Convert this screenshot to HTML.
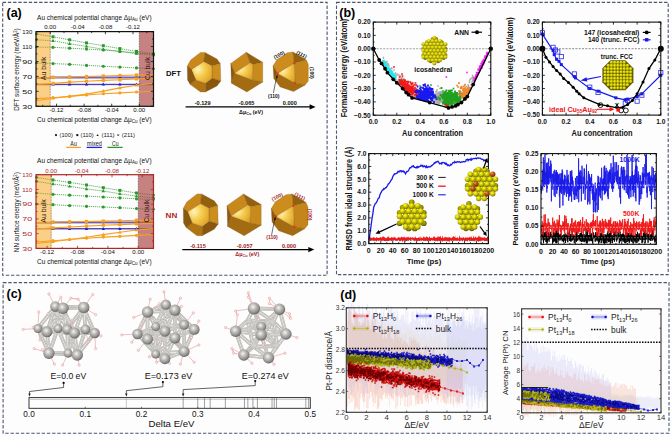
<!DOCTYPE html>
<html><head><meta charset="utf-8"><style>
html,body{margin:0;padding:0;background:#fff;width:672px;height:437px;overflow:hidden}
svg{display:block}
text{font-family:"Liberation Sans",sans-serif}
</style></head><body>
<svg width="672" height="437" viewBox="0 0 672 437">
<defs>
<radialGradient id="gy" cx="0.4" cy="0.35" r="0.72"><stop offset="0" stop-color="#fafa48"/><stop offset="0.35" stop-color="#dcd800"/><stop offset="0.75" stop-color="#a09800"/><stop offset="1" stop-color="#565000"/></radialGradient><radialGradient id="gyd" cx="0.4" cy="0.35" r="0.7"><stop offset="0" stop-color="#c8c000"/><stop offset="0.6" stop-color="#8a8400"/><stop offset="1" stop-color="#4e4800"/></radialGradient>
<radialGradient id="go" cx="0.35" cy="0.3" r="0.75"><stop offset="0" stop-color="#f0a060"/><stop offset="0.4" stop-color="#c85010"/><stop offset="1" stop-color="#602800"/></radialGradient>
<radialGradient id="gg" cx="0.42" cy="0.38" r="0.68"><stop offset="0" stop-color="#f6f6f6"/><stop offset="0.3" stop-color="#c8c6c3"/><stop offset="0.75" stop-color="#8c8a87"/><stop offset="1" stop-color="#4e4c4a"/></radialGradient>
<linearGradient id="gc" x1="0.2" y1="0.1" x2="0.8" y2="0.9"><stop offset="0" stop-color="#fff3b8"/><stop offset="0.5" stop-color="#f6cf60"/><stop offset="1" stop-color="#d9a025"/></linearGradient>
<radialGradient id="gcr" cx="0.3" cy="0.35" r="0.9"><stop offset="0" stop-color="#fff4b8"/><stop offset="0.4" stop-color="#f6cc50"/><stop offset="1" stop-color="#d8981c"/></radialGradient>
<radialGradient id="gys" cx="0.4" cy="0.35" r="0.75"><stop offset="0" stop-color="#f4f030"/><stop offset="0.45" stop-color="#cfc800"/><stop offset="0.85" stop-color="#8a8200"/><stop offset="1" stop-color="#4e4800"/></radialGradient>
</defs>
<rect width="672" height="437" fill="#fdfdfd"/>
<rect x="2.7" y="2.4" width="324.40000000000003" height="272.90000000000003" fill="none" stroke="#4a5672" stroke-width="1.1" stroke-dasharray="3.4 1.8"/><rect x="336.5" y="2.4" width="331.70000000000005" height="272.20000000000005" fill="none" stroke="#4a5672" stroke-width="1.1" stroke-dasharray="3.4 1.8"/><rect x="3.1" y="282.6" width="665.9" height="150.59999999999997" fill="none" stroke="#4a5672" stroke-width="1.1" stroke-dasharray="3.4 1.8"/><text x="6.5" y="17" font-size="12.5" text-anchor="start" fill="#000" font-weight="bold" >(a)</text><text x="339.3" y="16.8" font-size="12.5" text-anchor="start" fill="#000" font-weight="bold" >(b)</text><text x="6.5" y="297.5" font-size="12.5" text-anchor="start" fill="#000" font-weight="bold" >(c)</text><text x="340.3" y="298.6" font-size="12.5" text-anchor="start" fill="#000" font-weight="bold" >(d)</text><rect x="36.00" y="31.60" width="14.20" height="74.70" fill="#fccf86" stroke="none" stroke-width="1" /><rect x="139.30" y="31.60" width="14.20" height="74.70" fill="#c68181" stroke="none" stroke-width="1" /><line x1="50.20" y1="31.60" x2="50.20" y2="106.30" stroke="#6a5020" stroke-width="0.7" stroke-dasharray="0.8 0.8"/><line x1="139.30" y1="31.60" x2="139.30" y2="106.30" stroke="#5a3030" stroke-width="0.7" stroke-dasharray="0.8 0.8"/><polyline points="36.00,33.90 53.00,36.80" stroke="#6a8a20" stroke-width="0.7" fill="none" stroke-dasharray="1 0.8"/><polyline points="53.00,36.80 69.60,39.80 86.50,42.90 103.30,45.70 119.90,48.60 136.50,51.40" stroke="#2f9a2f" stroke-width="0.75" fill="none" stroke-dasharray="1.2 0.8"/><polyline points="136.50,51.40 153.50,53.50" stroke="#705a30" stroke-width="0.7" fill="none" stroke-dasharray="1 0.8"/><rect x="51.50" y="35.30" width="3.00" height="3.00" fill="#2a9a2a" stroke="none" stroke-width="1" /><rect x="68.10" y="38.30" width="3.00" height="3.00" fill="#2a9a2a" stroke="none" stroke-width="1" /><rect x="85.00" y="41.40" width="3.00" height="3.00" fill="#2a9a2a" stroke="none" stroke-width="1" /><rect x="101.80" y="44.20" width="3.00" height="3.00" fill="#2a9a2a" stroke="none" stroke-width="1" /><rect x="118.40" y="47.10" width="3.00" height="3.00" fill="#2a9a2a" stroke="none" stroke-width="1" /><rect x="135.00" y="49.90" width="3.00" height="3.00" fill="#2a9a2a" stroke="none" stroke-width="1" /><circle cx="36.50" cy="33.90" r="1.30" fill="#2a8a2a" /><circle cx="153.50" cy="53.50" r="1.30" fill="#2a8a2a" /><polyline points="36.00,39.80 53.00,40.70" stroke="#6a8a20" stroke-width="0.7" fill="none" stroke-dasharray="1 0.8"/><polyline points="53.00,40.70 69.60,43.75 86.50,46.40 103.30,49.30 119.90,51.40 136.50,53.60" stroke="#2f9a2f" stroke-width="0.75" fill="none" stroke-dasharray="1.2 0.8"/><polyline points="136.50,53.60 153.50,55.20" stroke="#705a30" stroke-width="0.7" fill="none" stroke-dasharray="1 0.8"/><polygon points="53.00,38.80 51.20,41.90 54.80,41.90" fill="#2a9a2a" /><polygon points="69.60,41.85 67.80,44.95 71.40,44.95" fill="#2a9a2a" /><polygon points="86.50,44.50 84.70,47.60 88.30,47.60" fill="#2a9a2a" /><polygon points="103.30,47.40 101.50,50.50 105.10,50.50" fill="#2a9a2a" /><polygon points="119.90,49.50 118.10,52.60 121.70,52.60" fill="#2a9a2a" /><polygon points="136.50,51.70 134.70,54.80 138.30,54.80" fill="#2a9a2a" /><circle cx="36.50" cy="39.80" r="1.30" fill="#2a8a2a" /><circle cx="153.50" cy="55.20" r="1.30" fill="#2a8a2a" /><polyline points="36.00,47.00 53.00,47.30" stroke="#6a8a20" stroke-width="0.7" fill="none" stroke-dasharray="1 0.8"/><polyline points="53.00,47.30 69.60,48.20 86.50,49.10 103.30,50.00 119.90,51.40 136.50,52.90" stroke="#2f9a2f" stroke-width="0.75" fill="none" stroke-dasharray="1.2 0.8"/><polyline points="136.50,52.90 153.50,54.20" stroke="#705a30" stroke-width="0.7" fill="none" stroke-dasharray="1 0.8"/><circle cx="53.00" cy="47.30" r="1.60" fill="#2a9a2a" /><circle cx="69.60" cy="48.20" r="1.60" fill="#2a9a2a" /><circle cx="86.50" cy="49.10" r="1.60" fill="#2a9a2a" /><circle cx="103.30" cy="50.00" r="1.60" fill="#2a9a2a" /><circle cx="119.90" cy="51.40" r="1.60" fill="#2a9a2a" /><circle cx="136.50" cy="52.90" r="1.60" fill="#2a9a2a" /><circle cx="36.50" cy="47.00" r="1.30" fill="#2a8a2a" /><circle cx="153.50" cy="54.20" r="1.30" fill="#2a8a2a" /><polyline points="36.00,63.00 53.00,63.60" stroke="#6a8a20" stroke-width="0.7" fill="none" stroke-dasharray="1 0.8"/><polyline points="53.00,63.60 69.60,64.30 86.50,65.40 103.30,66.25 119.90,67.10 136.50,67.90" stroke="#2f9a2f" stroke-width="0.75" fill="none" stroke-dasharray="1.2 0.8"/><polyline points="136.50,67.90 153.50,68.70" stroke="#705a30" stroke-width="0.7" fill="none" stroke-dasharray="1 0.8"/><circle cx="53.00" cy="63.60" r="1.60" fill="#2a9a2a" /><circle cx="69.60" cy="64.30" r="1.60" fill="#2a9a2a" /><circle cx="86.50" cy="65.40" r="1.60" fill="#2a9a2a" /><circle cx="103.30" cy="66.25" r="1.60" fill="#2a9a2a" /><circle cx="119.90" cy="67.10" r="1.60" fill="#2a9a2a" /><circle cx="136.50" cy="67.90" r="1.60" fill="#2a9a2a" /><circle cx="36.50" cy="63.00" r="1.30" fill="#2a8a2a" /><circle cx="153.50" cy="68.70" r="1.30" fill="#2a8a2a" /><line x1="36.00" y1="78.00" x2="153.50" y2="78.00" stroke="#7a3a5a" stroke-width="0.8" /><line x1="36.00" y1="84.70" x2="153.50" y2="84.70" stroke="#8a4a30" stroke-width="0.8" /><line x1="50.20" y1="77.10" x2="140.30" y2="77.10" stroke="#2020e0" stroke-width="0.9" /><circle cx="53.00" cy="77.10" r="1.40" fill="#1a1ae8" /><circle cx="69.60" cy="77.10" r="1.40" fill="#1a1ae8" /><circle cx="86.50" cy="77.10" r="1.40" fill="#1a1ae8" /><circle cx="103.30" cy="77.10" r="1.40" fill="#1a1ae8" /><circle cx="119.90" cy="77.10" r="1.40" fill="#1a1ae8" /><circle cx="136.50" cy="77.10" r="1.40" fill="#1a1ae8" /><line x1="50.20" y1="84.30" x2="140.30" y2="84.30" stroke="#2020e0" stroke-width="0.9" /><polygon points="53.00,82.50 51.30,85.50 54.70,85.50" fill="#1a1ae8" /><polygon points="69.60,82.50 67.90,85.50 71.30,85.50" fill="#1a1ae8" /><polygon points="86.50,82.50 84.80,85.50 88.20,85.50" fill="#1a1ae8" /><polygon points="103.30,82.50 101.60,85.50 105.00,85.50" fill="#1a1ae8" /><polygon points="119.90,82.50 118.20,85.50 121.60,85.50" fill="#1a1ae8" /><polygon points="136.50,82.50 134.80,85.50 138.20,85.50" fill="#1a1ae8" /><polyline points="36.00,77.90 53.00,77.50 69.60,77.00 86.50,76.50 103.30,76.00 119.90,75.50 136.50,75.00 153.50,74.60" stroke="#f6a020" stroke-width="1.1" fill="none" /><rect x="51.40" y="75.90" width="3.20" height="3.20" fill="#f7a21c" stroke="none" stroke-width="1" /><rect x="68.00" y="75.40" width="3.20" height="3.20" fill="#f7a21c" stroke="none" stroke-width="1" /><rect x="84.90" y="74.90" width="3.20" height="3.20" fill="#f7a21c" stroke="none" stroke-width="1" /><rect x="101.70" y="74.40" width="3.20" height="3.20" fill="#f7a21c" stroke="none" stroke-width="1" /><rect x="118.30" y="73.90" width="3.20" height="3.20" fill="#f7a21c" stroke="none" stroke-width="1" /><rect x="134.90" y="73.40" width="3.20" height="3.20" fill="#f7a21c" stroke="none" stroke-width="1" /><polyline points="36.00,84.30 53.00,83.40 69.60,82.10 86.50,81.25 103.30,80.40 119.90,79.80 136.50,78.90 153.50,78.30" stroke="#f6a020" stroke-width="1.1" fill="none" /><rect x="51.40" y="81.80" width="3.20" height="3.20" fill="#f7a21c" stroke="none" stroke-width="1" /><rect x="68.00" y="80.50" width="3.20" height="3.20" fill="#f7a21c" stroke="none" stroke-width="1" /><rect x="84.90" y="79.65" width="3.20" height="3.20" fill="#f7a21c" stroke="none" stroke-width="1" /><rect x="101.70" y="78.80" width="3.20" height="3.20" fill="#f7a21c" stroke="none" stroke-width="1" /><rect x="118.30" y="78.20" width="3.20" height="3.20" fill="#f7a21c" stroke="none" stroke-width="1" /><rect x="134.90" y="77.30" width="3.20" height="3.20" fill="#f7a21c" stroke="none" stroke-width="1" /><polyline points="36.00,100.70 53.00,98.20 69.60,96.40 86.50,94.10 103.30,91.10 119.90,87.90 136.50,85.20 153.50,83.30" stroke="#f6a020" stroke-width="1.1" fill="none" /><polygon points="53.00,96.20 51.10,99.50 54.90,99.50" fill="#f7a21c" /><polygon points="69.60,94.40 67.70,97.70 71.50,97.70" fill="#f7a21c" /><polygon points="86.50,92.10 84.60,95.40 88.40,95.40" fill="#f7a21c" /><polygon points="103.30,89.10 101.40,92.40 105.20,92.40" fill="#f7a21c" /><polygon points="119.90,85.90 118.00,89.20 121.80,89.20" fill="#f7a21c" /><polygon points="136.50,83.20 134.60,86.50 138.40,86.50" fill="#f7a21c" /><polyline points="36.00,98.60 53.00,97.70 69.60,96.40 86.50,95.00 103.30,93.75 119.90,92.90 136.50,92.00 153.50,91.30" stroke="#f6a020" stroke-width="1.1" fill="none" /><circle cx="53.00" cy="97.70" r="1.60" fill="#f7a21c" /><circle cx="69.60" cy="96.40" r="1.60" fill="#f7a21c" /><circle cx="86.50" cy="95.00" r="1.60" fill="#f7a21c" /><circle cx="103.30" cy="93.75" r="1.60" fill="#f7a21c" /><circle cx="119.90" cy="92.90" r="1.60" fill="#f7a21c" /><circle cx="136.50" cy="92.00" r="1.60" fill="#f7a21c" /><text x="45.8" y="68.45" font-size="7.4" text-anchor="middle" fill="#2a2010" transform="rotate(-90 45.8 68.45)" textLength="23.4" lengthAdjust="spacingAndGlyphs" >Au bulk</text><text x="149.70000000000002" y="68.45" font-size="7.4" text-anchor="middle" fill="#2a1010" transform="rotate(-90 149.70000000000002 68.45)" textLength="23.0" lengthAdjust="spacingAndGlyphs" >Cu bulk</text><rect x="36.00" y="31.60" width="117.50" height="74.70" fill="none" stroke="#111" stroke-width="1.2" /><line x1="36.00" y1="106.30" x2="38.60" y2="106.30" stroke="#111" stroke-width="0.8" /><line x1="153.50" y1="106.30" x2="150.90" y2="106.30" stroke="#111" stroke-width="0.8" /><text x="32.2" y="108.49999999999999" font-size="6.1" text-anchor="end" fill="#111" textLength="9.9" lengthAdjust="spacingAndGlyphs" >30</text><line x1="36.00" y1="98.83" x2="37.50" y2="98.83" stroke="#111" stroke-width="0.8" /><line x1="153.50" y1="98.83" x2="152.00" y2="98.83" stroke="#111" stroke-width="0.8" /><line x1="36.00" y1="91.36" x2="38.60" y2="91.36" stroke="#111" stroke-width="0.8" /><line x1="153.50" y1="91.36" x2="150.90" y2="91.36" stroke="#111" stroke-width="0.8" /><text x="32.2" y="93.55999999999999" font-size="6.1" text-anchor="end" fill="#111" textLength="9.9" lengthAdjust="spacingAndGlyphs" >50</text><line x1="36.00" y1="83.89" x2="37.50" y2="83.89" stroke="#111" stroke-width="0.8" /><line x1="153.50" y1="83.89" x2="152.00" y2="83.89" stroke="#111" stroke-width="0.8" /><line x1="36.00" y1="76.42" x2="38.60" y2="76.42" stroke="#111" stroke-width="0.8" /><line x1="153.50" y1="76.42" x2="150.90" y2="76.42" stroke="#111" stroke-width="0.8" /><text x="32.2" y="78.61999999999999" font-size="6.1" text-anchor="end" fill="#111" textLength="9.9" lengthAdjust="spacingAndGlyphs" >70</text><line x1="36.00" y1="68.95" x2="37.50" y2="68.95" stroke="#111" stroke-width="0.8" /><line x1="153.50" y1="68.95" x2="152.00" y2="68.95" stroke="#111" stroke-width="0.8" /><line x1="36.00" y1="61.48" x2="38.60" y2="61.48" stroke="#111" stroke-width="0.8" /><line x1="153.50" y1="61.48" x2="150.90" y2="61.48" stroke="#111" stroke-width="0.8" /><text x="32.2" y="63.68" font-size="6.1" text-anchor="end" fill="#111" textLength="9.9" lengthAdjust="spacingAndGlyphs" >90</text><line x1="36.00" y1="54.01" x2="37.50" y2="54.01" stroke="#111" stroke-width="0.8" /><line x1="153.50" y1="54.01" x2="152.00" y2="54.01" stroke="#111" stroke-width="0.8" /><line x1="36.00" y1="46.54" x2="38.60" y2="46.54" stroke="#111" stroke-width="0.8" /><line x1="153.50" y1="46.54" x2="150.90" y2="46.54" stroke="#111" stroke-width="0.8" /><text x="32.2" y="48.74" font-size="6.1" text-anchor="end" fill="#111" textLength="9.9" lengthAdjust="spacingAndGlyphs" >110</text><line x1="36.00" y1="39.07" x2="37.50" y2="39.07" stroke="#111" stroke-width="0.8" /><line x1="153.50" y1="39.07" x2="152.00" y2="39.07" stroke="#111" stroke-width="0.8" /><line x1="36.00" y1="31.60" x2="38.60" y2="31.60" stroke="#111" stroke-width="0.8" /><line x1="153.50" y1="31.60" x2="150.90" y2="31.60" stroke="#111" stroke-width="0.8" /><text x="32.2" y="33.800000000000004" font-size="6.1" text-anchor="end" fill="#111" textLength="9.9" lengthAdjust="spacingAndGlyphs" >130</text><line x1="50.20" y1="31.60" x2="50.20" y2="34.20" stroke="#111" stroke-width="0.8" /><text x="50.2" y="29.400000000000002" font-size="6.1" text-anchor="middle" fill="#111" >0.00</text><line x1="64.00" y1="31.60" x2="64.00" y2="33.10" stroke="#111" stroke-width="0.8" /><line x1="77.80" y1="31.60" x2="77.80" y2="34.20" stroke="#111" stroke-width="0.8" /><text x="77.80000000000001" y="29.400000000000002" font-size="6.1" text-anchor="middle" fill="#111" >-0.04</text><line x1="91.60" y1="31.60" x2="91.60" y2="33.10" stroke="#111" stroke-width="0.8" /><line x1="105.40" y1="31.60" x2="105.40" y2="34.20" stroke="#111" stroke-width="0.8" /><text x="105.4" y="29.400000000000002" font-size="6.1" text-anchor="middle" fill="#111" >-0.08</text><line x1="119.20" y1="31.60" x2="119.20" y2="33.10" stroke="#111" stroke-width="0.8" /><line x1="133.00" y1="31.60" x2="133.00" y2="34.20" stroke="#111" stroke-width="0.8" /><text x="133.0" y="29.400000000000002" font-size="6.1" text-anchor="middle" fill="#111" >-0.12</text><line x1="146.80" y1="31.60" x2="146.80" y2="33.10" stroke="#111" stroke-width="0.8" /><line x1="139.30" y1="106.30" x2="139.30" y2="103.70" stroke="#111" stroke-width="0.8" /><text x="139.3" y="111.8" font-size="6.1" text-anchor="middle" fill="#111" >0.00</text><line x1="125.50" y1="106.30" x2="125.50" y2="104.80" stroke="#111" stroke-width="0.8" /><line x1="111.70" y1="106.30" x2="111.70" y2="103.70" stroke="#111" stroke-width="0.8" /><text x="111.70000000000002" y="111.8" font-size="6.1" text-anchor="middle" fill="#111" >-0.04</text><line x1="97.90" y1="106.30" x2="97.90" y2="104.80" stroke="#111" stroke-width="0.8" /><line x1="84.10" y1="106.30" x2="84.10" y2="103.70" stroke="#111" stroke-width="0.8" /><text x="84.10000000000001" y="111.8" font-size="6.1" text-anchor="middle" fill="#111" >-0.08</text><line x1="70.30" y1="106.30" x2="70.30" y2="104.80" stroke="#111" stroke-width="0.8" /><line x1="56.50" y1="106.30" x2="56.50" y2="103.70" stroke="#111" stroke-width="0.8" /><text x="56.5" y="111.8" font-size="6.1" text-anchor="middle" fill="#111" >-0.12</text><line x1="42.70" y1="106.30" x2="42.70" y2="104.80" stroke="#111" stroke-width="0.8" /><text x="37.1" y="19.6" font-size="6.6" text-anchor="start" fill="#111" textLength="114.5" lengthAdjust="spacingAndGlyphs" >Au chemical potential change &#916;&#956;<tspan font-size="4.6" dy="1.4">Au</tspan><tspan dy="-1.4"> (eV)</tspan></text><text x="37.1" y="121.89999999999999" font-size="6.6" text-anchor="start" fill="#111" textLength="114.5" lengthAdjust="spacingAndGlyphs" >Cu chemical potential change &#916;&#956;<tspan font-size="4.6" dy="1.4">Cu</tspan><tspan dy="-1.4"> (eV)</tspan></text><text x="18.8" y="69.55" font-size="6.7" text-anchor="middle" fill="#111" transform="rotate(-90 18.8 69.55)" textLength="82.5" lengthAdjust="spacingAndGlyphs" >DFT surface energy (meV/&#197;<tspan font-size="4.5" dy="-2">2</tspan><tspan dy="2">)</tspan></text><rect x="36.00" y="174.70" width="15.20" height="73.70" fill="#fccf86" stroke="none" stroke-width="1" /><rect x="138.30" y="174.70" width="15.20" height="73.70" fill="#c68181" stroke="none" stroke-width="1" /><line x1="51.20" y1="174.70" x2="51.20" y2="248.40" stroke="#6a5020" stroke-width="0.7" stroke-dasharray="0.8 0.8"/><line x1="138.30" y1="174.70" x2="138.30" y2="248.40" stroke="#5a3030" stroke-width="0.7" stroke-dasharray="0.8 0.8"/><polyline points="36.00,177.40 53.00,180.00" stroke="#6a8a20" stroke-width="0.7" fill="none" stroke-dasharray="1 0.8"/><polyline points="53.00,180.00 69.60,182.40 86.50,185.00 103.30,187.70 119.90,190.40 136.50,193.00" stroke="#2f9a2f" stroke-width="0.75" fill="none" stroke-dasharray="1.2 0.8"/><polyline points="136.50,193.00 153.50,195.00" stroke="#705a30" stroke-width="0.7" fill="none" stroke-dasharray="1 0.8"/><rect x="51.50" y="178.50" width="3.00" height="3.00" fill="#2a9a2a" stroke="none" stroke-width="1" /><rect x="68.10" y="180.90" width="3.00" height="3.00" fill="#2a9a2a" stroke="none" stroke-width="1" /><rect x="85.00" y="183.50" width="3.00" height="3.00" fill="#2a9a2a" stroke="none" stroke-width="1" /><rect x="101.80" y="186.20" width="3.00" height="3.00" fill="#2a9a2a" stroke="none" stroke-width="1" /><rect x="118.40" y="188.90" width="3.00" height="3.00" fill="#2a9a2a" stroke="none" stroke-width="1" /><rect x="135.00" y="191.50" width="3.00" height="3.00" fill="#2a9a2a" stroke="none" stroke-width="1" /><circle cx="36.50" cy="177.40" r="1.30" fill="#2a8a2a" /><circle cx="153.50" cy="195.00" r="1.30" fill="#2a8a2a" /><polyline points="36.00,181.30 53.00,184.00" stroke="#6a8a20" stroke-width="0.7" fill="none" stroke-dasharray="1 0.8"/><polyline points="53.00,184.00 69.60,186.30 86.50,189.00 103.30,191.00 119.90,193.80 136.50,196.10" stroke="#2f9a2f" stroke-width="0.75" fill="none" stroke-dasharray="1.2 0.8"/><polyline points="136.50,196.10 153.50,198.00" stroke="#705a30" stroke-width="0.7" fill="none" stroke-dasharray="1 0.8"/><polygon points="53.00,182.10 51.20,185.20 54.80,185.20" fill="#2a9a2a" /><polygon points="69.60,184.40 67.80,187.50 71.40,187.50" fill="#2a9a2a" /><polygon points="86.50,187.10 84.70,190.20 88.30,190.20" fill="#2a9a2a" /><polygon points="103.30,189.10 101.50,192.20 105.10,192.20" fill="#2a9a2a" /><polygon points="119.90,191.90 118.10,195.00 121.70,195.00" fill="#2a9a2a" /><polygon points="136.50,194.20 134.70,197.30 138.30,197.30" fill="#2a9a2a" /><circle cx="36.50" cy="181.30" r="1.30" fill="#2a8a2a" /><circle cx="153.50" cy="198.00" r="1.30" fill="#2a8a2a" /><polyline points="36.00,193.00 53.00,194.30" stroke="#6a8a20" stroke-width="0.7" fill="none" stroke-dasharray="1 0.8"/><polyline points="53.00,194.30 69.60,195.20 86.50,196.10 103.30,197.00 119.90,197.90 136.50,198.80" stroke="#2f9a2f" stroke-width="0.75" fill="none" stroke-dasharray="1.2 0.8"/><polyline points="136.50,198.80 153.50,199.60" stroke="#705a30" stroke-width="0.7" fill="none" stroke-dasharray="1 0.8"/><circle cx="53.00" cy="194.30" r="1.60" fill="#2a9a2a" /><circle cx="69.60" cy="195.20" r="1.60" fill="#2a9a2a" /><circle cx="86.50" cy="196.10" r="1.60" fill="#2a9a2a" /><circle cx="103.30" cy="197.00" r="1.60" fill="#2a9a2a" /><circle cx="119.90" cy="197.90" r="1.60" fill="#2a9a2a" /><circle cx="136.50" cy="198.80" r="1.60" fill="#2a9a2a" /><circle cx="36.50" cy="193.00" r="1.30" fill="#2a8a2a" /><circle cx="153.50" cy="199.60" r="1.30" fill="#2a8a2a" /><polyline points="36.00,204.10 53.00,204.70" stroke="#6a8a20" stroke-width="0.7" fill="none" stroke-dasharray="1 0.8"/><polyline points="53.00,204.70 69.60,205.60 86.50,206.30 103.30,207.00 119.90,207.70 136.50,208.60" stroke="#2f9a2f" stroke-width="0.75" fill="none" stroke-dasharray="1.2 0.8"/><polyline points="136.50,208.60 153.50,209.20" stroke="#705a30" stroke-width="0.7" fill="none" stroke-dasharray="1 0.8"/><circle cx="53.00" cy="204.70" r="1.60" fill="#2a9a2a" /><circle cx="69.60" cy="205.60" r="1.60" fill="#2a9a2a" /><circle cx="86.50" cy="206.30" r="1.60" fill="#2a9a2a" /><circle cx="103.30" cy="207.00" r="1.60" fill="#2a9a2a" /><circle cx="119.90" cy="207.70" r="1.60" fill="#2a9a2a" /><circle cx="136.50" cy="208.60" r="1.60" fill="#2a9a2a" /><circle cx="36.50" cy="204.10" r="1.30" fill="#2a8a2a" /><circle cx="153.50" cy="209.20" r="1.30" fill="#2a8a2a" /><line x1="36.00" y1="222.90" x2="153.50" y2="222.90" stroke="#7a3a5a" stroke-width="0.8" /><line x1="36.00" y1="228.80" x2="153.50" y2="228.80" stroke="#8a4a30" stroke-width="0.8" /><line x1="51.20" y1="222.10" x2="139.30" y2="222.10" stroke="#2020e0" stroke-width="0.9" /><circle cx="53.00" cy="222.10" r="1.40" fill="#1a1ae8" /><circle cx="69.60" cy="222.10" r="1.40" fill="#1a1ae8" /><circle cx="86.50" cy="222.10" r="1.40" fill="#1a1ae8" /><circle cx="103.30" cy="222.10" r="1.40" fill="#1a1ae8" /><circle cx="119.90" cy="222.10" r="1.40" fill="#1a1ae8" /><circle cx="136.50" cy="222.10" r="1.40" fill="#1a1ae8" /><line x1="51.20" y1="228.75" x2="139.30" y2="228.75" stroke="#2020e0" stroke-width="0.9" /><polygon points="53.00,226.95 51.30,229.95 54.70,229.95" fill="#1a1ae8" /><polygon points="69.60,226.95 67.90,229.95 71.30,229.95" fill="#1a1ae8" /><polygon points="86.50,226.95 84.80,229.95 88.20,229.95" fill="#1a1ae8" /><polygon points="103.30,226.95 101.60,229.95 105.00,229.95" fill="#1a1ae8" /><polygon points="119.90,226.95 118.20,229.95 121.60,229.95" fill="#1a1ae8" /><polygon points="136.50,226.95 134.80,229.95 138.20,229.95" fill="#1a1ae8" /><polyline points="36.00,222.60 53.00,222.10 69.60,221.80 86.50,221.50 103.30,221.10 119.90,220.70 136.50,220.20 153.50,219.90" stroke="#f6a020" stroke-width="1.1" fill="none" /><rect x="51.40" y="220.50" width="3.20" height="3.20" fill="#f7a21c" stroke="none" stroke-width="1" /><rect x="68.00" y="220.20" width="3.20" height="3.20" fill="#f7a21c" stroke="none" stroke-width="1" /><rect x="84.90" y="219.90" width="3.20" height="3.20" fill="#f7a21c" stroke="none" stroke-width="1" /><rect x="101.70" y="219.50" width="3.20" height="3.20" fill="#f7a21c" stroke="none" stroke-width="1" /><rect x="118.30" y="219.10" width="3.20" height="3.20" fill="#f7a21c" stroke="none" stroke-width="1" /><rect x="134.90" y="218.60" width="3.20" height="3.20" fill="#f7a21c" stroke="none" stroke-width="1" /><polyline points="36.00,229.00 53.00,227.90 69.60,227.00 86.50,226.10 103.30,225.20 119.90,224.60 136.50,223.90 153.50,223.40" stroke="#f6a020" stroke-width="1.1" fill="none" /><rect x="51.40" y="226.30" width="3.20" height="3.20" fill="#f7a21c" stroke="none" stroke-width="1" /><rect x="68.00" y="225.40" width="3.20" height="3.20" fill="#f7a21c" stroke="none" stroke-width="1" /><rect x="84.90" y="224.50" width="3.20" height="3.20" fill="#f7a21c" stroke="none" stroke-width="1" /><rect x="101.70" y="223.60" width="3.20" height="3.20" fill="#f7a21c" stroke="none" stroke-width="1" /><rect x="118.30" y="223.00" width="3.20" height="3.20" fill="#f7a21c" stroke="none" stroke-width="1" /><rect x="134.90" y="222.30" width="3.20" height="3.20" fill="#f7a21c" stroke="none" stroke-width="1" /><polyline points="36.00,243.50 53.00,241.80 69.60,239.50 86.50,237.30 103.30,234.60 119.90,232.30 136.50,230.00 153.50,228.60" stroke="#f6a020" stroke-width="1.1" fill="none" /><polygon points="53.00,239.80 51.10,243.10 54.90,243.10" fill="#f7a21c" /><polygon points="69.60,237.50 67.70,240.80 71.50,240.80" fill="#f7a21c" /><polygon points="86.50,235.30 84.60,238.60 88.40,238.60" fill="#f7a21c" /><polygon points="103.30,232.60 101.40,235.90 105.20,235.90" fill="#f7a21c" /><polygon points="119.90,230.30 118.00,233.60 121.80,233.60" fill="#f7a21c" /><polygon points="136.50,228.00 134.60,231.30 138.40,231.30" fill="#f7a21c" /><polyline points="36.00,242.00 53.00,240.70 69.60,239.50 86.50,238.20 103.30,237.10 119.90,236.40 136.50,235.40 153.50,234.60" stroke="#f6a020" stroke-width="1.1" fill="none" /><circle cx="53.00" cy="240.70" r="1.60" fill="#f7a21c" /><circle cx="69.60" cy="239.50" r="1.60" fill="#f7a21c" /><circle cx="86.50" cy="238.20" r="1.60" fill="#f7a21c" /><circle cx="103.30" cy="237.10" r="1.60" fill="#f7a21c" /><circle cx="119.90" cy="236.40" r="1.60" fill="#f7a21c" /><circle cx="136.50" cy="235.40" r="1.60" fill="#f7a21c" /><text x="45.8" y="211.05" font-size="7.4" text-anchor="middle" fill="#2a2010" transform="rotate(-90 45.8 211.05)" textLength="23.4" lengthAdjust="spacingAndGlyphs" >Au bulk</text><text x="148.70000000000002" y="211.05" font-size="7.4" text-anchor="middle" fill="#2a1010" transform="rotate(-90 148.70000000000002 211.05)" textLength="23.0" lengthAdjust="spacingAndGlyphs" >Cu bulk</text><rect x="36.00" y="174.70" width="117.50" height="73.70" fill="none" stroke="#a82828" stroke-width="1.2" /><line x1="36.00" y1="248.40" x2="38.60" y2="248.40" stroke="#a82828" stroke-width="0.8" /><line x1="153.50" y1="248.40" x2="150.90" y2="248.40" stroke="#a82828" stroke-width="0.8" /><text x="32.2" y="250.6" font-size="6.1" text-anchor="end" fill="#b02a2a" textLength="9.9" lengthAdjust="spacingAndGlyphs" >30</text><line x1="36.00" y1="241.03" x2="37.50" y2="241.03" stroke="#a82828" stroke-width="0.8" /><line x1="153.50" y1="241.03" x2="152.00" y2="241.03" stroke="#a82828" stroke-width="0.8" /><line x1="36.00" y1="233.66" x2="38.60" y2="233.66" stroke="#a82828" stroke-width="0.8" /><line x1="153.50" y1="233.66" x2="150.90" y2="233.66" stroke="#a82828" stroke-width="0.8" /><text x="32.2" y="235.85999999999999" font-size="6.1" text-anchor="end" fill="#b02a2a" textLength="9.9" lengthAdjust="spacingAndGlyphs" >50</text><line x1="36.00" y1="226.29" x2="37.50" y2="226.29" stroke="#a82828" stroke-width="0.8" /><line x1="153.50" y1="226.29" x2="152.00" y2="226.29" stroke="#a82828" stroke-width="0.8" /><line x1="36.00" y1="218.92" x2="38.60" y2="218.92" stroke="#a82828" stroke-width="0.8" /><line x1="153.50" y1="218.92" x2="150.90" y2="218.92" stroke="#a82828" stroke-width="0.8" /><text x="32.2" y="221.12" font-size="6.1" text-anchor="end" fill="#b02a2a" textLength="9.9" lengthAdjust="spacingAndGlyphs" >70</text><line x1="36.00" y1="211.55" x2="37.50" y2="211.55" stroke="#a82828" stroke-width="0.8" /><line x1="153.50" y1="211.55" x2="152.00" y2="211.55" stroke="#a82828" stroke-width="0.8" /><line x1="36.00" y1="204.18" x2="38.60" y2="204.18" stroke="#a82828" stroke-width="0.8" /><line x1="153.50" y1="204.18" x2="150.90" y2="204.18" stroke="#a82828" stroke-width="0.8" /><text x="32.2" y="206.38" font-size="6.1" text-anchor="end" fill="#b02a2a" textLength="9.9" lengthAdjust="spacingAndGlyphs" >90</text><line x1="36.00" y1="196.81" x2="37.50" y2="196.81" stroke="#a82828" stroke-width="0.8" /><line x1="153.50" y1="196.81" x2="152.00" y2="196.81" stroke="#a82828" stroke-width="0.8" /><line x1="36.00" y1="189.44" x2="38.60" y2="189.44" stroke="#a82828" stroke-width="0.8" /><line x1="153.50" y1="189.44" x2="150.90" y2="189.44" stroke="#a82828" stroke-width="0.8" /><text x="32.2" y="191.64" font-size="6.1" text-anchor="end" fill="#b02a2a" textLength="9.9" lengthAdjust="spacingAndGlyphs" >110</text><line x1="36.00" y1="182.07" x2="37.50" y2="182.07" stroke="#a82828" stroke-width="0.8" /><line x1="153.50" y1="182.07" x2="152.00" y2="182.07" stroke="#a82828" stroke-width="0.8" /><line x1="36.00" y1="174.70" x2="38.60" y2="174.70" stroke="#a82828" stroke-width="0.8" /><line x1="153.50" y1="174.70" x2="150.90" y2="174.70" stroke="#a82828" stroke-width="0.8" /><text x="32.2" y="176.89999999999998" font-size="6.1" text-anchor="end" fill="#b02a2a" textLength="9.9" lengthAdjust="spacingAndGlyphs" >130</text><line x1="51.20" y1="174.70" x2="51.20" y2="177.30" stroke="#a82828" stroke-width="0.8" /><text x="51.2" y="172.5" font-size="6.1" text-anchor="middle" fill="#b02a2a" >0.00</text><line x1="66.40" y1="174.70" x2="66.40" y2="176.20" stroke="#a82828" stroke-width="0.8" /><line x1="81.60" y1="174.70" x2="81.60" y2="177.30" stroke="#a82828" stroke-width="0.8" /><text x="81.6" y="172.5" font-size="6.1" text-anchor="middle" fill="#b02a2a" >-0.04</text><line x1="96.80" y1="174.70" x2="96.80" y2="176.20" stroke="#a82828" stroke-width="0.8" /><line x1="112.00" y1="174.70" x2="112.00" y2="177.30" stroke="#a82828" stroke-width="0.8" /><text x="112.0" y="172.5" font-size="6.1" text-anchor="middle" fill="#b02a2a" >-0.08</text><line x1="127.20" y1="174.70" x2="127.20" y2="176.20" stroke="#a82828" stroke-width="0.8" /><line x1="142.40" y1="174.70" x2="142.40" y2="177.30" stroke="#a82828" stroke-width="0.8" /><text x="142.39999999999998" y="172.5" font-size="6.1" text-anchor="middle" fill="#b02a2a" >-0.12</text><line x1="138.30" y1="248.40" x2="138.30" y2="245.80" stroke="#a82828" stroke-width="0.8" /><text x="138.3" y="253.9" font-size="6.1" text-anchor="middle" fill="#111" >0.00</text><line x1="123.10" y1="248.40" x2="123.10" y2="246.90" stroke="#a82828" stroke-width="0.8" /><line x1="107.90" y1="248.40" x2="107.90" y2="245.80" stroke="#a82828" stroke-width="0.8" /><text x="107.9" y="253.9" font-size="6.1" text-anchor="middle" fill="#111" >-0.04</text><line x1="92.70" y1="248.40" x2="92.70" y2="246.90" stroke="#a82828" stroke-width="0.8" /><line x1="77.50" y1="248.40" x2="77.50" y2="245.80" stroke="#a82828" stroke-width="0.8" /><text x="77.50000000000001" y="253.9" font-size="6.1" text-anchor="middle" fill="#111" >-0.08</text><line x1="62.30" y1="248.40" x2="62.30" y2="246.90" stroke="#a82828" stroke-width="0.8" /><line x1="47.10" y1="248.40" x2="47.10" y2="245.80" stroke="#a82828" stroke-width="0.8" /><text x="47.10000000000002" y="253.9" font-size="6.1" text-anchor="middle" fill="#111" >-0.12</text><text x="37.1" y="162.7" font-size="6.6" text-anchor="start" fill="#111" textLength="114.5" lengthAdjust="spacingAndGlyphs" >Au chemical potential change &#916;&#956;<tspan font-size="4.6" dy="1.4">Au</tspan><tspan dy="-1.4"> (eV)</tspan></text><text x="37.1" y="264.0" font-size="6.6" text-anchor="start" fill="#111" textLength="114.5" lengthAdjust="spacingAndGlyphs" >Cu chemical potential change &#916;&#956;<tspan font-size="4.6" dy="1.4">Cu</tspan><tspan dy="-1.4"> (eV)</tspan></text><text x="18.8" y="212.15" font-size="6.7" text-anchor="middle" fill="#111" transform="rotate(-90 18.8 212.15)" textLength="80" lengthAdjust="spacingAndGlyphs" >NN surface energy (meV/&#197;<tspan font-size="4.5" dy="-2">2</tspan><tspan dy="2">)</tspan></text><text x="59.6" y="137.3" font-size="6.2" text-anchor="start" fill="#222" textLength="13.2" lengthAdjust="spacingAndGlyphs" >(100)</text><text x="80.6" y="137.3" font-size="6.2" text-anchor="start" fill="#222" textLength="13.2" lengthAdjust="spacingAndGlyphs" >(110)</text><text x="101.4" y="137.3" font-size="6.2" text-anchor="start" fill="#222" textLength="13.2" lengthAdjust="spacingAndGlyphs" >(111)</text><text x="121.8" y="137.3" font-size="6.2" text-anchor="start" fill="#222" textLength="13.2" lengthAdjust="spacingAndGlyphs" >(211)</text><circle cx="56.00" cy="135.10" r="1.10" fill="#111" /><rect x="76.30" y="134.10" width="2.00" height="2.00" fill="#111" stroke="none" stroke-width="1" /><polygon points="97.60,133.90 96.50,135.90 98.70,135.90" fill="#111" /><line x1="117.30" y1="134.20" x2="119.10" y2="136.00" stroke="#111" stroke-width="0.6" /><line x1="117.30" y1="136.00" x2="119.10" y2="134.20" stroke="#111" stroke-width="0.6" /><text x="70.3" y="146.2" font-size="6.4" text-anchor="start" fill="#222" textLength="6.6" lengthAdjust="spacingAndGlyphs" >Au</text><text x="87.1" y="146.2" font-size="6.4" text-anchor="start" fill="#222" textLength="14.8" lengthAdjust="spacingAndGlyphs" >mixed</text><text x="112" y="146.2" font-size="6.4" text-anchor="start" fill="#222" textLength="6.6" lengthAdjust="spacingAndGlyphs" >Cu</text><line x1="66.20" y1="147.40" x2="80.90" y2="147.40" stroke="#f6a020" stroke-width="1.3" /><line x1="86.60" y1="147.40" x2="101.90" y2="147.40" stroke="#2020e0" stroke-width="1.3" /><line x1="107.40" y1="147.40" x2="122.60" y2="147.40" stroke="#2a9a2a" stroke-width="1.3" /><polygon points="187.30,66.10 190.60,60.10 200.50,52.40 204.90,52.40 203.80,61.70 191.70,69.40" fill="#c8881c" stroke="#7a5010" stroke-width="0.25" stroke-linejoin="round"/><polygon points="204.90,52.40 217.00,59.00 220.30,63.40 212.00,66.10 203.80,61.70" fill="#93600e" stroke="#7a5010" stroke-width="0.25" stroke-linejoin="round"/><polygon points="220.30,63.40 220.80,81.00 212.00,78.20 212.00,66.10" fill="#cc8e1c" stroke="#7a5010" stroke-width="0.25" stroke-linejoin="round"/><polygon points="220.80,81.00 217.00,85.90 205.40,92.00 205.40,83.20 212.00,78.20" fill="#88560e" stroke="#7a5010" stroke-width="0.25" stroke-linejoin="round"/><polygon points="205.40,92.00 200.50,92.00 190.00,84.30 196.10,79.90 205.40,83.20" fill="#b07414" stroke="#7a5010" stroke-width="0.25" stroke-linejoin="round"/><polygon points="190.00,84.30 187.50,79.90 187.30,66.10 191.70,69.40 196.10,79.90" fill="#8a5810" stroke="#7a5010" stroke-width="0.25" stroke-linejoin="round"/><polygon points="203.80,61.70 212.00,66.10 212.00,78.20 205.40,83.20 196.10,79.90 191.70,69.40" fill="url(#gcr)" stroke="#7a5010" stroke-width="0.25" stroke-linejoin="round"/><polygon points="230.80,63.40 246.20,52.20 250.10,62.80 234.70,73.30" fill="#c8881c" stroke="#7a5010" stroke-width="0.25" stroke-linejoin="round"/><polygon points="246.20,52.20 262.70,62.30 252.80,64.50 250.10,62.80" fill="#93600e" stroke="#7a5010" stroke-width="0.25" stroke-linejoin="round"/><polygon points="252.80,64.50 262.70,62.30 262.70,82.10 252.30,79.90" fill="#c88a1a" stroke="#7a5010" stroke-width="0.25" stroke-linejoin="round"/><polygon points="252.30,79.90 262.70,82.10 246.80,92.00 231.40,83.20 234.70,73.30" fill="#a46c12" stroke="#7a5010" stroke-width="0.25" stroke-linejoin="round"/><polygon points="230.80,63.40 234.70,73.30 231.40,83.20" fill="#8a5810" stroke="#7a5010" stroke-width="0.25" stroke-linejoin="round"/><polygon points="250.10,62.80 252.80,64.50 252.30,79.90 234.70,73.30" fill="url(#gcr)" stroke="#7a5010" stroke-width="0.25" stroke-linejoin="round"/><polygon points="273.10,65.80 277.00,59.40 287.20,52.70 293.00,51.90 294.20,63.20 277.60,73.40" fill="#cc8c1e" stroke="#7a5010" stroke-width="0.25" stroke-linejoin="round"/><polygon points="293.00,51.90 306.40,60.00 294.20,63.20" fill="#93600e" stroke="#7a5010" stroke-width="0.25" stroke-linejoin="round"/><polygon points="294.20,63.20 306.40,60.00 308.30,64.50 308.30,81.10 305.10,85.00 294.90,83.00" fill="#c4861a" stroke="#7a5010" stroke-width="0.25" stroke-linejoin="round"/><polygon points="277.60,73.40 294.90,83.00 305.10,85.00 293.60,91.60 280.20,86.90 273.80,78.60" fill="#a46c12" stroke="#7a5010" stroke-width="0.25" stroke-linejoin="round"/><polygon points="273.10,65.80 277.60,73.40 273.80,78.60" fill="#8a5810" stroke="#7a5010" stroke-width="0.25" stroke-linejoin="round"/><polygon points="294.20,63.20 294.90,83.00 277.60,73.40" fill="url(#gcr)" stroke="#7a5010" stroke-width="0.25" stroke-linejoin="round"/><circle cx="294.20" cy="63.20" r="1.20" fill="#e83a1a" /><circle cx="294.90" cy="83.00" r="1.20" fill="#e83a1a" /><circle cx="277.60" cy="73.40" r="1.20" fill="#e83a1a" /><polygon points="183.30,208.36 186.74,202.03 197.05,193.90 201.64,193.90 200.49,203.72 187.88,211.84" fill="#c8881c" stroke="#7a5010" stroke-width="0.25" stroke-linejoin="round"/><polygon points="201.64,193.90 214.24,200.87 217.68,205.51 209.03,208.36 200.49,203.72" fill="#93600e" stroke="#7a5010" stroke-width="0.25" stroke-linejoin="round"/><polygon points="217.68,205.51 218.20,224.09 209.03,221.13 209.03,208.36" fill="#cc8e1c" stroke="#7a5010" stroke-width="0.25" stroke-linejoin="round"/><polygon points="218.20,224.09 214.24,229.26 202.16,235.70 202.16,226.41 209.03,221.13" fill="#88560e" stroke="#7a5010" stroke-width="0.25" stroke-linejoin="round"/><polygon points="202.16,235.70 197.05,235.70 186.11,227.57 192.47,222.93 202.16,226.41" fill="#b07414" stroke="#7a5010" stroke-width="0.25" stroke-linejoin="round"/><polygon points="186.11,227.57 183.51,222.93 183.30,208.36 187.88,211.84 192.47,222.93" fill="#8a5810" stroke="#7a5010" stroke-width="0.25" stroke-linejoin="round"/><polygon points="200.49,203.72 209.03,208.36 209.03,221.13 202.16,226.41 192.47,222.93 187.88,211.84" fill="url(#gcr)" stroke="#7a5010" stroke-width="0.25" stroke-linejoin="round"/><polygon points="227.00,205.66 243.51,193.90 247.69,205.03 231.18,216.06" fill="#c8881c" stroke="#7a5010" stroke-width="0.25" stroke-linejoin="round"/><polygon points="243.51,193.90 261.20,204.51 250.59,206.82 247.69,205.03" fill="#93600e" stroke="#7a5010" stroke-width="0.25" stroke-linejoin="round"/><polygon points="250.59,206.82 261.20,204.51 261.20,225.30 250.05,222.99" fill="#c88a1a" stroke="#7a5010" stroke-width="0.25" stroke-linejoin="round"/><polygon points="250.05,222.99 261.20,225.30 244.15,235.70 227.64,226.46 231.18,216.06" fill="#a46c12" stroke="#7a5010" stroke-width="0.25" stroke-linejoin="round"/><polygon points="227.00,205.66 231.18,216.06 227.64,226.46" fill="#8a5810" stroke="#7a5010" stroke-width="0.25" stroke-linejoin="round"/><polygon points="247.69,205.03 250.59,206.82 250.05,222.99 231.18,216.06" fill="url(#gcr)" stroke="#7a5010" stroke-width="0.25" stroke-linejoin="round"/><polygon points="271.30,208.54 275.37,201.80 286.00,194.74 292.05,193.90 293.30,205.80 275.99,216.54" fill="#cc8c1e" stroke="#7a5010" stroke-width="0.25" stroke-linejoin="round"/><polygon points="292.05,193.90 306.02,202.43 293.30,205.80" fill="#93600e" stroke="#7a5010" stroke-width="0.25" stroke-linejoin="round"/><polygon points="293.30,205.80 306.02,202.43 308.00,207.17 308.00,224.64 304.66,228.75 294.03,226.65" fill="#c4861a" stroke="#7a5010" stroke-width="0.25" stroke-linejoin="round"/><polygon points="275.99,216.54 294.03,226.65 304.66,228.75 292.67,235.70 278.70,230.75 272.03,222.01" fill="#a46c12" stroke="#7a5010" stroke-width="0.25" stroke-linejoin="round"/><polygon points="271.30,208.54 275.99,216.54 272.03,222.01" fill="#8a5810" stroke="#7a5010" stroke-width="0.25" stroke-linejoin="round"/><polygon points="293.30,205.80 294.03,226.65 275.99,216.54" fill="url(#gcr)" stroke="#7a5010" stroke-width="0.25" stroke-linejoin="round"/><circle cx="293.30" cy="205.80" r="1.20" fill="#e83a1a" /><circle cx="294.03" cy="226.65" r="1.20" fill="#e83a1a" /><circle cx="275.99" cy="216.54" r="1.20" fill="#e83a1a" /><text x="166.0" y="75.7" font-size="7.7" text-anchor="start" fill="#111" font-weight="bold" >DFT</text><text x="165.6" y="218.3" font-size="8.1" text-anchor="start" fill="#b02424" font-weight="bold" >NN</text><line x1="185.60" y1="106.90" x2="310.10" y2="106.90" stroke="#000" stroke-width="1.3" /><polygon points="315.60,106.90 309.60,104.30 309.60,109.50" fill="#000" /><line x1="182.30" y1="249.60" x2="308.80" y2="249.60" stroke="#000" stroke-width="1.3" /><polygon points="314.30,249.60 308.30,247.00 308.30,252.20" fill="#000" /><text x="202.6" y="104.7" font-size="5.6" text-anchor="middle" fill="#111" font-weight="bold" >-0.129</text><text x="246.5" y="104.7" font-size="5.6" text-anchor="middle" fill="#111" font-weight="bold" >-0.065</text><text x="289.8" y="104.7" font-size="5.6" text-anchor="middle" fill="#111" font-weight="bold" >0.000</text><text x="251" y="113.7" font-size="5.4" text-anchor="middle" fill="#111" font-weight="bold" >&#916;&#956;<tspan font-size="3.8" dy="1">Cu</tspan><tspan dy="-1"> (eV)</tspan></text><text x="198.0" y="248.0" font-size="5.6" text-anchor="middle" fill="#a02020" font-weight="bold" >-0.115</text><text x="244.7" y="248.0" font-size="5.6" text-anchor="middle" fill="#a02020" font-weight="bold" >-0.057</text><text x="289.0" y="248.0" font-size="5.6" text-anchor="middle" fill="#a02020" font-weight="bold" >0.000</text><text x="247.3" y="256.0" font-size="5.4" text-anchor="middle" fill="#a02020" font-weight="bold" >&#916;&#956;<tspan font-size="3.8" dy="1">Cu</tspan><tspan dy="-1"> (eV)</tspan></text><text x="279.8" y="56.5" font-size="5.0" text-anchor="middle" fill="#111" font-weight="bold" transform="rotate(-28 279.8 56.5)" >(100)</text><text x="300.8" y="56.0" font-size="5.0" text-anchor="middle" fill="#111" font-weight="bold" transform="rotate(28 300.8 56.0)" >(111)</text><text x="310.2" y="72.8" font-size="5.0" text-anchor="middle" fill="#111" font-weight="bold" transform="rotate(90 310.2 72.8)" >(100)</text><text x="273.8" y="97.5" font-size="5.0" text-anchor="middle" fill="#111" font-weight="bold" >(110)</text><line x1="273.40" y1="93.00" x2="276.60" y2="77.00" stroke="#111" stroke-width="0.6" /><polygon points="277.30,74.60 275.60,77.60 277.80,78.00" fill="#111" /><text x="278.0" y="198.4" font-size="5.0" text-anchor="middle" fill="#a02020" font-weight="bold" transform="rotate(-28 278.0 198.4)" >(100)</text><text x="299.0" y="197.9" font-size="5.0" text-anchor="middle" fill="#a02020" font-weight="bold" transform="rotate(28 299.0 197.9)" >(111)</text><text x="308.4" y="214.7" font-size="5.0" text-anchor="middle" fill="#a02020" font-weight="bold" transform="rotate(90 308.4 214.7)" >(100)</text><text x="272.0" y="239.4" font-size="5.0" text-anchor="middle" fill="#a02020" font-weight="bold" >(110)</text><line x1="271.60" y1="234.90" x2="274.80" y2="218.90" stroke="#111" stroke-width="0.6" /><polygon points="275.50,216.50 273.80,219.50 276.00,219.90" fill="#111" /><line x1="373.30" y1="48.70" x2="490.80" y2="48.70" stroke="#a0a0a0" stroke-width="1.1" stroke-dasharray="2 1.3"/><path d="M404.5 84h0m33 13.5h0m-54-40h0m20.5 21.5h0m55.5 18.5h0m-62.5-22.5h0m34 19h0m-42.5-29h0m22 29.5h0m16-1.5h0m21.5 4.5h0m8.5 2.5h0m6.5-1.5h0m-60.5-21h0m37.5 23.5h0m-22-6.5h0m18.5-0.5h0m32-8.5h0m-24 18h0m26.5-25h0m-22.5 26h0m-13.5-4.5h0m25.5-8.5h0m-5 8.5h0m-45.5-13.5h0m-23.5-22.5h0m62.5 39h0m24-23.5h0m-62 15.5h0m-25.5-29h0m52.5 36h0m24.5-4.5h0m2.5-3.5h0m-34.5 1h0m4 1.5h0m-5 0.5h0m-24.5-10.5h0m25 9.5h0m-9.5-3h0m18 4.5h0m2 2h0m-25-9h0m-30.5-24.5h0m86 19h0m-34 15h0m-25.5-8h0m-1-1h0m-25-29h0m26 31.5h0m-7-6h0m42 17.5h0m-33.5-16.5h0m48 11h0m-19-3.5h0m-38.5-9h0m-3-10h0m-0.5 4.5h0m41.5 15h0m-46.5-20h0m12.5 12.5h0m14 6h0m-24-13.5h0m66 8h0m6-8.5h0m-18.5 16.5h0m-21 1h0m-26.5-11h0m5-2h0m57.5 4.5h0m-1-1h0m-81.5-31h0m26.5 30.5h0m10.5 1h0m-6 5h0m12-2h0m-25.5-12.5h0m-2-5h0m57 21h0m-16-0.5h0m-32.5-5.5h0m14 4.5h0m-39-31h0m12 14.5h0m66.5 22.5h0m-49.5-7.5h0m30.5 6h0m-42-17.5h0m33.5 13.5h0m-43.5-22.5h0m48 23.5h0m18 2h0m-39-5h0m4-1h0m-15.5-7.5h0m-16.5-15.5h0m74 21h0m2-0.5h0m-39.5 9.5h0m18-2.5h0m0.5 1.5h0m-52.5-27h0m4 2h0m-4 1.5h0m8 9h0m-5.5-13.5h0m65.5 23h0m-3.5 11h0m-27-10h0m22 2.5h0m-38.5-5.5h0m-8-3h0m34.5 8.5h0m-23-2.5h0m5 4h0m51-16h0m-74.5-7h0m47 25.5h0m-3-5h0m-49.5-27h0m38.5 28.5h0m-31-15.5h0m36.5 18.5h0m10-3.5h0m1.5 5.5h0m-11.5-1.5h0m-51.5-38.5h0m14 17.5h0m55.5 24h0m-27.5-9h0m32.5 0h0m-32-1h0m-7-2.5h0m5.5 7h0m23.5 2h0m11.5-1h0m-54-9.5h0m54.5 3h0m1 5h0m-13 8h0m10-6h0m-23.5-3.5h0m-22-3.5h0m-11-12h0m15.5 12.5h0m-10.5-7h0m56 3.5h0m5.5-1.5h0m-16.5 14.5h0m-10-5.5h0m9.5-1h0m-20 4.5h0m-17-10.5h0m20 11h0m6 1.5h0m2 1h0m-47-26.5h0m41.5 21h0m-13-1h0m-35.5-31h0m43.5 28.5h0m-25-6.5h0m-21-23h0m66.5 36.5h0m-33-8.5h0m-5.5-4h0m-7.5 2.5h0m47 6h0m-53.5-17h0m57 15.5h0m-61.5-19h0m35 19h0m-26-13h0m52 12h0m-39-2.5h0m23 2h0m-31-8.5h0m27.5 10.5h0m16 2h0m-23-1.5h0m0.5 4.5h0m11-1h0m28-21h0m-15 19h0m-39.5-3.5h0m16.5-2.5h0m30 0.5h0m0 2.5h0m-14 3.5h0m9-4.5h0m-34.5-2.5h0m-30-15h0m8.5 7h0m45.5 16.5h0m-4.5 1h0m10 0h0m13-11h0m-48 2h0m-14-4.5h0m51.5 15.5h0m-54-20.5h0m18.5 14h0m-26-21.5h0m-5-3.5h0m31.5 19.5h0m-0.5 3h0m52-9.5h0m-44.5 13.5h0m-12.5-2.5h0m35.5 7.5h0m-24.5-12.5h0m-19-3h0m34 13h0m5.5-5h0m-63-32h0m15.5 18.5h0m44.5 13.5h0m30-15h0m-6 5.5h0m-55.5 2.5h0m-20-17h0m2 2h0m51.5 22.5h0m6.5 2h0m-17.5-5.5h0m-12.5 3.5h0m5.5 1.5h0m22.5 2.5h0m-31-7h0m30 12.5h0m4-7.5h0m-47.5-17.5h0m58.5 9.5h0m1.5 0h0m-48 6.5h0m54-9h0m-77.5-11.5h0m11.5 12.5h0m37 10h0m-38-20h0m31 19.5h0m3.5-3h0m-38.5-12.5h0m58.5 19h0m13.5-17h0m-81-15h0m68.5 26.5h0m-6.5 0h0m-15 2.5h0m22-2.5h0m-58-15.5h0m48 24.5h0m-22.5-5.5h0m23 2h0m-12-0.5h0m36-23h0m-84-6h0m78.5 14h0m5-9h0m-41.5 20h0m33.5-10h0m-11.5 13.5h0m13.5-8.5h0m-67.5-9h0m10 5.5h0m-24-27h0m36.5 34h0m28 7h0m-41-12.5h0m-12.5-16.5h0m75.5 1.5h0m-56 20.5h0m8.5-1h0m-9.5-6h0m10 2h0m-15 1h0m-27-28h0m48 36h0m-30-21.5h0m71.5-1.5h0m-87.5-10h0m36.5 29h0m10.5 5h0m-27-18.5h0m1 8.5h0m34 6.5h0m16 4h0m-4.5-4h0m6.5-0.5h0m-60-14.5h0m66.5 6h0m-21 7.5h0m-6 3.5h0m-39.5-18.5h0m75-4h0m-58 16h0m8.5-3h0m-12.5 1h0m49.5 2.5h0m-22 10h0m-6-6h0m14.5-0.5h0m-3.5 4.5h0m21-13.5h0m-64.5-12h0m17 14h0m-9.5-7h0m3.5 9.5h0m-16.5-15.5h0m-5.5-5h0m0.5-3h0m70 27h0m-76.5-34h0m5.5 8.5h0m18 16.5h0m-3-7.5h0m62 15.5h0m-22 4h0m-56.5-35h0m13 12.5h0m-13.5-15h0m30.5 35.5h0m55.5-16.5h0m-77-1h0m70 15.5h0m3.5-12.5h0m-64 4h0m21.5 7h0m-42-30h0m69.5 35.5h0m-22.5-1.5h0m27 3h0m9-15.5h0m2.5-5.5h0m-64 10.5h0m66-9h0m-79-3.5h0m62 17h0m-25-0.5h0m1.5 3.5h0m5.5 3h0m-20.5-6h0m21-1h0m23.5-1h0m10.5-10h0m-43.5 11h0m14 8.5h0m-18.5-7h0m39-5h0m-40.5 3.5h0m-0.5-3h0m-34-27h0m84.5 17h0m-39.5 13h0m29 0h0m-52-3.5h0m7 1.5h0m19 10h0m-19.5-10h0m-26.5-20h0m-4-9h0m46 32h0m27.5-1.5h0m-14 11.5h0m-27.5-11.5h0m-8.5-1h0m27.5 10.5h0m-22-5.5h0m-15.5-15.5h0m30 15.5h0m13.5 3.5h0m29-22.5h0m-48.5 14h0m-35-19.5h0m33 17.5h0m-8.5 2.5h0m50.5 4.5h0m-73-28h0m78 19h0m-78-15.5h0m70.5 23.5h0m11.5-18.5h0m-71 5.5h0m-6.5-9h0m20.5 15.5h0m45.5 4.5h0m-73-26h0m12 8.5h0m57.5 17.5h0m8.5-2h0m-66-8h0m18.5 5.5h0m-30.5-21.5h0m10.5 13h0m47.5 21.5h0m-43-19.5h0m2 0h0m39 16.5h0m7.5 2.5h0m-14-5h0m-49.5-33h0m39.5 31h0m37.5-4.5h0m-7.5 3h0m16-16.5h0m-25 26h0m-12.5-1h0m24.5-5h0m1.5-0.5h0m-26-1.5h0m-44.5-27h0m19.5 18h0m21.5 6h0m18.5 11h0m-6.5-5h0m-18-3h0m20 5.5h0m-54-28.5h0m56.5 32.5h0m-48-23.5h0m-8.5-4.5h0" stroke="#a8a8a8" stroke-width="1.4" stroke-linecap="square"/><path d="M443 101.5h0m-1-3h0m-12-3.5h0m15-1.5h0m-5.5 4.5h0m1 2.5h0m3-4h0m3-1h0m-9 3h0m6.5-2h0m-8.5-1.5h0m6.5 4.5h0m8-3h0m-10-8h0m7.5 12h0m-6.5-6.5h0m-13 6h0m9 3h0m8-1h0m-4.5-0.5h0m-6.5 1.5h0m7-10.5h0m-2 0.5h0m3.5 1h0m-8 1.5h0m5.5 2.5h0m4.5 4h0m-1.5 1.5h0m-14.5-7h0m17-5h0m-5.5 6.5h0m-7-3.5h0m11 1h0m4.5 11h0m-8-14h0m0.5 2h0m-7 1h0m4.5 0h0m7 5.5h0m-2.5-5.5h0m0 1.5h0m-1-4h0m-16.5 7.5h0m12.5-5.5h0m3 2h0m-1.5 6h0m2-5h0m-5-1.5h0m7 0h0m-1-3.5h0m0.5 0h0m-4 1h0m3 7.5h0m0.5-8h0m-1 7.5h0m3-2h0m-9-4h0m2 0h0m4.5 2h0m-3 2h0m-1.5-3.5h0m4-4h0m-5 0h0m-0.5 5h0m4.5 2h0m2-6h0m8 10h0m-15.5-8.5h0m3.5 4h0m5.5-1h0m1 3.5h0m-7.5-3h0m8-2.5h0m1 2.5h0m2.5-0.5h0m-0.5-6.5h0m-0.5 8.5h0m-9 2.5h0m0.5-1.5h0m6 1h0m6.5 1.5h0m1.5-2.5h0m-12-1.5h0m-0.5-6.5h0m0.5 0.5h0m-2 3.5h0m-1.5-3.5h0m3.5 4.5h0m6.5 2.5h0m-2.5-4.5h0m-6-3h0m-3 8h0m3.5-3.5h0m-2 6.5h0m2.5-1.5h0m0.5-0.5h0m-5-9.5h0m10.5 4.5h0m-4 4.5h0m2-2.5h0m-9.5-4h0m6 5.5h0m2.5-1h0m-6.5-1.5h0m9-3.5h0m-8 7h0m11-2h0m-8-5.5h0m-0.5 1h0m1 6h0m1.5 2h0m-7-10h0m12 9h0m-12-3.5h0m-0.5-0.5h0m7 4h0m-6.5-9h0m8 3.5h0m4-3h0m-10-6.5h0m8.5 16.5h0m-3.5-6.5h0m-12-4.5h0m14.5 3h0m-2.5 4.5h0m0.5-5.5h0m-4.5 7.5h0m5.5-5.5h0m8.5 2.5h0m-14 2.5h0m6-4h0m5 5h0m-9-1.5h0m3.5-4h0m0-1h0m-4.5 4.5h0m-5-4h0m1 4.5h0m12.5-5.5h0m-6.5 1h0" stroke="#a8a8a8" stroke-width="1.5" stroke-linecap="square"/><path d="M385.5 68.5h0m10 7h0m-5.5-1.5h0m-7-13h0m3 4.5h0m9 13h0m-11-16.5h0m3.5 6h0m-1.5 1h0m-3-8.5h0m1.5 5.5h0m2 2h0m0.5 2h0m6 5.5h0m-4.5-2.5h0m5 3.5h0m-4.5-7h0m-2 0.5h0m2.5 2h0m-0.5-1.5h0m-4.5-7.5h0m9.5 15.5h0m-8-9h0m8 5h0m1 6h0m-11-18h0m9 11h0m-1.5-1.5h0m-8-10.5h0m0 0h0m7.5 14.5h0m1 1h0m3 2h0m-2.5-5h0m-1 3h0m-2-7.5h0m1 5h0m-2-4h0m-3.5-7.5h0m8.5 14.5h0m-8.5-14.5h0m3 6.5h0m-1-0.5h0m5.5 7.5h0m2.5-0.5h0m-7-8.5h0m-2.5 0.5h0m5.5 5.5h0m0.5 0h0m-1-1.5h0m-0.5-0.5h0m-5-7.5h0m8.5 14.5h0m-5.5-9h0m-2-0.5h0m4 6h0m-5-11.5h0m5 10h0m2.5 1.5h0m-4.5-4.5h0m4.5 6h0m-1.5-4h0m2.5 4h0m-10-13.5h0m5.5 9.5h0m-6-8h0m10.5 11.5h0m-2-2.5h0m1.5 3h0m-8.5-11h0m9.5 9.5h0m-9-10h0m-1-4.5h0m11 16h0m0 2.5h0m-10.5-13h0m-0.5-3.5h0m10 13h0m-0.5 3h0m-6-8.5h0m7 5.5h0m-3-0.5h0m0.5-1.5h0m-5-5h0m7.5 11h0m-5.5-7h0m0-4h0m1.5 2h0m-5.5-7h0m10.5 13.5h0m-10.5-12h0m8 9.5h0m-5.5-4.5h0m4 4.5h0m-3-5h0m-1.5-4.5h0m5 11.5h0m0.5-3.5h0m-7-8h0m2 4h0m4 3h0m-7-8.5h0m7 9.5h0m-8.5-12h0m7.5 12.5h0m-6.5-9.5h0m10.5 12h0m-2-0.5h0m-7.5-12.5h0m8 14.5h0m-10-16h0m1 2h0m7 10.5h0m-4-7h0m-3.5-6h0m2 4.5h0m4.5 4.5h0m-2.5-2.5h0m2.5 4.5h0m-1.5-4.5h0m-6-4h0m10 13.5h0m0.5 0h0m-4-8.5h0m-3.5-4h0m0.5 4h0m4.5 5h0m-5.5-7.5h0m2 1h0m-2-1h0m1-0.5h0m8.5 10.5h0m-7.5-4.5h0m3.5 4h0m2.5-2h0m1 2.5h0m-2.5-2h0m-8.5-9.5h0m6 8.5h0m1.5-2h0m-4.5-7h0m0.5 5h0m7.5 6.5h0m-4-0.5h0m-2.5-6h0m7.5 11h0m-9-15h0m9 13h0m-9-12h0m7.5 10.5h0m1 2h0m-8.5-9h0m6 2.5h0m2 2.5h0m-6.5-3.5h0m2.5 2.5h0m-3-5.5h0m3.5 7h0m1.5 0.5h0m3.5 3h0m-5-8h0m1.5 3.5h0m-2.5-3h0m2 0.5h0m2 6.5h0m-3-7h0m-5.5-8.5h0m6.5 11.5h0m-2.5-4h0m0.5 0.5h0m2.5 3.5h0m2.5 5h0m-4-5h0m-6-9h0m7 7.5h0m-7.5-8h0m8 11h0m-1.5-2h0m-7-10.5h0m0 0h0m7.5 10.5h0m1.5 4h0m2 1h0m-10-14.5h0m3 4.5h0m4 2.5h0m-1 1.5h0m0.5 0h0m-2.5-2.5h0m3 2h0m-6-7.5h0m7.5 11h0m-2 0.5h0m-4-10.5h0m-3-0.5h0m8 12h0m-8-15h0m3 6.5h0m1-1h0m0.5 1.5h0" stroke="#20e8f0" stroke-width="1.6" stroke-linecap="square"/><path d="M411.5 88h0m-6 0.5h0m7.5 1h0m-8.5-1h0m5.5 6h0m-5-11.5h0m-2.5 1.5h0m12 6h0m-7 0h0m-4-10.5h0m2 6h0m5 4.5h0m2.5-4.5h0m1.5 11.5h0m-8-9.5h0m8.5-3h0m-3 8.5h0m0.5-3.5h0m4.5-0.5h0m-9-3.5h0m-0.5-2.5h0m-7 0h0m4.5 5.5h0m7.5 1.5h0m-12.5-8h0m5 6h0m3 4.5h0m0.5-2h0m-5.5-6.5h0m1.5 1h0m-0.5 4h0m5.5-0.5h0m-5-4h0m5.5 5.5h0m-2-1h0m-3 0.5h0m4-2h0m5.5 7h0m-3-0.5h0m-2 0h0m3-5.5h0m-5-1.5h0m-1.5 3.5h0m-2.5-6h0m3 0h0m6 5.5h0m-5.5-0.5h0m2 1.5h0m4-1.5h0m3.5 4.5h0m-10.5-3.5h0m-2.5-5.5h0m1 3h0m0-5h0m-4.5 0h0m7.5 4h0m5 1h0m-3-2h0m3 6.5h0m-10.5-7h0m9.5 8.5h0m-8-9.5h0m8.5 3h0m-1.5 4.5h0m1.5 1h0m8.5-0.5h0m-14-7h0m0 4.5h0m6.5 3h0m-1.5-5.5h0m-6.5-3.5h0m-5.5-0.5h0m13 10h0m-8-8h0m0 2.5h0m-2-1.5h0m2 2h0m-4-6h0m11.5 12h0m-1.5-5h0m-3-5h0m9.5 7h0m-14.5-16h0m-1 5.5h0m3.5-1.5h0m6.5 9h0m-7-5h0m12.5 5.5h0m-9.5-6h0m0 2.5h0m2 2h0m5.5 3h0m-9.5-1.5h0m-1.5-6.5h0m3.5 4h0m5.5 2.5h0m-8.5-6h0m6.5 8.5h0m-1.5-3.5h0m-7.5-7.5h0m15.5 15.5h0m-8-9h0m3-4.5h0m-6 7.5h0m15 4.5h0m-9.5-4.5h0m-2-3.5h0m1-0.5h0m-6.5 0h0m1-5h0m1 7.5h0m3.5 3h0m6 3h0m0.5-4h0m-7 2h0m8.5 1.5h0m-1 1h0m-8.5-13h0m4.5 8.5h0m-1.5 1.5h0m0-0.5h0m-6.5-7.5h0m1.5 5h0m-7-12.5h0m11 15h0m-6-10h0m3.5 6.5h0m4.5 1.5h0m-7-6h0m3.5 2.5h0m-3.5 3.5h0m3.5-5h0m-0.5 7.5h0m-4.5-8.5h0m-2.5-4.5h0m3 1h0m9.5 11.5h0m-4.5-1.5h0m2.5-6.5h0m-3 1h0m-3.5 1.5h0m-11.5-19.5h0m20 22h0m-10-0.5h0m6.5-6.5h0m2 7.5h0m-1.5-6h0m-7 4h0m11.5 7.5h0m-7.5-7h0m3 4.5h0m-7.5-8.5h0m9 5h0m-12.5-6.5h0m4 5h0m12.5 6h0m-14-10.5h0m3 1.5h0m6.5 10h0m-2-5h0m2.5 2.5h0m4 3.5h0m-11-5.5h0m16.5 2.5h0m-9.5-5.5h0m-12.5-6.5h0m15 7h0m-0.5 5h0m-4-1.5h0m-4.5-7h0m9.5 7.5h0m-8-5h0m-7.5-5h0m19 12h0m-9-3.5h0m0 1.5h0m-1.5-5.5h0m0-4h0m0 6h0m-1-6.5h0m1 0h0m4.5 6h0m0.5 2h0m-4 3h0m3-1.5h0m-16-9.5h0m10.5 0h0m-6 3h0m9 7h0m-1 2.5h0m-3.5-7h0m1-0.5h0m0 1.5h0m-2-1.5h0m8 4.5h0m-0.5-3h0m-10-14h0m5.5 13.5h0m4.5 1.5h0m-3 3h0m0-5h0m2.5 2.5h0m-4-7h0m-1.5 2.5h0m-5-2.5h0m11 8.5h0m-4 2.5h0m-4-10.5h0m7 7h0m-9-6h0m5.5 8.5h0m-5.5-7h0m13.5-2.5h0m-4 8h0m-2.5-0.5h0m-7-6.5h0m13.5 10.5h0m-1-3.5h0m-9.5-2h0m0.5 0h0m0.5-1h0m11 10h0m-1-9h0m-16.5-8.5h0m0-1h0m7.5 9h0m2 3.5h0m-2.5-5.5h0m-6.5-2h0m11 4h0m0.5-4h0m-8-2.5h0m-2.5-1h0m6.5 4.5h0m-2-4h0m-3 0.5h0m8 12.5h0m-11.5-10.5h0m22 6h0m-20-5.5h0m15.5 13h0m-10-6.5h0m-1.5-2h0m0 0.5h0m-2-5h0m9.5-1.5h0m0.5 8h0m-6-9h0m1.5 3.5h0m-2-1h0m0.5 2.5h0m7-2h0m-4 5h0m-2.5-8h0m2.5 12.5h0m-2.5-3.5h0m4 1h0m2-3h0m3-4h0m-1.5 6h0" stroke="#f01818" stroke-width="1.7" stroke-linecap="square"/><path d="M424 96.5h0m-2.5-0.5h0m3.5 4h0m-1.5-7.5h0m4.5 5.5h0m-4-8.5h0m-4-1h0m5.5 2h0m0-1.5h0m-1.5 7.5h0m-3.5 2h0m5-7h0m-1.5 2.5h0m-2-2h0m4.5-4.5h0m9.5 10h0m-7.5-3h0m-3.5 2h0m6.5-5h0m1.5 1.5h0m-12 6.5h0m2-2.5h0m-3.5 0h0m4 1.5h0m-5-6.5h0m2.5 3h0m0-2h0m4.5 0h0m0.5 2.5h0m-7.5 2.5h0m2-6.5h0m12 0.5h0m-8 5h0m-2-3h0m1.5-0.5h0m-3.5 4.5h0m5-1.5h0m0-4.5h0m4.5-0.5h0m-0.5 0h0m-7 3h0m12.5 3h0m-9-1.5h0m4.5-3.5h0m-13-2h0m7.5 1h0m-1 8h0m0-7.5h0m1.5 7h0m7-2h0m-8.5-4h0m-3.5-1h0m9 4.5h0m-3-6h0m-1.5 1.5h0m6.5 2.5h0m-6.5 0h0m0.5 0h0m-2.5 1h0m2.5 2h0m2-0.5h0m-4.5-2.5h0m-7-3.5h0m7.5-5.5h0m7 12.5h0m-11.5-3.5h0m7-2h0m5.5 6h0m-4-7.5h0m-1 3.5h0m1-5.5h0m-6.5 9.5h0m4.5-4.5h0m-0.5-9.5h0m6.5 4.5h0m-11.5 7.5h0m11 2h0m-8-7h0m5 3.5h0m-11 1h0m9.5 1h0m-0.5 0.5h0m0.5-6.5h0m-3.5 8.5h0m-5.5-2.5h0m5.5-9h0m-1.5 8h0m9-3h0m-6.5 1.5h0m5-4h0m-5.5 5h0m-4.5 0h0m6 2h0m-4.5-3.5h0m6.5 0.5h0m-6 4h0m4-3.5h0m0.5 2h0m0.5-5h0m3 2h0m-3 1h0m-5.5-0.5h0m6-5h0m-2.5 4.5h0m4.5-0.5h0m-2.5 3h0m-5.5-5h0m3.5 5.5h0m7-2h0m-6-2.5h0m1 8h0m-1-8h0m7 1.5h0m-7.5-2.5h0m5.5 2h0m-12.5-7h0m9.5 6h0m0.5 4h0m4.5 3h0m-11-6h0m1 4h0m-2.5-1h0m-1.5 1.5h0m12.5-9.5h0m-5 4h0m-7 5.5h0m3.5 0h0m5.5 3h0m-4-3.5h0m2.5-4.5h0m4 1.5h0m-6.5 0.5h0m-3.5 3.5h0m12.5-9.5h0m-6.5 4h0m-3.5 4.5h0m10-2h0m-8.5-3.5h0m-1 6h0m2.5-3h0m-2.5 0.5h0m2.5-4.5h0m7 4.5h0m-7 0.5h0m0-9.5h0m0 12.5h0m4-7.5h0m-5.5 4.5h0m10 0h0m-7.5-3.5h0m-2.5 0h0m1.5-1.5h0m-1.5-0.5h0m6 6.5h0m-5-3.5h0m3.5 1.5h0m-5-10h0m-6 12h0m7-5.5h0m-6.5 5.5h0m2.5-2h0m4.5-2.5h0m-4.5 3h0m-1-3.5h0m5.5 6.5h0m-1.5-3.5h0m4.5-9.5h0m-6.5 7.5h0m1 4.5h0m0.5-1h0m6.5-3h0m-2.5 6h0m2.5-5h0m-11-2.5h0m6.5 3.5h0m1-1h0m-5 2h0m8.5-2.5h0m-4 3.5h0m-1.5-1.5h0m5.5-4h0m-4.5-0.5h0m-4-4h0m3 12.5h0m6-7h0m-0.5 0h0m-13 4.5h0m8-3.5h0m4 4h0m-4-2.5h0m2.5-4h0m2 1h0m-1.5 5.5h0m2-10.5h0m-7 6h0m0 0.5h0m2.5 1h0m10 0.5h0m-9-3.5h0m-1.5 2h0m3.5-4h0m-3.5 1h0m-6 6h0m6.5-1h0m7.5 4h0m-7.5-4h0m-1.5-2.5h0m-4.5 4h0m7 0.5h0m7-6.5h0m-6.5 2.5h0m4.5-0.5h0m3 8.5h0m-7-7h0m-7 0.5h0m-1-4.5h0m12 7h0m-10-7.5h0m11 10h0m-7-3.5h0m-6 0.5h0m4.5 0.5h0m-0.5-5h0m5.5 4h0m-4.5-8h0m3 10.5h0m2-10h0m-3 6h0m6-1.5h0m-7.5 6.5h0m-4-8.5h0m1 6.5h0m1-1.5h0m0 2.5h0m5-7.5h0m1 3.5h0m-3-4.5h0m8 4h0m-9.5 0h0m1.5-5h0m4.5-1h0m-0.5-1h0m-9.5 11h0m-0.5-4.5h0m7 5h0m6.5-2h0m-5 1h0m2-9.5h0m-2 2.5h0m8.5 7.5h0m-15-2.5h0m-1-3h0m6-3.5h0m1.5 8.5h0m4.5 0h0m-5-1h0m-5-5h0m9-2h0m-8 7.5h0m1.5-8h0m-2 2h0m-2.5 0.5h0m8 0h0m-2-0.5h0m-2 5h0m2.5-3h0m-2.5 4.5h0m-0.5-9h0m4.5 7.5h0m-3.5-4.5h0m6 6.5h0m-4-4.5h0m1.5 6.5h0m-5.5-3.5h0m-6-5h0m11 2.5h0m-7.5 2.5h0m8 0h0m-4.5-3.5h0m1 1.5h0m1-1.5h0m2.5 4.5h0m-2.5 0.5h0m-4-6h0m5.5 5h0m-1-9h0m-2.5 1.5h0m5.5 2.5h0m-14-1h0m11-1.5h0m1-2h0m-3 9.5h0m1-7h0m-3 7h0m6-2h0m0-1.5h0m-3-0.5h0m-2 4.5h0m5.5-5h0m2.5 7h0" stroke="#1818f0" stroke-width="1.8" stroke-linecap="square"/><path d="M452 94h0m-1 4h0m-3.5-5h0m-1.5 5.5h0m3.5 3h0m-5-1h0m2-1h0m5 3.5h0m2-6h0m-2-4h0m-0.5 7h0m1-3.5h0m0 2.5h0m0.5-4h0m2 3h0m-9.5-0.5h0m11.5 6h0m-7.5-8h0m0 5h0m8.5-2h0m-8 4.5h0m3.5-7.5h0m-3.5 6h0m-0.5-3.5h0m-2 2h0m11 2.5h0m-9.5-8.5h0m9 6.5h0m-14.5 2.5h0m5.5-7h0m2-2.5h0m-5.5 9.5h0m4-3.5h0m8 0h0m-7 0.5h0m8.5 0h0m-10 5h0m9-11h0m-14-0.5h0m10.5 3h0m-11 7h0m7-4h0m6.5-0.5h0m-10 7h0m9-8h0m-6.5-4.5h0m5 0h0m5.5-2h0m-4.5 3h0m-9.5 6h0m5.5 0h0m-6-3h0m4 1.5h0m6-1.5h0m-9 1h0m-3.5-2.5h0m14.5 0h0m-2 0.5h0m-9 2h0m7-1h0m-1 6.5h0m-1.5-4.5h0m-4 1.5h0m0.5-2.5h0m1 2h0m5 1h0m-2-1h0m9-5.5h0m-14 6h0m5.5-2.5h0m-13-1h0m17 2.5h0m-5-2.5h0m-3.5-1h0m3.5-5h0m6.5 2.5h0m-0.5 6.5h0m-10-3.5h0m5.5 5h0m-6-2.5h0m8-2h0m-2-1h0m-3.5-2h0m-2.5 6h0m7-0.5h0m-5.5-1h0m7.5-5.5h0m-10 0.5h0m6 4.5h0m8.5 3h0m-22.5-3h0m11.5 2.5h0m-4-8.5h0m1 7.5h0m2.5 0h0m11.5-6h0m-11.5 4.5h0m6.5-3.5h0m-4-0.5h0m7 6.5h0m-5 0h0m1.5-3h0m-5-1h0m3 2h0m4.5-0.5h0m-4.5 5.5h0m-4-9.5h0m14.5-0.5h0m-15 9.5h0m2-7.5h0m1.5 1h0m-5.5-5.5h0m0.5 2h0m1.5 1.5h0m6.5 5h0m-7 4h0m13-12.5h0m-15 13h0m6.5-7h0m-3 0h0m6.5 2.5h0m-5.5-4h0m-1.5 5.5h0m0-4h0m3 1h0m3 5h0m-9.5-11h0m6.5 4.5h0m-5 7h0m-1.5-11.5h0m15.5 7h0m-16.5 2h0m3-5h0m3 1.5h0m10.5-3h0m-14-1h0m4 0h0m1 9h0m9.5-5.5h0m-9-1.5h0m-2.5 4.5h0m-8.5-5.5h0m5 0h0m2 4h0m9-4h0m-7.5 0.5h0m2.5 2.5h0m2.5 0.5h0m3-1h0m-6 2h0m0.5-1.5h0m2 2.5h0m-1-0.5h0m-4-3.5h0m7.5 6h0m-7 0.5h0m0 0.5h0m5.5-5.5h0m-1.5-2h0m-5 0h0m6.5 4.5h0m-5.5-2.5h0m-3.5-0.5h0m-0.5 5h0m9.5-7h0m-7 8h0m3.5-9.5h0m-4 2h0m2.5-2.5h0m3.5 2h0m6.5 5.5h0m-16.5-6h0m7.5-3h0m-6.5 11.5h0m2.5-8h0m5 4h0m-0.5 1.5h0m-4 1.5h0m9.5-5.5h0m-6.5 0.5h0m-1.5-3.5h0m3 1h0m-4.5-0.5h0m4.5 0h0m3.5-3h0m-10.5 5.5h0m4.5-3h0m13 2.5h0m-19 1.5h0m16 4.5h0m-9.5-5h0m10.5 1h0m-8-5.5h0m-4.5 6.5h0m-8-0.5h0m10-2h0m1.5 2.5h0m6-6.5h0m-2 3.5h0m-5 2.5h0m0.5 2h0m-3.5-1h0m2-9h0m-5 11.5h0m5.5-2h0m1.5-4h0m-5.5 2h0m6.5-8h0m-7.5 12h0m13 1h0m-11-3.5h0m6-2h0m-4 1h0m-7-11h0m7 15.5h0m-4-8h0m7-1.5h0m0.5 2h0m-4-2h0m3.5 6.5h0m5.5-4h0m-12.5 1.5h0m10-4h0m1-1h0m-7 0h0m1.5 3h0m2.5-1.5h0m7.5 6h0m-8.5 1h0m4-1h0m-14-4h0m19-0.5h0m-12.5-1h0m6 2h0m-6 5h0m-2-0.5h0m7.5-1.5h0m2.5-1.5h0m-5 6h0m-0.5-4h0m-0.5-4.5h0m4-1.5h0m1.5 8h0m-0.5-4.5h0m-10.5-1.5h0m20-1.5h0m-9.5 4.5h0m-2.5-5h0m-8.5 3h0m8 0.5h0m2.5-2h0m-10 3.5h0m6-9h0m6 10h0m0.5-2.5h0m-4-3.5h0m-9 8.5h0m2.5-12.5h0m0 6.5h0m2-3h0m4.5 4h0m4.5-1.5h0m1 2.5h0m-8-2h0m3 1h0m-11 0h0m3.5 0h0m-2.5 0.5h0m17-2.5h0m-1 1.5h0m-13.5 1h0m14-4.5h0m-12.5 10h0m2-5h0m-9.5 0.5h0m1.5-3h0m14-3.5h0m-8.5 12.5h0m8.5-5.5h0m-0.5-0.5h0m2.5-5.5h0m-0.5 4h0m-9.5-0.5h0m-8 1h0m5.5 5.5h0m2.5 0h0m4.5-5h0m-9.5-3.5h0m7-1h0m0 1h0m-1 5h0m2-1.5h0m1.5 3.5h0m-5-6.5h0m0 0h0m4 1.5h0m1-7h0m-8 5h0m9.5 2.5h0m2 2.5h0" stroke="#20a020" stroke-width="1.8" stroke-linecap="square"/><path d="M463.5 89h0m0.5 4.5h0m-1.5 2.5h0m4 0.5h0m-6.5-1.5h0m3.5-1h0m1-1h0m3-3h0m0.5 3h0m-6.5-6.5h0m-2.5 4.5h0m6-1h0m4 2.5h0m-4.5 2.5h0m0-5h0m3 4.5h0m-3.5-3h0m0 0h0m-2 1.5h0m6.5-3.5h0m-0.5 3.5h0m-4 4h0m1-8h0m-1.5 2.5h0m0.5 2h0m3.5-3.5h0m-0.5 6.5h0m0-3.5h0m-4 3h0m2.5-1.5h0m0-2h0m-1.5 3h0m3-4h0m-3 6.5h0m-2.5-3.5h0m-3-0.5h0m8.5 0h0m-3.5-1h0m1-3h0m2 4h0m1 0h0m-1-0.5h0m-1-5.5h0m4.5-0.5h0m-3 4.5h0m-0.5 4h0m0-4.5h0m-4.5-3.5h0m4 2.5h0m-3-0.5h0m2.5 0.5h0m0 1h0m3 0h0m-2.5 3.5h0m-1.5 0h0m-0.5 0h0m-3.5-6.5h0m9.5 1h0m-3.5 1h0m-0.5 6h0m-1-12h0m-3.5 9.5h0m6.5-6.5h0m-4.5 10h0m2-2h0m1.5-4h0m0.5-2h0m-3.5-0.5h0m-0.5 0h0m5 4h0m-4-1.5h0m2-0.5h0m-6 1h0m4.5-1.5h0m0.5 2.5h0m2.5-1.5h0m-1-1h0m-1 1h0m0.5 1h0m-3-4h0m0-2h0m1.5 4.5h0m0.5 1.5h0m-0.5-3.5h0m-3 7h0m7-6h0m-4.5 7.5h0m1.5-7.5h0m-4 7h0m8.5-8.5h0m-6 4.5h0m2-3h0m-3 1.5h0m2.5-2.5h0m-1 8.5h0m-6-14.5h0m8.5 9.5h0m-4.5-2.5h0m4-1h0m2 2.5h0m-4.5-5.5h0m0 4.5h0m0 1.5h0m3.5-0.5h0m1 0.5h0m-8.5-4.5h0m3.5 2.5h0m2.5 5h0m-0.5-6h0m-0.5 1.5h0m1 4h0m0.5-1h0m-2.5 3.5h0m-6.5-10h0m8.5 7.5h0m-1-2h0m-2 1h0m4.5 0.5h0m-11-8.5h0m7 6h0m4 0h0m-3.5 2h0m4-5h0m-1 0.5h0m-3.5 0h0m-3-0.5h0m1-0.5h0m1.5 3.5h0m1-6h0m2.5 8h0m0.5-2.5h0m0 2.5h0m0.5 0h0m-1.5-1.5h0m0.5-2.5h0m-2.5 0h0m2 2h0m0-0.5h0m-1.5 2.5h0m-1.5-3h0" stroke="#f08830" stroke-width="1.7" stroke-linecap="square"/><path d="M484.5 60.5h0m3-6.5h0m-13.5 25h0m13-26.5h0m-3 9h0m-1 1h0m2.5-3h0m-5.5 10.5h0m-1 2.5h0m8.5-18h0m-12.5 23.5h0m1.5-2.5h0m6-12h0m-0.5 0.5h0m-2 2.5h0m-3.5 6h0m10-17h0m-3 4h0m-7 16.5h0m6.5-15h0m-3 6.5h0m2.5-6.5h0m4-7.5h0m-4 10h0m2.5-6.5h0m-0.5 0.5h0m-10.5 20.5h0m5.5-6.5h0m4.5-9.5h0m-4.5 8h0m3-5h0m-2.5 5.5h0m-2 2h0m2.5-7h0m-0.5 3.5h0m-1 1h0m8.5-17.5h0m-3.5 8h0m1-4.5h0m-8.5 16.5h0m2-3h0m2-1h0m4.5-8h0m0.5-2.5h0m-9 16.5h0m9-17h0m-2.5 6h0m-8.5 15h0m2-3.5h0m3-8.5h0m1.5 1h0m-0.5 1.5h0m1-5h0m4.5-7.5h0m-2.5 3.5h0m-7 16h0m6-12.5h0m-4.5 9.5h0m5-8.5h0m-8.5 17h0m11.5-24h0m-2.5 4h0m-10 22.5h0m4.5-14.5h0m-0.5 6h0m3-8h0m1.5 0.5h0m-6 8.5h0m1.5-3h0m2.5-4h0m-3.5 5h0m4.5-11h0m2.5-1.5h0m-5 7h0m-4.5 12h0m7.5-16h0m1.5-2h0m-7.5 16h0m7-15.5h0m-6 13.5h0m10-20h0m0.5-2.5h0m-11.5 21.5h0m0 2h0m8-17h0m0.5 1.5h0m-8 12.5h0m4.5-9h0m6-10h0m-9 18h0m8-15.5h0m-9 16h0m4.5-8.5h0m4-9h0m1.5-1.5h0m-6.5 11h0m-3.5 11h0m1.5-7.5h0m3.5-3.5h0m-6.5 12h0m4.5-10h0m6-12h0m-6.5 12.5h0m-2 4h0m5-11h0m2-2.5h0m-6.5 14h0m6.5-10.5h0m-6.5 11h0m3.5-7.5h0m-1-0.5h0m1.5-1h0m4-6h0m-11 21.5h0m11.5-23.5h0m-2.5 7.5h0m1.5-4.5h0m-5.5 8h0m-4 9.5h0m-1 4.5h0" stroke="#f020f0" stroke-width="1.4" stroke-linecap="square"/><rect x="430.20" y="84.20" width="1.60" height="1.60" fill="#20a020" stroke="none" stroke-width="1" /><rect x="442.20" y="90.20" width="1.60" height="1.60" fill="#20a020" stroke="none" stroke-width="1" /><rect x="452.70" y="87.70" width="1.60" height="1.60" fill="#20a020" stroke="none" stroke-width="1" /><rect x="445.60" y="76.20" width="1.60" height="1.60" fill="#f020f0" stroke="none" stroke-width="1" /><rect x="466.20" y="71.70" width="1.60" height="1.60" fill="#f020f0" stroke="none" stroke-width="1" /><rect x="458.20" y="82.40" width="1.60" height="1.60" fill="#f08830" stroke="none" stroke-width="1" /><rect x="436.20" y="89.20" width="1.60" height="1.60" fill="#a8a8a8" stroke="none" stroke-width="1" /><rect x="413.20" y="82.20" width="1.60" height="1.60" fill="#a8a8a8" stroke="none" stroke-width="1" /><rect x="419.20" y="85.20" width="1.60" height="1.60" fill="#20a020" stroke="none" stroke-width="1" /><rect x="380.20" y="62.20" width="1.60" height="1.60" fill="#f01818" stroke="none" stroke-width="1" /><rect x="382.20" y="64.20" width="1.60" height="1.60" fill="#f01818" stroke="none" stroke-width="1" /><line x1="444.94" y1="104.09" x2="448.54" y2="107.69" stroke="#f01818" stroke-width="1.1" /><line x1="444.94" y1="107.69" x2="448.54" y2="104.09" stroke="#f01818" stroke-width="1.1" /><polyline points="373.30,48.70 379.18,60.01 385.05,68.65 387.40,72.64 393.28,79.29 402.68,88.60 406.20,92.59 412.07,97.91 429.70,102.56 448.50,107.88 455.55,105.89 461.43,102.56 467.30,96.58 473.18,84.61 490.80,48.70" stroke="#000" stroke-width="1.3" fill="none" /><circle cx="379.18" cy="60.01" r="1.90" fill="#000" /><circle cx="385.05" cy="68.65" r="1.90" fill="#000" /><circle cx="387.40" cy="72.64" r="1.90" fill="#000" /><circle cx="393.28" cy="79.29" r="1.90" fill="#000" /><circle cx="402.68" cy="88.60" r="1.90" fill="#000" /><circle cx="406.20" cy="92.59" r="1.90" fill="#000" /><circle cx="412.07" cy="97.91" r="1.90" fill="#000" /><circle cx="429.70" cy="102.56" r="1.90" fill="#000" /><circle cx="448.50" cy="107.88" r="1.90" fill="#000" /><circle cx="455.55" cy="105.89" r="1.90" fill="#000" /><circle cx="461.43" cy="102.56" r="1.90" fill="#000" /><circle cx="467.30" cy="96.58" r="1.90" fill="#000" /><circle cx="473.18" cy="84.61" r="1.90" fill="#000" /><circle cx="381.53" cy="63.46" r="1.90" fill="#000" /><circle cx="396.80" cy="82.78" r="1.90" fill="#000" /><circle cx="408.55" cy="94.72" r="1.90" fill="#000" /><circle cx="452.03" cy="106.89" r="1.90" fill="#000" /><circle cx="457.90" cy="104.56" r="1.90" fill="#000" /><circle cx="464.95" cy="98.97" r="1.90" fill="#000" /><circle cx="373.30" cy="48.70" r="2.20" fill="#000" /><circle cx="490.80" cy="48.70" r="2.20" fill="#000" /><rect x="373.30" y="22.10" width="117.50" height="93.10" fill="none" stroke="#111" stroke-width="1.1" /><line x1="373.30" y1="22.10" x2="375.80" y2="22.10" stroke="#000" stroke-width="0.8" /><line x1="490.80" y1="22.10" x2="488.30" y2="22.10" stroke="#000" stroke-width="0.8" /><line x1="373.30" y1="28.75" x2="374.70" y2="28.75" stroke="#000" stroke-width="0.7" /><line x1="490.80" y1="28.75" x2="489.40" y2="28.75" stroke="#000" stroke-width="0.7" /><text x="370.7" y="24.400000000000002" font-size="6.6" text-anchor="end" fill="#111" font-weight="bold" >0.20</text><line x1="373.30" y1="35.40" x2="375.80" y2="35.40" stroke="#000" stroke-width="0.8" /><line x1="490.80" y1="35.40" x2="488.30" y2="35.40" stroke="#000" stroke-width="0.8" /><line x1="373.30" y1="42.05" x2="374.70" y2="42.05" stroke="#000" stroke-width="0.7" /><line x1="490.80" y1="42.05" x2="489.40" y2="42.05" stroke="#000" stroke-width="0.7" /><text x="370.7" y="37.7" font-size="6.6" text-anchor="end" fill="#111" font-weight="bold" >0.10</text><line x1="373.30" y1="48.70" x2="375.80" y2="48.70" stroke="#000" stroke-width="0.8" /><line x1="490.80" y1="48.70" x2="488.30" y2="48.70" stroke="#000" stroke-width="0.8" /><line x1="373.30" y1="55.35" x2="374.70" y2="55.35" stroke="#000" stroke-width="0.7" /><line x1="490.80" y1="55.35" x2="489.40" y2="55.35" stroke="#000" stroke-width="0.7" /><text x="370.7" y="51.0" font-size="6.6" text-anchor="end" fill="#111" font-weight="bold" >0.00</text><line x1="373.30" y1="62.00" x2="375.80" y2="62.00" stroke="#000" stroke-width="0.8" /><line x1="490.80" y1="62.00" x2="488.30" y2="62.00" stroke="#000" stroke-width="0.8" /><line x1="373.30" y1="68.65" x2="374.70" y2="68.65" stroke="#000" stroke-width="0.7" /><line x1="490.80" y1="68.65" x2="489.40" y2="68.65" stroke="#000" stroke-width="0.7" /><text x="370.7" y="64.30000000000001" font-size="6.6" text-anchor="end" fill="#111" font-weight="bold" >&#8722;0.10</text><line x1="373.30" y1="75.30" x2="375.80" y2="75.30" stroke="#000" stroke-width="0.8" /><line x1="490.80" y1="75.30" x2="488.30" y2="75.30" stroke="#000" stroke-width="0.8" /><line x1="373.30" y1="81.95" x2="374.70" y2="81.95" stroke="#000" stroke-width="0.7" /><line x1="490.80" y1="81.95" x2="489.40" y2="81.95" stroke="#000" stroke-width="0.7" /><text x="370.7" y="77.60000000000001" font-size="6.6" text-anchor="end" fill="#111" font-weight="bold" >&#8722;0.20</text><line x1="373.30" y1="88.60" x2="375.80" y2="88.60" stroke="#000" stroke-width="0.8" /><line x1="490.80" y1="88.60" x2="488.30" y2="88.60" stroke="#000" stroke-width="0.8" /><line x1="373.30" y1="95.25" x2="374.70" y2="95.25" stroke="#000" stroke-width="0.7" /><line x1="490.80" y1="95.25" x2="489.40" y2="95.25" stroke="#000" stroke-width="0.7" /><text x="370.7" y="90.89999999999999" font-size="6.6" text-anchor="end" fill="#111" font-weight="bold" >&#8722;0.30</text><line x1="373.30" y1="101.90" x2="375.80" y2="101.90" stroke="#000" stroke-width="0.8" /><line x1="490.80" y1="101.90" x2="488.30" y2="101.90" stroke="#000" stroke-width="0.8" /><line x1="373.30" y1="108.55" x2="374.70" y2="108.55" stroke="#000" stroke-width="0.7" /><line x1="490.80" y1="108.55" x2="489.40" y2="108.55" stroke="#000" stroke-width="0.7" /><text x="370.7" y="104.2" font-size="6.6" text-anchor="end" fill="#111" font-weight="bold" >&#8722;0.40</text><line x1="373.30" y1="115.20" x2="375.80" y2="115.20" stroke="#000" stroke-width="0.8" /><line x1="490.80" y1="115.20" x2="488.30" y2="115.20" stroke="#000" stroke-width="0.8" /><text x="370.7" y="117.49999999999999" font-size="6.6" text-anchor="end" fill="#111" font-weight="bold" >&#8722;0.50</text><line x1="373.30" y1="115.20" x2="373.30" y2="112.70" stroke="#000" stroke-width="0.8" /><line x1="373.30" y1="22.10" x2="373.30" y2="24.60" stroke="#000" stroke-width="0.8" /><text x="373.3" y="124.2" font-size="6.6" text-anchor="middle" fill="#111" font-weight="bold" >0.0</text><line x1="385.05" y1="115.20" x2="385.05" y2="113.80" stroke="#000" stroke-width="0.8" /><line x1="385.05" y1="22.10" x2="385.05" y2="23.50" stroke="#000" stroke-width="0.8" /><line x1="396.80" y1="115.20" x2="396.80" y2="112.70" stroke="#000" stroke-width="0.8" /><line x1="396.80" y1="22.10" x2="396.80" y2="24.60" stroke="#000" stroke-width="0.8" /><text x="396.8" y="124.2" font-size="6.6" text-anchor="middle" fill="#111" font-weight="bold" >0.2</text><line x1="408.55" y1="115.20" x2="408.55" y2="113.80" stroke="#000" stroke-width="0.8" /><line x1="408.55" y1="22.10" x2="408.55" y2="23.50" stroke="#000" stroke-width="0.8" /><line x1="420.30" y1="115.20" x2="420.30" y2="112.70" stroke="#000" stroke-width="0.8" /><line x1="420.30" y1="22.10" x2="420.30" y2="24.60" stroke="#000" stroke-width="0.8" /><text x="420.3" y="124.2" font-size="6.6" text-anchor="middle" fill="#111" font-weight="bold" >0.4</text><line x1="432.05" y1="115.20" x2="432.05" y2="113.80" stroke="#000" stroke-width="0.8" /><line x1="432.05" y1="22.10" x2="432.05" y2="23.50" stroke="#000" stroke-width="0.8" /><line x1="443.80" y1="115.20" x2="443.80" y2="112.70" stroke="#000" stroke-width="0.8" /><line x1="443.80" y1="22.10" x2="443.80" y2="24.60" stroke="#000" stroke-width="0.8" /><text x="443.8" y="124.2" font-size="6.6" text-anchor="middle" fill="#111" font-weight="bold" >0.6</text><line x1="455.55" y1="115.20" x2="455.55" y2="113.80" stroke="#000" stroke-width="0.8" /><line x1="455.55" y1="22.10" x2="455.55" y2="23.50" stroke="#000" stroke-width="0.8" /><line x1="467.30" y1="115.20" x2="467.30" y2="112.70" stroke="#000" stroke-width="0.8" /><line x1="467.30" y1="22.10" x2="467.30" y2="24.60" stroke="#000" stroke-width="0.8" /><text x="467.3" y="124.2" font-size="6.6" text-anchor="middle" fill="#111" font-weight="bold" >0.8</text><line x1="479.05" y1="115.20" x2="479.05" y2="113.80" stroke="#000" stroke-width="0.8" /><line x1="479.05" y1="22.10" x2="479.05" y2="23.50" stroke="#000" stroke-width="0.8" /><line x1="490.80" y1="115.20" x2="490.80" y2="112.70" stroke="#000" stroke-width="0.8" /><line x1="490.80" y1="22.10" x2="490.80" y2="24.60" stroke="#000" stroke-width="0.8" /><text x="490.8" y="124.2" font-size="6.6" text-anchor="middle" fill="#111" font-weight="bold" >1.0</text><text x="432.55" y="135.8" font-size="8.2" text-anchor="middle" fill="#111" font-weight="bold" textLength="61" lengthAdjust="spacingAndGlyphs" >Au concentration</text><text x="346.6" y="68.0" font-size="8.3" text-anchor="middle" fill="#111" font-weight="bold" transform="rotate(-90 346.6 68.0)" textLength="98.5" lengthAdjust="spacingAndGlyphs" >Formation energy (eV/atom)</text><circle cx="432.55" cy="38.84" r="1.86" fill="url(#gyd)" /><circle cx="436.25" cy="38.84" r="1.86" fill="url(#gyd)" /><circle cx="426.99" cy="42.04" r="1.86" fill="url(#gyd)" /><circle cx="430.69" cy="42.04" r="1.86" fill="url(#gyd)" /><circle cx="434.40" cy="42.04" r="1.86" fill="url(#gyd)" /><circle cx="438.11" cy="42.04" r="1.86" fill="url(#gyd)" /><circle cx="441.81" cy="42.04" r="1.86" fill="url(#gyd)" /><circle cx="425.14" cy="45.25" r="1.86" fill="url(#gyd)" /><circle cx="428.84" cy="45.25" r="1.86" fill="url(#gyd)" /><circle cx="432.55" cy="45.25" r="1.86" fill="url(#gyd)" /><circle cx="436.25" cy="45.25" r="1.86" fill="url(#gyd)" /><circle cx="439.96" cy="45.25" r="1.86" fill="url(#gyd)" /><circle cx="443.66" cy="45.25" r="1.86" fill="url(#gyd)" /><circle cx="423.29" cy="48.46" r="1.86" fill="url(#gyd)" /><circle cx="426.99" cy="48.46" r="1.86" fill="url(#gyd)" /><circle cx="430.69" cy="48.46" r="1.86" fill="url(#gyd)" /><circle cx="434.40" cy="48.46" r="1.86" fill="url(#gyd)" /><circle cx="438.11" cy="48.46" r="1.86" fill="url(#gyd)" /><circle cx="441.81" cy="48.46" r="1.86" fill="url(#gyd)" /><circle cx="445.52" cy="48.46" r="1.86" fill="url(#gyd)" /><circle cx="425.14" cy="51.67" r="1.86" fill="url(#gyd)" /><circle cx="428.84" cy="51.67" r="1.86" fill="url(#gyd)" /><circle cx="432.55" cy="51.67" r="1.86" fill="url(#gyd)" /><circle cx="436.25" cy="51.67" r="1.86" fill="url(#gyd)" /><circle cx="439.96" cy="51.67" r="1.86" fill="url(#gyd)" /><circle cx="443.66" cy="51.67" r="1.86" fill="url(#gyd)" /><circle cx="423.29" cy="54.88" r="1.86" fill="url(#gyd)" /><circle cx="426.99" cy="54.88" r="1.86" fill="url(#gyd)" /><circle cx="430.69" cy="54.88" r="1.86" fill="url(#gyd)" /><circle cx="434.40" cy="54.88" r="1.86" fill="url(#gyd)" /><circle cx="438.11" cy="54.88" r="1.86" fill="url(#gyd)" /><circle cx="441.81" cy="54.88" r="1.86" fill="url(#gyd)" /><circle cx="445.52" cy="54.88" r="1.86" fill="url(#gyd)" /><circle cx="425.14" cy="58.09" r="1.86" fill="url(#gyd)" /><circle cx="428.84" cy="58.09" r="1.86" fill="url(#gyd)" /><circle cx="432.55" cy="58.09" r="1.86" fill="url(#gyd)" /><circle cx="436.25" cy="58.09" r="1.86" fill="url(#gyd)" /><circle cx="439.96" cy="58.09" r="1.86" fill="url(#gyd)" /><circle cx="443.66" cy="58.09" r="1.86" fill="url(#gyd)" /><circle cx="430.69" cy="61.30" r="1.86" fill="url(#gyd)" /><circle cx="434.40" cy="61.30" r="1.86" fill="url(#gyd)" /><circle cx="438.11" cy="61.30" r="1.86" fill="url(#gyd)" /><circle cx="434.40" cy="37.77" r="1.90" fill="url(#gys)" /><circle cx="428.84" cy="40.97" r="1.90" fill="url(#gys)" /><circle cx="432.55" cy="40.97" r="1.90" fill="url(#gys)" /><circle cx="436.25" cy="40.97" r="1.90" fill="url(#gys)" /><circle cx="439.96" cy="40.97" r="1.90" fill="url(#gys)" /><circle cx="423.28" cy="44.18" r="1.90" fill="url(#gys)" /><circle cx="426.99" cy="44.18" r="1.90" fill="url(#gys)" /><circle cx="430.69" cy="44.18" r="1.90" fill="url(#gys)" /><circle cx="434.40" cy="44.18" r="1.90" fill="url(#gys)" /><circle cx="438.10" cy="44.18" r="1.90" fill="url(#gys)" /><circle cx="441.81" cy="44.18" r="1.90" fill="url(#gys)" /><circle cx="445.51" cy="44.18" r="1.90" fill="url(#gys)" /><circle cx="425.14" cy="47.39" r="1.90" fill="url(#gys)" /><circle cx="428.84" cy="47.39" r="1.90" fill="url(#gys)" /><circle cx="432.55" cy="47.39" r="1.90" fill="url(#gys)" /><circle cx="436.25" cy="47.39" r="1.90" fill="url(#gys)" /><circle cx="439.96" cy="47.39" r="1.90" fill="url(#gys)" /><circle cx="443.66" cy="47.39" r="1.90" fill="url(#gys)" /><circle cx="423.28" cy="50.60" r="1.90" fill="url(#gys)" /><circle cx="426.99" cy="50.60" r="1.90" fill="url(#gys)" /><circle cx="430.69" cy="50.60" r="1.90" fill="url(#gys)" /><circle cx="434.40" cy="50.60" r="1.90" fill="url(#gys)" /><circle cx="438.10" cy="50.60" r="1.90" fill="url(#gys)" /><circle cx="441.81" cy="50.60" r="1.90" fill="url(#gys)" /><circle cx="445.51" cy="50.60" r="1.90" fill="url(#gys)" /><circle cx="425.14" cy="53.81" r="1.90" fill="url(#gys)" /><circle cx="428.84" cy="53.81" r="1.90" fill="url(#gys)" /><circle cx="432.55" cy="53.81" r="1.90" fill="url(#gys)" /><circle cx="436.25" cy="53.81" r="1.90" fill="url(#gys)" /><circle cx="439.96" cy="53.81" r="1.90" fill="url(#gys)" /><circle cx="443.66" cy="53.81" r="1.90" fill="url(#gys)" /><circle cx="423.28" cy="57.02" r="1.90" fill="url(#gys)" /><circle cx="426.99" cy="57.02" r="1.90" fill="url(#gys)" /><circle cx="430.69" cy="57.02" r="1.90" fill="url(#gys)" /><circle cx="434.40" cy="57.02" r="1.90" fill="url(#gys)" /><circle cx="438.10" cy="57.02" r="1.90" fill="url(#gys)" /><circle cx="441.81" cy="57.02" r="1.90" fill="url(#gys)" /><circle cx="445.51" cy="57.02" r="1.90" fill="url(#gys)" /><circle cx="428.84" cy="60.23" r="1.90" fill="url(#gys)" /><circle cx="432.55" cy="60.23" r="1.90" fill="url(#gys)" /><circle cx="436.25" cy="60.23" r="1.90" fill="url(#gys)" /><circle cx="439.96" cy="60.23" r="1.90" fill="url(#gys)" /><circle cx="434.40" cy="63.43" r="1.90" fill="url(#gys)" /><text x="433.2" y="72.3" font-size="6.8" text-anchor="middle" fill="#111" font-weight="bold" >icosahedral</text><text x="454.3" y="34.5" font-size="6.8" text-anchor="start" fill="#111" font-weight="bold" >ANN</text><line x1="471.50" y1="32.20" x2="482.00" y2="32.20" stroke="#000" stroke-width="1.2" /><circle cx="477.00" cy="32.20" r="2.00" fill="#000" /><line x1="542.40" y1="48.67" x2="660.80" y2="48.67" stroke="#a0a0a0" stroke-width="1.1" stroke-dasharray="2 1.3"/><polyline points="542.40,34.06 553.06,50.66 554.24,54.65 556.61,59.30 558.98,61.29 561.34,64.61 574.37,76.57 575.55,77.90 589.76,88.53 598.05,91.19 615.81,97.83 625.28,99.82 627.65,99.16 637.12,96.50 641.86,93.84 660.80,75.24" stroke="#1a1ae8" stroke-width="1.2" fill="none" /><rect x="540.30" y="30.63" width="4.20" height="4.20" fill="none" stroke="#2a2ae8" stroke-width="0.8" /><rect x="550.96" y="45.24" width="4.20" height="4.20" fill="none" stroke="#2a2ae8" stroke-width="0.8" /><rect x="553.32" y="47.90" width="4.20" height="4.20" fill="none" stroke="#2a2ae8" stroke-width="0.8" /><rect x="555.69" y="49.89" width="4.20" height="4.20" fill="none" stroke="#2a2ae8" stroke-width="0.8" /><rect x="559.24" y="54.54" width="4.20" height="4.20" fill="none" stroke="#2a2ae8" stroke-width="0.8" /><rect x="572.27" y="71.81" width="4.20" height="4.20" fill="none" stroke="#2a2ae8" stroke-width="0.8" /><rect x="587.66" y="85.10" width="4.20" height="4.20" fill="none" stroke="#2a2ae8" stroke-width="0.8" /><rect x="595.95" y="90.41" width="4.20" height="4.20" fill="none" stroke="#2a2ae8" stroke-width="0.8" /><rect x="623.18" y="101.04" width="4.20" height="4.20" fill="none" stroke="#2a2ae8" stroke-width="0.8" /><rect x="625.55" y="98.39" width="4.20" height="4.20" fill="none" stroke="#2a2ae8" stroke-width="0.8" /><rect x="635.02" y="99.05" width="4.20" height="4.20" fill="none" stroke="#2a2ae8" stroke-width="0.8" /><rect x="639.76" y="93.07" width="4.20" height="4.20" fill="none" stroke="#2a2ae8" stroke-width="0.8" /><rect x="658.70" y="70.49" width="4.20" height="4.20" fill="none" stroke="#2a2ae8" stroke-width="0.8" /><rect x="540.90" y="32.56" width="3.00" height="3.00" fill="#1a1ae8" stroke="none" stroke-width="1" /><rect x="551.56" y="49.16" width="3.00" height="3.00" fill="#1a1ae8" stroke="none" stroke-width="1" /><rect x="552.74" y="53.15" width="3.00" height="3.00" fill="#1a1ae8" stroke="none" stroke-width="1" /><rect x="555.11" y="57.80" width="3.00" height="3.00" fill="#1a1ae8" stroke="none" stroke-width="1" /><rect x="557.48" y="59.79" width="3.00" height="3.00" fill="#1a1ae8" stroke="none" stroke-width="1" /><rect x="559.84" y="63.11" width="3.00" height="3.00" fill="#1a1ae8" stroke="none" stroke-width="1" /><rect x="572.87" y="75.07" width="3.00" height="3.00" fill="#1a1ae8" stroke="none" stroke-width="1" /><rect x="574.05" y="76.40" width="3.00" height="3.00" fill="#1a1ae8" stroke="none" stroke-width="1" /><rect x="588.26" y="87.03" width="3.00" height="3.00" fill="#1a1ae8" stroke="none" stroke-width="1" /><rect x="596.55" y="89.69" width="3.00" height="3.00" fill="#1a1ae8" stroke="none" stroke-width="1" /><rect x="614.31" y="96.33" width="3.00" height="3.00" fill="#1a1ae8" stroke="none" stroke-width="1" /><rect x="623.78" y="98.32" width="3.00" height="3.00" fill="#1a1ae8" stroke="none" stroke-width="1" /><rect x="626.15" y="97.66" width="3.00" height="3.00" fill="#1a1ae8" stroke="none" stroke-width="1" /><rect x="635.62" y="95.00" width="3.00" height="3.00" fill="#1a1ae8" stroke="none" stroke-width="1" /><rect x="640.36" y="92.34" width="3.00" height="3.00" fill="#1a1ae8" stroke="none" stroke-width="1" /><rect x="659.30" y="73.74" width="3.00" height="3.00" fill="#1a1ae8" stroke="none" stroke-width="1" /><polyline points="542.40,48.67 545.95,57.31 549.50,61.96 553.06,66.61 556.61,70.59 560.16,73.91 563.71,78.56 568.45,82.55 573.18,87.20 576.74,91.19 579.10,93.84 583.84,97.83 599.23,104.47 607.52,105.80 616.99,107.79 622.91,107.13 627.65,104.47 632.38,100.49 637.12,93.84 643.04,81.89 648.96,68.60 654.88,59.96 660.80,48.67" stroke="#000" stroke-width="1.3" fill="none" /><circle cx="545.95" cy="57.31" r="1.50" fill="#000" /><circle cx="549.50" cy="61.96" r="1.50" fill="#000" /><circle cx="553.06" cy="66.61" r="1.50" fill="#000" /><circle cx="556.61" cy="70.59" r="1.50" fill="#000" /><circle cx="560.16" cy="73.91" r="1.50" fill="#000" /><circle cx="563.71" cy="78.56" r="1.50" fill="#000" /><circle cx="568.45" cy="82.55" r="1.50" fill="#000" /><circle cx="573.18" cy="87.20" r="1.50" fill="#000" /><circle cx="576.74" cy="91.19" r="1.50" fill="#000" /><circle cx="579.10" cy="93.84" r="1.50" fill="#000" /><circle cx="583.84" cy="97.83" r="1.50" fill="#000" /><circle cx="599.23" cy="104.47" r="1.50" fill="#000" /><circle cx="607.52" cy="105.80" r="1.50" fill="#000" /><circle cx="616.99" cy="107.79" r="1.50" fill="#000" /><circle cx="622.91" cy="107.13" r="1.50" fill="#000" /><circle cx="627.65" cy="104.47" r="1.50" fill="#000" /><circle cx="632.38" cy="100.49" r="1.50" fill="#000" /><circle cx="637.12" cy="93.84" r="1.50" fill="#000" /><circle cx="643.04" cy="81.89" r="1.50" fill="#000" /><circle cx="648.96" cy="68.60" r="1.50" fill="#000" /><circle cx="654.88" cy="59.96" r="1.50" fill="#000" /><circle cx="542.40" cy="48.67" r="3.00" fill="#000" /><circle cx="660.80" cy="48.67" r="3.00" fill="#000" /><circle cx="600.42" cy="105.14" r="2.4" fill="none" stroke="#000" stroke-width="0.9"/><circle cx="621.14" cy="110.45" r="2.4" fill="none" stroke="#000" stroke-width="0.9"/><circle cx="625.87" cy="110.45" r="2.4" fill="none" stroke="#000" stroke-width="0.9"/><line x1="615.19" y1="103.34" x2="618.79" y2="106.94" stroke="#000" stroke-width="0.9" /><line x1="615.19" y1="106.94" x2="618.79" y2="103.34" stroke="#000" stroke-width="0.9" /><line x1="616.99" y1="102.84" x2="616.99" y2="107.44" stroke="#000" stroke-width="0.8" /><rect x="616.38" y="107.99" width="3.60" height="3.60" fill="#f01818" stroke="none" stroke-width="1" /><rect x="542.40" y="22.10" width="118.40" height="93.00" fill="none" stroke="#111" stroke-width="1.1" /><line x1="542.40" y1="22.10" x2="544.90" y2="22.10" stroke="#000" stroke-width="0.8" /><line x1="660.80" y1="22.10" x2="658.30" y2="22.10" stroke="#000" stroke-width="0.8" /><line x1="542.40" y1="28.74" x2="543.80" y2="28.74" stroke="#000" stroke-width="0.7" /><line x1="660.80" y1="28.74" x2="659.40" y2="28.74" stroke="#000" stroke-width="0.7" /><text x="539.8" y="24.400000000000002" font-size="6.6" text-anchor="end" fill="#111" font-weight="bold" >0.20</text><line x1="542.40" y1="35.39" x2="544.90" y2="35.39" stroke="#000" stroke-width="0.8" /><line x1="660.80" y1="35.39" x2="658.30" y2="35.39" stroke="#000" stroke-width="0.8" /><line x1="542.40" y1="42.03" x2="543.80" y2="42.03" stroke="#000" stroke-width="0.7" /><line x1="660.80" y1="42.03" x2="659.40" y2="42.03" stroke="#000" stroke-width="0.7" /><text x="539.8" y="37.68571428571428" font-size="6.6" text-anchor="end" fill="#111" font-weight="bold" >0.10</text><line x1="542.40" y1="48.67" x2="544.90" y2="48.67" stroke="#000" stroke-width="0.8" /><line x1="660.80" y1="48.67" x2="658.30" y2="48.67" stroke="#000" stroke-width="0.8" /><line x1="542.40" y1="55.31" x2="543.80" y2="55.31" stroke="#000" stroke-width="0.7" /><line x1="660.80" y1="55.31" x2="659.40" y2="55.31" stroke="#000" stroke-width="0.7" /><text x="539.8" y="50.971428571428575" font-size="6.6" text-anchor="end" fill="#111" font-weight="bold" >0.00</text><line x1="542.40" y1="61.96" x2="544.90" y2="61.96" stroke="#000" stroke-width="0.8" /><line x1="660.80" y1="61.96" x2="658.30" y2="61.96" stroke="#000" stroke-width="0.8" /><line x1="542.40" y1="68.60" x2="543.80" y2="68.60" stroke="#000" stroke-width="0.7" /><line x1="660.80" y1="68.60" x2="659.40" y2="68.60" stroke="#000" stroke-width="0.7" /><text x="539.8" y="64.25714285714287" font-size="6.6" text-anchor="end" fill="#111" font-weight="bold" >&#8722;0.10</text><line x1="542.40" y1="75.24" x2="544.90" y2="75.24" stroke="#000" stroke-width="0.8" /><line x1="660.80" y1="75.24" x2="658.30" y2="75.24" stroke="#000" stroke-width="0.8" /><line x1="542.40" y1="81.89" x2="543.80" y2="81.89" stroke="#000" stroke-width="0.7" /><line x1="660.80" y1="81.89" x2="659.40" y2="81.89" stroke="#000" stroke-width="0.7" /><text x="539.8" y="77.54285714285716" font-size="6.6" text-anchor="end" fill="#111" font-weight="bold" >&#8722;0.20</text><line x1="542.40" y1="88.53" x2="544.90" y2="88.53" stroke="#000" stroke-width="0.8" /><line x1="660.80" y1="88.53" x2="658.30" y2="88.53" stroke="#000" stroke-width="0.8" /><line x1="542.40" y1="95.17" x2="543.80" y2="95.17" stroke="#000" stroke-width="0.7" /><line x1="660.80" y1="95.17" x2="659.40" y2="95.17" stroke="#000" stroke-width="0.7" /><text x="539.8" y="90.82857142857144" font-size="6.6" text-anchor="end" fill="#111" font-weight="bold" >&#8722;0.30</text><line x1="542.40" y1="101.81" x2="544.90" y2="101.81" stroke="#000" stroke-width="0.8" /><line x1="660.80" y1="101.81" x2="658.30" y2="101.81" stroke="#000" stroke-width="0.8" /><line x1="542.40" y1="108.46" x2="543.80" y2="108.46" stroke="#000" stroke-width="0.7" /><line x1="660.80" y1="108.46" x2="659.40" y2="108.46" stroke="#000" stroke-width="0.7" /><text x="539.8" y="104.11428571428574" font-size="6.6" text-anchor="end" fill="#111" font-weight="bold" >&#8722;0.40</text><line x1="542.40" y1="115.10" x2="544.90" y2="115.10" stroke="#000" stroke-width="0.8" /><line x1="660.80" y1="115.10" x2="658.30" y2="115.10" stroke="#000" stroke-width="0.8" /><text x="539.8" y="117.39999999999999" font-size="6.6" text-anchor="end" fill="#111" font-weight="bold" >&#8722;0.50</text><line x1="542.40" y1="115.10" x2="542.40" y2="112.60" stroke="#000" stroke-width="0.8" /><line x1="542.40" y1="22.10" x2="542.40" y2="24.60" stroke="#000" stroke-width="0.8" /><text x="542.4" y="124.1" font-size="6.6" text-anchor="middle" fill="#111" font-weight="bold" >0.0</text><line x1="554.24" y1="115.10" x2="554.24" y2="113.70" stroke="#000" stroke-width="0.8" /><line x1="554.24" y1="22.10" x2="554.24" y2="23.50" stroke="#000" stroke-width="0.8" /><line x1="566.08" y1="115.10" x2="566.08" y2="112.60" stroke="#000" stroke-width="0.8" /><line x1="566.08" y1="22.10" x2="566.08" y2="24.60" stroke="#000" stroke-width="0.8" /><text x="566.0799999999999" y="124.1" font-size="6.6" text-anchor="middle" fill="#111" font-weight="bold" >0.2</text><line x1="577.92" y1="115.10" x2="577.92" y2="113.70" stroke="#000" stroke-width="0.8" /><line x1="577.92" y1="22.10" x2="577.92" y2="23.50" stroke="#000" stroke-width="0.8" /><line x1="589.76" y1="115.10" x2="589.76" y2="112.60" stroke="#000" stroke-width="0.8" /><line x1="589.76" y1="22.10" x2="589.76" y2="24.60" stroke="#000" stroke-width="0.8" /><text x="589.76" y="124.1" font-size="6.6" text-anchor="middle" fill="#111" font-weight="bold" >0.4</text><line x1="601.60" y1="115.10" x2="601.60" y2="113.70" stroke="#000" stroke-width="0.8" /><line x1="601.60" y1="22.10" x2="601.60" y2="23.50" stroke="#000" stroke-width="0.8" /><line x1="613.44" y1="115.10" x2="613.44" y2="112.60" stroke="#000" stroke-width="0.8" /><line x1="613.44" y1="22.10" x2="613.44" y2="24.60" stroke="#000" stroke-width="0.8" /><text x="613.4399999999999" y="124.1" font-size="6.6" text-anchor="middle" fill="#111" font-weight="bold" >0.6</text><line x1="625.28" y1="115.10" x2="625.28" y2="113.70" stroke="#000" stroke-width="0.8" /><line x1="625.28" y1="22.10" x2="625.28" y2="23.50" stroke="#000" stroke-width="0.8" /><line x1="637.12" y1="115.10" x2="637.12" y2="112.60" stroke="#000" stroke-width="0.8" /><line x1="637.12" y1="22.10" x2="637.12" y2="24.60" stroke="#000" stroke-width="0.8" /><text x="637.12" y="124.1" font-size="6.6" text-anchor="middle" fill="#111" font-weight="bold" >0.8</text><line x1="648.96" y1="115.10" x2="648.96" y2="113.70" stroke="#000" stroke-width="0.8" /><line x1="648.96" y1="22.10" x2="648.96" y2="23.50" stroke="#000" stroke-width="0.8" /><line x1="660.80" y1="115.10" x2="660.80" y2="112.60" stroke="#000" stroke-width="0.8" /><line x1="660.80" y1="22.10" x2="660.80" y2="24.60" stroke="#000" stroke-width="0.8" /><text x="660.8" y="124.1" font-size="6.6" text-anchor="middle" fill="#111" font-weight="bold" >1.0</text><text x="602.0999999999999" y="135.7" font-size="8.2" text-anchor="middle" fill="#111" font-weight="bold" textLength="61" lengthAdjust="spacingAndGlyphs" >Au concentration</text><text x="513.5" y="67.2" font-size="8.3" text-anchor="middle" fill="#111" font-weight="bold" transform="rotate(-90 513.5 67.2)" textLength="100" lengthAdjust="spacingAndGlyphs" >Formation energy (eV/atom)</text><text x="639.4" y="34.8" font-size="6.9" text-anchor="end" fill="#111" font-weight="bold" textLength="55.5" lengthAdjust="spacingAndGlyphs" >147 (icosahedral)</text><text x="639.4" y="42.2" font-size="6.9" text-anchor="end" fill="#111" font-weight="bold" textLength="51.5" lengthAdjust="spacingAndGlyphs" >140 (trunc. FCC)</text><line x1="642.80" y1="32.40" x2="650.60" y2="32.40" stroke="#000" stroke-width="1.2" /><circle cx="646.70" cy="32.40" r="1.90" fill="#000" /><line x1="642.80" y1="39.80" x2="650.60" y2="39.80" stroke="#1a1ae8" stroke-width="1.2" /><rect x="645.00" y="38.10" width="3.40" height="3.40" fill="#1a1ae8" stroke="none" stroke-width="1" /><text x="616.8" y="59.2" font-size="6.8" text-anchor="middle" fill="#111" font-weight="bold" textLength="32" lengthAdjust="spacingAndGlyphs" >trunc. FCC</text><polygon points="610.40,60.20 625.40,60.20 633.40,68.20 633.40,82.20 625.40,90.20 610.40,90.20 602.40,82.20 602.40,68.20" fill="#5e5a00" /><circle cx="611.50" cy="62.40" r="1.75" fill="url(#gys)" /><circle cx="614.70" cy="62.40" r="1.75" fill="url(#gys)" /><circle cx="617.90" cy="62.40" r="1.75" fill="url(#gys)" /><circle cx="621.10" cy="62.40" r="1.75" fill="url(#gys)" /><circle cx="624.30" cy="62.40" r="1.75" fill="url(#gys)" /><circle cx="608.30" cy="65.60" r="1.75" fill="url(#gys)" /><circle cx="611.50" cy="65.60" r="1.75" fill="url(#gys)" /><circle cx="614.70" cy="65.60" r="1.75" fill="url(#gys)" /><circle cx="617.90" cy="65.60" r="1.75" fill="url(#gys)" /><circle cx="621.10" cy="65.60" r="1.75" fill="url(#gys)" /><circle cx="624.30" cy="65.60" r="1.75" fill="url(#gys)" /><circle cx="627.50" cy="65.60" r="1.75" fill="url(#gys)" /><circle cx="605.10" cy="68.80" r="1.75" fill="url(#gys)" /><circle cx="608.30" cy="68.80" r="1.75" fill="url(#gys)" /><circle cx="611.50" cy="68.80" r="1.75" fill="url(#gys)" /><circle cx="614.70" cy="68.80" r="1.75" fill="url(#gys)" /><circle cx="617.90" cy="68.80" r="1.75" fill="url(#gys)" /><circle cx="621.10" cy="68.80" r="1.75" fill="url(#gys)" /><circle cx="624.30" cy="68.80" r="1.75" fill="url(#gys)" /><circle cx="627.50" cy="68.80" r="1.75" fill="url(#gys)" /><circle cx="630.70" cy="68.80" r="1.75" fill="url(#gys)" /><circle cx="605.10" cy="72.00" r="1.75" fill="url(#gys)" /><circle cx="608.30" cy="72.00" r="1.75" fill="url(#gys)" /><circle cx="611.50" cy="72.00" r="1.75" fill="url(#gys)" /><circle cx="614.70" cy="72.00" r="1.75" fill="url(#gys)" /><circle cx="617.90" cy="72.00" r="1.75" fill="url(#gys)" /><circle cx="621.10" cy="72.00" r="1.75" fill="url(#gys)" /><circle cx="624.30" cy="72.00" r="1.75" fill="url(#gys)" /><circle cx="627.50" cy="72.00" r="1.75" fill="url(#gys)" /><circle cx="630.70" cy="72.00" r="1.75" fill="url(#gys)" /><circle cx="605.10" cy="75.20" r="1.75" fill="url(#gys)" /><circle cx="608.30" cy="75.20" r="1.75" fill="url(#gys)" /><circle cx="611.50" cy="75.20" r="1.75" fill="url(#gys)" /><circle cx="614.70" cy="75.20" r="1.75" fill="url(#gys)" /><circle cx="617.90" cy="75.20" r="1.75" fill="url(#gys)" /><circle cx="621.10" cy="75.20" r="1.75" fill="url(#gys)" /><circle cx="624.30" cy="75.20" r="1.75" fill="url(#gys)" /><circle cx="627.50" cy="75.20" r="1.75" fill="url(#gys)" /><circle cx="630.70" cy="75.20" r="1.75" fill="url(#gys)" /><circle cx="605.10" cy="78.40" r="1.75" fill="url(#gys)" /><circle cx="608.30" cy="78.40" r="1.75" fill="url(#gys)" /><circle cx="611.50" cy="78.40" r="1.75" fill="url(#gys)" /><circle cx="614.70" cy="78.40" r="1.75" fill="url(#gys)" /><circle cx="617.90" cy="78.40" r="1.75" fill="url(#gys)" /><circle cx="621.10" cy="78.40" r="1.75" fill="url(#gys)" /><circle cx="624.30" cy="78.40" r="1.75" fill="url(#gys)" /><circle cx="627.50" cy="78.40" r="1.75" fill="url(#gys)" /><circle cx="630.70" cy="78.40" r="1.75" fill="url(#gys)" /><circle cx="605.10" cy="81.60" r="1.75" fill="url(#gys)" /><circle cx="608.30" cy="81.60" r="1.75" fill="url(#gys)" /><circle cx="611.50" cy="81.60" r="1.75" fill="url(#gys)" /><circle cx="614.70" cy="81.60" r="1.75" fill="url(#gys)" /><circle cx="617.90" cy="81.60" r="1.75" fill="url(#gys)" /><circle cx="621.10" cy="81.60" r="1.75" fill="url(#gys)" /><circle cx="624.30" cy="81.60" r="1.75" fill="url(#gys)" /><circle cx="627.50" cy="81.60" r="1.75" fill="url(#gys)" /><circle cx="630.70" cy="81.60" r="1.75" fill="url(#gys)" /><circle cx="608.30" cy="84.80" r="1.75" fill="url(#gys)" /><circle cx="611.50" cy="84.80" r="1.75" fill="url(#gys)" /><circle cx="614.70" cy="84.80" r="1.75" fill="url(#gys)" /><circle cx="617.90" cy="84.80" r="1.75" fill="url(#gys)" /><circle cx="621.10" cy="84.80" r="1.75" fill="url(#gys)" /><circle cx="624.30" cy="84.80" r="1.75" fill="url(#gys)" /><circle cx="627.50" cy="84.80" r="1.75" fill="url(#gys)" /><circle cx="611.50" cy="88.00" r="1.75" fill="url(#gys)" /><circle cx="614.70" cy="88.00" r="1.75" fill="url(#gys)" /><circle cx="617.90" cy="88.00" r="1.75" fill="url(#gys)" /><circle cx="621.10" cy="88.00" r="1.75" fill="url(#gys)" /><circle cx="624.30" cy="88.00" r="1.75" fill="url(#gys)" /><line x1="601.00" y1="76.50" x2="585.00" y2="79.60" stroke="#1a1ae8" stroke-width="1.2" /><polygon points="580.50,80.50 586.50,77.20 587.30,81.60" fill="#1a1ae8" /><text x="549" y="111.6" font-size="7.2" text-anchor="start" fill="#f01818" font-weight="bold" >ideal Cu<tspan font-size="4.8" dy="1.6">55</tspan><tspan dy="-1.6">Au</tspan><tspan font-size="4.8" dy="1.6">92</tspan></text><line x1="597.00" y1="109.30" x2="610.50" y2="109.30" stroke="#f01818" stroke-width="1.1" /><polygon points="614.50,109.30 609.50,107.00 609.50,111.60" fill="#f01818" /><polyline points="368.80,239.92 369.10,240.06 369.40,239.65 369.70,240.43 370.00,239.74 370.30,240.48 370.59,239.90 370.89,240.02 371.19,240.28 371.49,239.80 371.79,240.00 372.09,239.88 372.39,239.57 372.69,240.25 372.99,240.50 373.29,240.20 373.58,239.82 373.88,240.31 374.18,240.34 374.48,239.58 374.78,239.84 375.08,240.06 375.38,239.60 375.68,240.18 375.98,239.83 376.28,240.31 376.57,240.07 376.87,239.69 377.17,239.57 377.47,239.61 377.77,240.12 378.07,239.91 378.37,240.19 378.67,240.37 378.97,240.00 379.26,239.65 379.56,239.64 379.86,239.78 380.16,239.54 380.46,240.23 380.76,240.34 381.06,240.05 381.36,240.23 381.66,240.29 381.96,240.09 382.25,239.87 382.55,240.01 382.85,240.19 383.15,239.65 383.45,239.50 383.75,240.05 384.05,240.44 384.35,240.48 384.65,239.62 384.95,240.47 385.25,239.79 385.54,239.93 385.84,240.20 386.14,239.70 386.44,240.49 386.74,240.37 387.04,240.05 387.34,240.49 387.64,239.66 387.94,240.27 388.24,240.37 388.53,240.47 388.83,239.87 389.13,240.06 389.43,239.87 389.73,239.84 390.03,239.68 390.33,239.53 390.63,239.81 390.93,240.31 391.23,240.03 391.52,240.33 391.82,240.50 392.12,240.03 392.42,239.78 392.72,240.33 393.02,240.23 393.32,240.16 393.62,239.80 393.92,239.98 394.22,239.88 394.51,239.74 394.81,240.11 395.11,239.70 395.41,239.58 395.71,240.42 396.01,239.56 396.31,239.77 396.61,240.38 396.91,240.05 397.20,239.87 397.50,239.58 397.80,240.13 398.10,239.93 398.40,239.61 398.70,239.69 399.00,239.54 399.30,240.04 399.60,239.84 399.90,240.30 400.19,239.77 400.49,239.67 400.79,239.85 401.09,239.78 401.39,240.29 401.69,239.59 401.99,239.51 402.29,239.51 402.59,239.96 402.89,239.70 403.19,240.18 403.48,239.58 403.78,239.63 404.08,240.16 404.38,240.43 404.68,240.06 404.98,239.95 405.28,239.72 405.58,240.01 405.88,240.49 406.18,239.68 406.47,240.45 406.77,239.69 407.07,240.34 407.37,240.17 407.67,239.70 407.97,240.37 408.27,240.36 408.57,239.98 408.87,239.77 409.17,239.65 409.46,239.81 409.76,239.54 410.06,240.01 410.36,239.54 410.66,240.43 410.96,240.29 411.26,239.97 411.56,240.22 411.86,239.76 412.15,239.86 412.45,239.98 412.75,239.65 413.05,239.94 413.35,240.19 413.65,240.12 413.95,239.64 414.25,239.59 414.55,240.30 414.85,239.64 415.14,239.52 415.44,239.98 415.74,239.92 416.04,240.31 416.34,239.96 416.64,240.00 416.94,239.89 417.24,240.49 417.54,239.52 417.84,239.98 418.13,240.10 418.43,239.69 418.73,239.94 419.03,240.01 419.33,239.80 419.63,240.45 419.93,239.96 420.23,240.09 420.53,239.53 420.83,239.56 421.12,240.24 421.42,240.03 421.72,240.38 422.02,240.07 422.32,239.68 422.62,239.59 422.92,240.02 423.22,240.19 423.52,240.32 423.82,239.88 424.12,239.56 424.41,240.38 424.71,239.71 425.01,240.49 425.31,240.31 425.61,240.28 425.91,239.81 426.21,240.18 426.51,240.15 426.81,239.88 427.11,240.41 427.40,239.76 427.70,240.39 428.00,239.99 428.30,240.26 428.60,240.31 428.90,239.97 429.20,240.07 429.50,240.13 429.80,240.09 430.09,239.97 430.39,240.35 430.69,240.30 430.99,239.86 431.29,239.86 431.59,239.97 431.89,239.64 432.19,239.89 432.49,239.63 432.79,240.27 433.08,239.75 433.38,239.68 433.68,239.59 433.98,240.19 434.28,240.19 434.58,239.57 434.88,240.29 435.18,239.49 435.48,239.60 435.78,240.38 436.07,240.27 436.37,239.77 436.67,240.25 436.97,240.41 437.27,239.66 437.57,240.08 437.87,239.70 438.17,240.38 438.47,240.10 438.77,239.81 439.06,240.50 439.36,240.31 439.66,239.81 439.96,239.58 440.26,239.52 440.56,240.40 440.86,239.99 441.16,239.73 441.46,240.00 441.76,239.81 442.06,240.32 442.35,240.44 442.65,240.41 442.95,240.48 443.25,239.95 443.55,239.98 443.85,239.93 444.15,240.36 444.45,240.32 444.75,240.30 445.04,239.65 445.34,239.50 445.64,239.56 445.94,240.42 446.24,240.45 446.54,239.54 446.84,240.04 447.14,239.73 447.44,240.18 447.74,240.03 448.03,239.98 448.33,240.07 448.63,239.90 448.93,240.50 449.23,239.79 449.53,239.65 449.83,240.33 450.13,240.05 450.43,239.75 450.73,240.10 451.02,240.31 451.32,240.34 451.62,239.99 451.92,240.50 452.22,239.60 452.52,239.69 452.82,239.79 453.12,239.63 453.42,239.87 453.72,240.10 454.01,239.90 454.31,240.00 454.61,239.50 454.91,239.69 455.21,240.25 455.51,239.58 455.81,239.75 456.11,239.71 456.41,239.68 456.71,240.10 457.00,239.59 457.30,239.61 457.60,239.80 457.90,239.73 458.20,239.73 458.50,240.10 458.80,239.77 459.10,240.44 459.40,240.16 459.70,240.03 460.00,240.50 460.29,240.15 460.59,239.86 460.89,239.87 461.19,240.28 461.49,239.54 461.79,239.83 462.09,240.17 462.39,239.84 462.69,239.93 462.99,239.97 463.28,240.11 463.58,239.49 463.88,239.85 464.18,239.79 464.48,239.73 464.78,239.51 465.08,240.49 465.38,239.88 465.68,239.75 465.97,240.25 466.27,240.10 466.57,240.46 466.87,240.31 467.17,240.13 467.47,240.41 467.77,240.26 468.07,239.58 468.37,239.95 468.67,239.99 468.96,239.52 469.26,239.93 469.56,239.49 469.86,239.86 470.16,239.68 470.46,240.44 470.76,239.90 471.06,239.73 471.36,240.47 471.66,239.56 471.95,240.35 472.25,240.03 472.55,240.34 472.85,240.00 473.15,239.89 473.45,240.45 473.75,239.54 474.05,240.08 474.35,239.97 474.65,239.90 474.94,240.14 475.24,240.22 475.54,239.84 475.84,239.94 476.14,240.22 476.44,239.78 476.74,240.21 477.04,240.50 477.34,240.26 477.64,240.47 477.93,240.35 478.23,239.74 478.53,240.11 478.83,239.59 479.13,239.74 479.43,240.46 479.73,239.50 480.03,239.54 480.33,240.44 480.63,239.58 480.92,240.07 481.22,240.02 481.52,239.51 481.82,240.26 482.12,239.98 482.42,239.55 482.72,239.77 483.02,240.03 483.32,239.51 483.62,239.67 483.91,239.89 484.21,240.40 484.51,239.87 484.81,240.05 485.11,240.30 485.41,240.46 485.71,239.97 486.01,240.39 486.31,240.06 486.61,239.83 486.90,240.05 487.20,240.24 487.50,239.92 487.80,240.08 488.10,239.71 488.40,239.97" stroke="#000" stroke-width="0.7" fill="none" /><polyline points="368.80,238.08 369.10,238.16 369.40,238.55 369.70,239.44 370.00,239.67 370.30,238.26 370.59,238.46 370.89,238.75 371.19,239.22 371.49,239.38 371.79,238.64 372.09,238.85 372.39,238.81 372.69,238.73 372.99,238.52 373.29,239.53 373.58,239.42 373.88,238.11 374.18,238.22 374.48,238.29 374.78,239.80 375.08,239.76 375.38,239.38 375.68,239.11 375.98,238.75 376.28,239.69 376.57,238.90 376.87,239.74 377.17,239.72 377.47,238.65 377.77,238.88 378.07,238.74 378.37,239.20 378.67,239.01 378.97,239.49 379.26,239.25 379.56,238.53 379.86,238.36 380.16,239.74 380.46,239.66 380.76,238.41 381.06,238.75 381.36,238.49 381.66,239.49 381.96,239.11 382.25,239.41 382.55,238.41 382.85,239.21 383.15,238.69 383.45,238.09 383.75,239.29 384.05,238.88 384.35,238.53 384.65,238.21 384.95,239.10 385.25,239.21 385.54,239.70 385.84,238.30 386.14,239.73 386.44,239.72 386.74,238.86 387.04,239.00 387.34,238.64 387.64,239.33 387.94,238.48 388.24,239.73 388.53,239.49 388.83,238.68 389.13,239.72 389.43,239.32 389.73,238.57 390.03,238.62 390.33,239.36 390.63,239.61 390.93,239.23 391.23,238.56 391.52,239.21 391.82,239.66 392.12,238.59 392.42,238.85 392.72,238.22 393.02,238.18 393.32,238.23 393.62,239.08 393.92,238.43 394.22,239.32 394.51,239.30 394.81,239.15 395.11,238.19 395.41,238.26 395.71,239.42 396.01,239.22 396.31,239.21 396.61,239.22 396.91,239.16 397.20,239.17 397.50,239.52 397.80,238.86 398.10,238.44 398.40,238.90 398.70,238.37 399.00,238.86 399.30,239.55 399.60,238.51 399.90,238.29 400.19,239.36 400.49,239.83 400.79,238.94 401.09,238.89 401.39,238.85 401.69,238.13 401.99,238.70 402.29,238.42 402.59,239.76 402.89,238.89 403.19,238.45 403.48,239.72 403.78,239.72 404.08,238.54 404.38,238.25 404.68,239.72 404.98,238.73 405.28,239.61 405.58,238.53 405.88,238.70 406.18,239.43 406.47,239.47 406.77,238.49 407.07,238.93 407.37,238.49 407.67,239.16 407.97,239.26 408.27,238.13 408.57,238.66 408.87,238.98 409.17,238.90 409.46,238.57 409.76,238.60 410.06,238.22 410.36,239.13 410.66,238.38 410.96,238.67 411.26,238.34 411.56,238.42 411.86,238.37 412.15,238.27 412.45,238.15 412.75,238.72 413.05,238.93 413.35,238.59 413.65,238.43 413.95,239.11 414.25,239.11 414.55,239.61 414.85,238.54 415.14,238.09 415.44,239.20 415.74,239.57 416.04,239.50 416.34,239.11 416.64,239.35 416.94,238.13 417.24,239.76 417.54,239.32 417.84,239.66 418.13,238.71 418.43,238.47 418.73,239.55 419.03,239.76 419.33,239.05 419.63,238.82 419.93,238.23 420.23,239.81 420.53,239.68 420.83,239.54 421.12,239.48 421.42,239.45 421.72,238.58 422.02,238.80 422.32,239.47 422.62,239.54 422.92,239.37 423.22,239.56 423.52,238.51 423.82,239.31 424.12,238.88 424.41,238.40 424.71,239.01 425.01,239.40 425.31,238.27 425.61,238.23 425.91,239.26 426.21,238.89 426.51,238.15 426.81,239.00 427.11,239.47 427.40,239.78 427.70,238.17 428.00,238.43 428.30,239.18 428.60,238.92 428.90,238.94 429.20,239.38 429.50,238.09 429.80,238.69 430.09,239.44 430.39,239.85 430.69,239.02 430.99,239.20 431.29,238.44 431.59,238.59 431.89,238.78 432.19,239.59 432.49,239.59 432.79,239.29 433.08,239.40 433.38,238.31 433.68,238.94 433.98,238.72 434.28,238.08 434.58,239.39 434.88,238.91 435.18,239.60 435.48,238.48 435.78,239.87 436.07,238.39 436.37,238.35 436.67,238.39 436.97,239.72 437.27,239.39 437.57,238.58 437.87,239.70 438.17,239.01 438.47,239.03 438.77,238.15 439.06,238.82 439.36,238.33 439.66,239.32 439.96,238.45 440.26,239.12 440.56,238.22 440.86,239.71 441.16,238.38 441.46,239.50 441.76,238.89 442.06,238.93 442.35,239.59 442.65,238.37 442.95,239.31 443.25,239.31 443.55,239.73 443.85,239.32 444.15,239.03 444.45,238.58 444.75,239.22 445.04,238.63 445.34,239.68 445.64,239.16 445.94,239.04 446.24,238.13 446.54,238.38 446.84,238.69 447.14,239.85 447.44,239.19 447.74,238.59 448.03,239.44 448.33,238.86 448.63,239.05 448.93,239.85 449.23,238.09 449.53,238.43 449.83,239.50 450.13,238.76 450.43,239.35 450.73,239.19 451.02,238.90 451.32,239.33 451.62,239.26 451.92,239.17 452.22,238.67 452.52,239.41 452.82,239.51 453.12,238.55 453.42,239.28 453.72,238.17 454.01,238.86 454.31,238.57 454.61,239.27 454.91,238.38 455.21,239.71 455.51,239.62 455.81,239.70 456.11,238.65 456.41,238.60 456.71,239.55 457.00,239.15 457.30,238.36 457.60,238.80 457.90,239.71 458.20,239.46 458.50,239.59 458.80,239.65 459.10,239.14 459.40,239.74 459.70,238.21 460.00,239.10 460.29,238.95 460.59,238.71 460.89,238.49 461.19,238.39 461.49,239.18 461.79,239.27 462.09,239.13 462.39,239.84 462.69,239.15 462.99,238.61 463.28,238.10 463.58,238.45 463.88,238.68 464.18,238.78 464.48,239.84 464.78,239.28 465.08,239.26 465.38,238.70 465.68,239.68 465.97,239.19 466.27,238.95 466.57,238.45 466.87,238.39 467.17,238.77 467.47,239.59 467.77,238.49 468.07,238.25 468.37,238.88 468.67,239.24 468.96,238.97 469.26,239.62 469.56,238.59 469.86,238.10 470.16,238.94 470.46,238.58 470.76,238.37 471.06,239.52 471.36,238.17 471.66,238.74 471.95,239.52 472.25,239.72 472.55,239.43 472.85,238.83 473.15,238.62 473.45,239.28 473.75,238.20 474.05,239.22 474.35,239.04 474.65,239.65 474.94,238.12 475.24,239.63 475.54,238.24 475.84,238.89 476.14,238.86 476.44,238.86 476.74,239.40 477.04,238.23 477.34,238.09 477.64,238.40 477.93,238.79 478.23,239.65 478.53,238.39 478.83,239.35 479.13,238.26 479.43,239.44 479.73,238.84 480.03,238.38 480.33,239.54 480.63,238.89 480.92,239.73 481.22,239.81 481.52,239.55 481.82,238.09 482.12,238.18 482.42,238.69 482.72,239.32 483.02,238.66 483.32,238.54 483.62,239.18 483.91,238.81 484.21,238.42 484.51,239.84 484.81,239.51 485.11,239.03 485.41,239.61 485.71,239.18 486.01,238.85 486.31,239.56 486.61,238.94 486.90,239.40 487.20,238.85 487.50,239.27 487.80,238.72 488.10,239.80 488.40,238.66" stroke="#f01818" stroke-width="1.5" fill="none" /><polyline points="368.80,239.82 369.28,239.01 370.02,232.92 370.75,228.10 371.49,222.50 372.23,217.28 372.97,212.80 373.70,207.20 374.44,205.51 375.18,203.76 375.92,203.34 376.57,201.94 377.23,201.19 377.89,199.00 378.55,198.10 379.21,198.02 379.86,195.03 380.52,193.51 381.18,192.45 381.84,190.96 382.49,190.13 383.13,189.89 383.76,188.64 384.39,188.90 385.02,188.24 385.66,187.70 386.29,187.57 386.92,186.44 387.58,185.58 388.24,184.06 388.89,183.66 389.55,182.57 390.21,181.89 390.83,180.53 391.46,179.75 392.08,178.92 392.70,176.71 393.33,175.61 393.95,174.75 394.57,173.85 395.24,174.02 395.91,173.71 396.58,173.19 397.25,173.09 397.92,171.57 398.55,171.99 399.17,171.16 399.79,171.72 400.42,170.69 401.04,170.72 401.66,171.87 402.29,171.41 402.95,170.76 403.60,171.88 404.26,171.53 404.92,172.86 405.58,173.80 406.23,172.27 406.89,171.38 407.55,171.49 408.21,171.11 408.87,170.06 409.54,168.21 410.21,167.65 410.88,167.77 411.55,166.69 412.21,166.04 412.86,166.54 413.51,165.84 414.15,167.24 414.80,167.09 415.44,167.70 416.06,167.89 416.68,166.86 417.30,167.58 417.92,166.59 418.53,167.21 419.15,166.54 419.77,166.66 420.39,166.37 421.01,165.09 421.60,165.46 422.20,166.35 422.80,165.57 423.40,166.73 424.00,166.56 424.59,165.97 425.19,166.41 425.79,167.37 426.39,166.11 426.99,167.43 427.58,167.47 428.20,166.46 428.82,166.94 429.44,166.77 430.06,166.90 430.67,166.66 431.29,165.69 431.89,165.76 432.49,164.76 433.08,164.66 433.68,164.09 434.28,162.86 434.88,163.14 435.48,162.55 436.07,161.65 436.67,162.25 437.27,161.85 437.93,161.20 438.59,161.85 439.24,163.24 439.90,163.85 440.56,163.52 441.16,162.99 441.76,163.93 442.35,162.55 442.95,162.44 443.55,162.65 444.15,162.72 444.75,163.61 445.34,164.12 445.94,163.09 446.54,164.61 447.14,164.29 447.74,165.39 448.33,164.91 448.93,165.67 449.53,165.73 450.13,165.51 450.73,164.27 451.32,164.87 451.92,164.22 452.52,163.31 453.12,162.46 453.72,162.42 454.31,162.76 454.91,161.59 455.51,162.51 456.11,162.61 456.71,162.04 457.30,161.58 457.90,161.99 458.50,162.00 459.10,161.88 459.70,161.75 460.29,162.62 460.89,162.45 461.49,161.81 462.09,161.86 462.69,162.04 463.28,161.66 463.88,161.51 464.48,161.87 465.08,161.71 465.68,161.42 466.27,159.72 466.87,159.72 467.47,159.23 468.07,160.61 468.67,159.58 469.26,159.73 469.86,159.27 470.46,159.83 471.06,158.70 471.66,160.04 472.25,159.21 472.85,158.81 473.45,158.45 474.05,158.59 474.65,158.54 475.24,158.29 475.84,158.04 476.44,158.84 477.04,158.26 477.64,157.87 478.23,157.85 478.83,158.48 479.43,158.08 480.03,158.14 480.63,158.76 481.22,158.85 481.82,159.40 482.42,159.26 483.07,159.54 483.72,160.68 484.36,160.13 485.01,159.91 485.66,160.41 486.31,160.96 487.00,161.91 487.70,161.81 488.40,161.31" stroke="#1a1ae8" stroke-width="1.3" fill="none" /><rect x="368.80" y="153.60" width="119.60" height="90.00" fill="none" stroke="#111" stroke-width="1.1" /><line x1="368.80" y1="243.60" x2="371.30" y2="243.60" stroke="#000" stroke-width="0.8" /><line x1="488.40" y1="243.60" x2="485.90" y2="243.60" stroke="#000" stroke-width="0.8" /><text x="366.40000000000003" y="245.9" font-size="6.6" text-anchor="end" fill="#111" font-weight="bold" >0.0</text><line x1="368.80" y1="237.17" x2="370.20" y2="237.17" stroke="#000" stroke-width="0.8" /><line x1="488.40" y1="237.17" x2="487.00" y2="237.17" stroke="#000" stroke-width="0.8" /><line x1="368.80" y1="230.74" x2="371.30" y2="230.74" stroke="#000" stroke-width="0.8" /><line x1="488.40" y1="230.74" x2="485.90" y2="230.74" stroke="#000" stroke-width="0.8" /><text x="366.40000000000003" y="233.04285714285714" font-size="6.6" text-anchor="end" fill="#111" font-weight="bold" >1.0</text><line x1="368.80" y1="224.31" x2="370.20" y2="224.31" stroke="#000" stroke-width="0.8" /><line x1="488.40" y1="224.31" x2="487.00" y2="224.31" stroke="#000" stroke-width="0.8" /><line x1="368.80" y1="217.89" x2="371.30" y2="217.89" stroke="#000" stroke-width="0.8" /><line x1="488.40" y1="217.89" x2="485.90" y2="217.89" stroke="#000" stroke-width="0.8" /><text x="366.40000000000003" y="220.18571428571428" font-size="6.6" text-anchor="end" fill="#111" font-weight="bold" >2.0</text><line x1="368.80" y1="211.46" x2="370.20" y2="211.46" stroke="#000" stroke-width="0.8" /><line x1="488.40" y1="211.46" x2="487.00" y2="211.46" stroke="#000" stroke-width="0.8" /><line x1="368.80" y1="205.03" x2="371.30" y2="205.03" stroke="#000" stroke-width="0.8" /><line x1="488.40" y1="205.03" x2="485.90" y2="205.03" stroke="#000" stroke-width="0.8" /><text x="366.40000000000003" y="207.32857142857142" font-size="6.6" text-anchor="end" fill="#111" font-weight="bold" >3.0</text><line x1="368.80" y1="198.60" x2="370.20" y2="198.60" stroke="#000" stroke-width="0.8" /><line x1="488.40" y1="198.60" x2="487.00" y2="198.60" stroke="#000" stroke-width="0.8" /><line x1="368.80" y1="192.17" x2="371.30" y2="192.17" stroke="#000" stroke-width="0.8" /><line x1="488.40" y1="192.17" x2="485.90" y2="192.17" stroke="#000" stroke-width="0.8" /><text x="366.40000000000003" y="194.4714285714286" font-size="6.6" text-anchor="end" fill="#111" font-weight="bold" >4.0</text><line x1="368.80" y1="185.74" x2="370.20" y2="185.74" stroke="#000" stroke-width="0.8" /><line x1="488.40" y1="185.74" x2="487.00" y2="185.74" stroke="#000" stroke-width="0.8" /><line x1="368.80" y1="179.31" x2="371.30" y2="179.31" stroke="#000" stroke-width="0.8" /><line x1="488.40" y1="179.31" x2="485.90" y2="179.31" stroke="#000" stroke-width="0.8" /><text x="366.40000000000003" y="181.6142857142857" font-size="6.6" text-anchor="end" fill="#111" font-weight="bold" >5.0</text><line x1="368.80" y1="172.89" x2="370.20" y2="172.89" stroke="#000" stroke-width="0.8" /><line x1="488.40" y1="172.89" x2="487.00" y2="172.89" stroke="#000" stroke-width="0.8" /><line x1="368.80" y1="166.46" x2="371.30" y2="166.46" stroke="#000" stroke-width="0.8" /><line x1="488.40" y1="166.46" x2="485.90" y2="166.46" stroke="#000" stroke-width="0.8" /><text x="366.40000000000003" y="168.75714285714287" font-size="6.6" text-anchor="end" fill="#111" font-weight="bold" >6.0</text><line x1="368.80" y1="160.03" x2="370.20" y2="160.03" stroke="#000" stroke-width="0.8" /><line x1="488.40" y1="160.03" x2="487.00" y2="160.03" stroke="#000" stroke-width="0.8" /><line x1="368.80" y1="153.60" x2="371.30" y2="153.60" stroke="#000" stroke-width="0.8" /><line x1="488.40" y1="153.60" x2="485.90" y2="153.60" stroke="#000" stroke-width="0.8" /><text x="366.40000000000003" y="155.9" font-size="6.6" text-anchor="end" fill="#111" font-weight="bold" >7.0</text><line x1="368.80" y1="243.60" x2="368.80" y2="241.10" stroke="#000" stroke-width="0.8" /><line x1="368.80" y1="153.60" x2="368.80" y2="156.10" stroke="#000" stroke-width="0.8" /><text x="368.8" y="253.2" font-size="7.0" text-anchor="middle" fill="#111" font-weight="bold" >0</text><line x1="374.78" y1="243.60" x2="374.78" y2="242.20" stroke="#000" stroke-width="0.8" /><line x1="374.78" y1="153.60" x2="374.78" y2="155.00" stroke="#000" stroke-width="0.8" /><line x1="380.76" y1="243.60" x2="380.76" y2="241.10" stroke="#000" stroke-width="0.8" /><line x1="380.76" y1="153.60" x2="380.76" y2="156.10" stroke="#000" stroke-width="0.8" /><text x="380.76" y="253.2" font-size="7.0" text-anchor="middle" fill="#111" font-weight="bold" >20</text><line x1="386.74" y1="243.60" x2="386.74" y2="242.20" stroke="#000" stroke-width="0.8" /><line x1="386.74" y1="153.60" x2="386.74" y2="155.00" stroke="#000" stroke-width="0.8" /><line x1="392.72" y1="243.60" x2="392.72" y2="241.10" stroke="#000" stroke-width="0.8" /><line x1="392.72" y1="153.60" x2="392.72" y2="156.10" stroke="#000" stroke-width="0.8" /><text x="392.72" y="253.2" font-size="7.0" text-anchor="middle" fill="#111" font-weight="bold" >40</text><line x1="398.70" y1="243.60" x2="398.70" y2="242.20" stroke="#000" stroke-width="0.8" /><line x1="398.70" y1="153.60" x2="398.70" y2="155.00" stroke="#000" stroke-width="0.8" /><line x1="404.68" y1="243.60" x2="404.68" y2="241.10" stroke="#000" stroke-width="0.8" /><line x1="404.68" y1="153.60" x2="404.68" y2="156.10" stroke="#000" stroke-width="0.8" /><text x="404.68" y="253.2" font-size="7.0" text-anchor="middle" fill="#111" font-weight="bold" >60</text><line x1="410.66" y1="243.60" x2="410.66" y2="242.20" stroke="#000" stroke-width="0.8" /><line x1="410.66" y1="153.60" x2="410.66" y2="155.00" stroke="#000" stroke-width="0.8" /><line x1="416.64" y1="243.60" x2="416.64" y2="241.10" stroke="#000" stroke-width="0.8" /><line x1="416.64" y1="153.60" x2="416.64" y2="156.10" stroke="#000" stroke-width="0.8" /><text x="416.64" y="253.2" font-size="7.0" text-anchor="middle" fill="#111" font-weight="bold" >80</text><line x1="422.62" y1="243.60" x2="422.62" y2="242.20" stroke="#000" stroke-width="0.8" /><line x1="422.62" y1="153.60" x2="422.62" y2="155.00" stroke="#000" stroke-width="0.8" /><line x1="428.60" y1="243.60" x2="428.60" y2="241.10" stroke="#000" stroke-width="0.8" /><line x1="428.60" y1="153.60" x2="428.60" y2="156.10" stroke="#000" stroke-width="0.8" /><text x="428.6" y="253.2" font-size="7.0" text-anchor="middle" fill="#111" font-weight="bold" >100</text><line x1="434.58" y1="243.60" x2="434.58" y2="242.20" stroke="#000" stroke-width="0.8" /><line x1="434.58" y1="153.60" x2="434.58" y2="155.00" stroke="#000" stroke-width="0.8" /><line x1="440.56" y1="243.60" x2="440.56" y2="241.10" stroke="#000" stroke-width="0.8" /><line x1="440.56" y1="153.60" x2="440.56" y2="156.10" stroke="#000" stroke-width="0.8" /><text x="440.56" y="253.2" font-size="7.0" text-anchor="middle" fill="#111" font-weight="bold" >120</text><line x1="446.54" y1="243.60" x2="446.54" y2="242.20" stroke="#000" stroke-width="0.8" /><line x1="446.54" y1="153.60" x2="446.54" y2="155.00" stroke="#000" stroke-width="0.8" /><line x1="452.52" y1="243.60" x2="452.52" y2="241.10" stroke="#000" stroke-width="0.8" /><line x1="452.52" y1="153.60" x2="452.52" y2="156.10" stroke="#000" stroke-width="0.8" /><text x="452.52" y="253.2" font-size="7.0" text-anchor="middle" fill="#111" font-weight="bold" >140</text><line x1="458.50" y1="243.60" x2="458.50" y2="242.20" stroke="#000" stroke-width="0.8" /><line x1="458.50" y1="153.60" x2="458.50" y2="155.00" stroke="#000" stroke-width="0.8" /><line x1="464.48" y1="243.60" x2="464.48" y2="241.10" stroke="#000" stroke-width="0.8" /><line x1="464.48" y1="153.60" x2="464.48" y2="156.10" stroke="#000" stroke-width="0.8" /><text x="464.47999999999996" y="253.2" font-size="7.0" text-anchor="middle" fill="#111" font-weight="bold" >160</text><line x1="470.46" y1="243.60" x2="470.46" y2="242.20" stroke="#000" stroke-width="0.8" /><line x1="470.46" y1="153.60" x2="470.46" y2="155.00" stroke="#000" stroke-width="0.8" /><line x1="476.44" y1="243.60" x2="476.44" y2="241.10" stroke="#000" stroke-width="0.8" /><line x1="476.44" y1="153.60" x2="476.44" y2="156.10" stroke="#000" stroke-width="0.8" /><text x="476.43999999999994" y="253.2" font-size="7.0" text-anchor="middle" fill="#111" font-weight="bold" >180</text><line x1="482.42" y1="243.60" x2="482.42" y2="242.20" stroke="#000" stroke-width="0.8" /><line x1="482.42" y1="153.60" x2="482.42" y2="155.00" stroke="#000" stroke-width="0.8" /><line x1="488.40" y1="243.60" x2="488.40" y2="241.10" stroke="#000" stroke-width="0.8" /><line x1="488.40" y1="153.60" x2="488.40" y2="156.10" stroke="#000" stroke-width="0.8" /><text x="488.4" y="253.2" font-size="7.0" text-anchor="middle" fill="#111" font-weight="bold" >200</text><text x="424" y="264.0" font-size="7.8" text-anchor="middle" fill="#111" font-weight="bold" >Time (ps)</text><text x="351.6" y="198.7" font-size="8.4" text-anchor="middle" fill="#111" font-weight="bold" transform="rotate(-90 351.6 198.7)" textLength="103.5" lengthAdjust="spacingAndGlyphs" >RMSD from ideal structure (&#197;)</text><text x="433.8" y="179.6" font-size="6.6" text-anchor="end" fill="#111" font-weight="bold" >300 K</text><text x="433.8" y="188.4" font-size="6.6" text-anchor="end" fill="#111" font-weight="bold" >500 K</text><text x="433.8" y="197.0" font-size="6.6" text-anchor="end" fill="#111" font-weight="bold" >1000 K</text><line x1="438.20" y1="177.40" x2="445.70" y2="177.40" stroke="#000" stroke-width="0.9" /><line x1="438.20" y1="186.20" x2="445.70" y2="186.20" stroke="#f01818" stroke-width="1.3" /><line x1="438.20" y1="194.80" x2="445.70" y2="194.80" stroke="#1a1ae8" stroke-width="1.1" /><circle cx="411.70" cy="202.37" r="2.84" fill="url(#gyd)" /><circle cx="402.65" cy="207.59" r="2.84" fill="url(#gyd)" /><circle cx="408.68" cy="207.59" r="2.84" fill="url(#gyd)" /><circle cx="414.72" cy="207.59" r="2.84" fill="url(#gyd)" /><circle cx="420.75" cy="207.59" r="2.84" fill="url(#gyd)" /><circle cx="399.64" cy="212.82" r="2.84" fill="url(#gyd)" /><circle cx="405.67" cy="212.82" r="2.84" fill="url(#gyd)" /><circle cx="411.70" cy="212.82" r="2.84" fill="url(#gyd)" /><circle cx="417.73" cy="212.82" r="2.84" fill="url(#gyd)" /><circle cx="423.76" cy="212.82" r="2.84" fill="url(#gyd)" /><circle cx="402.65" cy="218.04" r="2.84" fill="url(#gyd)" /><circle cx="408.68" cy="218.04" r="2.84" fill="url(#gyd)" /><circle cx="414.72" cy="218.04" r="2.84" fill="url(#gyd)" /><circle cx="420.75" cy="218.04" r="2.84" fill="url(#gyd)" /><circle cx="399.64" cy="223.26" r="2.84" fill="url(#gyd)" /><circle cx="405.67" cy="223.26" r="2.84" fill="url(#gyd)" /><circle cx="411.70" cy="223.26" r="2.84" fill="url(#gyd)" /><circle cx="417.73" cy="223.26" r="2.84" fill="url(#gyd)" /><circle cx="423.76" cy="223.26" r="2.84" fill="url(#gyd)" /><circle cx="408.68" cy="228.49" r="2.84" fill="url(#gyd)" /><circle cx="414.72" cy="228.49" r="2.84" fill="url(#gyd)" /><circle cx="405.67" cy="205.85" r="2.90" fill="url(#gy)" /><circle cx="411.70" cy="205.85" r="2.90" fill="url(#gy)" /><circle cx="417.73" cy="205.85" r="2.90" fill="url(#gy)" /><circle cx="402.65" cy="211.08" r="2.90" fill="url(#gy)" /><circle cx="408.68" cy="211.08" r="2.90" fill="url(#gy)" /><circle cx="414.72" cy="211.08" r="2.90" fill="url(#gy)" /><circle cx="420.75" cy="211.08" r="2.90" fill="url(#gy)" /><circle cx="399.64" cy="216.30" r="2.90" fill="url(#gy)" /><circle cx="405.67" cy="216.30" r="2.90" fill="url(#gy)" /><circle cx="411.70" cy="216.30" r="2.90" fill="url(#gy)" /><circle cx="417.73" cy="216.30" r="2.90" fill="url(#gy)" /><circle cx="423.76" cy="216.30" r="2.90" fill="url(#gy)" /><circle cx="402.65" cy="221.52" r="2.90" fill="url(#gy)" /><circle cx="408.68" cy="221.52" r="2.90" fill="url(#gy)" /><circle cx="414.72" cy="221.52" r="2.90" fill="url(#gy)" /><circle cx="420.75" cy="221.52" r="2.90" fill="url(#gy)" /><circle cx="405.67" cy="226.75" r="2.90" fill="url(#gy)" /><circle cx="411.70" cy="226.75" r="2.90" fill="url(#gy)" /><circle cx="417.73" cy="226.75" r="2.90" fill="url(#gy)" /><circle cx="468.90" cy="203.79" r="2.69" fill="url(#gyd)" /><circle cx="460.32" cy="208.74" r="2.69" fill="url(#gyd)" /><circle cx="466.04" cy="208.74" r="2.69" fill="url(#gyd)" /><circle cx="471.76" cy="208.74" r="2.69" fill="url(#gyd)" /><circle cx="477.48" cy="208.74" r="2.69" fill="url(#gyd)" /><circle cx="463.18" cy="213.70" r="2.69" fill="url(#gyd)" /><circle cx="468.90" cy="213.70" r="2.69" fill="url(#gyd)" /><circle cx="474.62" cy="213.70" r="2.69" fill="url(#gyd)" /><circle cx="460.32" cy="218.65" r="2.69" fill="url(#gyd)" /><circle cx="466.04" cy="218.65" r="2.69" fill="url(#gyd)" /><circle cx="471.76" cy="218.65" r="2.69" fill="url(#gyd)" /><circle cx="477.48" cy="218.65" r="2.69" fill="url(#gyd)" /><circle cx="463.18" cy="223.60" r="2.69" fill="url(#gyd)" /><circle cx="468.90" cy="223.60" r="2.69" fill="url(#gyd)" /><circle cx="474.62" cy="223.60" r="2.69" fill="url(#gyd)" /><circle cx="466.04" cy="228.56" r="2.69" fill="url(#gyd)" /><circle cx="471.76" cy="228.56" r="2.69" fill="url(#gyd)" /><circle cx="463.18" cy="207.09" r="2.75" fill="url(#gy)" /><circle cx="468.90" cy="207.09" r="2.75" fill="url(#gy)" /><circle cx="474.62" cy="207.09" r="2.75" fill="url(#gy)" /><circle cx="460.32" cy="212.05" r="2.75" fill="url(#gy)" /><circle cx="466.04" cy="212.05" r="2.75" fill="url(#gy)" /><circle cx="471.76" cy="212.05" r="2.75" fill="url(#gy)" /><circle cx="477.48" cy="212.05" r="2.75" fill="url(#gy)" /><circle cx="457.46" cy="217.00" r="2.75" fill="url(#gy)" /><circle cx="463.18" cy="217.00" r="2.75" fill="url(#gy)" /><circle cx="468.90" cy="217.00" r="2.75" fill="url(#gy)" /><circle cx="474.62" cy="217.00" r="2.75" fill="url(#gy)" /><circle cx="480.34" cy="217.00" r="2.75" fill="url(#gy)" /><circle cx="460.32" cy="221.95" r="2.75" fill="url(#gy)" /><circle cx="466.04" cy="221.95" r="2.75" fill="url(#gy)" /><circle cx="471.76" cy="221.95" r="2.75" fill="url(#gy)" /><circle cx="477.48" cy="221.95" r="2.75" fill="url(#gy)" /><circle cx="463.18" cy="226.91" r="2.75" fill="url(#gy)" /><circle cx="468.90" cy="226.91" r="2.75" fill="url(#gy)" /><circle cx="474.62" cy="226.91" r="2.75" fill="url(#gy)" /><circle cx="475.88" cy="171.03" r="2.65" fill="url(#gyd)" /><circle cx="481.50" cy="171.03" r="2.65" fill="url(#gyd)" /><circle cx="487.12" cy="171.03" r="2.65" fill="url(#gyd)" /><circle cx="473.08" cy="175.89" r="2.65" fill="url(#gyd)" /><circle cx="478.69" cy="175.89" r="2.65" fill="url(#gyd)" /><circle cx="484.31" cy="175.89" r="2.65" fill="url(#gyd)" /><circle cx="489.92" cy="175.89" r="2.65" fill="url(#gyd)" /><circle cx="470.27" cy="180.76" r="2.65" fill="url(#gyd)" /><circle cx="475.88" cy="180.76" r="2.65" fill="url(#gyd)" /><circle cx="481.50" cy="180.76" r="2.65" fill="url(#gyd)" /><circle cx="487.12" cy="180.76" r="2.65" fill="url(#gyd)" /><circle cx="492.73" cy="180.76" r="2.65" fill="url(#gyd)" /><circle cx="467.46" cy="185.62" r="2.65" fill="url(#gyd)" /><circle cx="473.08" cy="185.62" r="2.65" fill="url(#gyd)" /><circle cx="478.69" cy="185.62" r="2.65" fill="url(#gyd)" /><circle cx="484.31" cy="185.62" r="2.65" fill="url(#gyd)" /><circle cx="489.92" cy="185.62" r="2.65" fill="url(#gyd)" /><circle cx="495.54" cy="185.62" r="2.65" fill="url(#gyd)" /><circle cx="470.27" cy="190.48" r="2.65" fill="url(#gyd)" /><circle cx="475.88" cy="190.48" r="2.65" fill="url(#gyd)" /><circle cx="481.50" cy="190.48" r="2.65" fill="url(#gyd)" /><circle cx="487.12" cy="190.48" r="2.65" fill="url(#gyd)" /><circle cx="492.73" cy="190.48" r="2.65" fill="url(#gyd)" /><circle cx="478.69" cy="195.35" r="2.65" fill="url(#gyd)" /><circle cx="484.31" cy="195.35" r="2.65" fill="url(#gyd)" /><circle cx="478.69" cy="169.41" r="2.70" fill="url(#gy)" /><circle cx="484.31" cy="169.41" r="2.70" fill="url(#gy)" /><circle cx="470.27" cy="174.27" r="2.70" fill="url(#gy)" /><circle cx="475.88" cy="174.27" r="2.70" fill="url(#gy)" /><circle cx="481.50" cy="174.27" r="2.70" fill="url(#gy)" /><circle cx="487.12" cy="174.27" r="2.70" fill="url(#gy)" /><circle cx="492.73" cy="174.27" r="2.70" fill="url(#go)" /><circle cx="467.46" cy="179.14" r="2.70" fill="url(#gy)" /><circle cx="473.08" cy="179.14" r="2.70" fill="url(#gy)" /><circle cx="478.69" cy="179.14" r="2.70" fill="url(#gy)" /><circle cx="484.31" cy="179.14" r="2.70" fill="url(#gy)" /><circle cx="489.92" cy="179.14" r="2.70" fill="url(#gy)" /><circle cx="495.54" cy="179.14" r="2.70" fill="url(#gy)" /><circle cx="470.27" cy="184.00" r="2.70" fill="url(#gy)" /><circle cx="475.88" cy="184.00" r="2.70" fill="url(#go)" /><circle cx="481.50" cy="184.00" r="2.70" fill="url(#gy)" /><circle cx="487.12" cy="184.00" r="2.70" fill="url(#gy)" /><circle cx="492.73" cy="184.00" r="2.70" fill="url(#gy)" /><circle cx="467.46" cy="188.86" r="2.70" fill="url(#gy)" /><circle cx="473.08" cy="188.86" r="2.70" fill="url(#go)" /><circle cx="478.69" cy="188.86" r="2.70" fill="url(#gy)" /><circle cx="484.31" cy="188.86" r="2.70" fill="url(#gy)" /><circle cx="489.92" cy="188.86" r="2.70" fill="url(#gy)" /><circle cx="495.54" cy="188.86" r="2.70" fill="url(#gy)" /><circle cx="470.27" cy="193.73" r="2.70" fill="url(#gy)" /><circle cx="475.88" cy="193.73" r="2.70" fill="url(#gy)" /><circle cx="481.50" cy="193.73" r="2.70" fill="url(#gy)" /><circle cx="487.12" cy="193.73" r="2.70" fill="url(#go)" /><circle cx="492.73" cy="193.73" r="2.70" fill="url(#gy)" /><circle cx="478.69" cy="198.59" r="2.70" fill="url(#gy)" /><circle cx="484.31" cy="198.59" r="2.70" fill="url(#gy)" /><line x1="396.50" y1="224.00" x2="379.12" y2="232.11" stroke="#000" stroke-width="1.2" /><polygon points="375.50,233.80 378.73,230.08 380.42,233.71" fill="#000" /><line x1="480.00" y1="226.50" x2="484.76" y2="233.15" stroke="#000" stroke-width="1.2" /><polygon points="486.80,236.00 482.85,233.91 486.10,231.58" fill="#000" /><line x1="483.50" y1="168.50" x2="486.11" y2="161.29" stroke="#000" stroke-width="1.2" /><polygon points="487.30,158.00 487.82,162.44 484.06,161.08" fill="#000" /><path d="M541.0 236.1 541.1 237.3 541.3 236.6 541.4 236.4 541.6 234.7 541.7 233.8 541.9 240.3 542.0 238.1 542.2 236.9 542.3 237.1 542.4 236.6 542.6 235.1 542.7 236.9 542.9 235.6 543.0 232.4 543.2 238.9 543.3 229.1 543.5 243.2 543.6 236.4 543.7 232.6 543.9 232.6 544.0 238.9 544.2 240.2 544.3 238.8 544.5 236.4 544.6 233.0 544.7 234.6 544.9 239.5 545.0 231.9 545.2 235.8 545.3 235.1 545.5 235.9 545.6 235.6 545.8 237.5 545.9 241.9 546.0 235.8 546.2 231.1 546.3 232.9 546.5 239.6 546.6 233.7 546.8 242.2 546.9 237.4 547.1 243.2 547.2 239.9 547.3 236.3 547.5 241.0 547.6 234.3 547.8 236.9 547.9 237.3 548.1 236.2 548.2 236.0 548.4 237.5 548.5 232.4 548.6 240.0 548.8 234.6 548.9 240.5 549.1 241.7 549.2 237.8 549.4 236.1 549.5 233.9 549.6 238.6 549.8 235.1 549.9 236.6 550.1 235.3 550.2 233.5 550.4 236.4 550.5 237.2 550.7 231.8 550.8 238.7 550.9 234.0 551.1 236.7 551.2 237.7 551.4 237.9 551.5 234.1 551.7 237.2 551.8 236.7 552.0 237.3 552.1 235.0 552.2 236.0 552.4 236.2 552.5 239.4 552.7 242.7 552.8 238.9 553.0 239.8 553.1 235.6 553.3 242.2 553.4 237.7 553.5 235.2 553.7 239.4 553.8 232.0 554.0 235.0 554.1 234.4 554.3 233.5 554.4 241.2 554.5 238.9 554.7 240.3 554.8 240.5 555.0 234.8 555.1 241.7 555.3 234.7 555.4 230.9 555.6 235.4 555.7 232.6 555.8 237.9 556.0 243.2 556.1 230.9 556.3 235.5 556.4 243.2 556.6 238.4 556.7 237.7 556.9 238.0 557.0 229.1 557.1 236.6 557.3 229.1 557.4 234.9 557.6 238.5 557.7 236.8 557.9 235.6 558.0 242.7 558.2 235.5 558.3 232.8 558.4 232.1 558.6 239.8 558.7 237.7 558.9 236.6 559.0 236.9 559.2 237.9 559.3 239.1 559.4 237.8 559.6 235.0 559.7 235.6 559.9 240.6 560.0 233.8 560.2 235.7 560.3 236.1 560.5 237.7 560.6 238.9 560.7 233.7 560.9 239.9 561.0 237.6 561.2 238.9 561.3 237.2 561.5 237.5 561.6 235.0 561.8 235.2 561.9 236.5 562.0 235.7 562.2 241.2 562.3 238.9 562.5 238.3 562.6 239.7 562.8 235.5 562.9 239.5 563.1 241.4 563.2 238.0 563.3 238.8 563.5 238.3 563.6 241.8 563.8 235.9 563.9 234.5 564.1 236.4 564.2 240.4 564.3 234.8 564.5 237.2 564.6 239.7 564.8 237.2 564.9 240.5 565.1 236.6 565.2 233.5 565.4 239.7 565.5 243.0 565.6 238.3 565.8 238.4 565.9 236.0 566.1 237.7 566.2 236.6 566.4 234.9 566.5 236.3 566.7 236.4 566.8 237.2 566.9 234.7 567.1 240.7 567.2 237.4 567.4 231.9 567.5 239.2 567.7 235.2 567.8 242.3 568.0 235.6 568.1 238.8 568.2 238.0 568.4 232.6 568.5 233.7 568.7 238.3 568.8 236.1 569.0 237.0 569.1 233.5 569.2 234.4 569.4 238.0 569.5 240.6 569.7 230.0 569.8 240.7 570.0 238.1 570.1 240.3 570.3 235.9 570.4 234.5 570.5 241.1 570.7 237.5 570.8 237.4 571.0 241.7 571.1 234.1 571.3 235.7 571.4 236.3 571.6 236.2 571.7 234.5 571.8 237.6 572.0 240.8 572.1 238.6 572.3 229.1 572.4 239.9 572.6 235.6 572.7 234.5 572.9 238.3 573.0 235.9 573.1 238.1 573.3 239.5 573.4 239.0 573.6 237.4 573.7 236.4 573.9 238.4 574.0 234.6 574.1 237.2 574.3 243.2 574.4 236.6 574.6 236.3 574.7 236.1 574.9 236.8 575.0 237.7 575.2 236.1 575.3 236.5 575.4 237.4 575.6 234.0 575.7 237.6 575.9 241.5 576.0 236.6 576.2 235.1 576.3 241.9 576.5 233.7 576.6 237.5 576.7 231.7 576.9 235.3 577.0 234.5 577.2 240.4 577.3 235.6 577.5 236.4 577.6 239.4 577.8 240.6 577.9 238.1 578.0 236.8 578.2 236.6 578.3 239.3 578.5 236.6 578.6 235.0 578.8 237.0 578.9 237.7 579.0 239.2 579.2 236.1 579.3 236.8 579.5 235.1 579.6 239.5 579.8 236.3 579.9 234.4 580.1 233.6 580.2 241.4 580.3 233.0 580.5 234.8 580.6 240.7 580.8 237.4 580.9 234.9 581.1 233.7 581.2 237.2 581.4 231.2 581.5 237.6 581.6 240.7 581.8 242.0 581.9 238.1 582.1 237.1 582.2 241.1 582.4 240.0 582.5 234.9 582.7 239.0 582.8 235.8 582.9 234.1 583.1 241.7 583.2 241.4 583.4 241.6 583.5 237.8 583.7 237.9 583.8 238.5 583.9 240.0 584.1 234.2 584.2 234.3 584.4 242.1 584.5 238.5 584.7 238.0 584.8 236.5 585.0 238.7 585.1 237.4 585.2 241.3 585.4 236.4 585.5 238.7 585.7 235.1 585.8 239.8 586.0 238.1 586.1 229.1 586.3 243.2 586.4 237.8 586.5 238.7 586.7 243.2 586.8 234.1 587.0 242.9 587.1 232.7 587.3 238.2 587.4 238.7 587.6 230.0 587.7 235.0 587.8 241.3 588.0 237.9 588.1 239.8 588.3 238.2 588.4 235.1 588.6 236.3 588.7 238.8 588.8 235.6 589.0 240.4 589.1 241.4 589.3 237.5 589.4 237.7 589.6 235.5 589.7 236.7 589.9 240.5 590.0 232.3 590.1 235.5 590.3 234.5 590.4 237.8 590.6 235.4 590.7 239.1 590.9 236.9 591.0 241.0 591.2 235.4 591.3 241.1 591.4 233.3 591.6 237.6 591.7 240.1 591.9 235.2 592.0 238.5 592.2 237.9 592.3 241.3 592.5 237.2 592.6 237.7 592.7 243.2 592.9 238.8 593.0 237.0 593.2 237.6 593.3 237.1 593.5 238.5 593.6 232.6 593.7 234.2 593.9 236.4 594.0 235.7 594.2 238.1 594.3 236.6 594.5 235.5 594.6 237.3 594.8 236.2 594.9 236.9 595.0 236.3 595.2 241.6 595.3 236.9 595.5 235.3 595.6 237.1 595.8 232.0 595.9 241.2 596.1 239.9 596.2 239.4 596.3 233.8 596.5 237.9 596.6 239.7 596.8 238.0 596.9 235.7 597.1 239.5 597.2 236.0 597.4 232.5 597.5 237.9 597.6 239.3 597.8 238.6 597.9 241.3 598.1 238.2 598.2 236.3 598.4 237.7 598.5 238.0 598.6 236.0 598.8 243.2 598.9 240.9 599.1 236.3 599.2 237.0 599.4 241.8 599.5 235.9 599.7 238.9 599.8 240.3 599.9 235.6 600.1 235.7 600.2 233.5 600.4 235.7 600.5 239.7 600.7 239.7 600.8 236.1 601.0 240.0 601.1 232.6 601.2 243.2 601.4 233.4 601.5 237.8 601.7 240.0 601.8 236.0 602.0 240.7 602.1 239.3 602.3 235.8 602.4 235.0 602.5 236.9 602.7 234.0 602.8 239.1 603.0 237.0 603.1 235.9 603.3 242.9 603.4 238.8 603.6 243.2 603.7 236.2 603.8 238.6 604.0 234.2 604.1 236.7 604.3 238.6 604.4 236.9 604.6 243.2 604.7 237.0 604.8 237.5 605.0 236.9 605.1 237.0 605.3 243.2 605.4 234.5 605.6 236.4 605.7 235.1 605.9 240.3 606.0 237.5 606.1 238.4 606.3 235.1 606.4 236.9 606.6 237.7 606.7 241.8 606.9 243.2 607.0 237.2 607.2 233.5 607.3 235.1 607.4 240.6 607.6 237.4 607.7 236.4 607.9 231.4 608.0 238.5 608.2 236.2 608.3 234.8 608.5 236.0 608.6 242.1 608.7 237.8 608.9 236.6 609.0 234.2 609.2 236.8 609.3 238.6 609.5 241.6 609.6 233.2 609.7 236.9 609.9 233.4 610.0 232.8 610.2 234.0 610.3 233.4 610.5 236.7 610.6 243.2 610.8 243.2 610.9 230.6 611.0 240.9 611.2 239.1 611.3 232.7 611.5 237.2 611.6 238.0 611.8 238.1 611.9 238.2 612.1 238.7 612.2 235.0 612.3 243.2 612.5 238.2 612.6 240.2 612.8 240.3 612.9 237.3 613.1 237.9 613.2 239.0 613.4 239.6 613.5 236.0 613.6 240.0 613.8 230.2 613.9 233.2 614.1 236.2 614.2 237.5 614.4 241.7 614.5 237.6 614.6 232.4 614.8 240.2 614.9 233.0 615.1 236.3 615.2 234.9 615.4 231.1 615.5 234.6 615.7 235.8 615.8 234.4 615.9 234.4 616.1 234.9 616.2 236.8 616.4 238.1 616.5 239.6 616.7 241.5 616.8 234.7 617.0 239.9 617.1 238.8 617.2 237.4 617.4 237.5 617.5 237.2 617.7 238.2 617.8 238.9 618.0 231.6 618.1 231.8 618.3 235.8 618.4 234.9 618.5 232.4 618.7 237.2 618.8 236.2 619.0 235.2 619.1 238.5 619.3 243.2 619.4 241.7 619.5 243.2 619.7 237.6 619.8 237.3 620.0 232.9 620.1 231.6 620.3 240.4 620.4 235.9 620.6 236.4 620.7 241.4 620.8 239.2 621.0 234.1 621.1 237.6 621.3 239.1 621.4 237.1 621.6 234.8 621.7 239.3 621.9 239.8 622.0 241.5 622.1 235.5 622.3 239.8 622.4 233.9 622.6 236.0 622.7 237.2 622.9 238.1 623.0 233.5 623.2 240.6 623.3 234.0 623.4 239.0 623.6 233.9 623.7 238.6 623.9 241.7 624.0 237.4 624.2 238.8 624.3 238.0 624.4 242.2 624.6 236.7 624.7 234.9 624.9 243.2 625.0 240.0 625.2 238.0 625.3 234.7 625.5 230.1 625.6 240.1 625.7 238.8 625.9 243.2 626.0 237.5 626.2 236.8 626.3 238.0 626.5 232.0 626.6 237.4 626.8 235.1 626.9 242.0 627.0 240.1 627.2 237.4 627.3 233.8 627.5 240.0 627.6 232.7 627.8 237.5 627.9 241.8 628.1 238.4 628.2 237.1 628.3 233.2 628.5 240.9 628.6 233.3 628.8 237.8 628.9 236.2 629.1 240.9 629.2 240.2 629.3 243.2 629.5 233.2 629.6 236.6 629.8 241.3 629.9 237.1 630.1 240.3 630.2 235.7 630.4 235.9 630.5 238.7 630.6 234.0 630.8 237.8 630.9 238.8 631.1 233.2 631.2 234.1 631.4 241.5 631.5 238.9 631.7 232.6 631.8 237.9 631.9 239.5 632.1 241.9 632.2 234.7 632.4 235.3 632.5 238.4 632.7 236.0 632.8 238.3 633.0 237.4 633.1 243.2 633.2 238.1 633.4 235.7 633.5 239.3 633.7 237.1 633.8 235.4 634.0 239.7 634.1 238.8 634.2 235.3 634.4 240.8 634.5 237.6 634.7 237.7 634.8 236.3 635.0 242.2 635.1 239.1 635.3 240.4 635.4 237.5 635.5 233.7 635.7 234.6 635.8 237.6 636.0 235.9 636.1 243.2 636.3 234.8 636.4 237.3 636.6 234.0 636.7 236.1 636.8 237.3 637.0 235.1 637.1 242.6 637.3 237.0 637.4 231.8 637.6 237.7 637.7 235.3 637.9 239.4 638.0 237.3 638.1 237.5 638.3 241.1 638.4 239.6 638.6 238.4 638.7 241.3 638.9 234.5 639.0 238.8 639.1 233.2 639.3 236.3 639.4 235.6 639.6 238.3 639.7 239.1 639.9 234.6 640.0 239.8 640.2 239.8 640.3 238.3 640.4 236.9 640.6 232.8 640.7 238.6 640.9 230.2 641.0 239.8 641.2 234.7 641.3 235.4 641.5 238.1 641.6 233.0 641.7 235.4 641.9 236.6 642.0 243.2 642.2 236.3 642.3 237.4 642.5 237.1 642.6 240.8 642.8 242.2 642.9 236.8 643.0 239.0 643.2 235.5 643.3 239.9 643.5 238.6 643.6 232.9 643.8 235.0 643.9 238.4 644.0 237.0 644.2 236.1 644.3 238.8 644.5 230.8 644.6 231.4 644.8 235.5 644.9 240.1 645.1 235.6 645.2 242.9 645.3 234.9 645.5 235.5 645.6 236.9 645.8 229.9 645.9 237.1 646.1 239.4 646.2 238.2 646.4 237.8 646.5 237.6 646.6 237.0 646.8 237.5 646.9 239.4 647.1 233.1 647.2 238.2 647.4 235.9 647.5 235.6 647.7 235.3 647.8 238.4 647.9 236.5 648.1 242.7 648.2 236.6 648.4 237.4 648.5 233.9 648.7 238.6 648.8 234.2 648.9 237.4 649.1 239.5 649.2 236.2 649.4 239.4 649.5 236.3 649.7 240.1 649.8 238.2 650.0 238.6 650.1 235.8 650.2 237.4 650.4 240.9 650.5 234.6 650.7 234.5 650.8 236.8 651.0 237.6 651.1 237.9 651.3 238.5 651.4 233.2 651.5 238.6 651.7 236.2 651.8 235.0 652.0 240.9 652.1 239.8 652.3 237.2 652.4 230.2 652.6 234.5 652.7 239.7 652.8 240.0 653.0 239.3 653.1 236.4 653.3 238.4 653.4 233.2 653.6 232.3 653.7 238.3 653.8 238.0 654.0 236.7 654.1 235.9 654.3 240.3 654.4 238.8 654.6 237.2 654.7 240.1 654.9 242.6 655.0 238.5 655.1 240.2 655.3 239.1 655.4 236.7 655.6 241.3 655.7 235.7 655.9 237.6 656.0 238.9 656.2 238.0 656.3 240.6" stroke="#000" stroke-width="0.9" fill="none" stroke-linejoin="bevel"/><path d="M541.0 225.0 541.2 226.1 541.3 233.0 541.5 227.1 541.7 224.8 541.8 230.9 542.0 227.3 542.2 227.1 542.3 221.4 542.5 226.9 542.6 224.9 542.8 228.0 543.0 225.5 543.1 235.5 543.3 223.2 543.5 229.4 543.6 227.8 543.8 231.4 544.0 228.7 544.1 214.7 544.3 226.8 544.5 224.0 544.6 223.4 544.8 227.6 545.0 225.7 545.1 230.9 545.3 214.3 545.4 225.2 545.6 222.7 545.8 225.6 545.9 230.4 546.1 227.7 546.3 224.7 546.4 228.3 546.6 226.9 546.8 223.7 546.9 222.9 547.1 235.3 547.3 229.3 547.4 224.4 547.6 236.3 547.8 227.2 547.9 231.1 548.1 218.6 548.2 224.5 548.4 225.7 548.6 222.3 548.7 224.4 548.9 226.3 549.1 232.0 549.2 236.3 549.4 222.6 549.6 222.6 549.7 225.8 549.9 228.4 550.1 224.9 550.2 228.4 550.4 229.0 550.6 227.6 550.7 228.0 550.9 225.9 551.0 227.1 551.2 225.4 551.4 225.5 551.5 229.2 551.7 229.6 551.9 226.8 552.0 236.3 552.2 227.2 552.4 224.1 552.5 223.1 552.7 217.6 552.9 223.0 553.0 226.7 553.2 222.3 553.4 224.2 553.5 232.3 553.7 226.4 553.8 227.6 554.0 224.8 554.2 229.2 554.3 225.6 554.5 220.8 554.7 228.8 554.8 230.9 555.0 229.0 555.2 233.3 555.3 228.4 555.5 224.6 555.7 228.7 555.8 223.3 556.0 227.2 556.2 228.6 556.3 226.5 556.5 230.9 556.6 230.2 556.8 228.7 557.0 223.1 557.1 219.6 557.3 226.4 557.5 222.6 557.6 232.8 557.8 228.2 558.0 225.9 558.1 225.9 558.3 233.0 558.5 221.7 558.6 231.3 558.8 226.3 559.0 219.8 559.1 225.4 559.3 227.0 559.4 215.0 559.6 225.5 559.8 227.9 559.9 229.0 560.1 225.2 560.3 231.2 560.4 224.8 560.6 232.5 560.8 227.9 560.9 229.4 561.1 229.0 561.3 225.7 561.4 236.3 561.6 231.3 561.8 227.5 561.9 225.4 562.1 228.4 562.2 225.6 562.4 229.6 562.6 224.4 562.7 226.2 562.9 221.2 563.1 229.7 563.2 226.7 563.4 226.8 563.6 222.6 563.7 228.5 563.9 223.0 564.1 231.3 564.2 222.2 564.4 226.4 564.6 215.3 564.7 233.8 564.9 225.1 565.0 221.4 565.2 229.1 565.4 228.1 565.5 225.5 565.7 227.7 565.9 215.9 566.0 222.6 566.2 229.9 566.4 225.0 566.5 218.9 566.7 228.6 566.9 226.8 567.0 225.7 567.2 223.4 567.4 230.1 567.5 229.4 567.7 235.3 567.8 224.6 568.0 225.9 568.2 223.0 568.3 228.4 568.5 225.1 568.7 225.0 568.8 228.2 569.0 236.3 569.2 231.4 569.3 226.7 569.5 228.1 569.7 229.8 569.8 229.0 570.0 228.5 570.2 227.9 570.3 224.7 570.5 224.3 570.6 230.7 570.8 223.6 571.0 227.0 571.1 224.0 571.3 225.7 571.5 229.8 571.6 218.8 571.8 232.0 572.0 218.1 572.1 236.3 572.3 224.9 572.5 225.4 572.6 228.6 572.8 227.5 573.0 227.6 573.1 231.9 573.3 225.0 573.4 222.8 573.6 226.7 573.8 231.5 573.9 227.8 574.1 232.5 574.3 228.5 574.4 221.7 574.6 225.5 574.8 228.3 574.9 225.0 575.1 232.3 575.3 236.3 575.4 224.3 575.6 220.3 575.8 232.7 575.9 230.3 576.1 224.4 576.2 228.3 576.4 231.0 576.6 231.9 576.7 227.3 576.9 228.0 577.1 225.8 577.2 227.4 577.4 222.1 577.6 234.0 577.7 225.9 577.9 222.5 578.1 233.5 578.2 223.3 578.4 221.5 578.6 226.8 578.7 232.3 578.9 228.4 579.0 228.9 579.2 226.4 579.4 221.6 579.5 231.0 579.7 222.7 579.9 232.1 580.0 224.6 580.2 226.0 580.4 223.7 580.5 219.9 580.7 225.4 580.9 223.6 581.0 225.8 581.2 229.1 581.4 232.3 581.5 226.9 581.7 227.3 581.8 226.3 582.0 233.1 582.2 222.1 582.3 225.7 582.5 227.1 582.7 217.1 582.8 227.1 583.0 225.4 583.2 228.1 583.3 234.4 583.5 231.6 583.7 224.0 583.8 228.2 584.0 228.3 584.2 226.6 584.3 231.1 584.5 229.7 584.6 228.9 584.8 221.2 585.0 229.4 585.1 226.4 585.3 229.5 585.5 229.7 585.6 230.2 585.8 227.8 586.0 228.8 586.1 225.9 586.3 219.3 586.5 229.3 586.6 225.8 586.8 223.5 587.0 231.8 587.1 224.8 587.3 229.2 587.4 225.6 587.6 222.2 587.8 223.6 587.9 229.4 588.1 229.0 588.3 223.3 588.4 231.8 588.6 231.9 588.8 226.4 588.9 225.6 589.1 223.8 589.3 234.1 589.4 227.1 589.6 225.8 589.8 226.2 589.9 228.2 590.1 229.8 590.2 229.2 590.4 223.2 590.6 234.5 590.7 222.7 590.9 225.2 591.1 227.8 591.2 221.8 591.4 222.5 591.6 225.7 591.7 227.6 591.9 222.8 592.1 227.8 592.2 224.5 592.4 225.4 592.6 235.4 592.7 220.1 592.9 229.0 593.0 225.7 593.2 224.7 593.4 213.7 593.5 222.7 593.7 226.0 593.9 223.3 594.0 225.6 594.2 221.1 594.4 222.6 594.5 225.9 594.7 223.2 594.9 222.7 595.0 222.7 595.2 229.3 595.4 230.2 595.5 219.9 595.7 224.9 595.8 221.0 596.0 226.3 596.2 229.5 596.3 227.8 596.5 230.8 596.7 228.2 596.8 229.4 597.0 236.3 597.2 216.1 597.3 221.3 597.5 220.3 597.7 225.6 597.8 224.7 598.0 225.7 598.2 236.3 598.3 224.6 598.5 232.1 598.6 226.6 598.8 224.9 599.0 230.5 599.1 234.7 599.3 222.4 599.5 224.1 599.6 228.2 599.8 223.4 600.0 220.6 600.1 226.2 600.3 231.8 600.5 220.8 600.6 226.0 600.8 231.2 601.0 225.5 601.1 233.4 601.3 229.6 601.5 227.2 601.6 228.2 601.8 222.5 601.9 225.5 602.1 226.0 602.3 223.1 602.4 218.8 602.6 232.5 602.8 229.5 602.9 235.5 603.1 228.7 603.3 230.0 603.4 221.5 603.6 224.9 603.8 227.2 603.9 232.9 604.1 220.7 604.3 229.3 604.4 228.9 604.6 225.9 604.7 224.7 604.9 226.5 605.1 227.6 605.2 224.3 605.4 227.1 605.6 219.1 605.7 228.4 605.9 226.5 606.1 225.5 606.2 226.8 606.4 225.9 606.6 221.8 606.7 226.2 606.9 229.2 607.1 223.8 607.2 225.8 607.4 223.6 607.5 227.6 607.7 223.4 607.9 227.3 608.0 228.7 608.2 232.5 608.4 219.9 608.5 224.8 608.7 230.8 608.9 225.0 609.0 223.2 609.2 232.4 609.4 224.9 609.5 223.0 609.7 219.8 609.9 227.9 610.0 230.1 610.2 221.6 610.3 222.8 610.5 225.6 610.7 217.5 610.8 228.5 611.0 231.1 611.2 232.8 611.3 232.4 611.5 224.0 611.7 235.3 611.8 228.7 612.0 224.0 612.2 232.9 612.3 228.1 612.5 225.1 612.7 229.3 612.8 228.3 613.0 225.8 613.1 222.6 613.3 232.7 613.5 230.7 613.6 221.4 613.8 234.0 614.0 228.6 614.1 226.0 614.3 225.3 614.5 229.2 614.6 230.4 614.8 229.8 615.0 221.4 615.1 227.7 615.3 227.1 615.5 226.9 615.6 221.1 615.8 234.6 615.9 232.3 616.1 223.2 616.3 228.0 616.4 225.2 616.6 233.6 616.8 223.4 616.9 224.5 617.1 230.6 617.3 221.6 617.4 225.7 617.6 224.3 617.8 226.9 617.9 225.0 618.1 227.6 618.3 233.3 618.4 232.8 618.6 227.9 618.7 230.6 618.9 223.8 619.1 222.9 619.2 231.9 619.4 228.8 619.6 227.7 619.7 219.9 619.9 231.8 620.1 224.7 620.2 230.0 620.4 224.8 620.6 223.8 620.7 221.3 620.9 223.3 621.1 228.9 621.2 229.7 621.4 225.9 621.5 223.1 621.7 227.1 621.9 222.7 622.0 228.1 622.2 229.1 622.4 225.0 622.5 220.3 622.7 219.2 622.9 224.8 623.0 227.9 623.2 229.1 623.4 233.9 623.5 233.0 623.7 228.6 623.9 226.3 624.0 230.7 624.2 228.0 624.3 224.6 624.5 228.2 624.7 228.5 624.8 218.9 625.0 226.8 625.2 221.7 625.3 233.0 625.5 229.7 625.7 222.7 625.8 236.3 626.0 224.3 626.2 233.0 626.3 224.6 626.5 227.8 626.7 227.0 626.8 226.2 627.0 235.2 627.1 227.9 627.3 221.1 627.5 226.0 627.6 229.3 627.8 226.5 628.0 223.8 628.1 223.9 628.3 218.8 628.5 232.3 628.6 227.5 628.8 228.7 629.0 227.3 629.1 228.4 629.3 226.0 629.5 225.5 629.6 235.3 629.8 228.4 629.9 229.9 630.1 226.7 630.3 227.3 630.4 230.1 630.6 222.1 630.8 234.9 630.9 227.1 631.1 224.5 631.3 229.5 631.4 229.0 631.6 225.9 631.8 233.5 631.9 223.6 632.1 224.8 632.3 232.3 632.4 226.1 632.6 228.9 632.7 225.3 632.9 224.4 633.1 230.4 633.2 235.8 633.4 226.8 633.6 221.6 633.7 217.9 633.9 229.5 634.1 220.8 634.2 221.8 634.4 229.1 634.6 226.0 634.7 229.3 634.9 232.5 635.1 236.3 635.2 223.2 635.4 226.8 635.5 224.9 635.7 227.1 635.9 222.9 636.0 230.4 636.2 231.3 636.4 224.9 636.5 221.3 636.7 228.7 636.9 223.4 637.0 222.6 637.2 225.3 637.4 228.0 637.5 226.1 637.7 229.1 637.9 226.4 638.0 229.3 638.2 222.3 638.3 230.1 638.5 225.5 638.7 226.4 638.8 225.1 639.0 226.6 639.2 221.4 639.3 227.2 639.5 229.4 639.7 227.1 639.8 224.3 640.0 226.8 640.2 224.0 640.3 232.0 640.5 236.3 640.7 233.1 640.8 229.0 641.0 228.7 641.1 225.3 641.3 222.1 641.5 226.0 641.6 236.1 641.8 231.1 642.0 225.4 642.1 227.1 642.3 231.2 642.5 230.1 642.6 218.6 642.8 227.8 643.0 222.5 643.1 223.4 643.3 231.8 643.5 214.1 643.6 220.8 643.8 230.5 643.9 232.9 644.1 228.7 644.3 231.7 644.4 229.4 644.6 229.5 644.8 223.0 644.9 228.0 645.1 227.6 645.3 233.7 645.4 223.0 645.6 227.7 645.8 228.1 645.9 221.3 646.1 229.6 646.3 229.3 646.4 225.4 646.6 227.7 646.7 227.1 646.9 223.7 647.1 221.6 647.2 222.5 647.4 228.2 647.6 228.7 647.7 234.0 647.9 231.1 648.1 222.5 648.2 231.3 648.4 224.9 648.6 231.9 648.7 229.4 648.9 226.0 649.1 226.0 649.2 229.1 649.4 230.8 649.5 236.3 649.7 218.7 649.9 231.7 650.0 222.4 650.2 232.8 650.4 229.3 650.5 221.2 650.7 227.9 650.9 221.2 651.0 229.8 651.2 226.0 651.4 226.0 651.5 221.1 651.7 234.3 651.9 228.6 652.0 230.0 652.2 231.1 652.3 226.3 652.5 226.0 652.7 226.6 652.8 230.2 653.0 227.9 653.2 230.9 653.3 236.3 653.5 220.4 653.7 232.6 653.8 224.8 654.0 226.5 654.2 217.2 654.3 219.8 654.5 223.3 654.7 230.1 654.8 230.6 655.0 230.0 655.1 225.9 655.3 221.9 655.5 225.1 655.6 222.4 655.8 223.7 656.0 218.5 656.1 220.7 656.3 224.1" stroke="#f01818" stroke-width="0.85" fill="none" stroke-linejoin="bevel"/><path d="M541.0 190.4 541.2 184.9 541.3 189.6 541.5 193.5 541.7 186.1 541.8 188.5 542.0 187.9 542.2 180.8 542.3 181.3 542.5 172.5 542.6 189.0 542.8 186.9 543.0 169.5 543.1 183.0 543.3 157.4 543.5 170.6 543.6 167.6 543.8 186.1 544.0 160.1 544.1 171.5 544.3 187.1 544.5 169.8 544.6 185.9 544.8 186.1 545.0 153.6 545.1 169.2 545.3 175.6 545.4 172.1 545.6 184.4 545.8 175.7 545.9 177.9 546.1 173.9 546.3 175.9 546.4 162.9 546.6 179.3 546.8 192.5 546.9 165.6 547.1 183.3 547.3 162.5 547.4 188.4 547.6 168.6 547.8 178.9 547.9 175.8 548.1 184.1 548.2 171.5 548.4 177.4 548.6 184.5 548.7 158.3 548.9 177.3 549.1 183.5 549.2 181.9 549.4 166.2 549.6 177.3 549.7 177.9 549.9 167.0 550.1 175.4 550.2 172.7 550.4 174.3 550.6 178.5 550.7 160.6 550.9 181.9 551.0 176.7 551.2 163.8 551.4 201.4 551.5 181.2 551.7 179.5 551.9 178.4 552.0 173.8 552.2 177.5 552.4 175.0 552.5 173.8 552.7 185.9 552.9 189.7 553.0 179.2 553.2 177.3 553.4 183.8 553.5 174.3 553.7 182.9 553.8 171.8 554.0 170.9 554.2 195.6 554.3 179.0 554.5 182.1 554.7 173.6 554.8 169.7 555.0 178.0 555.2 197.1 555.3 184.4 555.5 175.6 555.7 178.4 555.8 171.7 556.0 181.8 556.2 172.3 556.3 189.1 556.5 170.1 556.6 185.4 556.8 193.8 557.0 179.9 557.1 172.4 557.3 190.1 557.5 183.7 557.6 172.7 557.8 187.1 558.0 174.8 558.1 186.9 558.3 174.8 558.5 177.2 558.6 178.3 558.8 179.4 559.0 185.4 559.1 174.0 559.3 184.7 559.4 196.3 559.6 182.3 559.8 207.8 559.9 185.9 560.1 173.3 560.3 183.1 560.4 192.6 560.6 185.5 560.8 178.1 560.9 186.2 561.1 179.1 561.3 188.7 561.4 173.3 561.6 193.8 561.8 181.1 561.9 189.3 562.1 177.2 562.2 169.5 562.4 183.6 562.6 171.4 562.7 184.6 562.9 205.6 563.1 184.7 563.2 182.7 563.4 190.1 563.6 185.3 563.7 180.5 563.9 193.5 564.1 179.0 564.2 195.2 564.4 174.7 564.6 187.7 564.7 183.3 564.9 188.1 565.0 190.3 565.2 175.6 565.4 181.2 565.5 180.0 565.7 183.1 565.9 192.5 566.0 185.7 566.2 185.8 566.4 196.7 566.5 179.0 566.7 180.1 566.9 178.0 567.0 169.9 567.2 189.0 567.4 176.4 567.5 193.3 567.7 193.9 567.8 192.7 568.0 187.4 568.2 174.7 568.3 182.5 568.5 179.8 568.7 200.7 568.8 183.4 569.0 193.0 569.2 187.8 569.3 194.9 569.5 193.3 569.7 197.0 569.8 196.3 570.0 182.6 570.2 192.2 570.3 171.0 570.5 195.5 570.6 187.6 570.8 173.7 571.0 181.4 571.1 171.6 571.3 182.1 571.5 181.5 571.6 201.8 571.8 170.3 572.0 191.4 572.1 179.0 572.3 184.7 572.5 176.8 572.6 182.1 572.8 188.1 573.0 180.7 573.1 181.3 573.3 186.4 573.4 193.5 573.6 193.0 573.8 194.4 573.9 187.9 574.1 198.7 574.3 200.0 574.4 193.2 574.6 194.3 574.8 186.3 574.9 199.6 575.1 195.4 575.3 194.0 575.4 177.9 575.6 181.0 575.8 193.1 575.9 195.7 576.1 189.4 576.2 192.3 576.4 196.2 576.6 194.2 576.7 176.0 576.9 179.9 577.1 199.1 577.2 188.6 577.4 186.2 577.6 191.3 577.7 183.4 577.9 175.8 578.1 189.3 578.2 181.2 578.4 188.2 578.6 158.3 578.7 202.2 578.9 178.5 579.0 189.0 579.2 184.4 579.4 189.7 579.5 171.9 579.7 185.9 579.9 188.8 580.0 172.3 580.2 170.2 580.4 180.4 580.5 184.3 580.7 175.9 580.9 188.9 581.0 171.2 581.2 182.3 581.4 201.3 581.5 179.3 581.7 188.5 581.8 176.7 582.0 165.7 582.2 171.1 582.3 173.1 582.5 181.5 582.7 184.0 582.8 182.7 583.0 184.1 583.2 176.7 583.3 193.7 583.5 186.1 583.7 191.5 583.8 186.6 584.0 182.2 584.2 168.4 584.3 185.4 584.5 169.4 584.6 185.0 584.8 185.0 585.0 186.8 585.1 199.9 585.3 184.3 585.5 189.5 585.6 184.7 585.8 183.6 586.0 183.5 586.1 178.3 586.3 176.3 586.5 164.5 586.6 188.4 586.8 181.1 587.0 181.5 587.1 180.8 587.3 181.5 587.4 196.2 587.6 204.5 587.8 197.3 587.9 193.1 588.1 175.4 588.3 174.7 588.4 171.3 588.6 181.9 588.8 201.8 588.9 197.8 589.1 193.4 589.3 173.9 589.4 190.7 589.6 176.0 589.8 191.7 589.9 204.3 590.1 178.8 590.2 177.5 590.4 187.2 590.6 179.7 590.7 191.2 590.9 183.1 591.1 187.0 591.2 177.5 591.4 180.8 591.6 174.1 591.7 181.5 591.9 187.8 592.1 183.4 592.2 193.9 592.4 189.1 592.6 193.9 592.7 199.8 592.9 189.5 593.0 184.0 593.2 198.2 593.4 212.4 593.5 193.3 593.7 185.1 593.9 206.4 594.0 212.1 594.2 192.2 594.4 201.2 594.5 195.6 594.7 196.5 594.9 198.2 595.0 194.5 595.2 182.6 595.4 188.1 595.5 212.4 595.7 193.8 595.8 199.9 596.0 196.3 596.2 191.2 596.3 190.1 596.5 194.5 596.7 188.2 596.8 205.1 597.0 203.4 597.2 212.2 597.3 202.0 597.5 182.9 597.7 184.3 597.8 187.6 598.0 175.8 598.2 187.0 598.3 209.9 598.5 204.3 598.6 176.8 598.8 196.9 599.0 187.1 599.1 190.8 599.3 190.5 599.5 182.5 599.6 184.5 599.8 195.5 600.0 187.1 600.1 191.8 600.3 177.6 600.5 192.0 600.6 198.2 600.8 185.4 601.0 190.6 601.1 190.1 601.3 183.0 601.5 179.3 601.6 167.8 601.8 177.4 601.9 183.3 602.1 200.4 602.3 179.3 602.4 181.2 602.6 190.8 602.8 182.3 602.9 190.9 603.1 186.3 603.3 189.0 603.4 178.0 603.6 186.1 603.8 189.9 603.9 173.5 604.1 166.7 604.3 182.4 604.4 194.7 604.6 167.6 604.7 165.6 604.9 193.1 605.1 187.1 605.2 178.7 605.4 171.3 605.6 193.4 605.7 188.0 605.9 185.5 606.1 167.9 606.2 179.6 606.4 191.3 606.6 184.6 606.7 184.1 606.9 185.4 607.1 170.3 607.2 176.1 607.4 190.7 607.5 188.9 607.7 196.5 607.9 186.6 608.0 174.2 608.2 199.1 608.4 171.8 608.5 174.9 608.7 182.0 608.9 188.4 609.0 179.5 609.2 182.5 609.4 182.2 609.5 171.3 609.7 181.9 609.9 169.5 610.0 180.0 610.2 179.5 610.3 170.6 610.5 179.5 610.7 172.6 610.8 183.7 611.0 163.2 611.2 173.8 611.3 177.1 611.5 187.6 611.7 186.5 611.8 182.6 612.0 189.1 612.2 167.3 612.3 182.7 612.5 183.1 612.7 191.7 612.8 173.4 613.0 188.3 613.1 187.1 613.3 155.6 613.5 173.5 613.6 188.5 613.8 179.5 614.0 179.1 614.1 172.1 614.3 182.8 614.5 181.0 614.6 182.3 614.8 168.3 615.0 162.2 615.1 167.9 615.3 176.3 615.5 175.4 615.6 175.6 615.8 172.1 615.9 173.2 616.1 180.6 616.3 166.0 616.4 166.5 616.6 162.2 616.8 182.2 616.9 178.7 617.1 170.6 617.3 184.3 617.4 171.1 617.6 181.1 617.8 182.0 617.9 183.9 618.1 168.3 618.3 164.9 618.4 178.5 618.6 180.3 618.7 181.5 618.9 189.1 619.1 176.8 619.2 178.3 619.4 184.1 619.6 182.7 619.7 176.9 619.9 197.5 620.1 179.3 620.2 183.3 620.4 177.4 620.6 203.7 620.7 175.8 620.9 173.6 621.1 172.9 621.2 167.9 621.4 174.4 621.5 166.4 621.7 177.1 621.9 179.6 622.0 184.3 622.2 180.6 622.4 175.2 622.5 181.7 622.7 170.0 622.9 188.4 623.0 167.2 623.2 184.0 623.4 182.5 623.5 184.7 623.7 180.6 623.9 166.8 624.0 171.0 624.2 190.2 624.3 188.4 624.5 189.1 624.7 169.9 624.8 174.7 625.0 187.0 625.2 180.8 625.3 176.3 625.5 180.9 625.7 179.7 625.8 183.4 626.0 191.1 626.2 191.9 626.3 193.0 626.5 180.0 626.7 174.8 626.8 178.2 627.0 155.0 627.1 179.2 627.3 182.4 627.5 194.6 627.6 178.3 627.8 175.3 628.0 184.0 628.1 159.2 628.3 167.0 628.5 197.3 628.6 192.8 628.8 185.5 629.0 187.9 629.1 198.8 629.3 188.9 629.5 179.8 629.6 183.5 629.8 188.5 629.9 183.4 630.1 176.0 630.3 183.9 630.4 190.8 630.6 177.4 630.8 184.3 630.9 197.2 631.1 182.5 631.3 177.4 631.4 186.1 631.6 183.8 631.8 175.3 631.9 176.7 632.1 155.0 632.3 189.7 632.4 171.1 632.6 188.6 632.7 182.2 632.9 190.1 633.1 175.1 633.2 196.6 633.4 181.4 633.6 188.2 633.7 175.8 633.9 175.6 634.1 192.6 634.2 191.9 634.4 181.9 634.6 186.8 634.7 174.6 634.9 186.6 635.1 182.2 635.2 169.6 635.4 198.0 635.5 178.7 635.7 165.9 635.9 201.3 636.0 160.0 636.2 181.4 636.4 165.4 636.5 180.2 636.7 183.0 636.9 173.0 637.0 166.3 637.2 172.5 637.4 181.8 637.5 185.5 637.7 177.4 637.9 187.0 638.0 187.7 638.2 171.4 638.3 173.6 638.5 181.7 638.7 181.9 638.8 174.6 639.0 175.5 639.2 204.7 639.3 181.0 639.5 198.3 639.7 201.2 639.8 187.3 640.0 189.1 640.2 178.1 640.3 179.7 640.5 175.4 640.7 186.6 640.8 199.1 641.0 189.8 641.1 194.2 641.3 191.2 641.5 181.4 641.6 190.3 641.8 194.1 642.0 181.2 642.1 182.7 642.3 172.6 642.5 178.8 642.6 179.5 642.8 188.1 643.0 173.8 643.1 167.0 643.3 185.8 643.5 174.1 643.6 177.7 643.8 188.2 643.9 174.6 644.1 173.8 644.3 172.9 644.4 174.8 644.6 176.9 644.8 175.6 644.9 164.0 645.1 182.3 645.3 181.3 645.4 184.8 645.6 155.0 645.8 172.3 645.9 176.7 646.1 175.4 646.3 176.6 646.4 153.6 646.6 180.7 646.7 189.0 646.9 192.8 647.1 187.2 647.2 197.5 647.4 174.3 647.6 173.3 647.7 175.1 647.9 175.9 648.1 172.7 648.2 183.9 648.4 172.8 648.6 177.2 648.7 182.3 648.9 174.3 649.1 187.5 649.2 182.6 649.4 180.7 649.5 171.9 649.7 191.2 649.9 179.3 650.0 178.3 650.2 179.8 650.4 195.2 650.5 190.3 650.7 177.1 650.9 179.9 651.0 175.5 651.2 182.5 651.4 184.4 651.5 209.1 651.7 181.5 651.9 172.5 652.0 166.5 652.2 180.0 652.3 178.0 652.5 181.5 652.7 191.2 652.8 192.1 653.0 180.2 653.2 187.2 653.3 167.9 653.5 180.4 653.7 178.0 653.8 177.0 654.0 187.2 654.2 187.7 654.3 174.6 654.5 178.6 654.7 182.2 654.8 199.3 655.0 191.3 655.1 191.3 655.3 177.9 655.5 182.3 655.6 173.0 655.8 178.8 656.0 179.0 656.1 188.0 656.3 184.3" stroke="#1a1ae8" stroke-width="0.85" fill="none" stroke-linejoin="bevel"/><line x1="541.00" y1="185.16" x2="656.30" y2="185.16" stroke="#dcdcff" stroke-width="0.8" stroke-dasharray="1.6 1.4"/><line x1="541.00" y1="227.25" x2="656.30" y2="227.25" stroke="#ffc8c8" stroke-width="0.8" stroke-dasharray="1.6 1.4"/><line x1="541.00" y1="237.77" x2="656.30" y2="237.77" stroke="#bbbbbb" stroke-width="0.6" stroke-dasharray="1.6 1.4"/><rect x="541.00" y="153.60" width="115.30" height="90.70" fill="none" stroke="#111" stroke-width="1.1" /><line x1="541.00" y1="244.30" x2="543.50" y2="244.30" stroke="#000" stroke-width="0.8" /><line x1="656.30" y1="244.30" x2="653.80" y2="244.30" stroke="#000" stroke-width="0.8" /><text x="538.4" y="246.60000000000002" font-size="6.6" text-anchor="end" fill="#111" font-weight="bold" >0.00</text><line x1="541.00" y1="235.23" x2="542.40" y2="235.23" stroke="#000" stroke-width="0.8" /><line x1="656.30" y1="235.23" x2="654.90" y2="235.23" stroke="#000" stroke-width="0.8" /><line x1="541.00" y1="226.16" x2="543.50" y2="226.16" stroke="#000" stroke-width="0.8" /><line x1="656.30" y1="226.16" x2="653.80" y2="226.16" stroke="#000" stroke-width="0.8" /><text x="538.4" y="228.46" font-size="6.6" text-anchor="end" fill="#111" font-weight="bold" >0.05</text><line x1="541.00" y1="217.09" x2="542.40" y2="217.09" stroke="#000" stroke-width="0.8" /><line x1="656.30" y1="217.09" x2="654.90" y2="217.09" stroke="#000" stroke-width="0.8" /><line x1="541.00" y1="208.02" x2="543.50" y2="208.02" stroke="#000" stroke-width="0.8" /><line x1="656.30" y1="208.02" x2="653.80" y2="208.02" stroke="#000" stroke-width="0.8" /><text x="538.4" y="210.32000000000002" font-size="6.6" text-anchor="end" fill="#111" font-weight="bold" >0.10</text><line x1="541.00" y1="198.95" x2="542.40" y2="198.95" stroke="#000" stroke-width="0.8" /><line x1="656.30" y1="198.95" x2="654.90" y2="198.95" stroke="#000" stroke-width="0.8" /><line x1="541.00" y1="189.88" x2="543.50" y2="189.88" stroke="#000" stroke-width="0.8" /><line x1="656.30" y1="189.88" x2="653.80" y2="189.88" stroke="#000" stroke-width="0.8" /><text x="538.4" y="192.18" font-size="6.6" text-anchor="end" fill="#111" font-weight="bold" >0.15</text><line x1="541.00" y1="180.81" x2="542.40" y2="180.81" stroke="#000" stroke-width="0.8" /><line x1="656.30" y1="180.81" x2="654.90" y2="180.81" stroke="#000" stroke-width="0.8" /><line x1="541.00" y1="171.74" x2="543.50" y2="171.74" stroke="#000" stroke-width="0.8" /><line x1="656.30" y1="171.74" x2="653.80" y2="171.74" stroke="#000" stroke-width="0.8" /><text x="538.4" y="174.04000000000002" font-size="6.6" text-anchor="end" fill="#111" font-weight="bold" >0.20</text><line x1="541.00" y1="162.67" x2="542.40" y2="162.67" stroke="#000" stroke-width="0.8" /><line x1="656.30" y1="162.67" x2="654.90" y2="162.67" stroke="#000" stroke-width="0.8" /><line x1="541.00" y1="153.60" x2="543.50" y2="153.60" stroke="#000" stroke-width="0.8" /><line x1="656.30" y1="153.60" x2="653.80" y2="153.60" stroke="#000" stroke-width="0.8" /><text x="538.4" y="155.9" font-size="6.6" text-anchor="end" fill="#111" font-weight="bold" >0.25</text><line x1="541.00" y1="244.30" x2="541.00" y2="241.80" stroke="#000" stroke-width="0.8" /><line x1="541.00" y1="153.60" x2="541.00" y2="156.10" stroke="#000" stroke-width="0.8" /><text x="541.0" y="253.60000000000002" font-size="7.0" text-anchor="middle" fill="#111" font-weight="bold" >0</text><line x1="546.76" y1="244.30" x2="546.76" y2="242.90" stroke="#000" stroke-width="0.8" /><line x1="546.76" y1="153.60" x2="546.76" y2="155.00" stroke="#000" stroke-width="0.8" /><line x1="552.53" y1="244.30" x2="552.53" y2="241.80" stroke="#000" stroke-width="0.8" /><line x1="552.53" y1="153.60" x2="552.53" y2="156.10" stroke="#000" stroke-width="0.8" /><text x="552.53" y="253.60000000000002" font-size="7.0" text-anchor="middle" fill="#111" font-weight="bold" >20</text><line x1="558.29" y1="244.30" x2="558.29" y2="242.90" stroke="#000" stroke-width="0.8" /><line x1="558.29" y1="153.60" x2="558.29" y2="155.00" stroke="#000" stroke-width="0.8" /><line x1="564.06" y1="244.30" x2="564.06" y2="241.80" stroke="#000" stroke-width="0.8" /><line x1="564.06" y1="153.60" x2="564.06" y2="156.10" stroke="#000" stroke-width="0.8" /><text x="564.06" y="253.60000000000002" font-size="7.0" text-anchor="middle" fill="#111" font-weight="bold" >40</text><line x1="569.83" y1="244.30" x2="569.83" y2="242.90" stroke="#000" stroke-width="0.8" /><line x1="569.83" y1="153.60" x2="569.83" y2="155.00" stroke="#000" stroke-width="0.8" /><line x1="575.59" y1="244.30" x2="575.59" y2="241.80" stroke="#000" stroke-width="0.8" /><line x1="575.59" y1="153.60" x2="575.59" y2="156.10" stroke="#000" stroke-width="0.8" /><text x="575.59" y="253.60000000000002" font-size="7.0" text-anchor="middle" fill="#111" font-weight="bold" >60</text><line x1="581.36" y1="244.30" x2="581.36" y2="242.90" stroke="#000" stroke-width="0.8" /><line x1="581.36" y1="153.60" x2="581.36" y2="155.00" stroke="#000" stroke-width="0.8" /><line x1="587.12" y1="244.30" x2="587.12" y2="241.80" stroke="#000" stroke-width="0.8" /><line x1="587.12" y1="153.60" x2="587.12" y2="156.10" stroke="#000" stroke-width="0.8" /><text x="587.12" y="253.60000000000002" font-size="7.0" text-anchor="middle" fill="#111" font-weight="bold" >80</text><line x1="592.88" y1="244.30" x2="592.88" y2="242.90" stroke="#000" stroke-width="0.8" /><line x1="592.88" y1="153.60" x2="592.88" y2="155.00" stroke="#000" stroke-width="0.8" /><line x1="598.65" y1="244.30" x2="598.65" y2="241.80" stroke="#000" stroke-width="0.8" /><line x1="598.65" y1="153.60" x2="598.65" y2="156.10" stroke="#000" stroke-width="0.8" /><text x="598.65" y="253.60000000000002" font-size="7.0" text-anchor="middle" fill="#111" font-weight="bold" >100</text><line x1="604.41" y1="244.30" x2="604.41" y2="242.90" stroke="#000" stroke-width="0.8" /><line x1="604.41" y1="153.60" x2="604.41" y2="155.00" stroke="#000" stroke-width="0.8" /><line x1="610.18" y1="244.30" x2="610.18" y2="241.80" stroke="#000" stroke-width="0.8" /><line x1="610.18" y1="153.60" x2="610.18" y2="156.10" stroke="#000" stroke-width="0.8" /><text x="610.18" y="253.60000000000002" font-size="7.0" text-anchor="middle" fill="#111" font-weight="bold" >120</text><line x1="615.94" y1="244.30" x2="615.94" y2="242.90" stroke="#000" stroke-width="0.8" /><line x1="615.94" y1="153.60" x2="615.94" y2="155.00" stroke="#000" stroke-width="0.8" /><line x1="621.71" y1="244.30" x2="621.71" y2="241.80" stroke="#000" stroke-width="0.8" /><line x1="621.71" y1="153.60" x2="621.71" y2="156.10" stroke="#000" stroke-width="0.8" /><text x="621.7099999999999" y="253.60000000000002" font-size="7.0" text-anchor="middle" fill="#111" font-weight="bold" >140</text><line x1="627.47" y1="244.30" x2="627.47" y2="242.90" stroke="#000" stroke-width="0.8" /><line x1="627.47" y1="153.60" x2="627.47" y2="155.00" stroke="#000" stroke-width="0.8" /><line x1="633.24" y1="244.30" x2="633.24" y2="241.80" stroke="#000" stroke-width="0.8" /><line x1="633.24" y1="153.60" x2="633.24" y2="156.10" stroke="#000" stroke-width="0.8" /><text x="633.24" y="253.60000000000002" font-size="7.0" text-anchor="middle" fill="#111" font-weight="bold" >160</text><line x1="639.00" y1="244.30" x2="639.00" y2="242.90" stroke="#000" stroke-width="0.8" /><line x1="639.00" y1="153.60" x2="639.00" y2="155.00" stroke="#000" stroke-width="0.8" /><line x1="644.77" y1="244.30" x2="644.77" y2="241.80" stroke="#000" stroke-width="0.8" /><line x1="644.77" y1="153.60" x2="644.77" y2="156.10" stroke="#000" stroke-width="0.8" /><text x="644.77" y="253.60000000000002" font-size="7.0" text-anchor="middle" fill="#111" font-weight="bold" >180</text><line x1="650.53" y1="244.30" x2="650.53" y2="242.90" stroke="#000" stroke-width="0.8" /><line x1="650.53" y1="153.60" x2="650.53" y2="155.00" stroke="#000" stroke-width="0.8" /><line x1="656.30" y1="244.30" x2="656.30" y2="241.80" stroke="#000" stroke-width="0.8" /><line x1="656.30" y1="153.60" x2="656.30" y2="156.10" stroke="#000" stroke-width="0.8" /><text x="656.3" y="253.60000000000002" font-size="7.0" text-anchor="middle" fill="#111" font-weight="bold" >200</text><text x="597.7" y="264.3" font-size="7.8" text-anchor="middle" fill="#111" font-weight="bold" >Time (ps)</text><text x="518.0" y="199.1" font-size="7.8" text-anchor="middle" fill="#111" font-weight="bold" transform="rotate(-90 518.0 199.1)" textLength="93" lengthAdjust="spacingAndGlyphs" >Potential energy (eV/atom)</text><text x="629.6" y="162.3" font-size="6.8" text-anchor="middle" fill="#1a1ae8" font-weight="bold" >1000K</text><text x="631.2" y="215.5" font-size="6.8" text-anchor="middle" fill="#f01818" font-weight="bold" >500K</text><path d="M48.9 294.0L55.3 306.5M60.8 297.3L55.3 306.5M60.8 297.3L63.0 308.3M70.9 298.2L63.0 308.3M70.9 298.2L78.2 299.2M78.2 299.2L83.7 307.4M78.2 299.2L70.9 298.2M92.8 294.6L83.7 307.4M38.8 312.0L37.9 328.5M48.0 313.8L55.3 306.5M95.6 314.7L83.7 307.4M23.2 329.4L37.9 328.5M33.3 327.5L37.9 328.5M33.3 327.5L47.0 331.8M101.0 335.8L94.7 333.0M34.2 348.6L48.9 353.2M42.5 349.5L48.9 353.2M95.6 348.6L94.7 333.0M54.4 364.2L48.9 353.2M62.6 365.1L68.1 353.2M79.1 365.1L77.3 355.0M88.0 342.0L94.7 333.0M88.0 342.0L85.5 329.4M40.0 340.0L47.0 331.8M40.0 340.0L37.9 328.5M72.0 320.0L67.2 329.4M72.0 320.0L74.5 333.0" stroke="#eeb8b8" stroke-width="0.9" fill="none"/><path d="M55.6 305.4L63.3 307.2M55.0 307.6L62.7 309.4M55.3 305.4L83.7 306.3M55.3 307.6L83.7 308.5M56.2 307.2L38.8 329.2M54.4 305.8L37.0 327.8M56.3 306.8L48.0 332.1M54.3 306.2L46.0 331.5M56.4 306.4L59.1 328.4M54.2 306.6L56.9 328.6M56.3 306.0L68.2 328.9M54.3 307.0L66.2 329.9M63.0 307.2L83.7 306.3M63.0 309.4L83.7 308.5M63.9 308.9L47.9 332.4M62.1 307.7L46.1 331.2M64.1 308.6L59.1 328.8M61.9 308.0L56.9 328.2M64.1 308.1L68.3 329.2M61.9 308.5L66.1 329.6M64.0 307.8L75.5 332.5M62.0 308.8L73.5 333.5M84.6 308.1L68.1 330.1M82.8 306.7L66.3 328.7M84.7 307.8L75.5 333.4M82.7 307.0L73.5 332.6M84.8 307.3L86.6 329.3M82.6 307.5L84.4 329.5M84.7 307.0L95.7 332.6M82.7 307.8L93.7 333.4M38.3 327.5L47.4 330.8M37.5 329.5L46.6 332.8M37.9 327.4L58.0 327.4M37.9 329.6L58.0 329.6M38.9 328.1L49.9 352.8M36.9 328.9L47.9 353.6M46.7 330.7L57.7 327.4M47.3 332.9L58.3 329.6M46.9 330.7L67.1 328.3M47.1 332.9L67.3 330.5M47.0 330.7L74.5 331.9M47.0 332.9L74.5 334.1M48.1 331.7L50.0 353.1M45.9 331.9L47.8 353.3M58.1 327.4L67.3 328.3M57.9 329.6L67.1 330.5M58.3 327.4L74.8 331.9M57.7 329.6L74.2 334.1M58.0 327.4L85.5 328.3M58.0 329.6L85.5 330.5M59.0 328.9L49.9 353.6M57.0 328.1L47.9 352.8M59.0 328.1L69.1 352.8M57.0 328.9L67.1 353.6M67.7 328.4L75.0 332.0M66.7 330.4L74.0 334.0M67.2 328.3L85.5 328.3M67.2 330.5L85.5 330.5M67.3 328.3L94.8 331.9M67.1 330.5L94.6 334.1M68.3 329.4L69.2 353.2M66.1 329.4L67.0 353.2M68.2 329.0L78.3 354.6M66.2 329.8L76.3 355.4M74.2 332.0L85.2 328.4M74.8 334.0L85.8 330.4M74.5 331.9L94.7 331.9M74.5 334.1L94.7 334.1M75.5 333.3L69.1 353.5M73.5 332.7L67.1 352.9M75.6 332.9L78.4 354.9M73.4 333.1L76.2 355.1M85.9 328.4L95.1 332.0M85.1 330.4L94.3 334.0M86.5 329.7L78.3 355.3M84.5 329.1L76.3 354.7M95.6 333.7L78.2 355.7M93.8 332.3L76.4 354.3M48.9 352.1L68.1 352.1M48.9 354.3L68.1 354.3M49.0 352.1L77.4 353.9M48.8 354.3L77.2 356.1M68.3 352.1L77.5 353.9M67.9 354.3L77.1 356.1" stroke="#b4b2ae" stroke-width="1.6" fill="none"/><path d="M55.6 305.4L63.3 307.2M55.0 307.6L62.7 309.4M55.3 305.4L83.7 306.3M55.3 307.6L83.7 308.5M56.2 307.2L38.8 329.2M54.4 305.8L37.0 327.8M56.3 306.8L48.0 332.1M54.3 306.2L46.0 331.5M56.4 306.4L59.1 328.4M54.2 306.6L56.9 328.6M56.3 306.0L68.2 328.9M54.3 307.0L66.2 329.9M63.0 307.2L83.7 306.3M63.0 309.4L83.7 308.5M63.9 308.9L47.9 332.4M62.1 307.7L46.1 331.2M64.1 308.6L59.1 328.8M61.9 308.0L56.9 328.2M64.1 308.1L68.3 329.2M61.9 308.5L66.1 329.6M64.0 307.8L75.5 332.5M62.0 308.8L73.5 333.5M84.6 308.1L68.1 330.1M82.8 306.7L66.3 328.7M84.7 307.8L75.5 333.4M82.7 307.0L73.5 332.6M84.8 307.3L86.6 329.3M82.6 307.5L84.4 329.5M84.7 307.0L95.7 332.6M82.7 307.8L93.7 333.4M38.3 327.5L47.4 330.8M37.5 329.5L46.6 332.8M37.9 327.4L58.0 327.4M37.9 329.6L58.0 329.6M38.9 328.1L49.9 352.8M36.9 328.9L47.9 353.6M46.7 330.7L57.7 327.4M47.3 332.9L58.3 329.6M46.9 330.7L67.1 328.3M47.1 332.9L67.3 330.5M47.0 330.7L74.5 331.9M47.0 332.9L74.5 334.1M48.1 331.7L50.0 353.1M45.9 331.9L47.8 353.3M58.1 327.4L67.3 328.3M57.9 329.6L67.1 330.5M58.3 327.4L74.8 331.9M57.7 329.6L74.2 334.1M58.0 327.4L85.5 328.3M58.0 329.6L85.5 330.5M59.0 328.9L49.9 353.6M57.0 328.1L47.9 352.8M59.0 328.1L69.1 352.8M57.0 328.9L67.1 353.6M67.7 328.4L75.0 332.0M66.7 330.4L74.0 334.0M67.2 328.3L85.5 328.3M67.2 330.5L85.5 330.5M67.3 328.3L94.8 331.9M67.1 330.5L94.6 334.1M68.3 329.4L69.2 353.2M66.1 329.4L67.0 353.2M68.2 329.0L78.3 354.6M66.2 329.8L76.3 355.4M74.2 332.0L85.2 328.4M74.8 334.0L85.8 330.4M74.5 331.9L94.7 331.9M74.5 334.1L94.7 334.1M75.5 333.3L69.1 353.5M73.5 332.7L67.1 352.9M75.6 332.9L78.4 354.9M73.4 333.1L76.2 355.1M85.9 328.4L95.1 332.0M85.1 330.4L94.3 334.0M86.5 329.7L78.3 355.3M84.5 329.1L76.3 354.7M95.6 333.7L78.2 355.7M93.8 332.3L76.4 354.3M48.9 352.1L68.1 352.1M48.9 354.3L68.1 354.3M49.0 352.1L77.4 353.9M48.8 354.3L77.2 356.1M68.3 352.1L77.5 353.9M67.9 354.3L77.1 356.1" stroke="#dcdad6" stroke-width="0.6" fill="none"/><circle cx="48.9" cy="294.0" r="1.15" fill="#fff0f0" stroke="#e49a9a" stroke-width="0.6"/><circle cx="60.8" cy="297.3" r="1.15" fill="#fff0f0" stroke="#e49a9a" stroke-width="0.6"/><circle cx="70.9" cy="298.2" r="1.15" fill="#fff0f0" stroke="#e49a9a" stroke-width="0.6"/><circle cx="78.2" cy="299.2" r="1.15" fill="#fff0f0" stroke="#e49a9a" stroke-width="0.6"/><circle cx="92.8" cy="294.6" r="1.15" fill="#fff0f0" stroke="#e49a9a" stroke-width="0.6"/><circle cx="38.8" cy="312.0" r="1.15" fill="#fff0f0" stroke="#e49a9a" stroke-width="0.6"/><circle cx="48.0" cy="313.8" r="1.15" fill="#fff0f0" stroke="#e49a9a" stroke-width="0.6"/><circle cx="95.6" cy="314.7" r="1.15" fill="#fff0f0" stroke="#e49a9a" stroke-width="0.6"/><circle cx="23.2" cy="329.4" r="1.15" fill="#fff0f0" stroke="#e49a9a" stroke-width="0.6"/><circle cx="33.3" cy="327.5" r="1.15" fill="#fff0f0" stroke="#e49a9a" stroke-width="0.6"/><circle cx="101.0" cy="335.8" r="1.15" fill="#fff0f0" stroke="#e49a9a" stroke-width="0.6"/><circle cx="34.2" cy="348.6" r="1.15" fill="#fff0f0" stroke="#e49a9a" stroke-width="0.6"/><circle cx="42.5" cy="349.5" r="1.15" fill="#fff0f0" stroke="#e49a9a" stroke-width="0.6"/><circle cx="95.6" cy="348.6" r="1.15" fill="#fff0f0" stroke="#e49a9a" stroke-width="0.6"/><circle cx="54.4" cy="364.2" r="1.15" fill="#fff0f0" stroke="#e49a9a" stroke-width="0.6"/><circle cx="62.6" cy="365.1" r="1.15" fill="#fff0f0" stroke="#e49a9a" stroke-width="0.6"/><circle cx="79.1" cy="365.1" r="1.15" fill="#fff0f0" stroke="#e49a9a" stroke-width="0.6"/><circle cx="88.0" cy="342.0" r="1.15" fill="#fff0f0" stroke="#e49a9a" stroke-width="0.6"/><circle cx="40.0" cy="340.0" r="1.15" fill="#fff0f0" stroke="#e49a9a" stroke-width="0.6"/><circle cx="72.0" cy="320.0" r="1.15" fill="#fff0f0" stroke="#e49a9a" stroke-width="0.6"/><circle cx="37.90" cy="328.50" r="4.48" fill="url(#gg)" /><circle cx="58.00" cy="328.50" r="4.48" fill="url(#gg)" /><circle cx="68.10" cy="353.20" r="4.48" fill="url(#gg)" /><circle cx="85.50" cy="329.40" r="4.93" fill="url(#gg)" /><circle cx="55.30" cy="306.50" r="5.15" fill="url(#gg)" /><circle cx="67.20" cy="329.40" r="5.15" fill="url(#gg)" /><circle cx="94.70" cy="333.00" r="5.15" fill="url(#gg)" /><circle cx="47.00" cy="331.80" r="5.49" fill="url(#gg)" /><circle cx="74.50" cy="333.00" r="5.49" fill="url(#gg)" /><circle cx="63.00" cy="308.30" r="5.71" fill="url(#gg)" /><circle cx="83.70" cy="307.40" r="5.71" fill="url(#gg)" /><circle cx="48.90" cy="353.20" r="5.71" fill="url(#gg)" /><circle cx="77.30" cy="355.00" r="5.71" fill="url(#gg)" /><path d="M164.0 291.8L165.8 304.7M150.2 299.2L147.5 312.0M159.4 303.7L165.8 304.7M159.4 303.7L147.5 312.0M180.4 298.2L174.9 310.1M181.4 306.5L174.9 310.1M193.3 312.9L184.1 324.8M198.8 321.1L194.2 329.4M133.7 317.5L147.5 312.0M141.1 323.9L137.4 334.0M141.1 323.9L147.5 312.0M121.8 334.9L137.4 334.0M131.9 342.2L137.4 334.0M138.3 350.4L147.5 339.1M149.3 356.8L155.7 354.1M156.6 362.3L155.7 354.1M156.6 362.3L164.9 358.7M169.5 363.3L164.9 358.7M180.4 364.2L184.1 351.4M194.2 362.3L184.1 351.4M198.8 344.9L184.1 351.4M191.4 337.6L194.2 329.4M191.4 337.6L184.1 324.8M160.0 340.0L164.9 331.2M160.0 340.0L147.5 339.1" stroke="#eeb8b8" stroke-width="0.9" fill="none"/><path d="M166.2 305.7L147.9 313.0M165.4 303.7L147.1 311.0M166.4 303.8L175.5 309.2M165.2 305.6L174.3 311.0M166.8 305.2L156.7 327.1M164.8 304.2L154.7 326.1M166.9 304.7L166.0 331.2M164.7 304.7L163.8 331.2M166.6 304.0L184.9 324.1M165.0 305.4L183.3 325.5M147.4 310.9L174.8 309.0M147.6 313.1L175.0 311.2M148.5 311.5L156.7 326.1M146.5 312.5L154.7 327.1M148.3 311.3L165.7 330.5M146.7 312.7L164.1 331.9M148.5 312.5L138.4 334.5M146.5 311.5L136.4 333.5M148.6 312.0L148.6 339.1M146.4 312.0L146.4 339.1M175.6 310.9L156.4 327.4M174.2 309.3L155.0 325.8M175.9 310.6L165.9 331.7M173.9 309.6L163.9 330.7M175.8 309.5L185.0 324.2M174.0 310.7L183.2 325.4M175.7 309.3L195.0 328.6M174.1 310.9L193.4 330.2M176.0 310.1L176.0 338.0M173.8 310.1L173.8 338.0M156.2 325.6L165.4 330.2M155.2 327.6L164.4 332.2M155.6 325.5L184.0 323.7M155.8 327.7L184.2 325.9M156.1 327.6L137.8 335.0M155.3 325.6L137.0 333.0M156.6 327.2L148.4 339.7M154.8 326.0L146.6 338.5M156.3 325.7L175.5 337.1M155.1 327.5L174.3 338.9M156.8 326.6L156.8 354.1M154.6 326.6L154.6 354.1M164.6 330.2L183.8 323.8M165.2 332.2L184.4 325.8M165.0 332.3L137.5 335.1M164.8 330.1L137.3 332.9M165.4 332.2L148.0 340.1M164.4 330.2L147.0 338.1M165.5 330.3L175.5 337.1M164.3 332.1L174.3 338.9M165.7 330.4L184.9 350.6M164.1 332.0L183.3 352.2M165.9 331.6L156.7 354.5M163.9 330.8L154.7 353.7M166.0 331.2L166.0 358.7M163.8 331.2L163.8 358.7M184.6 323.8L194.7 328.4M183.6 325.8L193.7 330.4M185.0 325.4L175.8 338.6M183.2 324.2L174.0 337.4M185.2 324.8L185.2 351.4M183.0 324.8L183.0 351.4M194.6 330.4L175.3 339.0M193.8 328.4L174.5 337.0M195.2 329.9L185.1 351.9M193.2 328.9L183.1 350.9M137.9 333.0L148.0 338.1M136.9 335.0L147.0 340.1M138.2 333.3L156.5 353.4M136.6 334.7L154.9 354.8M147.5 338.0L174.9 336.9M147.5 340.2L174.9 339.1M148.5 338.6L156.7 353.6M146.5 339.6L154.7 354.6M148.3 338.4L165.7 358.0M146.7 339.8L164.1 359.4M175.8 337.4L185.0 350.8M174.0 338.6L183.2 352.0M175.6 338.8L156.4 354.9M174.2 337.2L155.0 353.3M175.9 338.5L165.9 359.2M173.9 337.5L163.9 358.2M184.2 352.5L155.8 355.2M184.0 350.3L155.6 353.0M184.5 352.4L165.3 359.7M183.7 350.4L164.5 357.7M156.2 353.1L165.4 357.7M155.2 355.1L164.4 359.7" stroke="#b4b2ae" stroke-width="1.6" fill="none"/><path d="M166.2 305.7L147.9 313.0M165.4 303.7L147.1 311.0M166.4 303.8L175.5 309.2M165.2 305.6L174.3 311.0M166.8 305.2L156.7 327.1M164.8 304.2L154.7 326.1M166.9 304.7L166.0 331.2M164.7 304.7L163.8 331.2M166.6 304.0L184.9 324.1M165.0 305.4L183.3 325.5M147.4 310.9L174.8 309.0M147.6 313.1L175.0 311.2M148.5 311.5L156.7 326.1M146.5 312.5L154.7 327.1M148.3 311.3L165.7 330.5M146.7 312.7L164.1 331.9M148.5 312.5L138.4 334.5M146.5 311.5L136.4 333.5M148.6 312.0L148.6 339.1M146.4 312.0L146.4 339.1M175.6 310.9L156.4 327.4M174.2 309.3L155.0 325.8M175.9 310.6L165.9 331.7M173.9 309.6L163.9 330.7M175.8 309.5L185.0 324.2M174.0 310.7L183.2 325.4M175.7 309.3L195.0 328.6M174.1 310.9L193.4 330.2M176.0 310.1L176.0 338.0M173.8 310.1L173.8 338.0M156.2 325.6L165.4 330.2M155.2 327.6L164.4 332.2M155.6 325.5L184.0 323.7M155.8 327.7L184.2 325.9M156.1 327.6L137.8 335.0M155.3 325.6L137.0 333.0M156.6 327.2L148.4 339.7M154.8 326.0L146.6 338.5M156.3 325.7L175.5 337.1M155.1 327.5L174.3 338.9M156.8 326.6L156.8 354.1M154.6 326.6L154.6 354.1M164.6 330.2L183.8 323.8M165.2 332.2L184.4 325.8M165.0 332.3L137.5 335.1M164.8 330.1L137.3 332.9M165.4 332.2L148.0 340.1M164.4 330.2L147.0 338.1M165.5 330.3L175.5 337.1M164.3 332.1L174.3 338.9M165.7 330.4L184.9 350.6M164.1 332.0L183.3 352.2M165.9 331.6L156.7 354.5M163.9 330.8L154.7 353.7M166.0 331.2L166.0 358.7M163.8 331.2L163.8 358.7M184.6 323.8L194.7 328.4M183.6 325.8L193.7 330.4M185.0 325.4L175.8 338.6M183.2 324.2L174.0 337.4M185.2 324.8L185.2 351.4M183.0 324.8L183.0 351.4M194.6 330.4L175.3 339.0M193.8 328.4L174.5 337.0M195.2 329.9L185.1 351.9M193.2 328.9L183.1 350.9M137.9 333.0L148.0 338.1M136.9 335.0L147.0 340.1M138.2 333.3L156.5 353.4M136.6 334.7L154.9 354.8M147.5 338.0L174.9 336.9M147.5 340.2L174.9 339.1M148.5 338.6L156.7 353.6M146.5 339.6L154.7 354.6M148.3 338.4L165.7 358.0M146.7 339.8L164.1 359.4M175.8 337.4L185.0 350.8M174.0 338.6L183.2 352.0M175.6 338.8L156.4 354.9M174.2 337.2L155.0 353.3M175.9 338.5L165.9 359.2M173.9 337.5L163.9 358.2M184.2 352.5L155.8 355.2M184.0 350.3L155.6 353.0M184.5 352.4L165.3 359.7M183.7 350.4L164.5 357.7M156.2 353.1L165.4 357.7M155.2 355.1L164.4 359.7" stroke="#dcdad6" stroke-width="0.6" fill="none"/><circle cx="164.0" cy="291.8" r="1.15" fill="#fff0f0" stroke="#e49a9a" stroke-width="0.6"/><circle cx="150.2" cy="299.2" r="1.15" fill="#fff0f0" stroke="#e49a9a" stroke-width="0.6"/><circle cx="159.4" cy="303.7" r="1.15" fill="#fff0f0" stroke="#e49a9a" stroke-width="0.6"/><circle cx="180.4" cy="298.2" r="1.15" fill="#fff0f0" stroke="#e49a9a" stroke-width="0.6"/><circle cx="181.4" cy="306.5" r="1.15" fill="#fff0f0" stroke="#e49a9a" stroke-width="0.6"/><circle cx="193.3" cy="312.9" r="1.15" fill="#fff0f0" stroke="#e49a9a" stroke-width="0.6"/><circle cx="198.8" cy="321.1" r="1.15" fill="#fff0f0" stroke="#e49a9a" stroke-width="0.6"/><circle cx="133.7" cy="317.5" r="1.15" fill="#fff0f0" stroke="#e49a9a" stroke-width="0.6"/><circle cx="141.1" cy="323.9" r="1.15" fill="#fff0f0" stroke="#e49a9a" stroke-width="0.6"/><circle cx="121.8" cy="334.9" r="1.15" fill="#fff0f0" stroke="#e49a9a" stroke-width="0.6"/><circle cx="131.9" cy="342.2" r="1.15" fill="#fff0f0" stroke="#e49a9a" stroke-width="0.6"/><circle cx="138.3" cy="350.4" r="1.15" fill="#fff0f0" stroke="#e49a9a" stroke-width="0.6"/><circle cx="149.3" cy="356.8" r="1.15" fill="#fff0f0" stroke="#e49a9a" stroke-width="0.6"/><circle cx="156.6" cy="362.3" r="1.15" fill="#fff0f0" stroke="#e49a9a" stroke-width="0.6"/><circle cx="169.5" cy="363.3" r="1.15" fill="#fff0f0" stroke="#e49a9a" stroke-width="0.6"/><circle cx="180.4" cy="364.2" r="1.15" fill="#fff0f0" stroke="#e49a9a" stroke-width="0.6"/><circle cx="194.2" cy="362.3" r="1.15" fill="#fff0f0" stroke="#e49a9a" stroke-width="0.6"/><circle cx="198.8" cy="344.9" r="1.15" fill="#fff0f0" stroke="#e49a9a" stroke-width="0.6"/><circle cx="191.4" cy="337.6" r="1.15" fill="#fff0f0" stroke="#e49a9a" stroke-width="0.6"/><circle cx="160.0" cy="340.0" r="1.15" fill="#fff0f0" stroke="#e49a9a" stroke-width="0.6"/><circle cx="155.70" cy="326.60" r="4.48" fill="url(#gg)" /><circle cx="155.70" cy="354.10" r="4.48" fill="url(#gg)" /><circle cx="184.10" cy="324.80" r="4.93" fill="url(#gg)" /><circle cx="165.80" cy="304.70" r="5.15" fill="url(#gg)" /><circle cx="137.40" cy="334.00" r="5.15" fill="url(#gg)" /><circle cx="194.20" cy="329.40" r="5.38" fill="url(#gg)" /><circle cx="164.90" cy="331.20" r="5.49" fill="url(#gg)" /><circle cx="147.50" cy="339.10" r="5.49" fill="url(#gg)" /><circle cx="174.90" cy="338.00" r="5.49" fill="url(#gg)" /><circle cx="184.10" cy="351.40" r="5.49" fill="url(#gg)" /><circle cx="164.90" cy="358.70" r="5.49" fill="url(#gg)" /><circle cx="147.50" cy="312.00" r="5.71" fill="url(#gg)" /><circle cx="174.90" cy="310.10" r="5.71" fill="url(#gg)" /><path d="M248.4 292.7L253.9 308.3M248.4 292.7L248.4 297.3M248.4 297.3L253.9 308.3M248.4 297.3L248.4 292.7M269.5 298.2L279.5 309.2M269.5 298.2L269.5 303.7M269.5 303.7L279.5 309.2M269.5 303.7L269.5 298.2M235.6 311.0L253.9 308.3M235.6 311.0L237.4 314.7M237.4 314.7L235.6 331.2M237.4 314.7L235.6 311.0M289.6 313.8L279.5 309.2M289.6 313.8L290.5 318.4M290.5 318.4L279.5 309.2M290.5 318.4L289.6 313.8M258.5 319.3L261.2 326.6M258.5 319.3L253.9 308.3M225.5 327.5L235.6 331.2M296.9 337.6L285.9 334.0M231.9 348.6L243.8 355.0M231.9 348.6L233.7 353.2M233.7 353.2L243.8 355.0M233.7 353.2L231.9 348.6M285.0 353.2L268.5 357.8M252.0 363.3L243.8 355.0M274.0 364.2L268.5 357.8M263.0 345.0L261.2 334.9M263.0 345.0L268.5 357.8" stroke="#eeb8b8" stroke-width="0.9" fill="none"/><path d="M247.5 319.4L273.5 320.4M247.5 321.6L273.5 322.6M248.6 320.3L254.6 346.3M246.4 320.7L252.4 346.7M247.9 319.5L261.6 325.6M247.1 321.5L260.8 327.6M246.5 320.0L252.9 307.8M248.5 321.0L254.9 308.8M248.2 321.3L236.3 332.0M246.8 319.7L234.9 330.4M248.3 319.7L262.0 334.1M246.7 321.3L260.4 335.7M274.6 321.3L278.6 345.8M272.4 321.7L276.4 346.2M273.9 322.5L261.6 327.6M273.1 320.5L260.8 325.6M272.9 322.4L253.3 309.2M274.1 320.6L254.5 307.4M272.5 321.0L278.5 308.7M274.5 322.0L280.5 309.7M274.3 322.2L262.0 335.6M272.7 320.8L260.4 334.2M274.3 320.7L286.7 333.2M272.7 322.3L285.1 334.8M253.5 345.4L277.5 344.9M253.5 347.6L277.5 347.1M252.5 346.1L260.2 326.2M254.5 346.9L262.2 327.0M252.8 347.3L234.9 332.0M254.2 345.7L236.3 330.4M252.6 345.9L260.3 334.3M254.4 347.1L262.1 335.5M254.2 347.3L244.5 355.8M252.8 345.7L243.1 354.2M254.2 345.6L269.2 356.9M252.8 347.4L267.8 358.7M276.7 346.7L260.4 327.3M278.3 345.3L262.0 325.9M276.9 346.9L260.6 335.8M278.1 345.1L261.8 334.0M276.6 345.4L285.0 333.4M278.4 346.6L286.8 334.6M278.4 346.7L269.4 358.5M276.6 345.3L267.6 357.1M260.2 327.0L252.9 308.7M262.2 326.2L254.9 307.9M260.4 325.8L278.7 308.4M262.0 327.4L280.3 310.0M261.4 327.7L235.8 332.3M261.0 325.5L235.4 330.1M262.3 326.6L262.3 334.9M260.1 326.6L260.1 334.9M261.5 325.5L286.2 332.9M260.9 327.7L285.6 335.1M253.9 307.2L279.5 308.1M253.9 309.4L279.5 310.3M255.0 308.0L262.3 334.6M252.8 308.6L260.1 335.2M280.6 308.9L287.0 333.7M278.4 309.5L284.8 334.3M235.8 330.1L261.4 333.8M235.4 332.3L261.0 336.0M236.6 330.8L244.8 354.6M234.6 331.6L242.8 355.4M261.2 333.8L285.9 332.9M261.2 336.0L285.9 335.1M262.0 335.6L244.6 355.7M260.4 334.2L243.0 354.3M262.2 334.6L269.5 357.5M260.2 335.2L267.5 358.1M243.9 353.9L268.6 356.7M243.7 356.1L268.4 358.9" stroke="#b4b2ae" stroke-width="1.6" fill="none"/><path d="M247.5 319.4L273.5 320.4M247.5 321.6L273.5 322.6M248.6 320.3L254.6 346.3M246.4 320.7L252.4 346.7M247.9 319.5L261.6 325.6M247.1 321.5L260.8 327.6M246.5 320.0L252.9 307.8M248.5 321.0L254.9 308.8M248.2 321.3L236.3 332.0M246.8 319.7L234.9 330.4M248.3 319.7L262.0 334.1M246.7 321.3L260.4 335.7M274.6 321.3L278.6 345.8M272.4 321.7L276.4 346.2M273.9 322.5L261.6 327.6M273.1 320.5L260.8 325.6M272.9 322.4L253.3 309.2M274.1 320.6L254.5 307.4M272.5 321.0L278.5 308.7M274.5 322.0L280.5 309.7M274.3 322.2L262.0 335.6M272.7 320.8L260.4 334.2M274.3 320.7L286.7 333.2M272.7 322.3L285.1 334.8M253.5 345.4L277.5 344.9M253.5 347.6L277.5 347.1M252.5 346.1L260.2 326.2M254.5 346.9L262.2 327.0M252.8 347.3L234.9 332.0M254.2 345.7L236.3 330.4M252.6 345.9L260.3 334.3M254.4 347.1L262.1 335.5M254.2 347.3L244.5 355.8M252.8 345.7L243.1 354.2M254.2 345.6L269.2 356.9M252.8 347.4L267.8 358.7M276.7 346.7L260.4 327.3M278.3 345.3L262.0 325.9M276.9 346.9L260.6 335.8M278.1 345.1L261.8 334.0M276.6 345.4L285.0 333.4M278.4 346.6L286.8 334.6M278.4 346.7L269.4 358.5M276.6 345.3L267.6 357.1M260.2 327.0L252.9 308.7M262.2 326.2L254.9 307.9M260.4 325.8L278.7 308.4M262.0 327.4L280.3 310.0M261.4 327.7L235.8 332.3M261.0 325.5L235.4 330.1M262.3 326.6L262.3 334.9M260.1 326.6L260.1 334.9M261.5 325.5L286.2 332.9M260.9 327.7L285.6 335.1M253.9 307.2L279.5 308.1M253.9 309.4L279.5 310.3M255.0 308.0L262.3 334.6M252.8 308.6L260.1 335.2M280.6 308.9L287.0 333.7M278.4 309.5L284.8 334.3M235.8 330.1L261.4 333.8M235.4 332.3L261.0 336.0M236.6 330.8L244.8 354.6M234.6 331.6L242.8 355.4M261.2 333.8L285.9 332.9M261.2 336.0L285.9 335.1M262.0 335.6L244.6 355.7M260.4 334.2L243.0 354.3M262.2 334.6L269.5 357.5M260.2 335.2L267.5 358.1M243.9 353.9L268.6 356.7M243.7 356.1L268.4 358.9" stroke="#dcdad6" stroke-width="0.6" fill="none"/><circle cx="248.4" cy="292.7" r="1.15" fill="#fff0f0" stroke="#e49a9a" stroke-width="0.6"/><circle cx="248.4" cy="297.3" r="1.15" fill="#fff0f0" stroke="#e49a9a" stroke-width="0.6"/><circle cx="269.5" cy="298.2" r="1.15" fill="#fff0f0" stroke="#e49a9a" stroke-width="0.6"/><circle cx="269.5" cy="303.7" r="1.15" fill="#fff0f0" stroke="#e49a9a" stroke-width="0.6"/><circle cx="235.6" cy="311.0" r="1.15" fill="#fff0f0" stroke="#e49a9a" stroke-width="0.6"/><circle cx="237.4" cy="314.7" r="1.15" fill="#fff0f0" stroke="#e49a9a" stroke-width="0.6"/><circle cx="289.6" cy="313.8" r="1.15" fill="#fff0f0" stroke="#e49a9a" stroke-width="0.6"/><circle cx="290.5" cy="318.4" r="1.15" fill="#fff0f0" stroke="#e49a9a" stroke-width="0.6"/><circle cx="258.5" cy="319.3" r="1.15" fill="#fff0f0" stroke="#e49a9a" stroke-width="0.6"/><circle cx="225.5" cy="327.5" r="1.15" fill="#fff0f0" stroke="#e49a9a" stroke-width="0.6"/><circle cx="296.9" cy="337.6" r="1.15" fill="#fff0f0" stroke="#e49a9a" stroke-width="0.6"/><circle cx="231.9" cy="348.6" r="1.15" fill="#fff0f0" stroke="#e49a9a" stroke-width="0.6"/><circle cx="233.7" cy="353.2" r="1.15" fill="#fff0f0" stroke="#e49a9a" stroke-width="0.6"/><circle cx="285.0" cy="353.2" r="1.15" fill="#fff0f0" stroke="#e49a9a" stroke-width="0.6"/><circle cx="252.0" cy="363.3" r="1.15" fill="#fff0f0" stroke="#e49a9a" stroke-width="0.6"/><circle cx="274.0" cy="364.2" r="1.15" fill="#fff0f0" stroke="#e49a9a" stroke-width="0.6"/><circle cx="263.0" cy="345.0" r="1.15" fill="#fff0f0" stroke="#e49a9a" stroke-width="0.6"/><circle cx="261.20" cy="326.60" r="4.93" fill="url(#gg)" /><circle cx="279.50" cy="309.20" r="5.71" fill="url(#gg)" /><circle cx="235.60" cy="331.20" r="5.71" fill="url(#gg)" /><circle cx="261.20" cy="334.90" r="5.71" fill="url(#gg)" /><circle cx="285.90" cy="334.00" r="5.71" fill="url(#gg)" /><circle cx="243.80" cy="355.00" r="5.71" fill="url(#gg)" /><circle cx="268.50" cy="357.80" r="5.71" fill="url(#gg)" /><circle cx="253.90" cy="308.30" r="6.16" fill="url(#gg)" /><text x="68.3" y="379.3" font-size="8.4" text-anchor="middle" fill="#111" textLength="35.7" lengthAdjust="spacingAndGlyphs" >E=0.0 eV</text><text x="168.5" y="379.3" font-size="8.4" text-anchor="middle" fill="#111" textLength="47.5" lengthAdjust="spacingAndGlyphs" >E=0.173 eV</text><text x="265.3" y="379.3" font-size="8.4" text-anchor="middle" fill="#111" textLength="47.0" lengthAdjust="spacingAndGlyphs" >E=0.274 eV</text><rect x="29.00" y="397.60" width="281.30" height="10.70" fill="none" stroke="#222" stroke-width="0.9" /><line x1="29.00" y1="399.30" x2="310.30" y2="399.30" stroke="#999" stroke-width="0.6" /><line x1="126.33" y1="397.60" x2="126.33" y2="408.30" stroke="#999" stroke-width="0.55" /><line x1="183.15" y1="397.60" x2="183.15" y2="408.30" stroke="#555" stroke-width="0.55" /><line x1="197.78" y1="397.60" x2="197.78" y2="408.30" stroke="#555" stroke-width="0.55" /><line x1="204.53" y1="397.60" x2="204.53" y2="408.30" stroke="#555" stroke-width="0.55" /><line x1="210.16" y1="397.60" x2="210.16" y2="408.30" stroke="#555" stroke-width="0.55" /><line x1="225.35" y1="397.60" x2="225.35" y2="408.30" stroke="#555" stroke-width="0.55" /><line x1="244.48" y1="397.60" x2="244.48" y2="408.30" stroke="#555" stroke-width="0.55" /><line x1="247.85" y1="397.60" x2="247.85" y2="408.30" stroke="#555" stroke-width="0.55" /><line x1="252.91" y1="397.60" x2="252.91" y2="408.30" stroke="#555" stroke-width="0.55" /><line x1="257.42" y1="397.60" x2="257.42" y2="408.30" stroke="#555" stroke-width="0.55" /><line x1="272.04" y1="397.60" x2="272.04" y2="408.30" stroke="#555" stroke-width="0.55" /><line x1="274.29" y1="397.60" x2="274.29" y2="408.30" stroke="#555" stroke-width="0.55" /><line x1="276.54" y1="397.60" x2="276.54" y2="408.30" stroke="#555" stroke-width="0.55" /><line x1="305.80" y1="397.60" x2="305.80" y2="408.30" stroke="#555" stroke-width="0.55" /><line x1="308.61" y1="397.60" x2="308.61" y2="408.30" stroke="#555" stroke-width="0.55" /><text x="29.0" y="417.4" font-size="8.2" text-anchor="middle" fill="#111" >0.0</text><text x="85.26" y="417.4" font-size="8.2" text-anchor="middle" fill="#111" >0.1</text><line x1="85.26" y1="408.30" x2="85.26" y2="406.80" stroke="#222" stroke-width="0.6" /><text x="141.52" y="417.4" font-size="8.2" text-anchor="middle" fill="#111" >0.2</text><line x1="141.52" y1="408.30" x2="141.52" y2="406.80" stroke="#222" stroke-width="0.6" /><text x="197.78000000000003" y="417.4" font-size="8.2" text-anchor="middle" fill="#111" >0.3</text><line x1="197.78" y1="408.30" x2="197.78" y2="406.80" stroke="#222" stroke-width="0.6" /><text x="254.04000000000002" y="417.4" font-size="8.2" text-anchor="middle" fill="#111" >0.4</text><line x1="254.04" y1="408.30" x2="254.04" y2="406.80" stroke="#222" stroke-width="0.6" /><text x="310.3" y="417.4" font-size="8.2" text-anchor="middle" fill="#111" >0.5</text><text x="171.5" y="427.2" font-size="9.4" text-anchor="middle" fill="#111" textLength="46" lengthAdjust="spacingAndGlyphs" >Delta E/eV</text><circle cx="63.60" cy="382.90" r="1.10" fill="#000" /><polyline points="63.60,382.90 63.60,387.50 29.50,391.50 29.50,394.20" stroke="#222" stroke-width="0.7" fill="none" /><polygon points="29.50,396.80 28.30,393.60 30.70,393.60" fill="#222" /><circle cx="162.90" cy="382.10" r="1.10" fill="#000" /><polyline points="162.90,382.10 162.90,386.70 126.33,390.70 126.33,394.20" stroke="#222" stroke-width="0.7" fill="none" /><polygon points="126.33,396.80 125.13,393.60 127.53,393.60" fill="#222" /><circle cx="255.20" cy="381.00" r="1.10" fill="#000" /><polyline points="255.20,381.00 255.20,385.60 183.15,389.60 183.15,394.20" stroke="#222" stroke-width="0.7" fill="none" /><polygon points="183.15,396.80 181.95,393.60 184.35,393.60" fill="#222" /><path d="M347.3 320.8H348.1V406.7H347.3zM348.1 309.7H349.4V399.1H348.1zM349.4 309.5H350.4V403.3H349.4zM350.4 311.5H351.4V394.8H350.4zM351.4 322.8H352.6V402.1H351.4zM352.6 323.0H353.2V396.1H352.6zM353.2 325.5H354.2V398.3H353.2zM354.2 309.0H355.4V410.6H354.2zM355.4 312.6H356.7V406.7H355.4zM356.7 314.3H357.8V408.6H356.7zM357.8 314.5H358.3V392.3H357.8zM358.3 322.4H359.7V410.0H358.3zM359.7 325.8H360.7V398.6H359.7zM360.7 323.8H362.0V393.8H360.7zM362.0 322.2H362.6V397.4H362.0zM362.6 322.7H363.7V400.9H362.6zM363.7 322.0H364.1V408.1H363.7zM364.1 316.5H365.2V402.3H364.1zM365.2 318.8H366.2V393.3H365.2zM366.2 330.8H366.9V407.9H366.2zM366.9 315.3H367.3V393.7H366.9zM367.3 319.7H368.5V408.4H367.3zM368.5 320.4H369.0V393.3H368.5zM369.0 325.2H370.2V398.7H369.0zM370.2 329.1H371.4V392.0H370.2zM371.4 321.3H372.3V396.4H371.4zM372.3 316.3H373.1V401.8H372.3zM373.1 322.0H373.8V406.2H373.1zM373.8 329.1H374.5V393.4H373.8zM374.5 319.0H375.8V403.0H374.5zM375.8 332.1H376.9V396.5H375.8zM376.9 333.2H377.5V409.4H376.9zM377.5 332.4H378.6V408.8H377.5zM378.6 331.2H379.6V407.1H378.6zM379.6 335.5H380.2V397.6H379.6zM380.2 325.0H381.6V399.0H380.2zM381.6 321.1H382.6V400.8H381.6zM382.6 338.3H383.9V395.1H382.6zM383.9 328.1H384.9V393.0H383.9zM384.9 336.7H385.8V398.2H384.9zM385.8 338.9H386.9V395.9H385.8zM386.9 334.5H387.8V399.2H386.9zM387.8 325.5H388.9V393.6H387.8zM388.9 326.9H389.6V406.7H388.9zM389.6 327.0H390.6V395.2H389.6zM390.6 337.0H391.3V399.3H390.6zM391.3 338.4H392.5V397.6H391.3zM392.5 339.0H393.4V399.2H392.5zM393.4 342.1H394.0V401.2H393.4zM394.0 330.0H394.9V393.6H394.0zM394.9 332.2H395.4V395.5H394.9zM395.4 331.7H396.5V408.5H395.4zM396.5 339.3H397.1V395.9H396.5zM397.1 330.9H397.9V406.1H397.1zM397.9 336.9H398.5V394.9H397.9zM398.5 336.9H399.0V398.3H398.5zM399.0 341.3H399.5V395.7H399.0zM399.5 334.3H399.9V396.6H399.5zM399.9 337.6H400.7V405.7H399.9zM400.7 338.6H401.7V397.9H400.7zM401.7 343.7H402.7V397.4H401.7zM402.7 335.5H403.2V401.0H402.7zM403.2 340.6H404.5V395.4H403.2zM404.5 341.9H405.6V406.8H404.5zM405.6 333.2H406.0V395.8H405.6zM406.0 342.9H407.1V397.0H406.0zM407.1 343.4H408.3V407.0H407.1zM408.3 346.8H409.1V395.5H408.3zM409.1 337.4H409.6V406.8H409.1zM409.6 345.3H410.4V394.9H409.6zM410.4 337.1H411.6V405.2H410.4zM411.6 340.8H413.0V395.4H411.6zM413.0 337.6H414.3V394.9H413.0zM414.3 340.9H415.0V395.9H414.3zM415.0 339.6H415.7V405.4H415.0zM415.7 340.1H416.6V400.4H415.7zM416.6 343.3H417.5V404.2H416.6zM417.5 343.7H418.4V403.9H417.5zM418.4 342.5H419.7V404.2H418.4zM419.7 351.4H420.9V400.5H419.7zM420.9 351.2H422.0V403.7H420.9zM422.0 353.7H423.2V403.8H422.0zM423.2 351.5H424.5V394.4H423.2zM424.5 346.3H425.3V400.2H424.5zM425.3 353.3H425.7V398.9H425.3zM425.7 344.5H427.1V401.9H425.7zM427.1 356.5H427.9V398.9H427.1zM427.9 352.8H428.5V403.3H427.9zM428.5 356.5H429.1V401.8H428.5zM429.1 347.3H430.1V395.1H429.1zM430.1 349.4H431.1V394.9H430.1zM431.1 357.7H432.1V401.3H431.1zM432.1 349.5H433.4V396.1H432.1zM433.4 348.3H434.5V397.1H433.4zM434.5 359.9H435.9V397.7H434.5zM435.9 355.4H437.3V400.0H435.9zM437.3 360.8H438.1V403.4H437.3zM438.1 360.6H439.1V399.5H438.1zM439.1 352.4H440.5V396.3H439.1zM440.5 357.3H441.4V402.1H440.5zM441.4 352.9H442.2V395.9H441.4zM442.2 357.7H443.5V400.6H442.2zM443.5 361.8H444.6V403.0H443.5zM444.6 361.4H446.0V403.2H444.6zM446.0 359.4H446.9V405.0H446.0zM446.9 364.3H447.4V397.4H446.9zM447.4 357.4H448.7V403.1H447.4zM448.7 364.1H449.9V396.3H448.7zM449.9 362.9H451.3V404.3H449.9zM451.3 366.1H451.7V400.9H451.3zM451.7 359.5H452.6V396.6H451.7zM452.6 358.1H453.7V404.7H452.6zM453.7 366.5H454.4V396.6H453.7zM454.4 361.3H455.2V396.6H454.4zM455.2 363.5H455.7V401.2H455.2zM455.7 368.0H456.4V403.4H455.7zM456.4 365.8H457.3V401.6H456.4zM457.3 365.9H458.2V402.2H457.3zM458.2 368.9H459.4V403.9H458.2zM459.4 366.1H460.2V402.6H459.4zM460.2 363.5H461.5V397.0H460.2zM461.5 368.2H462.8V403.1H461.5zM462.8 369.5H463.0V402.6H462.8z" fill="#f4a890" fill-opacity="0.4"/><path d="M347.3 311.6H348.0V383.6H347.3zM348.0 318.2H348.9V374.7H348.0zM348.9 317.3H350.0V378.3H348.9zM350.0 319.0H351.4V379.5H350.0zM351.4 320.4H352.0V387.1H351.4zM352.0 312.5H352.8V386.6H352.0zM352.8 323.5H353.2V381.8H352.8zM353.2 312.6H354.0V375.8H353.2zM354.0 313.9H354.8V377.7H354.0zM354.8 321.0H355.5V382.5H354.8zM355.5 314.1H356.8V383.9H355.5zM356.8 318.4H357.4V378.2H356.8zM357.4 315.5H357.8V383.6H357.4zM357.8 321.1H358.6V387.6H357.8zM358.6 322.0H359.6V381.4H358.6zM359.6 321.8H360.9V378.4H359.6zM360.9 325.2H361.8V376.9H360.9zM361.8 327.6H362.6V377.1H361.8zM362.6 319.1H363.2V387.6H362.6zM363.2 320.0H364.4V378.6H363.2zM364.4 322.6H364.8V383.0H364.4zM364.8 324.0H365.6V384.6H364.8zM365.6 321.2H366.2V387.3H365.6zM366.2 323.8H366.6V381.9H366.2zM366.6 323.1H367.9V377.9H366.6zM367.9 319.5H368.3V377.9H367.9zM368.3 322.9H369.3V373.8H368.3zM369.3 328.8H370.1V380.5H369.3zM370.1 320.7H371.1V386.3H370.1zM371.1 327.9H372.2V378.3H371.1zM372.2 316.7H373.3V374.6H372.2zM373.3 319.9H374.5V385.8H373.3zM374.5 330.7H375.0V374.1H374.5zM375.0 330.2H375.5V382.3H375.0zM375.5 327.7H376.8V374.9H375.5zM376.8 320.1H378.1V383.1H376.8zM378.1 325.6H378.6V374.8H378.1zM378.6 331.9H379.3V381.7H378.6zM379.3 323.8H379.7V381.3H379.3zM379.7 327.5H381.1V380.7H379.7zM381.1 319.7H381.8V387.6H381.1zM381.8 322.1H382.9V384.2H381.8zM382.9 326.5H384.0V379.0H382.9zM384.0 322.5H385.3V375.1H384.0zM385.3 324.4H385.8V381.7H385.3zM385.8 326.7H387.2V380.9H385.8zM387.2 329.9H387.7V386.9H387.2zM387.7 323.4H388.8V384.8H387.7zM388.8 326.8H389.8V383.8H388.8zM389.8 325.6H391.1V387.2H389.8zM391.1 329.8H392.2V374.7H391.1zM392.2 330.4H393.3V376.9H392.2zM393.3 322.0H394.4V377.6H393.3zM394.4 328.0H395.3V386.1H394.4zM395.3 325.1H396.3V375.5H395.3zM396.3 324.1H397.3V376.3H396.3zM397.3 335.2H398.3V383.9H397.3zM398.3 331.0H399.3V387.3H398.3zM399.3 326.8H400.7V384.1H399.3zM400.7 328.2H401.9V383.2H400.7zM401.9 331.9H403.1V378.1H401.9zM403.1 333.4H404.5V378.8H403.1zM404.5 325.6H405.8V377.4H404.5zM405.8 332.0H407.0V377.2H405.8zM407.0 326.8H408.2V377.6H407.0zM408.2 330.2H408.8V374.9H408.2zM408.8 327.7H410.1V380.7H408.8zM410.1 331.6H411.1V383.5H410.1zM411.1 326.5H412.3V383.7H411.1zM412.3 331.6H413.5V377.4H412.3zM413.5 333.2H414.6V379.3H413.5zM414.6 330.1H415.0V380.2H414.6zM415.0 331.9H416.0V382.2H415.0zM416.0 338.0H416.5V379.2H416.0zM416.5 327.4H417.0V386.0H416.5zM417.0 327.7H418.3V379.4H417.0zM418.3 333.5H418.9V379.0H418.3zM418.9 338.0H419.5V380.0H418.9zM419.5 336.5H420.1V385.2H419.5zM420.1 333.0H421.4V381.0H420.1zM421.4 338.5H422.0V385.0H421.4zM422.0 331.1H423.1V380.0H422.0zM423.1 335.4H424.1V383.9H423.1zM424.1 332.0H424.9V376.0H424.1zM424.9 329.2H426.1V379.1H424.9zM426.1 339.7H427.3V386.7H426.1zM427.3 338.4H427.7V376.4H427.3zM427.7 338.3H428.6V380.0H427.7zM428.6 339.0H429.3V376.6H428.6zM429.3 333.3H430.5V381.3H429.3zM430.5 333.4H431.3V378.9H430.5zM431.3 336.7H432.1V383.2H431.3zM432.1 339.4H433.3V386.4H432.1zM433.3 336.2H434.0V378.8H433.3zM434.0 335.6H434.7V376.7H434.0zM434.7 331.6H436.0V382.3H434.7zM436.0 340.7H437.0V382.6H436.0zM437.0 333.5H438.2V384.5H437.0zM438.2 334.8H439.4V385.0H438.2zM439.4 334.8H440.5V385.4H439.4zM440.5 337.5H441.8V382.7H440.5zM441.8 341.7H442.7V383.8H441.8zM442.7 342.2H443.7V376.0H442.7zM443.7 341.0H444.2V380.5H443.7zM444.2 343.6H445.4V383.1H444.2zM445.4 339.5H446.2V381.9H445.4zM446.2 334.1H447.0V383.2H446.2zM447.0 335.8H447.4V383.8H447.0zM447.4 340.4H448.0V384.0H447.4zM448.0 336.4H449.0V377.6H448.0zM449.0 342.9H449.6V376.5H449.0zM449.6 343.7H450.8V377.2H449.6zM450.8 340.4H451.6V383.9H450.8zM451.6 337.5H452.8V377.9H451.6zM452.8 336.1H453.2V383.1H452.8zM453.2 343.8H454.4V378.3H453.2zM454.4 339.6H454.9V381.1H454.4zM454.9 340.1H455.5V377.2H454.9zM455.5 341.9H456.8V376.9H455.5zM456.8 341.2H457.5V377.6H456.8zM457.5 336.6H458.5V378.8H457.5zM458.5 338.0H459.4V381.4H458.5zM459.4 344.5H459.9V381.6H459.4zM459.9 342.6H460.9V377.8H459.9zM460.9 338.1H461.5V384.6H460.9zM461.5 344.4H462.5V376.7H461.5zM462.5 341.1H463.2V384.0H462.5zM463.2 341.7H464.2V377.5H463.2zM464.2 340.0H464.9V384.7H464.2zM464.9 344.7H466.3V382.6H464.9zM466.3 340.9H467.1V382.1H466.3z" fill="#ece080" fill-opacity="0.16"/><path d="M347.3 312.3H348.2V386.6H347.3zM348.2 301.6H348.8V378.2H348.2zM348.8 306.0H349.5V388.7H348.8zM349.5 309.0H350.2V387.5H349.5zM350.2 306.1H350.9V388.5H350.2zM350.9 303.2H352.2V394.7H350.9zM352.2 319.0H352.7V383.5H352.2zM352.7 304.7H353.7V391.7H352.7zM353.7 301.9H354.1V386.3H353.7zM354.1 307.9H355.0V387.7H354.1zM355.0 312.4H356.2V383.1H355.0zM356.2 310.9H356.9V381.3H356.2zM356.9 314.6H358.2V389.8H356.9zM358.2 305.9H359.1V377.6H358.2zM359.1 305.1H359.8V383.2H359.1zM359.8 311.8H360.3V382.2H359.8zM360.3 313.9H361.5V382.2H360.3zM361.5 313.7H362.0V388.8H361.5zM362.0 304.7H362.6V383.4H362.0zM362.6 310.5H363.5V394.3H362.6zM363.5 319.3H364.2V395.7H363.5zM364.2 318.7H365.0V395.9H364.2zM365.0 317.8H366.4V386.5H365.0zM366.4 315.3H366.8V391.2H366.4zM366.8 304.1H368.2V393.2H366.8zM368.2 311.1H369.1V381.6H368.2zM369.1 310.0H370.4V378.7H369.1zM370.4 318.7H371.2V391.2H370.4zM371.2 314.0H371.8V385.4H371.2zM371.8 308.2H372.8V379.0H371.8zM372.8 317.4H374.1V382.6H372.8zM374.1 319.4H374.6V383.9H374.1zM374.6 311.3H375.6V395.4H374.6zM375.6 307.2H376.6V388.5H375.6zM376.6 313.2H377.7V393.0H376.6zM377.7 318.2H378.5V389.9H377.7zM378.5 321.4H379.1V385.7H378.5zM379.1 314.0H379.9V387.9H379.1zM379.9 312.7H381.0V382.2H379.9zM381.0 305.4H381.6V394.0H381.0zM381.6 318.8H382.5V388.2H381.6zM382.5 312.4H383.5V390.3H382.5zM383.5 308.6H384.5V380.5H383.5zM384.5 321.4H385.8V381.2H384.5zM385.8 316.9H386.8V392.4H385.8zM386.8 312.6H387.7V387.9H386.8zM387.7 305.2H388.6V395.6H387.7zM388.6 305.2H389.0V380.1H388.6zM389.0 310.6H390.1V393.7H389.0zM390.1 308.0H390.8V391.1H390.1zM390.8 306.3H392.0V397.3H390.8zM392.0 316.7H392.8V392.3H392.0zM392.8 308.4H393.4V389.9H392.8zM393.4 312.1H394.8V382.3H393.4zM394.8 321.4H395.6V389.1H394.8zM395.6 309.9H396.2V397.1H395.6zM396.2 316.4H396.8V394.7H396.2zM396.8 310.5H398.0V396.6H396.8zM398.0 316.2H398.7V390.6H398.0zM398.7 319.7H400.1V379.8H398.7zM400.1 318.6H401.1V392.1H400.1zM401.1 315.0H402.3V386.4H401.1zM402.3 316.3H403.0V391.3H402.3zM403.0 314.5H404.2V393.4H403.0zM404.2 320.9H405.4V397.3H404.2zM405.4 307.9H406.6V397.1H405.4zM406.6 323.3H407.5V386.9H406.6zM407.5 311.1H408.3V390.0H407.5zM408.3 324.0H409.3V395.8H408.3zM409.3 323.5H410.0V387.9H409.3zM410.0 321.3H410.5V392.2H410.0zM410.5 321.9H411.5V394.6H410.5zM411.5 312.3H412.7V387.3H411.5zM412.7 319.0H413.3V387.3H412.7zM413.3 311.1H414.1V394.9H413.3zM414.1 319.4H415.4V390.4H414.1zM415.4 320.7H416.0V389.7H415.4zM416.0 310.7H416.9V387.8H416.0zM416.9 312.1H418.1V397.7H416.9zM418.1 318.1H418.9V396.9H418.1zM418.9 321.0H420.2V391.9H418.9zM420.2 310.0H421.1V388.8H420.2zM421.1 325.5H422.4V381.3H421.1zM422.4 316.2H423.6V390.4H422.4zM423.6 326.9H424.8V393.8H423.6zM424.8 310.3H425.5V381.9H424.8zM425.5 313.8H426.4V396.9H425.5zM426.4 318.1H427.1V383.5H426.4zM427.1 322.5H427.8V398.2H427.1zM427.8 313.8H428.5V394.1H427.8zM428.5 319.4H429.8V387.7H428.5zM429.8 318.4H430.9V398.7H429.8zM430.9 322.8H431.8V388.5H430.9zM431.8 319.6H433.1V393.4H431.8zM433.1 327.8H433.6V390.3H433.1zM433.6 310.9H434.5V396.0H433.6zM434.5 316.1H435.4V395.5H434.5zM435.4 320.0H435.9V390.4H435.4zM435.9 312.8H437.3V386.5H435.9zM437.3 316.3H438.7V389.1H437.3zM438.7 312.9H439.8V385.2H438.7zM439.8 311.8H441.0V383.5H439.8zM441.0 315.9H441.6V386.2H441.0zM441.6 315.1H442.9V393.6H441.6zM442.9 324.8H443.3V393.2H442.9zM443.3 319.7H444.0V398.6H443.3zM444.0 318.0H444.5V399.2H444.0zM444.5 328.2H445.7V394.3H444.5zM445.7 322.2H447.0V393.9H445.7zM447.0 317.6H448.3V397.6H447.0zM448.3 321.4H449.1V389.6H448.3zM449.1 320.1H449.7V383.7H449.1zM449.7 318.9H450.3V392.3H449.7zM450.3 327.6H451.6V395.1H450.3zM451.6 329.1H452.5V385.5H451.6zM452.5 321.4H453.8V391.8H452.5zM453.8 318.3H454.8V387.6H453.8zM454.8 324.4H456.1V389.8H454.8zM456.1 326.3H457.0V393.4H456.1zM457.0 313.5H457.7V394.1H457.0zM457.7 317.7H459.0V387.8H457.7zM459.0 326.8H459.6V394.4H459.0zM459.6 319.0H460.9V388.9H459.6zM460.9 316.6H461.3V388.1H460.9zM461.3 316.3H462.2V387.6H461.3zM462.2 320.9H463.3V395.4H462.2zM463.3 316.3H464.5V399.3H463.3zM464.5 328.8H465.3V389.0H464.5zM465.3 320.8H466.1V383.6H465.3zM466.1 324.6H467.0V395.7H466.1zM467.0 329.0H468.1V385.1H467.0zM468.1 326.2H468.8V394.7H468.1zM468.8 322.2H470.2V387.0H468.8zM470.2 318.6H470.6V385.7H470.2zM470.6 325.9H471.9V396.1H470.6zM471.9 323.7H472.7V394.3H471.9zM472.7 330.5H474.1V386.6H472.7zM474.1 323.4H475.0V398.9H474.1zM475.0 317.3H475.8V390.0H475.0zM475.8 328.7H476.7V386.4H475.8zM476.7 317.8H477.5V399.5H476.7zM477.5 327.4H478.7V391.5H477.5zM478.7 321.4H479.4V401.0H478.7zM479.4 327.5H480.1V397.8H479.4zM480.1 316.2H481.3V396.8H480.1zM481.3 328.7H482.2V399.7H481.3zM482.2 322.8H483.6V393.2H482.2zM483.6 326.4H484.2V388.2H483.6zM484.2 327.4H484.6V399.6H484.2zM484.6 321.7H485.1V396.7H484.6zM485.1 322.3H485.7V385.0H485.1zM485.7 324.1H486.7V391.5H485.7zM486.7 327.2H487.2V397.5H486.7z" fill="#a8a8f0" fill-opacity="0.22"/><path d="M446.9 314.8H447.6V398.7H446.9zM447.6 308.6H448.8V395.5H447.6zM448.8 323.3H449.6V392.1H448.8zM449.6 326.1H450.5V396.9H449.6zM450.5 311.5H451.1V402.1H450.5zM451.1 313.0H452.0V389.6H451.1zM452.0 315.7H453.2V389.7H452.0zM453.2 314.8H454.2V408.0H453.2zM454.2 315.3H454.9V402.9H454.2zM454.9 321.0H455.5V397.0H454.9zM455.5 320.3H456.7V389.4H455.5zM456.7 325.6H457.4V408.2H456.7zM457.4 312.2H457.9V405.2H457.4zM457.9 318.0H459.1V401.1H457.9zM459.1 306.5H459.8V406.3H459.1zM459.8 326.0H460.4V401.4H459.8zM460.4 324.9H461.3V400.0H460.4zM461.3 312.0H462.4V399.7H461.3zM462.4 312.7H463.3V403.4H462.4zM463.3 307.0H464.2V392.0H463.3zM464.2 320.5H465.5V396.5H464.2zM465.5 326.1H466.0V392.4H465.5zM466.0 320.7H467.3V406.6H466.0zM467.3 318.6H468.4V406.8H467.3zM468.4 323.7H469.2V409.9H468.4zM469.2 313.3H469.9V397.1H469.2zM469.9 321.7H470.4V389.5H469.9zM470.4 324.2H471.0V403.3H470.4zM471.0 321.3H471.8V409.5H471.0zM471.8 314.5H473.0V406.8H471.8zM473.0 323.3H473.9V394.9H473.0zM473.9 306.9H475.2V403.0H473.9zM475.2 308.7H475.9V405.0H475.2zM475.9 309.0H476.7V395.8H475.9zM476.7 309.5H477.8V394.9H476.7zM477.8 307.5H478.2V405.4H477.8zM478.2 308.0H479.4V408.2H478.2zM479.4 318.4H480.6V402.0H479.4zM480.6 321.0H481.3V393.2H480.6zM481.3 315.9H482.2V397.6H481.3zM482.2 313.1H483.1V407.2H482.2zM483.1 322.1H483.7V390.1H483.1zM483.7 324.8H485.1V400.8H483.7zM485.1 322.1H485.9V402.5H485.1zM485.9 312.8H486.9V398.7H485.9zM486.9 308.5H487.2V406.3H486.9z" fill="#a8a8f0" fill-opacity="0.16"/><line x1="346.30" y1="348.56" x2="487.20" y2="348.56" stroke="#000" stroke-width="1.5" stroke-dasharray="1.5 1.3"/><path d="M387.5 353.5h0m61 7.5h0m-17-2h0m-73.5-2.5h0m1.5-3.5h0m39 7.5h0m-29-2.5h0m-15.5-2h0m16.5 0.5h0m48 3h0m-57-6h0m-13-1h0m33.5 8h0m7-3h0m51.5 1h0m2 1h0m-69.5-5h0m38.5 3.5h0m-1 3h0m23 2.5h0m-1.5-3.5h0m-45.5-2h0m23.5 1h0m-35-3.5h0m5.5 0.5h0m19.5 0.5h0m-35-0.5h0m46 3.5h0m18 2h0m-18-2.5h0m-42-4h0m61 10.5h0m-30-10h0m7.5 4h0m-59.5-5h0m1.5-2h0m0.5 2h0m33 2h0m54.5 2h0m-36.5-1.5h0m15.5 2h0m-22-2.5h0m-42.5-3h0m5-1.5h0m-7.5 1h0m74.5 7h0m0-1h0m-70-5h0m87 9.5h0m-90.5-10.5h0m15.5 0h0m3 2h0m53.5 3.5h0m25.5 4.5h0m-73.5-8.5h0m55.5 4h0m-35.5-3h0m31.5 4.5h0m-57.5-4h0m23.5 4.5h0m48 2.5h0m-14.5-2h0m-49-5h0m-21.5-3h0m-2 3h0m0-1.5h0m95 8h0m2-1h0m-83-7.5h0m60.5 5.5h0m-45-4.5h0m10 1.5h0m-27.5 0h0m-11-2.5h0m24 1h0m25.5 3.5h0m45.5 3.5h0m-53-4h0m-43-1h0m1.5-5h0m3 2h0m79 7.5h0m-58-2.5h0m-6-1h0m34-0.5h0m0.5-3.5h0m-6 3h0m0 2.5h0m-34.5-2.5h0m83.5 3h0m-16.5 1h0m-47.5-1.5h0m40.5-0.5h0m4.5-2.5h0m-70.5-0.5h0m73 4h0m-47-3.5h0m-28-4h0m91.5 8h0m-22-2.5h0m-34.5-2.5h0m54.5 4h0m-70-7h0m17.5 7h0m-9-3h0m-29-2h0m57 2.5h0m20.5 6.5h0m-53.5-7h0m15.5-4h0m-45 1.5h0m72.5 8h0m-69-8h0m24 7h0m53 1h0m-53.5-3.5h0m-16.5-3.5h0m-5.5 2h0m-8.5-2h0m7-2.5h0m80.5 7.5h0m-62.5-4h0m-17-1h0m-4-2.5h0m91.5 8h0m-93-8h0m25.5 2.5h0m57.5 3h0m-36 0.5h0m-1.5-2h0m28.5 4h0m-8-0.5h0m-63-5h0m1.5-1h0m58 4h0m28.5-0.5h0m-55.5-0.5h0m37.5 4.5h0m-44-6.5h0m17-1.5h0m-31 2.5h0m48.5 4h0m-57-5.5h0m37-0.5h0m-33.5 2h0m82.5 4.5h0m-64-5.5h0m17 5h0m42 2h0m-52-3.5h0m-15-1h0m47.5 2.5h0m18.5 0h0m-90-6.5h0m66.5 1h0m-17.5 3h0m19 0h0m-14 0h0m-34-1h0m4 1.5h0m20.5-2.5h0m9 4.5h0m44.5 2h0m-71-4h0m36.5 2.5h0m-57.5-7.5h0m63.5 4.5h0m-63.5-4.5h0m-5 0.5h0m3 2.5h0m35-1h0m-23 1.5h0m-14.5-2.5h0m51.5 6h0m16 0h0m-51-10.5h0m-16.5 3h0m85.5 11.5h0m-44.5-7h0m-34.5-1h0m27 1h0m-5.5-2.5h0m24.5 1.5h0m-36-2.5h0m64.5 6h0m6 1.5h0m-19-4.5h0m-14 0h0m-38.5 1.5h0m48-0.5h0m-27.5-3.5h0m-34.5-1h0m62 5.5h0m32.5 0.5h0m-60.5-4.5h0m-12.5 0h0m-24.5-0.5h0m53.5 0h0m16.5 5h0m-67.5-6.5h0m23 1h0m32 7h0m-35.5-3.5h0m17 1h0m-11-2.5h0m23.5-1h0m-31.5-2.5h0m15.5 1.5h0m26 0h0m-48.5 0.5h0m28-1h0m-24.5 3h0m30-2h0m25 8h0m17.5-6.5h0m-30.5-1.5h0m-43-2h0m-4.5 3h0m3.5 0h0m72 0.5h0m-49 0h0m58 6.5h0m8-1.5h0m-102.5-8h0m15 2.5h0m57.5 2h0m25 4.5h0m-47.5-5h0m47.5 6h0m-40.5-4.5h0m-4-3.5h0m-5.5 4.5h0m45 2h0m-48.5-3h0m-44-6.5h0m11.5 3.5h0m-12.5-4h0m86 8h0m-12.5-2.5h0m-28.5-2h0m-44 0.5h0m22 2.5h0m30-3.5h0m-43-0.5h0m-1.5-2h0m82 15.5h0m-39-7.5h0m-15.5-4.5h0m-30-4.5h0m-1 4.5h0m96 6h0m-24-5h0m-42.5 1h0m51 1.5h0m-81-6.5h0m67 3.5h0m11.5 5.5h0m-30.5-4.5h0m31.5 1h0m0 0.5h0m-79-3h0m-2-0.5h0m8-2h0m56.5 6h0m-44.5-1.5h0m16.5 1.5h0m-0.5 2h0m11-5h0m-17.5-0.5h0m-21-0.5h0m-7-0.5h0m14 0h0m-18.5-1h0m27 3h0m-9-3.5h0m51.5 5.5h0m-42-4h0m-27.5 1h0m29.5 0.5h0m69 6h0m-21.5-3h0m-43-1h0m-27.5-3.5h0m45.5 9h0m-44-6.5h0m68.5 3h0m0.5 2h0m-14-4h0m-48.5-2.5h0m40 2.5h0m4 0.5h0m-25.5-2h0m-9.5-3h0m10 1h0m19 5h0m-6-2.5h0m-42-0.5h0m-1-2h0m25-0.5h0m31-0.5h0m-49.5-2.5h0m19 3h0m14 3h0m-42.5-1h0m44.5 3h0m51 4h0m-10.5 2h0m-40.5-8h0m-45-5h0m94.5 10h0m0.5 0.5h0m-75.5-10.5h0m78 4.5h0m-67.5 2h0m41 5h0m-29.5-9h0m-25 3h0m-6-1.5h0m0-1.5h0m52.5 7.5h0m-26-3.5h0m14.5-0.5h0m-1 0h0m-19 0.5h0m23-5h0m10 3h0m-51-3h0m-11-0.5h0m29 2h0m-5.5 2h0m73.5 5h0m-29 2h0m18-1h0m-24-1h0m-53-8h0m-9 2h0m54 0.5h0m3-3.5h0m-40.5 1.5h0m39 3h0m-27 0h0m38 1h0m25.5 6.5h0m-91.5-8.5h0m48.5 2.5h0m21 6h0m-53-7h0m-9.5-3.5h0m5.5-1h0m5 2.5h0m-14.5-0.5h0m68.5 7h0m-54.5-7h0m36 4.5h0m-48.5-7.5h0m82.5 4h0m-90-4.5h0m0 2.5h0m38.5 6.5h0m-2-4h0m46.5 4.5h0m-43-2.5h0m-35-5.5h0m13 2h0m77 3.5h0m-16 1.5h0m-4-0.5h0m16.5 2.5h0m-81-6.5h0m70.5 3h0m-17.5 1.5h0m-50.5-3.5h0m68.5 6.5h0m-35-8h0m-45.5-2.5h0m10 2.5h0m80 2h0m-83.5-4h0m35 5h0m6-2h0m-3.5-1h0m17.5 4h0m-3 0h0m-44.5-3h0m-15-5.5h0m73 10h0m-3-0.5h0m-59-7.5h0m79.5 9h0m-74.5-7.5h0m69 1.5h0m-25.5 2h0m7.5 2.5h0m-30.5-5h0m-24 0h0m52 7h0m-23.5-3h0m0.5-2.5h0m0 1h0m-24.5-2h0m5.5 0.5h0m22.5 3h0m-13-3.5h0m-25-1h0m-1-2.5h0m5 0.5h0m13-0.5h0m22.5 5h0m-12-2h0m68.5 6.5h0m-102.5-7.5h0m34-1h0m64.5 11h0m1.5-4h0m-77.5-8h0m15 3h0m-22 3h0m-15.5-3h0m1.5-2.5h0m46.5 4h0m-8-1h0m8 2h0m-27-2h0m30.5 2h0m37 6.5h0m-80-8.5h0m68 6.5h0m-49-8h0m44 0.5h0m32.5 5.5h0m-36-2h0m14.5 1h0m-42-4.5h0m-30.5 0.5h0m76.5 4.5h0m-48.5-4h0m12.5 1.5h0m-44.5-3h0m-6-0.5h0m52.5 3h0m-31.5-1.5h0m53 4.5h0m4.5-1.5h0m-54.5-4.5h0m44 7h0m-56-4.5h0m14-1h0m55 7.5h0m11-7.5h0m7.5 5h0m-24-2.5h0m-28.5 1.5h0m-45-5.5h0m64.5 5.5h0m26.5 3h0m-53-5.5h0m-38-4h0m-2 1.5h0m69 7.5h0m-67.5-7h0m0.5-0.5h0m46 3.5h0m-48-4h0m89 7h0m8-1.5h0m-82-5h0m58.5 5.5h0m-41-1.5h0m14-0.5h0m20.5-1h0m37 5.5h0m-104.5-9h0m43.5 1h0m19.5 3.5h0m-53-4h0m83 4.5h0m-66.5-2.5h0m-6-0.5h0m-1.5 1h0m6.5-1h0m44.5 4h0m-25.5-3h0m-40-4h0m36 6h0m12.5-2.5h0m7.5 0.5h0m39.5 1.5h0m-26.5 1.5h0m-58.5 0h0m-12-4h0m44.5 0.5h0m35.5 7h0m-19.5-5.5h0m-4.5-1.5h0m-22.5 1.5h0m56.5 1h0m-61.5-0.5h0m-23-4.5h0m90.5 9.5h0m-29.5-5h0m27.5-1.5h0m-44.5-1.5h0m8 3.5h0m-31 0h0m17.5-0.5h0m20 3h0m-63.5-6h0m18.5 0.5h0m65 7h0m-40.5-6h0m-10-1.5h0m-4-3.5h0m-25.5 0h0m24 6.5h0m43 1.5h0m-60.5-2.5h0m85.5 8.5h0m-71.5-10.5h0m9.5-0.5h0m-2.5 3.5h0m41 1.5h0m4.5-2h0m-14 4.5h0m-56.5-6.5h0m61.5 4.5h0m-2 0h0m-36.5-2.5h0m39 4h0m-65.5-6.5h0m19.5 2h0m-9-3h0m26 5.5h0m-17-3h0m-2-1.5h0m21.5 2.5h0m-41-6h0m9.5 3.5h0m37.5 2h0m-8.5 2.5h0m-36-2.5h0m27 0h0m21-1h0m-36 0h0m6 2h0m14.5-3.5h0m30.5 5.5h0m-44-3.5h0m62.5 6h0m-74.5-10h0m50.5 6.5h0m32 1h0m-17.5 3.5h0m-33-6h0m32 4.5h0m-36-11.5h0m-11 4.5h0m-28.5 1h0m33.5 0.5h0m-20-0.5h0m11 0h0m20.5 2.5h0m29.5 1.5h0m-9.5-0.5h0m29.5-1.5h0m-12.5 4.5h0m15 1.5h0m-58.5-6.5h0m-36-3.5h0m45 6h0m46 6h0m-9-5h0m-72-6.5h0m59 6h0m-7.5-5.5h0m-64.5-0.5h0m18 2h0m-5-0.5h0m-5 0h0m9-3h0m27.5 2h0m21 4h0m-40-3h0m14-2.5h0m31 7h0m-46-7.5h0m15.5 4.5h0m-26.5-3.5h0m-6.5 0.5h0m95 7.5h0m-29-4h0m-4 0h0m11.5-6.5h0m-18.5 8h0m25 1.5h0m-19.5-2h0m9-2h0m16.5 7h0m-44.5-5h0m-41-5h0m5.5-0.5h0m0.5 0h0m44.5 4h0m-50.5-2h0m91.5 10h0m-85.5-9.5h0m79 4.5h0m-79-5.5h0m34.5 0.5h0m45 6.5h0m-81-5h0m56 3.5h0m-67.5-6h0m93 7h0m-84-7.5h0m34.5 7.5h0m53.5 5h0m-2.5-11.5h0m-52 5h0m-26-5.5h0m74 3.5h0m-63.5 1h0m-1-2.5h0m-19-1.5h0m15.5 3h0m52.5 4h0m-74-6.5h0m37.5 4h0m19-2.5h0m-10-1.5h0m48 4h0m-86.5-5h0m44 4h0m5.5 2.5h0m-12.5 1h0m-45.5-11h0m55 8.5h0m17.5-1h0m29.5 3h0m-75.5-3.5h0m-22.5-1.5h0m12 2.5h0m-16.5-3h0m93 5h0m-58-6h0m58 9h0m-4-4h0m-56-3.5h0m46.5 6.5h0m-27.5-6h0m-13 1h0m-41-6h0m74 7h0m-4.5-1.5h0m-52.5-2.5h0m-2-1.5h0m14.5 3.5h0m42 5h0m-25-1h0m-21.5-5h0m-18.5-0.5h0m23-0.5h0m32 1h0m-21.5 4h0m61 2.5h0m-97.5-9h0m59 6.5h0m-24-2h0m63.5 2.5h0m-32.5-3.5h0m-22 0h0m20.5 3.5h0m-57.5-7.5h0m76 8.5h0m-66.5-5.5h0m27.5 4.5h0m-6.5-5h0m14.5 4h0m-17-6h0m9.5 8h0m-19.5-1.5h0m18.5-2.5h0m-28.5-5h0m47.5 6h0m-25.5-2h0m-39.5-2.5h0m7-0.5h0m6.5-0.5h0m30 5h0m0-0.5h0m-29-2h0m55.5 5.5h0m12-6.5h0m-71.5-2h0m64 5.5h0m-11 1.5h0m-19 0.5h0m33.5-2h0m-41-5h0m58.5 7h0m-64.5-2.5h0m40-2h0m21.5 2h0m-12.5 0h0m19 7h0m-86-10.5h0m53 7.5h0m-63-6h0m24-2h0m14 4h0m18 2.5h0m-38-3.5h0m30-1h0m-30.5 0h0m77.5 7h0m-12-1h0m-34-2h0m51.5 6.5h0m-27.5-8h0m-72.5-1h0m49.5 1.5h0m43 3.5h0m-38-2.5h0m35 0.5h0m-31-2h0m17.5 1.5h0m9 3h0m-54.5-3.5h0m-11-3.5h0m65 7.5h0m-6-4h0m-54-3h0m16 1h0m36 4h0m-62.5-5h0m28 4h0m-8.5 1.5h0m-2-6h0m-9 4.5h0m27-1.5h0m5.5-0.5h0m34 4.5h0m-36.5-4h0m-40-1h0m65 1h0m-46-2h0m-26.5-2h0m24 4h0m-1.5-2.5h0m60.5 5h0m10.5-0.5h0m-22.5 1h0m-78.5-9h0m2 2.5h0m25-1h0m49.5 8.5h0m-59-8h0m20 3.5h0m59 5.5h0m-59.5-5.5h0m-25.5-2.5h0m24 0h0m27.5 6h0m-58-5h0m15.5-2h0m5 0.5h0m60 6h0m-72-4h0m59 3.5h0m-70.5-6.5h0m65 5h0m-19.5 0h0m-20-3h0m35.5 1h0m-6 4h0m-59-6.5h0m66 6.5h0m-42-3.5h0m13 1.5h0m-36-4.5h0m10-1h0m39 1.5h0m-50-3h0m63 7.5h0m-39.5-2h0m-12-3h0m6.5-1h0m34 4h0m-9 2h0m-28-3.5h0m19.5 1h0m-26-1.5h0m67 4h0m12.5-2.5h0m-88-1.5h0m11-1.5h0m66 7h0m-37.5-4h0m15.5-1.5h0m-20.5-0.5h0m-21.5 0.5h0m12 0.5h0m-21.5-1.5h0m37 4.5h0m6-0.5h0m-46.5-4.5h0m42 5.5h0m24-0.5h0m11 0.5h0m-26-1h0m-38.5-5h0m-7.5 3h0m4.5 0h0m86.5 8h0m-32-5.5h0m-58.5-4.5h0m6.5-1.5h0m71 7.5h0m-54.5-6h0m-23.5-2h0m37 5h0m43 1.5h0m-48-1.5h0m-27.5-3h0m76 7.5h0m-43-2h0m-8-3h0m53 3h0m-78.5-7.5h0m27.5 6h0m14.5 0.5h0m46.5 0h0m3.5 2.5h0m-87.5-5.5h0m52.5 4h0m9 2.5h0m-69-6h0m45-1.5h0m0.5 5h0m-18-3.5h0m-8.5-1h0m11.5 0.5h0m31 4h0m-40-5h0m33 1h0m-43 0.5h0m12.5-1h0m-16.5-1h0m56.5 5.5h0m9.5-1h0m10 4h0m7-0.5h0m-0.5-2.5h0m-74.5-3h0m48 1h0m-5 3h0m-3-2.5h0m25.5-0.5h0m-12 3.5h0m-56-5.5h0m-16.5-3h0m20 0.5h0m49.5 7.5h0m-68-4h0m-1.5-3h0m75.5 7h0m0.5-2.5h0m11 1h0m-89.5-5.5h0m88.5 4h0m-58.5-1.5h0m-28 1h0m100.5 6.5h0m-44-4h0m-36-7h0m-21 0h0m37 1h0m5.5 3.5h0m-9.5 3.5h0m49.5 2h0m-44.5-7h0m54 3h0m-59-1.5h0m15.5-1.5h0m15.5 2h0m-64.5-3h0m64 2h0m-40.5-4h0m31 4h0m-53-3h0m101.5 5.5h0m-26 0h0m-18.5-0.5h0m32 7.5h0m-27-9h0m-1 1h0m32 3h0m-31-4.5h0m-32.5-2h0m-29-0.5h0m36.5 5h0m53.5 3.5h0m-71-8h0m-11.5-3h0m74 10.5h0m-15-3.5h0m-13 2.5h0m-20.5-2h0m-13.5-4h0m50.5 2.5h0m21 5.5h0m-5 2h0m-82.5-12.5h0m-6.5-0.5h0m43.5 7h0m4-3.5h0m-22.5-3.5h0m-11.5 3.5h0m42.5 4.5h0m-54.5-5h0m54 1h0m10.5 4h0m-65-5.5h0m7.5-1.5h0m23.5 6.5h0m-28.5-8h0m54 4.5h0m-1.5 0.5h0m2.5 1h0m-58-4h0m51.5 4h0m-23-4h0m19.5 5h0m-34-3.5h0m46 2.5h0m0 0h0m24 4.5h0m-16-0.5h0m-64-9.5h0m97.5 12.5h0m-69.5-9.5h0m-15 2h0m81 3h0m-43-3h0m16.5 3.5h0m-59-8h0m85 12h0m-42-6h0m-20-6h0m19.5 3h0m-54-1h0m5.5 3h0m20-2.5h0m50.5 4h0m-65.5-5.5h0m-10 0h0m70.5 4h0m-33.5-1h0m7 1.5h0m11.5 0.5h0m-24-5.5h0m1 1.5h0m-33 0h0m60 3h0m-8.5-0.5h0m-22-3h0m-14.5 0.5h0m-0.5 2h0m67 4.5h0m14-0.5h0m-92.5-6.5h0m19.5 2h0m-24-5h0m17.5 4.5h0m-10-1.5h0m3-3.5h0m6 4h0m-14.5-2.5h0m94.5 9h0m-85-7h0m-11.5-2h0m72.5 11h0m3.5-4h0m-64.5-4.5h0m59 2.5h0m-8 1h0m34.5 0h0m-15.5 3h0m17.5-1.5h0m-10.5-1h0m6.5 2.5h0m-77.5-8h0m13 3h0m-1-3h0m52.5 12.5h0m-2.5-2h0m17.5-4h0m-6-1h0m-5.5 4.5h0m-19.5-1h0m26.5-2h0m-12 0.5h0m-53-5h0m72 2h0m-92-6h0m97 10h0m-41.5-5.5h0m-57-3h0m25 3.5h0m69.5 2h0m-73-4h0m-2.5-2h0m55 6h0m-42 1.5h0m16.5-3.5h0m-41-2.5h0m20.5 2h0m15 2h0m-45-4h0m16.5 0.5h0m-9 1h0m82.5 1.5h0m0 6h0m-79.5-10h0m88 6h0m-38-3.5h0m5 2.5h0m-45-2.5h0m48 1.5h0m-40.5-2h0m34 1h0m17 4.5h0m-80-7.5h0m44.5 0.5h0m-44.5 0.5h0m61.5 6h0m24.5-2.5h0m-79.5-1h0m70 3h0m-7-1.5h0m-11.5 0h0m-59.5-6h0m18 3.5h0m-19-2.5h0m39.5 3h0m-31-3.5h0m-7 0.5h0m76.5 8.5h0m-43.5-7h0m-12 1h0m-7.5-2h0m55-4h0m0 7.5h0m-1.5 3.5h0m-59.5-6h0m32.5 2.5h0m0 0h0m-21.5-2h0m-6 1h0m75 4.5h0m-75.5-5.5h0m8.5-1h0m12.5 1h0m44 9.5h0m-56.5-10h0m67.5 4h0m-86.5-3.5h0m-3-3h0m65.5 3h0m-60 0h0m21.5-1h0m-14 0.5h0m35 3h0m9 1.5h0m1 0.5h0m10.5-2.5h0m21 4h0m-56-5h0m-24.5-1.5h0m48.5 5.5h0m-2-4.5h0m-46-3h0m94 6.5h0m-73-6h0m-21.5 1.5h0m-9-0.5h0m62.5 3h0m15.5 1h0m-75.5-5h0m1 3h0m3-3h0m72.5 7h0m-61.5-2h0m5.5-5h0m5.5 3h0m-5-2.5h0m39.5 3.5h0m-55.5-5h0m35 5h0m59.5 5h0m-64-6.5h0m59 4.5h0m-90.5-7h0m16.5 1h0m25 4.5h0m-2-5h0m-21.5 1h0m-24-2h0m70 7h0m-70.5-3h0m2-5h0m32 2.5h0m21.5 5h0m-47-6.5h0m65 6h0m-70-2.5h0m18.5-0.5h0m-5-4h0m2 2.5h0m-2.5 0h0m-14 0.5h0m70 8.5h0m-36-6.5h0m-31.5-4.5h0m13.5 3h0m46 2h0m-49-1h0m30-2h0m-41.5-1.5h0m24.5 4h0m50.5 2.5h0m0.5 4.5h0m-77-9.5h0m60.5 4.5h0m-19.5-3h0m25.5 8.5h0m-69.5-9.5h0m38.5-1.5h0m21.5 6h0m36.5 6.5h0m-59-9h0m-18 3h0m8-7.5h0m13.5 2h0m-36.5-0.5h0m2 2h0m12.5-2h0m7 2h0m55.5 2.5h0m-43.5-3.5h0m22.5 6.5h0m-44.5-7h0m24 4h0m11-0.5h0m-27-2.5h0m80.5 4.5h0m-61.5-3h0m-1.5-2h0m-4.5-3.5h0m-36.5 2h0m39.5 1.5h0m-23.5 0.5h0m31 2h0m-31.5-4h0m-15 2h0m87 3h0m-1 2.5h0m-59.5-8h0m18 6.5h0m46.5 5.5h0m-49-6.5h0m43.5 5.5h0m-15-6.5h0m-10.5 1h0m-40.5-0.5h0m73.5 4.5h0m-10-1.5h0m-12.5-4h0m-45.5 0h0m53 1h0m-69.5-1h0m-5.5-3.5h0m65.5 6h0m-0.5-2.5h0m-50.5-2h0m33.5 4.5h0m5 0.5h0m-1 4h0m-15-3.5h0m-33.5-4h0m6-3h0m42.5 1h0m43 6.5h0m-89-5h0m-2-3h0m74 10.5h0m-79-10.5h0m76.5 6.5h0m-8 1h0m-52-4h0m-1.5-1.5h0m26.5 5h0m1.5-4.5h0m51 7.5h0m-88.5-10.5h0m45.5 2h0m37.5 8h0m-61-7h0m74 8h0m-10.5-5h0m-85-2.5h0m1-1h0m65.5 2.5h0m-55.5-2h0m10 0h0m50.5 8.5h0m-79.5-7.5h0m95.5 4h0m-17.5-0.5h0m-77-6.5h0m89 4h0m12.5 6.5h0m-53.5-6.5h0m22.5-1.5h0m-4 0.5h0m-12-3.5h0m19 8.5h0m-33.5-4h0m47 1h0m-27-2h0m-3.5 1h0m-25.5-0.5h0m-18-1.5h0m-8.5-2.5h0m-6.5 0h0m75.5 9.5h0m27 1h0m-73.5-10h0m-26 0.5h0m39.5 4.5h0m-39.5-3h0m16-0.5h0m-18.5-1h0m59.5 2.5h0m32 6h0m-83.5-6.5h0m6.5-0.5h0m36 2.5h0m-42-0.5h0m40 4h0m-44.5-5.5h0m91 2h0m-68.5-4.5h0m-10.5 1.5h0m12-1.5h0m6.5 8h0m-27-8.5h0m8 0.5h0m10.5 1h0m-9 1h0m-0.5 0h0m-6.5-1.5h0m55 5.5h0m34.5-2.5h0m-84.5-4h0m83 11h0m-79.5-8h0m62 1h0m-42 1h0m58 4.5h0m-37-4.5h0m12 2h0m20 2h0m-80.5-8.5h0m78.5 9.5h0m-52.5-4h0m-22-6h0m51 11h0m26.5-5.5h0m-67.5-1.5h0m-8.5 0.5h0m55 2.5h0m-30.5-3h0m2.5-0.5h0m-22.5 0.5h0m21-2h0m14 5h0m-31-2h0m-13-4.5h0m-2 1h0m57.5 5.5h0m-4.5-5.5h0m9.5 2.5h0m-47.5 0h0m28 1.5h0m49 3.5h0m-13 1.5h0m6-6h0m-79.5-1.5h0m69.5 4.5h0m-9.5-1h0" stroke="#1818c0" stroke-width="1.5" stroke-linecap="square"/><path d="M366.5 356.5h0m55 5h0m-52.5-7h0m25 2h0m26 1.5h0m-68.5-2.5h0m90.5 4h0m-4.5 2.5h0m-86-9h0m-4-1h0m17 3.5h0m32 3.5h0m-32-5h0m5.5 3h0m44.5 0.5h0m-7 1h0m-54.5-7h0m32 5h0m-10.5-2.5h0m63 7.5h0m-90-7.5h0m2 0h0m1 0h0m33.5 3h0m-16-2.5h0m-18.5-1h0m1 2h0m63.5 2h0m-48-3.5h0m-18 0h0m11.5 0h0m-10.5 0.5h0m27-0.5h0m62 7.5h0m-88.5-6.5h0m-2 0h0m8.5 1h0m-5-1h0m15.5-1h0m-8.5 0h0m-5.5-1h0m-1 2.5h0m17.5 1h0m-20.5-2h0m15-0.5h0m2.5 1h0m82.5 4.5h0m-101-6h0m40.5 5h0m27.5 1.5h0m-26-4h0m-38-2h0m29.5 1h0m-3-0.5h0m-17.5-0.5h0m-10 0.5h0m-2.5-2h0m-0.5 0h0m47.5 4.5h0m-24-2h0m-14-1h0m81 5.5h0m-66.5-3.5h0m79.5 10.5h0m-103.5-13h0m74.5 5.5h0m-60.5-5.5h0m-7.5-1h0m70.5 6.5h0m-77-6.5h0m71.5 6.5h0m-70.5-5h0m28.5 2h0m14.5-3.5h0m25.5 6h0m-39.5-1.5h0m-10.5-3h0m44 5h0m-39.5-6.5h0m78.5 12h0m-78.5-12h0m-24 0h0m93.5 4.5h0m-86-3.5h0m-5-0.5h0m22 2.5h0m41.5 4.5h0m-63-6h0m-2-0.5h0m-1 0.5h0m27 5h0m-27-5.5h0m0 0h0m85.5 6.5h0m-32-2h0m-43.5-4.5h0m28.5 1.5h0m-31.5-1.5h0m31.5 5h0m12.5-2h0m13.5 1h0m-34.5 1.5h0m-29-5.5h0m-0.5 0h0m13.5 1.5h0m67 2h0m-78.5-5h0m29.5 3.5h0m1 1.5h0m57 3h0m-89-5h0m39.5-1h0m6 1.5h0m-46.5-3h0m10 2h0m-9-0.5h0m13 1.5h0m-4-0.5h0m-8.5-2h0m50 3.5h0m-38-1h0m57.5 3h0m-24.5-1h0m-39.5-5.5h0m0.5 2.5h0m18 1.5h0m70.5 4h0m-27.5-1.5h0m-68-6h0m3 2h0m36 2h0m-11 1.5h0m-10-6h0m-3.5 2h0m54.5 3h0m-65.5-3h0m2.5 0h0m11.5 1h0m-0.5 2h0m-17.5-4h0m9 1.5h0m-1-1h0m24 2h0m19.5 2h0m-25-1.5h0m4.5-4h0m-27.5 2.5h0m44 1.5h0m-46.5-3h0m9.5 3h0m-10-3h0m64.5 3h0m-26-0.5h0m-33.5-2h0m84.5 9h0m-38.5-4.5h0m45.5 1.5h0m-75-6h0m25.5 3.5h0m-47.5-5h0m71.5 6.5h0m-71.5-5h0m17.5 2h0m52 3h0m1 2h0m-65.5-9h0m76 6.5h0m-63-2.5h0m13.5-1h0m9 2.5h0m9 0h0m-15.5-2h0m36.5 4h0m26.5 1.5h0m-97-7h0m22 1h0m-2-1h0m19 3.5h0m-10 0.5h0m64.5 2.5h0m-88-6h0m12 2h0m-10-1h0m-7.5-4h0m89.5 10h0m-43.5-1.5h0m-25.5-2h0m-19-3.5h0m0 0.5h0m89 6h0m-18-3h0m-69-5h0m22 5h0m-25.5-2.5h0m3.5-2.5h0m9.5 4.5h0m55 0.5h0m-46.5-4h0m-21.5 1.5h0m16 2h0m-15.5-2.5h0m10 0h0m-10-1h0m103.5 9.5h0m-104-9.5h0m9-0.5h0m10 3h0m16-2h0m-25 0.5h0m74 6.5h0m-38.5-4.5h0m-44.5-2h0m5-2h0m20.5 3h0m20.5 1.5h0m-23.5-3.5h0m-23.5 0.5h0m13.5 1.5h0m89 4.5h0m-44.5 0.5h0m13.5-1.5h0m-34-4h0m34 5.5h0m-21-3.5h0m-38.5-2h0m-11-1.5h0m20.5-1h0m11.5 3.5h0m-22.5-1h0m-10-2.5h0m15.5 1h0m-16-0.5h0m2.5-1.5h0m48 6h0m-47.5-4.5h0m-0.5 1.5h0m49 0h0m-17.5 0.5h0m15 2h0m0.5-0.5h0m53 4h0m-92.5-5.5h0m50 3h0m-21-0.5h0m-1.5-0.5h0m-9.5-3h0m-21-1.5h0m2 3h0m37.5-0.5h0m-43.5-1h0m41 5.5h0m-42.5-8h0m51.5 6h0m-53-4.5h0m19.5 3h0m-18-4h0m0 0.5h0m53 4h0m-53.5-1.5h0m1 0h0m8.5 1h0m46.5 1.5h0m38.5 2.5h0m-74.5-4.5h0m15-0.5h0m25 3h0m-11.5-3h0m25.5 3h0m-27.5-2h0m-22.5-1.5h0m-23.5-1.5h0m63 5h0m-44.5-1.5h0m-6-2h0m-14-1.5h0m38.5 4h0m25.5 3h0m-63.5-6.5h0m7 1h0m-7.5-0.5h0m69 8h0m1-3.5h0m-20-0.5h0m-19 0.5h0m-11-3h0m34 0h0m4.5 3h0m-57-3h0m23 0.5h0m45 1h0m-67.5-2.5h0m-2 0.5h0m11.5-2h0m91 7.5h0m-102.5-6.5h0m0.5 0h0m60 3.5h0m13.5 0.5h0m-73-6h0m16 3h0m44 2.5h0m-60.5-2h0m55.5 1h0m9.5 2h0m-65-8.5h0m-0.5 4.5h0m34 0h0m16 0h0m-33.5 0.5h0m20.5 0.5h0m-21-0.5h0m48.5 3.5h0m-61-5.5h0m-3.5-1h0m11 1h0m-4.5-0.5h0m55.5 6h0m-61.5-4.5h0m78 4h0m-39-2h0m-21-3h0m41 2h0m-59-1.5h0m23.5 1.5h0m-24-2.5h0m37.5 7.5h0m-30-6h0m1-3.5h0m-1.5 4.5h0m28-1h0m33.5 3.5h0m-9 0.5h0m-58.5-6h0m-1 2h0m74 6.5h0m7 3.5h0m19.5-2.5h0m-100.5-6h0m93 5.5h0m-2.5-2.5h0m-53.5-2h0m19 3h0m-54-7.5h0m0 1.5h0m0-0.5h0m17.5-1h0m80.5 10h0m-99.5-7h0m50-0.5h0m-46.5 1h0m76 6h0m-27-5h0m-43.5-2.5h0m92 9.5h0m-98.5-9h0m0-2.5h0m79 8h0m-69.5-4h0m17.5-3h0m2.5 3.5h0m-28.5-5h0m-4 0.5h0m1.5 1.5h0m43 5h0m-40.5-6h0m66 5.5h0m-37-3h0m56.5 4h0m-48.5-0.5h0m-40.5-3h0m11-1h0m27-0.5h0m-35.5-0.5h0m-3-1h0m75 5.5h0m-73-5.5h0m20 2h0m-22 2h0m4-2.5h0m-1.5 1.5h0m7-3h0m47 3h0m-46-2h0m89 7h0m-99.5-7.5h0m49 4h0m-6 1.5h0m-27-2h0m44 0.5h0m-52-3.5h0m33 4h0m-22.5-3h0m-15.5 0.5h0m24.5 1.5h0m-15.5-1.5h0m59 4.5h0m23 2.5h0m-23-1.5h0m-55-6.5h0m0.5-1h0m-5 2h0m-3.5-1h0m-6.5 0.5h0m68.5 5.5h0m-61.5-6h0m67 4h0m-67-3h0m36 0h0m-41-2.5h0m32 5h0m-33.5-4.5h0m31 2h0m32 3.5h0m-60-4h0m60 1h0m-57.5-1.5h0m-7-2h0m47 4.5h0m-25.5-1h0m73 9h0m-30-10h0m-63-1h0m4.5 2.5h0m-5-2h0m102.5 8h0m-30-6h0m-7 0.5h0m0.5 2.5h0m15.5 3h0m-59.5-8h0m37.5 4h0m29.5-1.5h0m-89.5-0.5h0" stroke="#080870" stroke-width="1.4" stroke-linecap="square"/><path d="M383 364.5h0m-35.5-4h0m51.5 3h0m26.5 0.5h0m-25.5-3h0m12.5 0h0m-22 2h0m-12-2h0m-7.5 0h0m0.5 2h0m22 0.5h0m-37-5h0m0.5 1h0m19 0.5h0m-17-1h0m26 5h0m43.5-0.5h0m-33.5 0h0m19.5 1.5h0m-37 0.5h0m44.5-4.5h0m-5.5 0h0m-20 0h0m-32 1.5h0m-10.5-5.5h0m60 11.5h0m6.5-0.5h0m-67-8.5h0m-5 1h0m8.5-3.5h0m16 3h0m-25 1.5h0m20.5-1.5h0m-5 4h0m44.5-1h0m-54-2h0m72 2h0m-0.5 5h0m-4.5-1h0m-72-4.5h0m9.5-5.5h0m38 7h0m18.5-2h0m1.5 5h0m-60-9h0m56.5 3.5h0m-17-1.5h0m-27.5 3h0m47.5 0.5h0m-38.5 0h0m6-2.5h0m-20 1h0m-7.5-2.5h0m66 6h0m-30.5-5h0m-38.5-0.5h0m23.5 2.5h0m-19.5-2.5h0m26.5 3.5h0m41.5 1.5h0m-48-4.5h0m43.5 5h0m-64-3h0m6-6h0m26.5 4h0m-30.5-1.5h0m-4-0.5h0m31.5 3h0m-3 0.5h0m-3-1h0m-1.5-1h0m35.5 5h0m-62.5-6.5h0m6.5 2.5h0m53 4h0m-8.5-2h0m3.5 1h0m-4-5.5h0m11 4.5h0m-39-5.5h0m11.5 6h0m-22-6.5h0m24 4.5h0m-4 2.5h0m-14.5-5.5h0m43 11h0m4.5-4h0m-28-6.5h0m-6.5 7h0m4.5-7h0m17 6.5h0m-52-4h0m22.5 1h0m6.5 3h0m29.5-0.5h0m-26-6.5h0m11 1h0m-13 0.5h0m-28-2h0m46 6h0m-28.5-4h0m16 1.5h0m9.5-1h0m-4.5 0h0m10 2h0m5.5 1.5h0m-36-3.5h0m38.5 6h0m-41-4.5h0m-16-1h0m12-2.5h0m14.5 6h0m-20.5-6.5h0m9 5h0m17 2h0m-14.5-4.5h0m12.5-1.5h0m-28.5-0.5h0m15 5.5h0m8.5 0h0m-30-3h0m8-1h0m-5-1h0m67.5 4.5h0m-23-1h0m-27.5-2.5h0m-8.5 0.5h0m49 2h0m-28-5h0m20.5 7.5h0m-17-7.5h0m-2.5 1h0m48.5 8h0m-82.5-11.5h0m30.5 11.5h0m23-4h0m-46.5-3h0m74.5 8h0m-81-11h0m68.5 5.5h0m-58-4.5h0m-11.5 0.5h0m73.5 9h0m-47.5-2.5h0m15.5-1.5h0m42 3h0m-15.5-0.5h0m-56-7h0m-10 2.5h0m64 1h0m-20-3.5h0m-20.5 4.5h0m29.5-2h0m-32-2.5h0m-19-3.5h0m8.5 4h0m28.5 1h0m-18.5 1h0m22.5 3h0m-14.5 2h0m28.5-4h0m-18.5 1h0m5 1h0m-22.5-4.5h0m-10 1h0m48.5 3h0m-54-9.5h0m-2.5 8.5h0m-1-1h0m71 4.5h0m8.5-1h0m-64.5-1h0m45.5 3h0m-53-5h0m-8-5h0m21.5 2h0m17 0h0m0.5 3h0m-5-1h0m9.5 2.5h0m-46-4.5h0m29.5 3h0m16.5 2h0m20.5 1.5h0m-38-2h0m-19.5-0.5h0m73 1h0m-3 2.5h0m-37.5-5h0m31.5 2h0m-30-3.5h0m9 5.5h0m-1-3.5h0m-12.5 2h0m-28-1h0m70 5h0m-18.5-4.5h0m0 5h0m-47-8h0m62 6h0m-68.5-6.5h0m31 2.5h0m-32-0.5h0m5 1.5h0m17.5-2h0m31 4h0m-33.5-6h0m12 1h0m14.5 3h0m-47.5-3h0m59.5 4h0m-66.5-6h0m23.5 3.5h0m-21-5.5h0m20.5 6h0m-0.5-1h0m-20-4h0m74 6h0m-18 2h0m23 1.5h0m-25.5-9h0m7 6.5h0m-52.5-4.5h0m31.5 1h0m-15 0h0m40.5 0h0m-47 1h0m21 1.5h0m-27.5-2.5h0m32.5 1h0m4 0h0m-29.5-2h0m44 3.5h0m-34.5-3h0m39 3.5h0m1.5-1h0m-0.5-0.5h0m-4 2h0m-25 2h0m26.5-3h0m-50-2.5h0m41 2.5h0m-5.5-2.5h0m8 1.5h0m4.5-1.5h0m-51.5 0.5h0m60 3.5h0m-51.5-4.5h0m49.5 7h0m-7.5-4h0m-7.5 4.5h0m-58-10.5h0m59.5 4h0m-51-2h0m-2.5-3.5h0m13.5 3.5h0m-2.5-4.5h0m42.5 11.5h0m-58.5-10h0m45.5 3h0m-12-3.5h0m-33.5 2.5h0m0 1.5h0m6-2h0m7 2.5h0m54.5 4.5h0m4.5-5h0m-37.5-1.5h0m-8.5 5h0m35-0.5h0m-32.5-2.5h0m20.5 7h0m-0.5-4.5h0m-8.5-3.5h0m-37-1.5h0m74.5 5h0m-46-1.5h0m-14.5 1h0m39 0.5h0m-26.5-2h0m40 0.5h0m-55.5-4h0m55.5 7h0m-31.5-4.5h0m4.5 2h0m-8-3h0m1 2.5h0m13.5-0.5h0m19.5 2.5h0m-1.5 3h0m6-1h0m-30-5h0m-3.5-3.5h0m30 8h0m-15.5-1.5h0m-26-2.5h0m-6.5-2h0m12.5 0.5h0m-5.5 2.5h0m-11.5-3.5h0m39 4.5h0m-3.5 2h0m-44.5-9h0m73 10h0m-82-5.5h0m18.5 2.5h0m-15-6.5h0m17.5 5h0m11 1.5h0m-21-4.5h0m23 1.5h0m47.5 7.5h0m-42.5-6.5h0m-30.5 1.5h0m-8.5-3.5h0m33 1.5h0m-28 0.5h0m54-1h0m-33 2h0m-10-0.5h0m47-0.5h0m-3.5 1h0m16.5 3.5h0m5-3.5h0m-74-1h0m14.5-0.5h0m29.5 3h0m23.5 2.5h0m-38.5-7h0m-0.5 5h0m-18-4h0m-5 0.5h0m47.5 1.5h0m-35.5-6h0m-18.5 5h0m38-1.5h0m-32.5 0.5h0m47 4.5h0m2 0h0m-46.5-5.5h0m5-0.5h0m14.5 4h0m-2.5-0.5h0m-27.5-4.5h0m18 5.5h0m-18.5-3h0m19.5 3.5h0m-1.5-5.5h0m32 3.5h0m-49-2h0m35 3h0m-12-3h0m26.5 6h0m-50.5-3.5h0m8 0.5h0m17-2.5h0m1.5-1h0m1 3.5h0m3-3h0m-24.5 4h0m44.5-3h0m-34 1.5h0m17.5-1.5h0m-30-1h0m65.5 9h0m-56.5-6.5h0m27.5 1.5h0m-14.5 1.5h0m-25.5-6.5h0m65.5 2h0m-7.5 6.5h0m-43-6.5h0m0-0.5h0m59.5 5.5h0m0.5-0.5h0m-48-2.5h0m25.5 3.5h0m-50.5-3h0m58 0h0m-46.5-1h0m-8-2h0m-6-2h0m75.5 8.5h0m-52.5-4h0m-5-2h0m41 6h0m-27.5-3.5h0m-3.5-2.5h0m2.5 1h0m40 2.5h0m-54.5 0h0m2.5-4h0m60 6.5h0m-53.5-7.5h0m38.5 6h0m-63.5-7h0m-2.5-2.5h0m0.5 2.5h0m79.5 6.5h0m-75.5-2h0m66.5 4.5h0m0.5 0h0m-47-7h0m32 4h0m-36.5-4.5h0m-1 3h0m21-3h0m10 3h0m-46.5-3.5h0m35 3.5h0m7.5 1h0m-25-8h0m26.5 5.5h0m13.5 3.5h0m-34-3h0m25-3.5h0m-52 2h0m1-3.5h0m-1 1h0m72.5 4.5h0m-43-4h0m-29 1h0m34 5.5h0m24.5 0.5h0m-42.5-5h0m54.5 4h0m-63.5-1h0m20.5 1h0m-2.5-3h0m46 4h0m-17.5-2h0m-37 0h0m54.5-2h0m-46.5 0h0m43 6h0m12-7h0m-39 4.5h0m-5.5-1.5h0m29.5 1h0m-26-2h0m-36-1.5h0m0-3h0m59 4.5h0m-12-1h0m23.5 3h0m1.5 3h0m4.5-1h0m-69.5-5h0m18-1.5h0m52 7.5h0m-60.5-7h0m-9 0.5h0m-5-1h0m30 3.5h0m-30.5-5.5h0m-2 1h0m60.5 7h0m-22-0.5h0m-16.5-4.5h0m29.5 6.5h0m21-5.5h0m-76-3h0m23 2.5h0m17.5 2h0m-14.5-1h0m35 3h0m-48.5-5h0m46.5 0.5h0m-15.5 1h0m34 2.5h0m-51-4.5h0m-16-0.5h0m67 7.5h0m-73.5-8h0m10 3h0m2 1.5h0m-14.5-3h0m77.5 3h0m-33.5 0h0m13.5 0h0m-18.5 0h0m-18-4.5h0m14 7h0m-18-6h0m-18 3h0m81.5 6h0m-66.5-6h0m59.5 3h0m-57.5-3.5h0m24-1h0m6 0.5h0m-22-3.5h0m42.5 9.5h0m-19-6h0m17 0h0m-25-0.5h0m21.5 1h0m-56-5h0m76.5 6.5h0m-28-0.5h0m-27.5-4.5h0m26 3h0m-4.5 2.5h0m28 1.5h0m-11.5 0.5h0m-37-0.5h0m43.5-2.5h0m-19-1h0m16 1h0m-66-5.5h0m57.5 6.5h0m-50.5-5h0m6.5 1h0m9.5 1h0m-25-1h0m49.5 1.5h0m-6.5 3.5h0m10 1h0m-2-1.5h0m-52-3h0m3-3h0m77.5 4.5h0m-51-1.5h0m-0.5-2h0m-10.5-0.5h0m59.5 6h0m-53-3h0m35.5 1.5h0m4 2h0m-47.5-1.5h0m2-6h0m19.5 4h0m-8.5-3.5h0m53 8h0m-7.5 0.5h0m-60.5-6.5h0m10 3.5h0m45.5-2h0m-21 0.5h0m-4 1h0m28.5 2h0m-1-1h0m-32.5-1h0m-4-1h0m-17 2h0m-19-3h0m63.5-0.5h0m-15 3h0m26-0.5h0m-18-1h0m-29.5-3.5h0m13 1.5h0m-18 1h0m16.5 1.5h0m15 2h0m-50.5-3h0m41.5 0.5h0m-20 2h0m-19-4.5h0m49.5 4.5h0m-48.5-7.5h0m-2 1.5h0m70 10.5h0m-20.5-6h0m-41-3.5h0m-0.5 0.5h0m-8 2.5h0m44.5 2h0m-5-3h0m-14.5-1.5h0m-28 0.5h0m47 3.5h0m-26-3.5h0m8.5-1.5h0m15.5 2h0m-30 1h0m58.5 1.5h0m-10 4h0m10-4h0m-14.5 0.5h0m-55.5-5.5h0m-5.5-1.5h0m20.5 6h0m48 5h0m-64-6.5h0m36 0h0m19.5 5.5h0m-17-6.5h0m-38 0.5h0m76 0h0m-59.5 1.5h0m-10.5 0.5h0m58 0.5h0m-64.5-9h0m48 11h0m-33-4h0m-9.5-5.5h0m-7 3h0m11.5-1h0m-14.5 2h0m20.5-1.5h0m-8 4.5h0m-0.5-2.5h0m26 2.5h0m-8-5.5h0m-16 5.5h0m53.5 2h0m-45-8h0m-16.5-1.5h0m8 3.5h0m41 7h0m-1.5-4h0m19.5 2h0m-39 0h0m18.5-0.5h0m5 0.5h0m-8-2.5h0m-22 1.5h0m14-4h0m-20 2.5h0m-6.5-4h0m-7.5 5h0m25-1h0m-31-4.5h0m24.5 5.5h0m14-2h0m-0.5 5h0m-38.5-7.5h0m16.5 5h0m5.5-3h0m-21.5-0.5h0m63.5 5.5h0m-9-1h0m-28.5 0.5h0m-24.5-6.5h0m39.5 2h0m24 5.5h0m-37.5-5h0m4-1h0m32.5 4h0m-58-8.5h0m51.5 11h0m-22.5-6h0m-25.5 3.5h0m31.5-1h0m-16.5 0.5h0m27.5-3h0m-33 2.5h0m11.5 2h0m21 0.5h0m-42.5-4.5h0m7 4h0m6-5.5h0m28 2h0m12 1.5h0m-28.5 1h0m30 1.5h0m-27.5-1h0m41.5 3.5h0m-33.5-4h0m0.5-4.5h0m29 6.5h0m-75-8h0m14.5 3.5h0m23.5 1h0m42.5 2h0m-49 0.5h0m-16.5-5h0m7.5 3h0m-4-1.5h0m17-2h0m-29 2h0m30.5-0.5h0m15 2.5h0m-51-2h0m26 1.5h0m5 0.5h0m-24-3h0m68.5 8.5h0m-5-8h0m-51 3.5h0m-3.5-1.5h0m-6-4.5h0m40 6.5h0m5.5-1h0m-19-2h0m29 5.5h0m14.5-5h0m-68.5-2.5h0m-3.5 1.5h0m36.5 4h0m-12-0.5h0m-33-6.5h0m17.5 4.5h0m48.5-1.5h0m3.5 1.5h0m-32-2h0m11.5 1h0m-41.5 2.5h0m68 2h0m-48.5-5h0m8.5 0.5h0m-8-0.5h0m-7-0.5h0m56.5 0.5h0m-77.5-3h0m13 1h0m47 5h0m-11.5-4.5h0m11.5-1h0m-17.5 3.5h0m-18-2h0m10 4h0m-22-5h0m4-4h0m9 4h0m-10.5-1.5h0m53 8.5h0m-63.5-3.5h0m-2.5-3h0m2.5 0.5h0m22.5-3.5h0m54.5 10h0m-9-1h0m-16.5-4h0m-24.5-3.5h0m47.5 10h0m-40.5-4h0m-17 0.5h0m46.5-2h0m-42 1h0m33.5 2.5h0m-52.5-3.5h0m-4.5-10.5h0m38 9.5h0m-4 0.5h0m46.5 5h0m-82.5-9h0m39 5.5h0m15 1.5h0m-32.5-2h0m-20-4h0m32.5 2h0m18 4h0m-23.5-0.5h0m47 0h0m-31-0.5h0m-40.5-4.5h0m11.5 1h0m2-1.5h0m46 6.5h0m-11-4.5h0m15 0h0m-18.5 1.5h0m5 1.5h0m-22-1.5h0m-24.5-3h0m7 2.5h0m46.5 2h0m1 2.5h0m-51-6.5h0m40 5.5h0m-6-4h0m5.5 4h0m-50.5-7h0m5 4h0m24.5-2h0m20 5h0m-39.5-5.5h0m-9.5-0.5h0m35.5 3.5h0m8-4h0m-25 3h0m1.5-0.5h0m-16.5-1.5h0m39 3.5h0m-39.5-4h0m26.5-2h0m-29.5 2.5h0m48.5 0.5h0m-29.5-0.5h0m11 0h0m32 6.5h0m-29.5-5.5h0m-17 0h0m57.5 4h0m-54-3.5h0m46.5 1.5h0m1.5 5h0m-20-9.5h0m-41 1.5h0m27 4h0m-32-4h0m2.5 2h0m24 0.5h0m-7.5 3h0m-6-4.5h0m65 3h0m-61-2.5h0m51-1h0m-56.5 4h0m-1.5-6.5h0m14 1.5h0m43 4.5h0m12.5 3.5h0m-67.5-6.5h0m25.5-2.5h0m-3.5 3.5h0m-21-6h0m65.5 9h0m-54-4.5h0m39 3.5h0m0 2h0m-49.5-2.5h0m-13-6h0m78 8h0m-5.5-1.5h0m-63.5-2h0m58 2h0m-30.5-0.5h0m-32-3h0m0.5 0h0m-6.5-3h0m1 2h0m29 1h0m-18.5-5.5h0m1.5 2.5h0m8 5h0m23 0.5h0m14-3h0m-55.5 3h0m62 2.5h0m-46.5-7.5h0m17 4.5h0m40.5 0h0m-17 2h0m-7 0.5h0m5.5 0.5h0m10-1h0m-33.5-2h0m11.5-1.5h0m10 5h0m8-4.5h0m-54.5 1.5h0m40.5-1h0m-48-4h0m59.5 4h0m-12.5-0.5h0m-49.5-2h0m71.5 2.5h0m-10 5h0m-29-5h0m-22-3h0m27.5 4h0m31.5-2h0m-34.5 3h0m-23.5-4h0m-5.5-0.5h0m-5.5-1h0m49.5 5h0m-46-2.5h0m36.5 2h0m2-0.5h0m33 5.5h0m-22.5-2h0m-6.5-3.5h0m13.5 5h0m23-4h0m-39-2h0m6.5 3h0m-5.5-2.5h0m6.5 1h0m-20.5-1.5h0m5.5-1.5h0m-22.5 1h0m42-1h0m19.5 4h0m-70.5-4h0m48.5 1.5h0m-49-4h0m72.5 3.5h0m-19.5 4h0m6.5-5h0m6.5 4.5h0m-12-2h0m-44.5-4h0m4.5 3.5h0m32 0.5h0m13.5-2h0m-55.5-1h0m45 5h0m-21.5-5.5h0m-29.5-1h0m0.5 1h0m65 6.5h0m-43.5-4h0m45-0.5h0m-68-2.5h0m78 6h0m-69-7.5h0m-8.5 2.5h0m12-1.5h0m68.5 10h0m-20.5-1h0m-15.5-7.5h0m-25-1.5h0m34 5.5h0m-44-3.5h0m49.5 2h0m-42-3h0m18 1.5h0m24.5 0.5h0m-36.5-0.5h0m-3 2.5h0m56 1h0m-54-4.5h0m41.5 4h0m-17-1h0m-36-6.5h0m-1.5 2.5h0m3 1h0m28 0h0m-18.5 4h0m48.5-0.5h0m-70.5-3h0m3 1.5h0m23.5 2h0m18.5-3.5h0m-40 0h0m70 4.5h0m-42-3.5h0m11 0.5h0m-26-5.5h0m20.5 7h0m-11 1.5h0m11.5-1.5h0m-34-2.5h0m34 5.5h0m-39-9.5h0m63.5 10.5h0m-24-5h0m31 7h0m3.5-5h0m-66.5-4.5h0m58 4h0m-64-3.5h0m64.5 3.5h0m-30.5-2.5h0m-32-3h0m18.5 4.5h0m35 1h0m-10-3h0m-39.5 1h0m10.5-1.5h0m-15 2h0m59.5 2.5h0m-60.5-2.5h0m4-0.5h0m32.5 1h0m-9-5h0m-10 5h0m-14.5-1.5h0m32-1h0m31 3h0m9-4.5h0m-32.5 7h0m-21-4h0m36.5 2.5h0m-49.5 0h0m-1-3.5h0m58.5 2.5h0m7.5 0h0m-16.5-2.5h0m-30 3h0m29 5h0m-47-6.5h0m-11.5-4.5h0m16.5 1h0m57.5 7h0m-28.5-3h0m-33.5-2h0m21 0h0m42 7h0m-30-5h0m15.5 0.5h0m-34-2h0m9 4h0m-5-3h0m48.5 3.5h0m-79.5-3.5h0m6.5-3h0m60.5 6.5h0m2.5-0.5h0m-36-5.5h0m-27 1h0m8 1h0m64 5.5h0m-58-7.5h0m-17 1h0m52.5 3.5h0m-55.5-3.5h0m73 4h0m7.5 1.5h0m-56-5h0m48 3h0m-70.5-8.5h0m-3 3.5h0m78.5 4.5h0m-17 0.5h0m-52.5-8h0m50 5.5h0m-21 2h0m-28-5h0m-4.5-2.5h0m74.5 8.5h0m-68-7.5h0m47 9.5h0m-44.5-4.5h0m5-2.5h0m10.5 0.5h0m20 3h0m-13.5-1.5h0m31.5 2h0m-16 1h0m18-1h0m-9.5-2.5h0m-29.5-1.5h0m-7.5 2.5h0m16 0.5h0m-21.5-2h0m-0.5-1.5h0m42.5 1h0m-1.5 4h0m13-1.5h0m10.5-1.5h0m-58.5 1h0m45.5 1h0m-50.5-0.5h0m-17.5-1h0m5-2h0m-6-3.5h0m51 6h0m-49-2.5h0m36.5 0h0m1.5 3.5h0m43 4.5h0m-38-7.5h0m36 3.5h0m-46-3h0m36.5 2.5h0m1.5-1.5h0m-44 1.5h0m43 1h0m-15.5-0.5h0m-21.5-0.5h0m28.5 0.5h0m7 1.5h0m-3-1h0m-5 1h0m-59.5-6.5h0m8.5-2.5h0m56.5 10h0m-1.5-6h0m2.5 4h0m-20.5-5h0m-23 3.5h0m-25-2h0m49 4h0m12.5-2h0m-55-5h0m23.5 4h0m-15.5-1.5h0m55 4h0m-21-4h0m5 2h0m22.5 8h0m-13.5-1.5h0m-14.5-4h0m-23-0.5h0m55-0.5h0m-45.5-4h0m-18.5 4h0m-4.5-4.5h0m45 7h0m-37-3h0m57 3.5h0m-17.5-4.5h0m-50.5-3h0m-6-2h0m43 5.5h0m-2 1.5h0m35 0h0m-13.5 3.5h0m-56.5-7.5h0m28 5.5h0m-14.5-7.5h0m-17.5 3h0m15-3h0m51.5 7h0m-4-2.5h0" stroke="#b0b020" stroke-width="1.5" stroke-linecap="square"/><path d="M354 360h0m7.5 1h0m4.5 0.5h0m-18.5-2.5h0m78 6h0m-77-4h0m10.5-4h0m65 10h0m-35-6h0m32.5 3h0m-56.5-2h0m-17.5-4.5h0m0 2.5h0m0.5 0h0m7.5-0.5h0m-7.5 1h0m14.5-4h0m-15 1h0m12 3.5h0m1-1.5h0m-13-2.5h0m13.5 3h0m27.5 1h0m31 3.5h0m-72-2.5h0m31-1.5h0m-30.5-4h0m6 2h0m5.5 0h0m-12 3h0m1-3h0m23 3h0m58.5 5h0m-76-7h0m-2-2.5h0m17 2.5h0m-0.5 2h0m-10-2h0m3.5-1.5h0m-4.5 2h0m68.5 5h0m-18.5-4h0m-60-1.5h0m0 0.5h0m8-0.5h0m-0.5-1h0m-1-0.5h0m48.5 4.5h0m-44-2h0m-5.5-2.5h0m44.5 6.5h0m-50-5h0m58 5.5h0m-30.5-2h0m-13-5h0m20.5 1.5h0m-33 0.5h0m2-2h0m40.5 3h0m-10.5 1.5h0m10-4h0m-37 0.5h0m14-2h0m-17.5 0.5h0m66.5 6.5h0m-58.5-5.5h0m26.5 5h0m-35-3.5h0m-3 1h0m19 1h0m-19-5.5h0m37.5 6.5h0m-36.5-5h0m13 3h0m-6.5-0.5h0m-7.5-2.5h0m31.5 0h0m-31.5 2.5h0m10.5-0.5h0m70 8.5h0m-42.5-5.5h0m-38-4.5h0m2.5-1.5h0m-1 2h0m-1.5-1.5h0m21.5 5.5h0m20.5 0.5h0m-40.5-3.5h0m-1.5-3h0m34 0.5h0m8.5 4.5h0m-22-4h0m-14 1.5h0m25 0h0m20.5 3h0m19 2.5h0m-59-3h0m-9-3.5h0m6.5 0.5h0m50 2h0m-7.5 0h0m-14 1h0m-37 1h0m6.5-5.5h0m1 2h0m-8.5 0h0m9-0.5h0m-3.5 0.5h0m43.5 0.5h0m32 4.5h0m-76-4h0m-2-2.5h0m0.5 0.5h0m6.5 1.5h0m-1-1.5h0m15 0.5h0m-18-1h0m28.5 3.5h0m-32-3h0m1-0.5h0m53.5 4.5h0m-46-1h0m-11 1h0m60 3h0m-44.5-7h0m22.5 4.5h0m-25-4h0m-3.5-1.5h0m20 3h0m43.5 8h0m-62-9h0m35.5 4.5h0m2-4h0m-1.5 3h0m-46-4.5h0m9 5.5h0m68.5-2.5h0m-6 3h0m-52-5.5h0m-10 0h0m25.5 4h0m-22.5 0.5h0m32-2.5h0m-17-4.5h0m-28.5 1h0m1 0.5h0m41.5 4.5h0m-35.5-4.5h0m-7-1h0m0 1.5h0m55 4.5h0m-51.5-1h0m17 2h0m-18-6h0m14.5 1h0m-16.5-1.5h0m0.5 3h0m16 0.5h0m-3.5-1h0m48 3h0m-61-3h0m4.5 1.5h0m-2-1h0m-1.5-1h0m-0.5 1.5h0m19 1.5h0m14.5-1h0m-34.5-5.5h0m4 3h0m25 3h0m2-2.5h0m-27 1h0m44.5 2.5h0m-27-5h0m41.5 6h0m-40-4h0m-9.5-2h0m-13.5 1h0m47 0h0m-34 4.5h0m29 1h0m39 1.5h0m-81-9h0m62.5 4.5h0m-50-1.5h0m-5-1.5h0m8 1h0m-15.5 0.5h0m6.5-1.5h0m44 2.5h0m-49-1.5h0m14-1h0m6 3h0m30.5 0h0m-51.5-1h0m28 1h0m-28 0h0m21-2h0m8.5 1.5h0m-11.5 2h0m-12.5-1.5h0m1 1h0m23.5 0h0m22-1.5h0m15 0h0m-28-3h0m-27.5 4h0m9.5-0.5h0m47.5 2h0m-67.5-3.5h0m27-0.5h0m-3 2h0m-3.5 0h0m-20.5-2h0m16.5 2h0m-17.5-4.5h0m5 1h0m21.5 5h0m23-1h0m-18.5-2h0m41 4h0m-72.5-6h0m4.5 1h0m0.5-1h0m61.5 7h0m-60.5-4h0m72 3h0m-73-5.5h0m48 3h0m-50-1h0m11-0.5h0m-7.5-3h0m37.5 6h0m-22-3.5h0m-20.5 0h0m24-0.5h0m-25 0h0m8 2.5h0m31.5 0h0m30 3.5h0m-22.5-1h0m-17.5-6.5h0m-26 0h0m-3.5 3.5h0m22 0h0m9.5 1h0m-17.5 0h0m-8-3.5h0m-6.5-2h0m0 3.5h0m10.5-2.5h0m5.5 3h0m1-3h0m44 5h0m-32-0.5h0m-1.5-0.5h0m-5.5-2h0m51.5 8.5h0m-23-7.5h0m-49.5 2h0m0-3h0m64 6.5h0m-59.5-3.5h0m-5.5-4.5h0m5-1h0m41.5 4.5h0m-45.5-1h0m57.5 1.5h0m15.5 2.5h0m-73.5-7h0m8.5-3h0m-9 7.5h0m67 2.5h0m-67-4.5h0m11.5 3.5h0m-11.5-6h0m68.5 4h0m-5.5 4h0m-51-6h0m36 4h0m-39.5-4.5h0m19.5 2h0m37 7h0m-55.5-7.5h0m-7-3h0m66 5.5h0m-21 1h0m-40-3.5h0m15 2.5h0m-17-5h0m14 1.5h0m58 7.5h0m-47-4.5h0m3 0.5h0m-1-3.5h0m-32-1h0m32.5 3.5h0m-32.5 2h0m74 1.5h0m-18-1h0m-17.5-2.5h0m-26.5-2h0m4.5 2.5h0m45 1.5h0m-39-3.5h0m-4-1.5h0m-19-2.5h0m24 5.5h0m-20-2.5h0m-2.5 1.5h0m48 0h0m20 2h0m-37.5-2.5h0m23.5 1h0m-47.5-2h0m0 2h0m-8-3.5h0m11 2h0m61 6.5h0m-35.5-3.5h0m-29.5-3.5h0m42 2h0m-18.5 1.5h0m-25.5-1h0m7-2.5h0m7-2.5h0m32.5 6h0m-35-4h0m12 1.5h0m40.5 5h0m-68.5-8.5h0m53.5 5h0m-54-5h0m1.5 0h0m42 7h0m-19.5-5.5h0m-21 1h0m10 1h0m29 4h0m-40-3.5h0m23 0h0m58 3.5h0m-4.5 0.5h0m-17-2h0m-56-3h0m9.5 1.5h0m33.5 2h0m-48.5-4.5h0m1.5 0h0m9.5 2.5h0m33 1h0m-30-2.5h0m-8.5 1h0m23-2h0m9-1h0m11.5 6.5h0m-45.5-5.5h0m36.5 5h0m-10.5-2.5h0m14-0.5h0m-37.5-2h0m42.5 5.5h0m23.5-1h0m-55-1h0m-9-0.5h0m74 5.5h0" stroke="#6a6a00" stroke-width="1.4" stroke-linecap="square"/><path d="M415.5 385.5h0m16-4.5h0m-17-5h0m-56-10h0m58 19h0m15.5-8.5h0m-36 3h0m-33.5-12.5h0m41.5 13.5h0m15 7h0m-22.5-10.5h0m-31-4.5h0m58 12h0m13.5 2h0m-7.5-8h0m-7 6.5h0m-46.5-14h0m6 11.5h0m-13.5-7.5h0m9.5 0h0m-15.5-2.5h0m65.5 17h0m-43-15h0m-24.5 0h0m43-1h0m2.5 5.5h0m1.5 2h0m-7-1.5h0m-7.5 8h0m15.5-11.5h0m-43-5.5h0m-9-1.5h0m80 13.5h0m-52-2.5h0m37 5h0m-60.5-11.5h0m-12-1.5h0m27.5 2h0m41 10h0m-30-13h0m20.5 8h0m29 1.5h0m-67-4h0m34.5 6.5h0m-30.5-9.5h0m15.5 3h0m-23-6h0m68.5 15.5h0m-15-4.5h0m-57-9h0m16.5 0h0m57.5 16.5h0m-53.5-11.5h0m43.5 5.5h0m-54.5-7h0m38 8.5h0m5-2h0m-24.5-8h0m-34 1h0m3.5 0h0m-4.5-2h0m60 7h0m-22.5 4.5h0m-43-16h0m28 1h0m-9.5-0.5h0m60.5 11.5h0m-5 2h0m-34-7h0m-25-7h0m7 11h0m47 0h0m-53-7h0m-14-1h0m36.5 2.5h0m32.5 6.5h0m-71.5-11h0m87.5 10.5h0m-23.5-2.5h0m-3.5 2h0m-6.5-1h0m-48.5-7.5h0m-6 4h0m61.5 9h0m-60.5-15.5h0m46 17.5h0m22.5-7.5h0m-69-11h0m43.5 7.5h0m-41.5-1.5h0m52 5h0m33.5 3.5h0m-15.5-4.5h0m-59-7h0m42 9.5h0m-28-2.5h0m2.5-3h0m-28.5-4h0m57.5 10h0m24.5-1h0m5.5 11.5h0m-13-10.5h0m-27-5.5h0m36.5 7.5h0m-40-3h0m-31-6.5h0m14-0.5h0m3.5 0.5h0m-25.5-2h0m28 5h0m-27-4h0m19.5 1.5h0m17 7.5h0m11.5-2.5h0m-51-8.5h0m4.5-1h0m-7.5 1h0m29.5 6h0m58 8.5h0m-35.5-9h0m-53-5h0m79.5 5h0m-1 10.5h0m-17.5-7.5h0m-61-10.5h0m72 12.5h0m-36-4.5h0m-18-0.5h0m61.5 14h0m-77-20h0m12 6h0m30.5 0h0m-5.5 2.5h0m33 8.5h0m-50-16h0m-18.5 4.5h0m51.5 11h0m13 5h0m-60-23h0m69 19h0m-38-11.5h0m33.5 6h0m-55-6.5h0m-9.5-5h0m15-2h0m7 5.5h0m54.5 12h0m-63-4.5h0m53.5-2.5h0m-19.5 5.5h0m-50.5-7.5h0m-6-6.5h0m8.5 8.5h0m54.5 0h0m-51-13h0m50 17h0m-13.5-4h0m-49.5-14h0m50.5 12h0m-39.5-9h0m33 10.5h0m-8-3h0m-23.5-8h0m13 3h0m-16-1.5h0m42.5 10.5h0m-8.5-5.5h0m16 7h0m-12.5 1.5h0m-47-6.5h0m37.5 1h0m-27.5-3.5h0m-9-0.5h0m60.5 7h0m9.5 4.5h0m20.5 2h0m-34-9.5h0m32.5 14h0m-13.5-3.5h0m-55-18h0m41 13h0m-60-8.5h0m6-5.5h0m60 13h0m-6.5 1h0m-0.5 5h0m-61-18h0m54 12.5h0m14-2h0m-67-11.5h0m71 20.5h0m-69.5-11.5h0m83 6.5h0m-6.5-2h0m-54-8h0m-2.5 4.5h0m-2-7h0m-18.5 3h0m21.5 1h0m-7-4.5h0m32 10.5h0m-38-12h0m21.5 8h0m38 5.5h0m14.5 2h0m-43.5-8h0m-5-3.5h0m11.5 5.5h0m-2.5-10h0m10.5 6.5h0m25.5 5.5h0m4.5 4h0m2 2h0m-69-16.5h0m-17-6.5h0m4.5 13.5h0m72 10h0m-20.5-10.5h0m-42-3h0m-16-7.5h0m1.5 3.5h0m32 8h0m15.5 6.5h0m-45-13.5h0m56.5 8.5h0m-31-9h0m24 9.5h0m-36.5-11.5h0m30.5 9.5h0m-18.5-1.5h0m46.5 5h0m-21-1h0m-11-4.5h0m-33.5-5h0m17-4h0m17 12h0m-42.5-11h0m15 2.5h0m-11 3h0m9.5-3.5h0m3 5.5h0m66 13h0m-83.5-20h0m42.5 4.5h0m-40-5h0m57 9h0m-60-8.5h0m29 4.5h0m27.5 6h0m-28.5 2h0m26.5-8.5h0m-43.5 4.5h0m22.5-1h0m-12-1.5h0m-16-2.5h0m42.5 9.5h0m25 0.5h0m17 1.5h0m-47.5-9h0m-34.5-4.5h0m38.5 5h0m-1 2.5h0m-17-3h0m-27-5.5h0m52.5 9.5h0m-33.5-6h0m15.5 5.5h0m33 8h0m-20.5-9h0m-34.5-4h0m-7.5-2.5h0m46.5 9.5h0m-20.5-2.5h0m-7.5-5.5h0m-8.5 3h0m2-0.5h0m50.5 8.5h0m-43.5-10.5h0m-23-3h0m7-4h0m41.5 11.5h0m-31 1.5h0m7-6.5h0m62.5 8.5h0m-40.5 2h0m-47-8.5h0m61.5 4h0m11 2.5h0m-15.5 0h0m-56-11h0m5 0.5h0m50 10.5h0m-56.5-17.5h0m31 9h0m29 5.5h0m-54.5-8h0m39.5 10.5h0m-18-1.5h0m-2.5-7.5h0m21 4h0m28.5 13.5h0m-50.5-12.5h0m-23.5-1.5h0m-1.5-5.5h0m33.5 9h0m51.5 4.5h0m-59-8.5h0m57.5 12h0m-26.5-4h0m32.5 7.5h0m-82-18.5h0m55.5 9h0m-11.5-9.5h0m-50.5-3h0m73 15h0m-11.5-4.5h0m-1.5 1.5h0m-14.5-1.5h0m-20-0.5h0m-26.5-10h0m56 8.5h0m-47-6.5h0m51 13h0m-15-2h0m-7.5-7.5h0m-11 8h0m16-6h0m41 7.5h0m-16 3.5h0m-57.5-17.5h0m70 15.5h0m-35-6.5h0m19 5.5h0m-17-3.5h0m-24-12.5h0m-6 3h0m57.5 10h0m-31-0.5h0m12-1h0m-28.5-3h0m51.5 10h0m-11-3h0m-43.5-11.5h0m17.5 2.5h0m-26 4.5h0m-6-8.5h0m48.5 12.5h0m-45-11h0m44.5 10h0m5.5-0.5h0m-37.5-2h0m27 2.5h0m23.5-2h0m-12.5 6.5h0m13.5-3.5h0m7 3h0m-18-5h0m1-3.5h0m-12 3h0m-55-7.5h0m33.5-0.5h0m6.5 6h0m-7-6.5h0m-14.5-1.5h0m24 13h0m42 10.5h0m-40-15h0m30.5 5.5h0m-71-9.5h0m28 2h0m-25.5-9h0m68 19.5h0m-41.5-15h0m-1.5 4h0m13-2h0m-10.5-4h0m-10 6.5h0m29.5 1.5h0m-37.5-5.5h0m58 15h0m9-2h0m-51.5-10.5h0m1.5-1.5h0m-33-8.5h0m17 9.5h0m-0.5-3.5h0m51 11h0m-63-13.5h0m30 11.5h0m41 0h0m-21 1.5h0m-33.5-13h0m-17.5 6.5h0m51.5 5.5h0m-48.5-4.5h0m-4.5-8.5h0m76 20.5h0m-4-10h0m-31.5-1h0m6.5 3.5h0m30 2.5h0m-70-9.5h0m0-5h0m76 14.5h0m-80-10.5h0m23 5.5h0m27 0h0m31.5 7h0m-86-15h0m17.5 3h0m57.5 10h0m-1.5 3.5h0m-4 5.5h0m-6.5-3.5h0m23.5-3h0m1 1h0m-41.5-4h0m-44-7h0m44.5-3h0m17 11.5h0m-37-2.5h0m11 0h0m2-2h0m-39.5-12.5h0m11 1h0m-0.5 7.5h0m23 2h0m-30-5.5h0m33 5.5h0m23.5-4h0m26.5 11.5h0m-36.5-7.5h0m-21.5-6.5h0m-4 1h0m-24.5-0.5h0m24.5 2h0m46.5 12h0m-10-9h0m-15.5 4.5h0m-34.5-14h0m75 18.5h0m-38-6h0m-47.5-8h0m-1-1h0m74 12h0m-63.5-8h0m37.5 7h0m-39-4.5h0m0.5-4.5h0m66.5 8.5h0m-44.5-5.5h0m9 5.5h0m-35.5-10.5h0m33.5 7.5h0m31 5h0m-42.5-14h0m15.5 7h0m-42-4h0m70.5 6.5h0m8.5 4.5h0m-10-2.5h0m-4.5 2.5h0m-25-4h0m4.5-1.5h0m-14 0h0m57.5 6.5h0m-40.5-3h0m-39.5 0h0m32.5-3.5h0m-7.5 2.5h0m2 3.5h0m32 0.5h0m-18-7h0m28 10h0m2.5-3.5h0m-28.5-5h0m-36.5-2.5h0m53.5 6h0m-52-6.5h0m35.5 8h0m25 3h0m-24.5-8.5h0m-45-9h0m44 8.5h0m36 12.5h0m-9-6.5h0m-58.5-7.5h0m50.5 10h0m-2.5-8h0m-20.5 3h0m15.5-1h0m-60.5-9.5h0m46.5 8.5h0m10-0.5h0m26 9.5h0m-83.5-16.5h0m86 18.5h0m-86-20.5h0m70.5 17.5h0m-38.5-16.5h0m-32.5-2.5h0m48 7.5h0m-9 2.5h0m-12.5-0.5h0m-26.5-3h0m84.5 12.5h0m-78-16h0m29 9.5h0m-35.5-12h0m79 11.5h0m-79.5-4h0m17.5-5h0m32.5 6h0m22 7h0m-43-9h0m55.5 9.5h0m-76.5-12.5h0m27.5 6.5h0m-35.5-7h0m79.5 9.5h0m-7 2.5h0m-63-18h0m1 9.5h0m67 6h0m-48.5-5h0m49.5 11h0m-54-10.5h0m36.5 7h0m-34-5.5h0m0 1.5h0m-15-4.5h0m17.5 5h0m-7-7.5h0m61.5 15h0m-21.5-5h0m-42.5-8.5h0m24 1.5h0m-26.5-7h0m28.5 12.5h0m-20.5-2.5h0m-4.5-6h0m5 4.5h0m30.5 5.5h0m-5.5-4h0m-14 1.5h0m3-0.5h0m-10.5-3h0m-29.5-5h0m68.5 9h0m-66.5-11.5h0m21.5 1h0m-22 4.5h0m64 7.5h0m-62.5-11h0m12 0.5h0m71 17.5h0m-75.5-20h0m12-0.5h0m3.5 6h0m32.5 0.5h0m23.5 11h0m-38-11h0m10-0.5h0m34.5 8.5h0m-42 1.5h0m-9.5-11h0m-12-2.5h0m-17-1h0m55.5 7.5h0m-34.5-4.5h0m49 7.5h0m-25-2.5h0m-12.5-1h0m-5.5 2h0m28 6h0m-38-17.5h0m7.5 5h0m15.5 0h0m18 5h0m-39-10h0m41 15h0m-47-14.5h0m-9 6h0m78 13.5h0m-88-17h0m56 8.5h0m-38-2.5h0m56.5 8h0m-76.5-15h0m77.5 11h0m-76-13h0m89.5 22h0m-35-10.5h0m7 7h0m-36-12h0m10.5 5h0m5.5 3h0m-28.5-9.5h0m12.5-5.5h0m-2 9h0m-23-8h0m44 2h0m38 14h0m-23-4.5h0m-50.5-4h0m80.5 15.5h0m-78.5-16h0m-11.5 3h0m12.5-4.5h0m-13.5-2.5h0m88.5 13.5h0m-53-3h0m-4-3h0m29.5-0.5h0m-34-4h0m54.5 11h0m-35.5 1.5h0m-29.5-12h0m-14 3h0m14.5-5.5h0m-9 3h0m13.5 4h0m-1-7h0m10 0h0m-1 5h0m55.5 9.5h0m-81-14h0m76.5 12h0m-50-13.5h0m-19.5-2h0m58 12.5h0m14.5-2.5h0m-83-12h0m44 9.5h0m-43.5-3h0m54.5 9h0m-43-10h0m47.5 12h0m-25.5-10h0m32.5 11h0m-2-3h0m-27.5-4.5h0m-22.5-8h0m-3.5 3.5h0m57 8.5h0m18.5-1h0m-79-5.5h0m63.5 6h0m-68-8h0m34 1.5h0m-1.5 3.5h0m-1.5 0.5h0m54.5 7h0m-74.5-16.5h0m18.5 7.5h0m-7-1.5h0m34 8h0m-53-12h0m-7-3h0m62 16.5h0m-35-14h0m30 7.5h0m23 11.5h0m-53.5-21.5h0m7.5 13.5h0m-22.5-10h0m50.5 8.5h0m-19.5-1.5h0m-29-8.5h0m62.5 10.5h0m-72-9h0m-4-6h0m52.5 10h0m-5 1.5h0m-16-7h0m38 10h0m-43.5-7h0m54.5 12.5h0m-6-0.5h0m-18-2.5h0m-34.5-14h0m-16.5 5.5h0m18.5-2.5h0m57.5 13h0m-76-15.5h0m-4 2.5h0m84 18h0m5.5-8h0m-16-5h0m-42-7h0m14 8.5h0m-6 3h0m-21-9h0m-18.5-1.5h0m2.5 3h0m27.5 2h0m-17-1h0m60.5 11.5h0m-13.5-12.5h0m4 7.5h0m-22-4.5h0m8-2.5h0m16.5 5.5h0m-32-7h0m-6.5-1.5h0m29 12.5h0m-31.5-5h0m55.5 5.5h0m-58.5-10h0m14 2h0m11.5 5.5h0m-48-8.5h0m26 6.5h0m26.5-1h0m13 6.5h0m-5-7h0m-5.5 4h0m16 7h0m-13.5-6h0m-13-2.5h0m-3.5 0.5h0m-36.5-6h0m15-4.5h0m-18 4.5h0m18-1.5h0m59.5 9.5h0m-16.5 2.5h0m-0.5-2.5h0m21 1h0m-48-10h0m-21-3.5h0m14 3.5h0m4 0.5h0m-30-3h0m21 4h0m53.5 16h0m10-2h0m-56.5-11h0m57.5 4h0m-24 1h0m-10-3.5h0m-36.5-6h0m33 6.5h0m-39-11.5h0m-12.5 2h0m68.5 15h0m-24.5-5h0m-30-10.5h0m57 8.5h0m-42.5-6h0m-28-7h0m28 8.5h0m39 3h0m-34.5-8h0m-14.5 3h0m12-4.5h0m40 11h0m-63-12h0m72.5 12h0m-43-4.5h0m31 2.5h0m15 8.5h0m-42-8.5h0m19.5 7h0m4.5 0.5h0m-5.5-3h0m-28-11.5h0m26.5 9h0m-7.5-4h0m-20.5-1h0m40.5 9.5h0m18.5 2.5h0m-51.5-3.5h0m16.5-2.5h0m-24-3h0m52.5 12.5h0m-66.5-24h0m56.5 20.5h0m-32.5-10h0m-35-6h0m4 3h0m35-1h0m30.5 14.5h0m11-2h0m-10.5-4h0m14 2h0m-69.5-15.5h0m-9 4.5h0m39 4.5h0m14.5 7h0m-7 1.5h0m-21.5-4.5h0m-19-12.5h0m71.5 17.5h0m-21.5-5.5h0m-43-5.5h0m39.5 9h0m-61.5-12h0m26 7h0m3-8h0m15.5 9h0m-26-6h0m4.5 4h0m-21.5-15h0m66.5 18.5h0m-30-0.5h0m-10-1.5h0m-7-5h0m6.5 2.5h0m-21.5-4.5h0m56.5 13h0m-48-13h0m40.5 5h0m0.5 8h0m-12-7h0m-10.5 0h0m-20.5-8h0m43.5 5.5h0m-42-4.5h0m-0.5 2.5h0m17.5 0.5h0m45.5 7h0m-1.5 6.5h0m-70-13.5h0m10.5 1h0m69.5 6h0m-4 6h0m-5 5.5h0m-21-16h0m-13.5-3.5h0m5 1h0m-2.5 1h0m25 10h0m-40.5-14h0m51.5 12.5h0m-23.5 1h0m-25.5-12h0m33.5 5.5h0m-41-1.5h0m8 0.5h0m-19.5-6.5h0m-7 5.5h0m54.5 11h0m3.5-2.5h0m8-4.5h0m-63-6h0m71 9.5h0m-36.5-6.5h0m-16.5-4h0m22 1h0m2 3h0m32.5 13.5h0m-9.5-6.5h0m-62.5-12.5h0m6 7h0m7-0.5h0m-23-7h0m62 14h0m17.5-6h0m-69-6h0m57.5 12h0m21-4.5h0m-52.5-8h0m38.5 14.5h0m-35-10.5h0m44 9.5h0m-7-6h0m-49-9h0m13 4.5h0m37.5 16.5h0m-37.5-16.5h0m-39.5-5h0m-3-1.5h0m65.5 10h0m-15-4h0m-37.5-2.5h0m-12-3.5h0m46.5 6.5h0m-8.5 0h0m33.5 6h0m-42-10.5h0m-31-4.5h0m66 18.5h0m-16-9h0m-41.5-8.5h0m43 13.5h0m-20-4h0m-4-5h0m-26.5 2.5h0m43.5 1.5h0m45 5.5h0m-86.5-15.5h0m17 7.5h0m-11 3h0m61 2h0m-54-7h0m46 11.5h0m-21.5-5.5h0m18 0h0m-14.5 0h0m9.5 2.5h0m-52-14h0m46.5 11h0m-33.5-10.5h0m3 1.5h0m47.5 14h0m-46.5-11.5h0m-2 4h0m-1 0h0m41.5 1h0m-53-1.5h0m67 10.5h0m-44-4.5h0m-8-7h0m11-0.5h0m-20 0.5h0m71 10.5h0m-48-8h0m39 9.5h0m-67.5-15h0m-2.5-2.5h0m62.5 13h0m-17.5-4h0m-3.5-7h0m23.5 20.5h0m6.5-10.5h0m-70-7.5h0m24.5 3h0m62 13.5h0m-31-2.5h0m-16-11h0m41 11.5h0m-46.5-14h0m-10 2.5h0m-27.5-5h0m22.5 7.5h0m28 6h0m-5.5-1.5h0m31 0.5h0m-70-6.5h0m-4.5-6h0m-1.5-2h0m55 13.5h0m26 1h0m-68-10h0m53 7h0m24 7h0m-85-22h0m13 12h0m58.5 7h0m-44-5.5h0m3.5-6h0m-22 1h0m0.5 1h0m3.5-4.5h0m0 7.5h0m13.5 2h0m53.5 6h0m-3 0.5h0m-1.5-1.5h0m-65-7h0m31 4h0m-25-6.5h0m31 8.5h0m-16-12.5h0m20 11h0m-2-2.5h0m32 16h0m-57-16h0m-23-7.5h0m54 10h0m-54.5-10h0m80.5 18.5h0m-55-14h0m-9-6.5h0m-14-2.5h0m0.5 0h0m62.5 16.5h0m-4.5 0.5h0m-59-22h0m-5.5 5h0m48.5 16h0m0-1h0m39.5 4h0m-17.5 1h0m-64-13h0m19 0h0m-16.5-3.5h0m17 6.5h0m-22.5-5.5h0m54 11h0m21.5 6.5h0m-24-7.5h0m21.5 8h0m-46-2h0m18.5-8.5h0m-12.5 0h0m0.5-4h0m34 7h0m4 2h0m-52.5-11.5h0m39 8.5h0m-25.5-7.5h0m51 12.5h0m-50-11.5h0m-18-3h0m53.5 9.5h0m-50.5-0.5h0m24.5 0.5h0m35.5 4.5h0m-79-13.5h0m70 8h0m-69-10h0m10.5 10.5h0m22 2.5h0m-38-15h0m26 11h0m8.5-10h0m-32.5-4.5h0m4.5 10.5h0m46.5-1h0m-49-4h0m2-3h0m4.5 0.5h0m-5.5 1.5h0m-4.5 0h0m31 8.5h0m15.5-1.5h0m-37.5-2h0m57.5 4h0m-31 0.5h0m14.5 1h0m34 8h0m-19 0h0m5.5-6.5h0m-52.5-7.5h0m1.5-4.5h0m62 18.5h0m-34.5-15h0m13.5 8.5h0m21 2.5h0m-79-14h0m75.5 18h0m-68-15.5h0m34.5 8h0m-15-4h0m-3 3h0m-24.5-11.5h0m78.5 17.5h0m-8.5-4.5h0m-26.5-2.5h0m-9 1h0m-0.5 1.5h0m8.5-7h0m38 7.5h0m-53-6.5h0m-16-0.5h0m64 13.5h0m-9.5-8.5h0m18 6.5h0m-86-15.5h0m88.5 17h0m-24-6.5h0m-23 1h0m-6.5 2h0m15.5-4.5h0m37 10h0m-86-16h0m3-0.5h0m65.5 9.5h0m-2-2h0m-55.5-13h0m47.5 17h0m24 0h0m-63-7h0m40 6.5h0m7 1.5h0m-14.5-3.5h0m-21-5.5h0m44.5 7h0m-58.5-12.5h0m-12 7.5h0m55 4.5h0m-46.5-11h0m74.5 11h0m-3.5 4h0m-43-5.5h0m-34-11h0m-5 6.5h0m44 0.5h0m1 4.5h0m29.5 3.5h0m-66-14h0m8 4h0m-13.5-2.5h0m21.5 2h0m56 6h0m-1 0.5h0m-79-12.5h0m83.5 21h0m-8.5-5.5h0m-12.5-2h0m-59.5-13.5h0m65.5 11.5h0m-72-12h0m0 0.5h0m11.5 6h0m19.5 7h0m25 1h0m9.5 0h0m-56.5-9h0m20.5 2.5h0m27 10h0m-36.5-15h0m8 7.5h0m57 8h0m-46.5-3.5h0m-19.5-10.5h0m-20.5-4h0m22.5 7h0m27.5 7.5h0m-31-14h0m16.5 0.5h0m-32.5 3h0m14.5 3h0m-17.5-6h0m36 9.5h0m-19.5-4h0m25 6h0m37.5 6h0m-59-12.5h0m55.5 8h0m4 4.5h0m-41.5-15h0m9 5h0m-41-10.5h0m62 18h0m-49.5-12.5h0m45 9h0m-48.5-4.5h0m9.5 1h0m49.5 9.5h0m-58.5-12.5h0m36.5 9h0m-31-12h0m-20-0.5h0m5 2h0m18.5 3.5h0m40.5 6.5h0m-43.5-7h0m13-0.5h0m-21-2.5h0m37 8.5h0m28 1h0m-67-12h0m34 7h0m28.5 6h0m-56.5-14h0m15.5 0h0m52 15.5h0m-57-6.5h0m49 7h0m-51.5-2h0m64 3h0m-37.5-10.5h0m-48-2.5h0m77.5 12h0m-44.5-7h0m-7.5-5h0m-29.5-3h0m63.5 11h0m-49-7h0m42 7.5h0m18 0.5h0m-23-1.5h0m-36-8h0m-5.5-1h0m53.5 8h0m-37.5-1.5h0m22-6h0m-27.5-2.5h0m65 16h0m-46-10h0m-35.5-6h0m43 11.5h0m-31.5-7h0m-2-1h0m14-2h0m-17-1.5h0m33 2.5h0m32.5 10h0m-58-14h0m-0.5 6h0m38 6h0m31 2.5h0m-82.5-16h0m72 20.5h0m-52-13h0m-13.5-5.5h0m43 11.5h0m-17-2.5h0m-17.5-4h0m27 2.5h0m-46.5-4h0m50 5h0m3 5.5h0m-1-1h0m-15.5-7h0m-9.5-2h0m60 16h0m-34.5-8h0m-22.5-4.5h0m0 0h0m-7.5 0.5h0m-18-5.5h0m12.5 2h0m4.5 0.5h0m-9.5-6h0m-3 3h0m12.5 1.5h0m-17-6h0m10.5 7h0m3.5 1.5h0m25.5-1.5h0m24 7h0m-51.5-8.5h0m8 4h0m-9-6h0m24 6h0m-10.5 3h0m30.5 2h0m-24.5-4.5h0m43 5h0m-29.5-2h0m10.5-2h0m-13 0h0m-10-2.5h0m-12.5-0.5h0m54.5 9h0m-40.5-0.5h0m-12.5-7h0m-24.5-4h0m29.5 5.5h0m-17-6.5h0m29.5 2h0m-12.5 1h0m-28-9h0m82 23h0m-44-6.5h0m-21-8h0m35.5 9h0m-23-5.5h0m-7.5-4h0m45.5 9h0m-70-7h0m59.5 4.5h0m13.5-2h0m-67.5-7h0m56 10h0m-4-0.5h0m-54.5-10h0m29 5h0m49 14.5h0m-3.5-3.5h0m-61-15h0m21 6h0m53.5 10.5h0m-81-15.5h0m37.5 2.5h0m-10.5 4h0m18 1h0m-54-4.5h0m47 10.5h0m42 0h0m-13 3h0m-38.5-13.5h0m-15 1.5h0m-7.5-6.5h0m25.5 4.5h0m-36 1.5h0m35 8h0m-30.5-10h0m1 3.5h0m65.5 11h0m-29.5-13.5h0m40 10.5h0m-27.5-3.5h0m11 3.5h0m-28.5-4h0m11.5-0.5h0m-53.5-8h0m36 5.5h0m1-7h0m11.5 10h0m36 0h0m1 2h0m-21.5-2h0m16.5 3.5h0m-1.5 3h0m-55-17h0m13.5 3h0m16 5h0m-33.5-9.5h0m-20-1h0m48.5 12.5h0m4-0.5h0m-35.5-8h0m69.5 17.5h0m-33.5-11.5h0m-0.5 2.5h0m-41-14h0m64.5 16.5h0m-35.5-8h0m-28-3h0m2.5 2.5h0m30.5 6h0m-39-10.5h0m45 6h0m-45-5.5h0m67.5 13h0m-5.5-1h0m20.5 6.5h0m-67.5-11.5h0m6-2h0m-20.5-6h0m15.5 6.5h0m3-1.5h0m-3-4h0m1.5 4.5h0m36 5.5h0m-35-5h0m60 13.5h0m-33.5-6.5h0m-13-8h0m31.5 14h0m-62.5-16.5h0m-1-1.5h0m4 3.5h0m33 4h0m-40-6h0m71 9.5h0m-69-12h0m61 15h0m-1-1h0m15-2h0m-44.5-12h0m-34-4.5h0m68.5 20h0m-66-14.5h0m68 16h0m-61-14.5h0m-11-3.5h0m24.5 5h0m-10.5-2h0m54.5 10.5h0m-12.5-5.5h0m-13 1.5h0m-25.5-4h0m71.5 16h0m-70-18h0m16.5 4.5h0m-1 2.5h0m9.5-4h0m-22 0.5h0m1.5 0h0m-7.5-3.5h0m26.5 10.5h0m-13.5-5h0m29.5 4h0m-54.5-17h0m53 21.5h0m8-1.5h0m-62-12h0m69 16.5h0m-60-25.5h0m72.5 21h0m-11.5 2.5h0m-70-15h0m50.5 5.5h0m-53.5-10h0m86 16h0m-44-2.5h0m6-1h0m35.5 3h0m-17-3.5h0m-6 0h0m-12-1h0m-35.5-8.5h0m37 11h0m-40.5-11.5h0m23 8.5h0m45.5 3h0m5 8.5h0m-16.5-7.5h0m-60.5-4.5h0m78.5 12h0m-82.5-18.5h0m79 11h0m-75-11h0m18 5h0m18.5 1h0m42 9h0m-42.5-3h0m48 2h0m-61.5-15.5h0m55 13h0m-1.5 6.5h0m-74.5-23.5h0m2.5 7h0m3-1.5h0m36 8h0m22.5 5h0m16 1.5h0m-47.5-6h0m-37.5-9h0m40.5 5.5h0m-43-3h0m17.5-9.5h0m40 16h0m-36-6.5h0m13.5 8.5h0m3-6h0m-18.5 5h0m55.5 3h0m-24.5-9.5h0m-22-1.5h0m59.5 17h0m-51.5-9.5h0m-3.5-2.5h0m48 0.5h0m8.5 17h0m-60.5-18h0m-5.5-2h0m28.5 2.5h0m-44-5h0m12.5 2h0m-17.5-7.5h0m2 1h0m75 16h0m-34-8h0m-46-11.5h0m18.5 3h0m54.5 20h0m9.5 0.5h0m-82.5-23.5h0m12 13h0m-7.5-6h0m-4-6h0m43.5 7.5h0m-35-1.5h0m25.5 3h0m-31-8h0m65 19.5h0m-59-17.5h0m38.5 9.5h0m-7-5h0m-8.5 6.5h0m3-3.5h0m-30.5-4.5h0m20.5 6.5h0m-5.5-3.5h0m-0.5-1.5h0m16.5 7.5h0m-27.5-11h0m12.5 8h0m20 2.5h0m-37-10.5h0m80.5 17.5h0m-67.5-18h0m72.5 15.5h0m-12 6h0m-18.5-6.5h0m31.5 0h0m-66-13h0m1 2h0m-25-4.5h0m62 12h0m-28-7.5h0m33 6.5h0m10.5 0h0m-52.5-1.5h0m3-2.5h0m54.5 10.5h0m-17.5-6h0m-17 0h0m-43-15h0m39.5 12h0m-11.5-4.5h0m-23.5 3h0m-6.5 1.5h0m65.5 4h0m-50.5-3.5h0m-10-7.5h0m43.5 14h0m-37.5-10h0m67 14.5h0m-80.5-20.5h0m42 7h0m-25.5-4h0m21 6.5h0m43.5 2.5h0m-31.5 2h0m33 7.5h0m-57-15.5h0m-23.5 4h0m-3.5-7h0m29 2h0m-3.5 2.5h0m-10-1h0m64 14h0m-58-15.5h0m64.5 4h0m-3.5 10.5h0m-8 0h0m13-0.5h0m-43.5 0.5h0m22-10h0m14.5 10h0m-48-7.5h0m-9-6.5h0m-15.5-7h0m15 7.5h0m29.5 1h0m-41.5-3h0m-1 0h0m-4 1.5h0m-5.5-7h0m4 7h0m30 1h0m-27.5-6.5h0m19-0.5h0m7.5 8.5h0m28 6.5h0m-19-3h0m-8-3.5h0m22 4.5h0m-28.5-8.5h0m-20 2h0m26 0h0m29.5 2h0m-57-2.5h0m72.5 14.5h0m-39-16.5h0m43 12.5h0m-45.5-5.5h0m9 1h0m-44.5-11h0m86 16h0m-34.5-1h0m11-4h0m9.5-2.5h0m-51.5-6.5h0m45 16h0m-32-11h0m-1.5-2.5h0m6.5 5h0m-18.5-4h0m-12.5-3h0m51 11.5h0m-2-8h0m26 13h0m1-5h0m-5.5 5h0m-19.5-5.5h0m-57.5-13.5h0m45.5 12.5h0m-38-12h0m63.5 11h0m-64.5-7h0m57 5h0m10.5 4.5h0m-6.5 6.5h0m-37.5-14h0m-9-2h0m62 15h0m-35.5-16h0m4 3h0m2 12h0m-56-12.5h0m28-6h0m20 7h0m33.5 12.5h0m-25.5-5.5h0m-24.5-3h0m52.5 1h0m-4.5 2.5h0m-67.5-7h0m60.5 3h0m-2.5 3h0m-56.5-16h0m-12 3.5h0m39.5 8.5h0m-38.5-7.5h0m30.5 2.5h0m-23.5-2h0m20.5 6h0m-25-5h0m84 11.5h0m-19 0.5h0m-34-7.5h0" stroke="#d01010" stroke-width="1.5" stroke-linecap="square"/><path d="M351.5 368h0m-2 3h0m1.5-3h0m20 3h0m68 16h0m-64-11h0m-26.5-7h0m1.5 2.5h0m31 3.5h0m-22.5-5h0m30.5 5h0m-24 0h0m-16.5-3.5h0m1-4.5h0m6 0.5h0m55 14.5h0m-58.5-11h0m41 0h0m-44-1.5h0m30.5 5h0m-31-4h0m9 0h0m71 17.5h0m-78.5-17h0m4.5 3h0m62.5 6.5h0m-67-14h0m48 15h0m-46.5-11.5h0m54.5 13h0m-57.5-13h0m0-1.5h0m48.5 13h0m-45.5-14h0m6 3.5h0m15 3.5h0m14 4.5h0m-29-6h0m-4.5-1h0m47 5h0m-49.5-6h0m68.5 9.5h0m-66.5-13.5h0m4.5 4.5h0m-6.5-3.5h0m-2 0h0m1.5-0.5h0m51.5 13.5h0m-14-5h0m-12-2h0m24 6h0m-47.5-11h0m50.5 10.5h0m-53-7h0m30.5 4h0m-22-7.5h0m-9-1.5h0m11.5 6h0m-11.5-4.5h0m58.5 14h0m-58.5-14.5h0m-0.5 2h0m58.5 10h0m-55-10h0m8.5-2.5h0m0.5 3h0m-1 2h0m54 10.5h0m-60.5-16h0m0 1.5h0m-5-0.5h0m55.5 11.5h0m-52.5-4.5h0m4.5-4h0m-7.5-1.5h0m81.5 11.5h0m-37.5-4.5h0m-42.5-14.5h0m1 5.5h0m10.5 1h0m-3 1h0m-10-4h0m30.5 7h0m-24.5-4h0m43.5 6.5h0m41.5 7.5h0m-90.5-10.5h0m2-5.5h0m50 11.5h0m-52.5-5h0m63.5 5h0m-41.5-7h0m2-0.5h0m4.5 3h0m-28.5-4h0m4 1h0m87 14.5h0m-76.5-11.5h0m-14-8h0m59 17h0m23 2.5h0m-67-15h0m31.5 6h0m-30.5-3h0m39.5 6.5h0m9 1.5h0m6 0h0m-2.5-1h0m-59-11.5h0m-5-0.5h0m84.5 18.5h0m-74.5-18h0m9 4.5h0m-21.5-7h0m21.5 7h0m-22.5-7.5h0m65.5 12.5h0m-66-11h0m2-2h0m48 14.5h0m-25-7h0m-23.5-0.5h0m20.5-3.5h0m-22.5-1.5h0m0 3h0m38 7h0m-36.5-6h0m24 1.5h0m-0.5 0h0m17.5 11h0m-36-13h0m-6.5-3.5h0m34.5 7h0m-28.5-4.5h0m1-0.5h0m-7 3h0m6.5-0.5h0m0 0.5h0m13.5-1.5h0m65.5 13h0m-75.5-18.5h0m2.5 10h0m37.5 8.5h0m-49.5-12h0m2-3h0m5 2h0m2 0h0m50.5 9h0m-18.5-2h0m-20.5-2.5h0m24 1h0m-3-2h0m-42-7h0m16.5 2h0m12.5 8h0m-21-7h0m70 15.5h0m-51-7.5h0m55 2h0m-82-10h0m69.5 11h0m4.5 3.5h0m-8-3.5h0m-60-11h0m-3.5-4h0m77 17.5h0m-68-11h0m-5.5-1.5h0m13.5 0h0m20 6.5h0m-39.5-13.5h0m83.5 19h0m-83.5-12.5h0m21.5-3h0m-21.5-0.5h0m0 1.5h0m78.5 14h0m-68.5-13h0m-10 2.5h0m21.5 3h0m-3.5-4h0m-18-3.5h0m11-0.5h0m2 2h0m-4.5 7h0m-8.5-6h0m72.5 9.5h0m-30-2h0m-24.5-8.5h0m28.5 4.5h0m-9.5-1h0m3 6.5h0m3.5-2h0m37.5 10h0m-20.5-7h0m15 1h0m-73.5-14.5h0m6.5 6h0m80 12.5h0m-39.5-2.5h0m-49-17.5h0m19.5 6h0m29 11h0m-28.5-11h0m-17 0.5h0m42.5 7.5h0m-42.5-5h0m-3-4h0m2.5 2.5h0m62 11.5h0m-58.5-13.5h0m-5-0.5h0m20.5-0.5h0m-21.5-0.5h0m35.5 10h0m-33-9h0m52.5 7h0m-16.5-2h0m1.5-0.5h0m46 8h0m-82-15h0m32.5 6h0m0.5-1.5h0m-18.5-1h0m-18.5-6.5h0m32.5 7.5h0m19 3.5h0m-12.5 0.5h0m-37.5-5h0m13 2h0m-0.5-3.5h0m-12 2h0m-0.5-1.5h0m11 1.5h0m8.5 0.5h0m11.5 3.5h0m-12.5-2.5h0m59 9.5h0m-73-13h0m16 2h0m13.5 1h0m42 13.5h0m-66-16h0m15 6h0m60 8.5h0m-82-16.5h0m29 10.5h0m-1.5-3.5h0m-32-9h0m39 9h0m-36-7.5h0m12 5.5h0m15 1h0m-30-7.5h0m3 4h0m59.5 9.5h0m-54.5-8.5h0m3-4.5h0m19.5 4.5h0m-1 5.5h0m-4.5-1.5h0m14.5-4h0m33.5 11h0m-71.5-14h0m7 3h0m-5.5 0h0m46 10.5h0m10.5-2.5h0m7.5 0h0m-32.5-7h0m-34.5-6h0m9.5 8h0m10 1.5h0m-13.5-6.5h0m47.5 7h0m33 8.5h0m-83-11.5h0m18.5 5h0m-22-6.5h0m38.5 3.5h0m-33.5-7h0m85.5 17h0m-39-1.5h0m5.5-4h0m-32.5-7h0m-20.5-2.5h0m14.5 6.5h0m25 6h0m36 3h0m1 0h0m-80.5-17.5h0m4.5 0h0m61 15h0m-62-12h0m81.5 14h0m-40.5-5.5h0m-38-9.5h0m49.5 8.5h0m-55.5-11.5h0m19.5 6.5h0m40 5h0m-60-14.5h0m2 2.5h0m19.5 6h0m19 3.5h0m49.5 9.5h0m-27-0.5h0m-59.5-13.5h0m-0.5-3.5h0m-2.5 1.5h0m53 6h0m-46.5-8.5h0m-6 1.5h0m71.5 15h0m-56-12.5h0m26.5 3.5h0m-36-5h0m10.5 5.5h0m14 2h0m-29.5-10.5h0m20.5 7h0m54.5 8.5h0m2 0.5h0m-67.5-12h0m-10.5-2.5h0m32 6.5h0m-1-1h0m-30-6.5h0m5.5-0.5h0m0 4.5h0m27 2.5h0m-33 0h0m3.5 1h0m10 2.5h0m17 1.5h0m-2.5-3.5h0m-12-0.5h0m60.5 6h0m-78-13.5h0m0.5 1.5h0m30.5 4.5h0m-31-5.5h0m48 7.5h0m-41-5.5h0m-7 2.5h0m30 2.5h0m-18-2h0m35.5 4h0m-38.5-8h0m-8-1h0m29.5 6.5h0m-15-7h0m19.5 7.5h0m-35-6.5h0m21.5 4h0m46 4h0m15.5 7h0m1 0.5h0m-83.5-17h0m29.5 5.5h0m-30-5.5h0m13.5 4h0m-13.5-1.5h0m26 0.5h0m48.5 16.5h0m2-3.5h0m-54.5-5h0m-14-6h0m20 3.5h0m-28-5h0m83.5 9.5h0m-15 4h0m-48-12h0m-1-3h0m44 13h0m-63.5-17h0m20 7.5h0m25.5 5.5h0m45 11h0m-20.5-10h0m-41-7.5h0m29.5 8h0m8.5-0.5h0m-66-10h0m0.5 1h0m89 19.5h0m-3-2.5h0m-66.5-17.5h0m-20.5-2h0m67 10.5h0m-67-7.5h0m2-0.5h0m32 10h0m45.5 2h0m-20-7h0m-45-0.5h0m43 3.5h0m-50-12.5h0m-7.5 5.5h0m2-3h0m-0.5 3h0m-2-3.5h0m48.5 7h0m23.5 6h0m14.5 4.5h0m-83.5-15.5h0m-2.5 1h0m3.5-1.5h0m46.5 10h0m-50.5-9.5h0m27.5 3.5h0m34 6h0m-45-8.5h0m-10 6h0m-2-4.5h0m-2-4h0m-1-2h0m7 5.5h0m-4-2h0m30.5 4h0m-7 2h0m1.5-1.5h0m28.5 2.5h0m-39-5.5h0m-19-2h0m58.5 10h0m-58-15.5h0m30.5 16h0m-31-13.5h0m41.5 10.5h0m-21.5-5.5h0m-6.5 1.5h0m56.5 9.5h0m-18.5-5h0m0.5-1h0m-49-9h0m-2.5 0h0m26.5 10h0m55.5 9h0m-61.5-15.5h0m1 2.5h0m-21.5-2.5h0m6.5-1h0m-7-2h0m13.5 4h0m35.5 3.5h0m3 4h0m-39-6h0m-9.5-4.5h0m3.5-2.5h0m65.5 14.5h0m-65-6h0m12-1h0m58 12h0m-10-4.5h0m-40-5.5h0m-18-3.5h0m-8.5-8h0m14.5 8h0m69 12.5h0m-52.5-12h0m-13.5 4.5h0m-18.5-8.5h0m91.5 18h0m-65.5-10.5h0m9.5 1.5h0m-30.5-8h0m70 16h0m-41-11.5h0m49.5 11h0m-22.5-1.5h0m-48-13h0m49 10h0m-58.5-10.5h0m-2.5-4.5h0m28.5 9h0m-11-7.5h0m72 20.5h0m-66-10.5h0m62 8.5h0m-82.5-16.5h0m-2.5 2.5h0m41.5 5.5h0m-37.5-7h0m62.5 13h0m9-4h0m-74-7h0m-3-4h0m13.5 3.5h0m10 3.5h0m-20.5-6.5h0m60 12h0m-49.5-10h0m-10-5.5h0m39.5 15.5h0m-43-9.5h0m61 6h0m-30.5-3h0m-21.5 1h0m56.5 11h0m-30.5-15h0m25.5 11h0m-3.5-2h0m-57-15h0m15 6.5h0m47 8h0m-35-5.5h0m6 2h0m26 1.5h0m-31-0.5h0m-21-5h0m9.5 1.5h0m34 6h0m-50.5-15h0m90 21.5h0m-81-9h0m65.5 8.5h0m-74-18h0m75 17h0m-55-12.5h0m-6.5-2.5h0m-2 1h0m12.5 0.5h0m-4 7h0m4-8h0m-16 1h0m-8.5-6h0m16 6h0m67 15.5h0m-77.5-20h0m27.5 6h0m29.5 12h0m-55-16.5h0" stroke="#6a0000" stroke-width="1.4" stroke-linecap="square"/><polyline points="442.92,357.96 446.94,360.05 451.98,359.01 457.01,361.10 462.04,361.10 467.07,360.05 470.09,363.19 474.12,366.32 479.15,365.28 483.17,360.05" stroke="#1a1ad0" stroke-width="0.6" fill="none" /><path d="M443 358h0m4 2h0m5-1h0m5 2h0m5 0h0m5-1h0m3 3h0m4 3.5h0m5-1h0m4-5.5h0" stroke="#1a1ad0" stroke-width="1.8" stroke-linecap="square"/><polyline points="431.85,364.23 436.88,364.23 442.92,365.28 448.96,367.37 454.99,368.41 461.03,369.46 467.07,372.59" stroke="#b0b010" stroke-width="0.6" fill="none" /><path d="M432 364h0m5 0h0m6 1.5h0m6 2h0m6 1h0m6 1h0m6 3h0" stroke="#b0b010" stroke-width="1.8" stroke-linecap="square"/><polyline points="439.90,387.22 444.93,388.26 450.97,390.36 457.01,391.40 463.05,393.49" stroke="#e01010" stroke-width="0.6" fill="none" /><path d="M440 387h0m5 1.5h0m6 2h0m6 1h0m6 2h0" stroke="#e01010" stroke-width="1.8" stroke-linecap="square"/><rect x="346.30" y="307.80" width="140.90" height="104.50" fill="none" stroke="#333" stroke-width="1.1" /><line x1="346.30" y1="412.30" x2="348.10" y2="412.30" stroke="#333" stroke-width="0.7" /><line x1="487.20" y1="412.30" x2="485.40" y2="412.30" stroke="#333" stroke-width="0.7" /><text x="344.90000000000003" y="414.8" font-size="7.7" text-anchor="end" fill="#333" textLength="9.1" lengthAdjust="spacingAndGlyphs" >2.2</text><line x1="346.30" y1="391.40" x2="348.10" y2="391.40" stroke="#333" stroke-width="0.7" /><line x1="487.20" y1="391.40" x2="485.40" y2="391.40" stroke="#333" stroke-width="0.7" /><text x="344.90000000000003" y="393.90000000000003" font-size="7.7" text-anchor="end" fill="#333" textLength="9.1" lengthAdjust="spacingAndGlyphs" >2.4</text><line x1="346.30" y1="370.50" x2="348.10" y2="370.50" stroke="#333" stroke-width="0.7" /><line x1="487.20" y1="370.50" x2="485.40" y2="370.50" stroke="#333" stroke-width="0.7" /><text x="344.90000000000003" y="373.0" font-size="7.7" text-anchor="end" fill="#333" textLength="9.1" lengthAdjust="spacingAndGlyphs" >2.6</text><line x1="346.30" y1="349.60" x2="348.10" y2="349.60" stroke="#333" stroke-width="0.7" /><line x1="487.20" y1="349.60" x2="485.40" y2="349.60" stroke="#333" stroke-width="0.7" /><text x="344.90000000000003" y="352.1" font-size="7.7" text-anchor="end" fill="#333" textLength="9.1" lengthAdjust="spacingAndGlyphs" >2.8</text><line x1="346.30" y1="328.70" x2="348.10" y2="328.70" stroke="#333" stroke-width="0.7" /><line x1="487.20" y1="328.70" x2="485.40" y2="328.70" stroke="#333" stroke-width="0.7" /><text x="344.90000000000003" y="331.20000000000005" font-size="7.7" text-anchor="end" fill="#333" textLength="9.1" lengthAdjust="spacingAndGlyphs" >3.0</text><line x1="346.30" y1="307.80" x2="348.10" y2="307.80" stroke="#333" stroke-width="0.7" /><line x1="487.20" y1="307.80" x2="485.40" y2="307.80" stroke="#333" stroke-width="0.7" /><text x="344.90000000000003" y="310.3" font-size="7.7" text-anchor="end" fill="#333" textLength="9.1" lengthAdjust="spacingAndGlyphs" >3.2</text><line x1="346.30" y1="412.30" x2="346.30" y2="410.50" stroke="#333" stroke-width="0.7" /><line x1="346.30" y1="307.80" x2="346.30" y2="309.60" stroke="#333" stroke-width="0.7" /><text x="346.3" y="419.7" font-size="7.7" text-anchor="middle" fill="#333" >0</text><line x1="366.43" y1="412.30" x2="366.43" y2="410.50" stroke="#333" stroke-width="0.7" /><line x1="366.43" y1="307.80" x2="366.43" y2="309.60" stroke="#333" stroke-width="0.7" /><text x="366.42857142857144" y="419.7" font-size="7.7" text-anchor="middle" fill="#333" >2</text><line x1="386.56" y1="412.30" x2="386.56" y2="410.50" stroke="#333" stroke-width="0.7" /><line x1="386.56" y1="307.80" x2="386.56" y2="309.60" stroke="#333" stroke-width="0.7" /><text x="386.5571428571429" y="419.7" font-size="7.7" text-anchor="middle" fill="#333" >4</text><line x1="406.69" y1="412.30" x2="406.69" y2="410.50" stroke="#333" stroke-width="0.7" /><line x1="406.69" y1="307.80" x2="406.69" y2="309.60" stroke="#333" stroke-width="0.7" /><text x="406.6857142857143" y="419.7" font-size="7.7" text-anchor="middle" fill="#333" >6</text><line x1="426.81" y1="412.30" x2="426.81" y2="410.50" stroke="#333" stroke-width="0.7" /><line x1="426.81" y1="307.80" x2="426.81" y2="309.60" stroke="#333" stroke-width="0.7" /><text x="426.8142857142857" y="419.7" font-size="7.7" text-anchor="middle" fill="#333" >8</text><line x1="446.94" y1="412.30" x2="446.94" y2="410.50" stroke="#333" stroke-width="0.7" /><line x1="446.94" y1="307.80" x2="446.94" y2="309.60" stroke="#333" stroke-width="0.7" /><text x="446.9428571428571" y="419.7" font-size="7.7" text-anchor="middle" fill="#333" >10</text><line x1="467.07" y1="412.30" x2="467.07" y2="410.50" stroke="#333" stroke-width="0.7" /><line x1="467.07" y1="307.80" x2="467.07" y2="309.60" stroke="#333" stroke-width="0.7" /><text x="467.07142857142856" y="419.7" font-size="7.7" text-anchor="middle" fill="#333" >12</text><line x1="487.20" y1="412.30" x2="487.20" y2="410.50" stroke="#333" stroke-width="0.7" /><line x1="487.20" y1="307.80" x2="487.20" y2="309.60" stroke="#333" stroke-width="0.7" /><text x="487.2" y="419.7" font-size="7.7" text-anchor="middle" fill="#333" >14</text><text x="416.75" y="427.90000000000003" font-size="8.6" text-anchor="middle" fill="#222" >&#916;E/eV</text><text x="331.7" y="360.8" font-size="8.3" text-anchor="middle" fill="#222" transform="rotate(-90 331.7 360.8)" textLength="59.5" lengthAdjust="spacingAndGlyphs" >Pt-Pt distance/&#197;</text><rect x="352.80" y="313.50" width="16.00" height="5.00" fill="#e01010" stroke="none" stroke-width="1" fill-opacity="0.12"/><line x1="352.80" y1="316.00" x2="368.80" y2="316.00" stroke="#e01010" stroke-width="0.5" /><circle cx="354.30" cy="316.00" r="1.20" fill="#e01010" /><circle cx="367.30" cy="316.00" r="1.20" fill="#e01010" /><text x="372.8" y="319.0" font-size="8.4" text-anchor="start" fill="#222" >Pt<tspan font-size="5.6" dy="2">13</tspan><tspan dy="-2">H</tspan><tspan font-size="5.6" dy="2">0</tspan></text><rect x="352.80" y="326.00" width="16.00" height="5.00" fill="#b0b010" stroke="none" stroke-width="1" fill-opacity="0.12"/><line x1="352.80" y1="328.50" x2="368.80" y2="328.50" stroke="#b0b010" stroke-width="0.5" /><circle cx="354.30" cy="328.50" r="1.20" fill="#b0b010" /><circle cx="367.30" cy="328.50" r="1.20" fill="#b0b010" /><text x="372.8" y="331.5" font-size="8.4" text-anchor="start" fill="#222" >Pt<tspan font-size="5.6" dy="2">13</tspan><tspan dy="-2">H</tspan><tspan font-size="5.6" dy="2">18</tspan></text><rect x="415.80" y="313.50" width="16.00" height="5.00" fill="#1010d0" stroke="none" stroke-width="1" fill-opacity="0.12"/><line x1="415.80" y1="316.00" x2="431.80" y2="316.00" stroke="#1010d0" stroke-width="0.5" /><circle cx="417.30" cy="316.00" r="1.20" fill="#1010d0" /><circle cx="430.30" cy="316.00" r="1.20" fill="#1010d0" /><text x="435.8" y="319.0" font-size="8.4" text-anchor="start" fill="#222" >Pt<tspan font-size="5.6" dy="2">13</tspan><tspan dy="-2">H</tspan><tspan font-size="5.6" dy="2">26</tspan></text><line x1="415.80" y1="328.50" x2="431.80" y2="328.50" stroke="#000" stroke-width="1.5" stroke-dasharray="1.5 1.3"/><text x="435.8" y="331.5" font-size="8.4" text-anchor="start" fill="#222" >bulk</text><path d="M522.6 367.7H523.6V417.7H522.6zM523.6 363.2H524.3V409.3H523.6zM524.3 366.3H525.5V416.9H524.3zM525.5 365.6H526.0V415.4H525.5zM526.0 364.0H526.4V415.6H526.0zM526.4 364.8H527.3V415.3H526.4zM527.3 362.6H528.5V417.8H527.3zM528.5 370.3H529.6V413.9H528.5zM529.6 371.2H531.0V414.0H529.6zM531.0 365.7H531.5V408.2H531.0zM531.5 366.5H532.7V409.5H531.5zM532.7 366.6H534.0V413.5H532.7zM534.0 363.5H535.3V410.8H534.0zM535.3 372.8H536.2V409.8H535.3zM536.2 372.6H536.9V414.4H536.2zM536.9 370.5H537.5V416.5H536.9zM537.5 369.7H538.5V413.6H537.5zM538.5 363.7H539.1V414.6H538.5zM539.1 372.2H540.2V410.9H539.1zM540.2 370.1H541.3V415.7H540.2zM541.3 368.4H542.7V410.6H541.3zM542.7 366.4H543.8V408.4H542.7zM543.8 371.5H544.4V417.1H543.8zM544.4 365.0H545.1V415.2H544.4zM545.1 368.2H546.3V414.1H545.1zM546.3 370.5H547.1V407.7H546.3zM547.1 369.6H547.8V414.7H547.1zM547.8 366.3H548.4V411.2H547.8zM548.4 365.4H549.2V415.0H548.4zM549.2 375.4H550.1V416.3H549.2zM550.1 367.9H550.7V410.8H550.1zM550.7 372.2H551.5V416.6H550.7zM551.5 366.4H552.9V411.8H551.5zM552.9 369.3H554.1V417.1H552.9zM554.1 374.1H555.2V411.7H554.1zM555.2 372.6H556.2V416.0H555.2zM556.2 368.5H557.1V407.6H556.2zM557.1 375.6H557.7V412.1H557.1zM557.7 374.5H559.0V408.4H557.7zM559.0 376.2H560.1V411.0H559.0zM560.1 370.3H561.2V411.7H560.1zM561.2 375.0H562.2V416.9H561.2zM562.2 369.8H562.6V408.0H562.2zM562.6 377.8H563.8V413.9H562.6zM563.8 377.8H565.1V407.8H563.8zM565.1 371.6H566.0V416.2H565.1zM566.0 374.5H567.1V415.6H566.0zM567.1 371.0H568.1V414.3H567.1zM568.1 374.4H568.9V414.8H568.1zM568.9 376.7H570.0V414.9H568.9zM570.0 375.7H571.4V410.7H570.0zM571.4 378.0H572.3V415.6H571.4zM572.3 378.1H573.1V411.3H572.3zM573.1 374.6H573.7V416.0H573.1zM573.7 372.7H574.3V408.4H573.7zM574.3 374.5H574.8V414.5H574.3zM574.8 372.2H575.4V415.4H574.8zM575.4 373.7H576.3V412.3H575.4zM576.3 380.1H577.5V414.9H576.3zM577.5 377.0H578.4V412.8H577.5zM578.4 372.7H579.5V410.6H578.4zM579.5 378.6H580.0V412.9H579.5zM580.0 380.0H581.3V414.3H580.0zM581.3 379.4H582.1V412.8H581.3zM582.1 378.2H582.7V408.5H582.1zM582.7 381.7H584.0V411.7H582.7zM584.0 374.1H585.4V409.2H584.0zM585.4 381.2H586.7V409.2H585.4zM586.7 379.5H587.6V414.5H586.7zM587.6 374.8H588.1V413.1H587.6zM588.1 379.3H588.7V409.7H588.1zM588.7 375.0H589.5V408.3H588.7zM589.5 382.1H590.5V410.3H589.5zM590.5 378.8H591.2V408.3H590.5zM591.2 383.2H592.1V410.1H591.2zM592.1 377.0H593.1V412.1H592.1zM593.1 383.4H593.7V408.4H593.1zM593.7 378.8H594.2V411.3H593.7zM594.2 377.2H594.9V415.1H594.2zM594.9 379.5H595.5V411.3H594.9zM595.5 380.4H596.3V411.4H595.5zM596.3 379.0H597.7V414.4H596.3zM597.7 379.7H598.3V412.9H597.7zM598.3 379.2H599.0V413.5H598.3zM599.0 377.5H599.5V412.4H599.0zM599.5 383.6H600.8V415.4H599.5zM600.8 378.8H601.5V408.8H600.8zM601.5 384.4H602.8V413.1H601.5zM602.8 381.3H604.0V410.6H602.8zM604.0 386.0H605.4V411.0H604.0zM605.4 381.5H606.6V413.6H605.4zM606.6 385.7H607.9V414.8H606.6zM607.9 384.8H608.4V411.7H607.9zM608.4 385.4H609.4V410.5H608.4zM609.4 383.6H610.5V413.8H609.4zM610.5 386.6H611.8V409.6H610.5zM611.8 387.5H612.6V413.7H611.8zM612.6 385.8H613.8V411.1H612.6zM613.8 384.9H614.9V411.7H613.8zM614.9 382.0H615.3V415.0H614.9zM615.3 382.5H616.6V411.8H615.3zM616.6 387.6H617.6V414.5H616.6zM617.6 383.3H618.3V409.4H617.6zM618.3 387.3H619.5V409.4H618.3zM619.5 383.8H620.2V414.7H619.5zM620.2 385.0H621.5V412.7H620.2zM621.5 383.7H622.0V409.3H621.5zM622.0 383.7H623.4V410.1H622.0zM623.4 387.6H623.8V410.6H623.4zM623.8 384.2H625.1V410.2H623.8zM625.1 385.0H626.3V413.6H625.1zM626.3 384.9H626.9V409.8H626.3zM626.9 387.5H627.5V410.1H626.9zM627.5 389.0H628.2V410.3H627.5zM628.2 388.6H628.6V414.0H628.2zM628.6 388.9H629.9V409.2H628.6zM629.9 384.9H630.9V412.7H629.9zM630.9 390.4H631.8V409.5H630.9zM631.8 385.5H633.2V414.0H631.8zM633.2 388.9H633.8V414.4H633.2zM633.8 388.1H635.0V413.2H633.8zM635.0 388.5H635.9V412.8H635.0zM635.9 392.0H636.1V410.9H635.9z" fill="#f4a890" fill-opacity="0.28"/><path d="M522.6 379.6H523.9V411.1H522.6zM523.9 382.4H525.1V410.1H523.9zM525.1 382.8H525.5V410.2H525.1zM525.5 380.0H526.2V408.8H525.5zM526.2 382.4H526.9V412.8H526.2zM526.9 384.6H527.7V412.9H526.9zM527.7 380.6H528.5V408.1H527.7zM528.5 383.5H529.8V410.5H528.5zM529.8 383.8H530.8V415.0H529.8zM530.8 381.2H531.6V410.8H530.8zM531.6 384.6H532.5V411.8H531.6zM532.5 380.5H533.3V408.5H532.5zM533.3 382.6H533.9V414.4H533.3zM533.9 380.5H534.9V412.6H533.9zM534.9 384.9H536.1V410.2H534.9zM536.1 384.9H536.7V414.8H536.1zM536.7 386.2H537.6V408.9H536.7zM537.6 385.5H538.4V410.5H537.6zM538.4 385.2H539.5V411.4H538.4zM539.5 381.9H540.5V414.8H539.5zM540.5 384.3H541.7V414.1H540.5zM541.7 383.8H542.2V408.2H541.7zM542.2 381.6H542.7V413.1H542.2zM542.7 382.9H543.5V409.3H542.7zM543.5 381.1H544.9V410.7H543.5zM544.9 382.9H546.2V410.6H544.9zM546.2 384.2H547.1V409.2H546.2zM547.1 384.9H548.4V409.8H547.1zM548.4 384.0H549.1V413.1H548.4zM549.1 384.1H550.2V411.2H549.1zM550.2 386.5H550.9V414.2H550.2zM550.9 385.0H551.6V412.6H550.9zM551.6 384.1H552.1V413.1H551.6zM552.1 386.0H553.2V414.2H552.1zM553.2 387.4H554.1V411.9H553.2zM554.1 385.1H555.0V408.8H554.1zM555.0 384.1H556.0V409.1H555.0zM556.0 386.9H556.8V414.5H556.0zM556.8 383.2H558.0V409.2H556.8zM558.0 385.9H558.8V409.8H558.0zM558.8 388.1H559.8V413.1H558.8zM559.8 387.5H560.6V414.3H559.8zM560.6 388.7H561.7V412.0H560.6zM561.7 386.0H562.6V413.7H561.7zM562.6 386.5H563.0V412.0H562.6zM563.0 389.2H563.4V410.5H563.0zM563.4 387.7H564.3V414.1H563.4zM564.3 385.5H564.9V412.4H564.3zM564.9 385.2H565.7V409.9H564.9zM565.7 390.2H566.3V413.9H565.7zM566.3 388.3H567.2V408.4H566.3zM567.2 386.6H568.3V409.7H567.2zM568.3 389.5H569.4V408.7H568.3zM569.4 390.0H569.9V413.4H569.4zM569.9 389.6H570.9V411.0H569.9zM570.9 390.0H572.0V409.8H570.9zM572.0 390.4H573.0V410.0H572.0zM573.0 390.6H574.2V408.7H573.0zM574.2 387.5H574.7V412.5H574.2zM574.7 387.4H576.0V412.0H574.7zM576.0 388.1H576.5V410.3H576.0zM576.5 386.9H577.0V409.9H576.5zM577.0 386.2H578.0V413.5H577.0zM578.0 389.5H579.2V412.2H578.0zM579.2 390.1H579.9V411.4H579.2zM579.9 391.5H581.2V409.6H579.9zM581.2 387.7H582.5V410.6H581.2zM582.5 388.4H583.6V411.7H582.5zM583.6 388.2H585.0V412.6H583.6zM585.0 390.4H585.9V411.5H585.0zM585.9 388.3H587.0V412.6H585.9zM587.0 388.3H588.3V413.6H587.0zM588.3 389.9H588.9V411.6H588.3zM588.9 388.8H589.7V413.8H588.9zM589.7 389.2H590.3V412.9H589.7zM590.3 389.8H591.0V409.4H590.3zM591.0 388.6H591.7V413.9H591.0zM591.7 391.1H592.2V410.3H591.7zM592.2 390.3H593.3V410.4H592.2zM593.3 393.3H594.2V409.9H593.3zM594.2 392.3H594.8V410.4H594.2zM594.8 391.3H595.8V411.5H594.8zM595.8 392.4H596.6V410.2H595.8zM596.6 392.9H597.7V412.5H596.6zM597.7 393.7H598.2V412.9H597.7zM598.2 393.5H599.2V410.1H598.2zM599.2 391.0H599.8V411.5H599.2zM599.8 393.2H601.1V411.3H599.8zM601.1 393.6H601.6V412.8H601.1zM601.6 392.2H602.2V413.7H601.6zM602.2 392.2H602.9V409.1H602.2zM602.9 390.9H604.0V413.1H602.9zM604.0 392.4H604.9V409.7H604.0zM604.9 394.3H605.7V411.7H604.9zM605.7 393.1H606.2V409.4H605.7zM606.2 395.0H607.4V411.8H606.2zM607.4 394.8H608.4V413.4H607.4zM608.4 391.1H609.4V412.3H608.4zM609.4 393.0H609.9V410.2H609.4zM609.9 393.5H611.1V412.6H609.9zM611.1 392.2H611.9V411.6H611.1zM611.9 393.3H613.3V412.2H611.9zM613.3 392.1H614.3V410.3H613.3zM614.3 393.5H614.9V412.6H614.3zM614.9 396.1H615.5V412.8H614.9zM615.5 394.0H615.9V411.6H615.5zM615.9 393.5H616.6V412.5H615.9zM616.6 393.7H617.7V411.6H616.6zM617.7 394.2H619.0V410.2H617.7zM619.0 395.2H620.0V409.6H619.0zM620.0 393.3H621.0V410.8H620.0zM621.0 396.5H622.2V413.1H621.0zM622.2 395.0H622.9V410.4H622.2zM622.9 394.7H623.6V412.9H622.9zM623.6 395.5H624.7V409.6H623.6zM624.7 397.5H625.6V413.0H624.7zM625.6 396.8H626.4V412.1H625.6zM626.4 394.6H626.9V409.6H626.4zM626.9 394.1H627.9V409.7H626.9zM627.9 397.9H628.9V412.3H627.9zM628.9 395.7H630.1V411.5H628.9zM630.1 396.1H631.4V412.6H630.1zM631.4 398.1H632.4V411.4H631.4zM632.4 396.1H633.2V412.0H632.4zM633.2 396.2H634.4V412.0H633.2zM634.4 395.9H635.1V409.8H634.4zM635.1 397.8H636.1V411.6H635.1zM636.1 397.6H636.8V409.7H636.1zM636.8 396.8H637.7V409.7H636.8zM637.7 398.6H638.6V411.7H637.7zM638.6 397.2H639.1V410.5H638.6z" fill="#ece080" fill-opacity="0.14"/><path d="M522.6 341.9H523.8V410.4H522.6zM523.8 340.1H525.1V406.7H523.8zM525.1 342.1H525.6V398.4H525.1zM525.6 343.2H526.2V411.0H525.6zM526.2 336.7H527.2V412.0H526.2zM527.2 350.5H528.5V406.3H527.2zM528.5 341.9H529.7V405.8H528.5zM529.7 340.7H530.6V409.1H529.7zM530.6 345.4H532.0V409.6H530.6zM532.0 346.6H532.8V399.5H532.0zM532.8 350.3H534.0V400.4H532.8zM534.0 341.3H535.2V407.0H534.0zM535.2 351.2H536.1V401.1H535.2zM536.1 341.3H536.8V404.5H536.1zM536.8 348.2H537.7V410.8H536.8zM537.7 348.5H538.5V405.0H537.7zM538.5 353.8H539.3V408.3H538.5zM539.3 353.5H540.4V404.7H539.3zM540.4 346.9H541.6V412.1H540.4zM541.6 352.3H542.7V401.5H541.6zM542.7 344.7H543.7V401.4H542.7zM543.7 351.7H544.6V412.0H543.7zM544.6 347.1H545.6V400.8H544.6zM545.6 353.1H546.4V405.4H545.6zM546.4 350.8H547.6V406.9H546.4zM547.6 347.2H548.1V406.1H547.6zM548.1 351.6H548.9V403.2H548.1zM548.9 349.2H550.1V401.2H548.9zM550.1 351.6H550.9V408.1H550.1zM550.9 360.6H552.0V401.0H550.9zM552.0 349.9H552.5V404.1H552.0zM552.5 356.2H553.9V402.6H552.5zM553.9 351.4H554.4V404.1H553.9zM554.4 351.2H555.2V403.3H554.4zM555.2 359.1H555.7V402.1H555.2zM555.7 356.4H556.4V410.1H555.7zM556.4 361.1H557.4V402.2H556.4zM557.4 356.1H557.9V401.3H557.4zM557.9 362.0H558.5V400.8H557.9zM558.5 360.9H559.4V408.7H558.5zM559.4 353.6H559.8V402.1H559.4zM559.8 359.2H560.9V409.8H559.8zM560.9 357.3H561.6V404.7H560.9zM561.6 355.3H562.4V408.7H561.6zM562.4 359.8H563.0V407.1H562.4zM563.0 359.0H563.6V404.9H563.0zM563.6 354.7H565.0V408.1H563.6zM565.0 360.0H566.1V408.3H565.0zM566.1 366.2H567.2V403.0H566.1zM567.2 357.2H568.2V405.8H567.2zM568.2 360.9H568.9V402.5H568.2zM568.9 361.1H569.6V404.3H568.9zM569.6 361.0H570.7V403.4H569.6zM570.7 358.8H571.9V404.4H570.7zM571.9 364.3H573.0V407.8H571.9zM573.0 368.4H573.9V403.3H573.0zM573.9 367.9H574.6V403.2H573.9zM574.6 360.0H575.1V405.3H574.6zM575.1 361.7H576.1V401.5H575.1zM576.1 365.6H576.7V402.5H576.1zM576.7 367.3H577.9V403.3H576.7zM577.9 369.8H578.4V401.2H577.9zM578.4 364.2H579.8V402.2H578.4zM579.8 364.1H581.2V401.2H579.8zM581.2 372.2H581.9V403.0H581.2zM581.9 366.3H582.9V406.2H581.9zM582.9 365.3H583.9V405.0H582.9zM583.9 371.2H585.3V409.4H583.9zM585.3 368.8H585.7V402.3H585.3zM585.7 373.5H587.0V408.3H585.7zM587.0 371.8H588.2V402.1H587.0zM588.2 366.7H589.0V408.9H588.2zM589.0 374.4H589.7V405.8H589.0zM589.7 371.6H591.0V408.9H589.7zM591.0 368.0H592.1V403.7H591.0zM592.1 375.1H592.9V403.7H592.1zM592.9 372.7H593.7V409.1H592.9zM593.7 376.8H594.5V402.0H593.7zM594.5 369.6H595.3V406.2H594.5zM595.3 372.1H596.5V409.0H595.3zM596.5 375.2H597.5V402.0H596.5zM597.5 377.5H598.3V408.2H597.5zM598.3 373.6H599.5V406.1H598.3zM599.5 379.0H600.5V405.0H599.5zM600.5 378.6H601.7V407.7H600.5zM601.7 374.4H602.7V408.9H601.7zM602.7 374.1H603.3V407.8H602.7zM603.3 374.1H604.0V408.3H603.3zM604.0 379.8H604.4V403.2H604.0zM604.4 379.8H604.9V407.5H604.4zM604.9 381.1H606.0V409.1H604.9zM606.0 379.4H607.2V407.6H606.0zM607.2 377.0H607.8V408.8H607.2zM607.8 379.1H608.7V404.1H607.8zM608.7 381.9H609.9V405.7H608.7zM609.9 382.8H610.8V402.9H609.9zM610.8 380.0H611.2V403.4H610.8z" fill="#a8a8f0" fill-opacity="0.22"/><path d="M611.2 396.0H612.1V406.9H611.2zM612.1 393.9H612.9V408.9H612.1zM612.9 396.1H613.8V407.1H612.9zM613.8 396.2H614.3V408.2H613.8zM614.3 394.5H615.0V408.1H614.3zM615.0 394.6H615.7V406.9H615.0zM615.7 396.2H616.6V408.2H615.7zM616.6 394.3H617.7V407.4H616.6zM617.7 395.9H618.8V407.8H617.7zM618.8 395.6H619.7V409.5H618.8zM619.7 396.4H620.5V408.9H619.7zM620.5 395.5H621.3V408.0H620.5zM621.3 396.6H621.9V407.2H621.3zM621.9 396.6H623.1V409.9H621.9zM623.1 395.1H624.2V407.5H623.1zM624.2 396.0H625.2V408.4H624.2zM625.2 394.9H625.7V409.0H625.2zM625.7 394.8H626.9V407.4H625.7zM626.9 396.1H628.3V408.2H626.9zM628.3 395.2H629.2V409.5H628.3zM629.2 394.6H629.9V409.8H629.2zM629.9 395.6H630.6V407.7H629.9zM630.6 394.3H631.8V407.5H630.6zM631.8 395.5H633.0V408.2H631.8zM633.0 395.0H633.5V407.2H633.0zM633.5 395.4H634.1V409.6H633.5zM634.1 397.6H634.8V409.1H634.1zM634.8 396.4H636.1V408.4H634.8zM636.1 397.7H636.6V408.2H636.1zM636.6 396.5H637.8V409.4H636.6zM637.8 395.7H638.5V409.0H637.8zM638.5 397.7H639.7V408.4H638.5zM639.7 396.1H640.1V409.6H639.7zM640.1 396.0H641.2V409.3H640.1zM641.2 397.3H642.1V408.7H641.2zM642.1 396.9H643.2V409.7H642.1zM643.2 396.8H643.9V408.0H643.2zM643.9 397.1H645.0V409.9H643.9zM645.0 397.4H646.0V410.0H645.0zM646.0 397.6H646.6V409.6H646.0zM646.6 396.3H647.3V410.0H646.6zM647.3 396.4H647.9V408.9H647.3zM647.9 396.2H648.8V407.6H647.9zM648.8 398.4H649.2V407.5H648.8zM649.2 396.1H649.7V407.4H649.2zM649.7 396.6H650.6V408.4H649.7zM650.6 398.6H651.4V409.7H650.6zM651.4 397.0H652.2V407.7H651.4zM652.2 398.5H653.4V407.4H652.2zM653.4 397.2H654.6V409.3H653.4zM654.6 398.1H655.6V408.9H654.6zM655.6 398.5H656.3V409.0H655.6zM656.3 397.6H657.2V409.6H656.3zM657.2 397.1H658.5V409.0H657.2zM658.5 398.5H659.7V407.7H658.5zM659.7 397.6H660.3V409.4H659.7zM660.3 398.8H661.0V408.2H660.3z" fill="#a8a8f0" fill-opacity="0.18"/><line x1="521.60" y1="342.29" x2="661.00" y2="342.29" stroke="#000" stroke-width="1.5" stroke-dasharray="1.5 1.3"/><path d="M597.5 407h0m-2-1.5h0m-35-4.5h0m13 3h0m6.5-0.5h0m0.5 3.5h0m-54.5-6h0m20 2.5h0m-20.5-3h0m21 2h0m-21-4.5h0m1.5 0h0m81 9h0m-41-2.5h0m5-1.5h0m41 5.5h0m-11-2h0m-54.5-4h0m-15 1.5h0m-4-6h0m21.5 3.5h0m16.5 4.5h0m-26-4h0m19 1.5h0m-26.5-1.5h0m11 0.5h0m5.5-0.5h0m50 4.5h0m-73.5-3h0m60.5 3.5h0m5-1.5h0m22.5 1h0m-65-4.5h0m-17.5 0h0m90.5 6h0m-67.5-5.5h0m63.5 7h0m-65-8.5h0m49.5 5.5h0m2 0h0m-17.5-0.5h0m-4.5 0h0m-31-2.5h0m-16.5-0.5h0m84.5 6h0m-80.5-5h0m-12-6h0m1.5 1h0m77 6.5h0m-81-4h0m72.5 7h0m-44-3.5h0m52 1h0m-3 3h0m-42.5-5h0m26.5 3h0m-26-2h0m34.5 2h0m-24.5-1.5h0m32 2h0m3.5 0.5h0m14-1.5h0m-57.5-1.5h0m-8.5-2h0m68.5 4.5h0m-21 1.5h0m-60-8h0m69 6.5h0m-81.5-9h0m79 10h0m-11-0.5h0m17.5 2h0m-54.5-9h0m-21 1h0m12 3.5h0m-25.5-5h0m14.5-2h0m13.5 7.5h0m64.5 1h0m-34.5-3h0m-51.5-1.5h0m73 4h0m-73-7h0m29 7h0m-33.5-4h0m78 5h0m-13-1.5h0m-63-4h0m16.5 3h0m12-3.5h0m4 4.5h0m52.5 2h0m-91-8h0m17 4h0m18.5-1.5h0m-18.5 0h0m44.5 5.5h0m38.5 3h0m-54-6.5h0m55.5 4.5h0m-70-6h0m27 0h0m-40.5 2h0m58.5 3h0m-6.5-2h0m4.5-0.5h0m-49 0h0m22.5-3h0m-36.5-3h0m28 3h0m18.5 1h0m-55-5h0m35.5 6.5h0m-37-2.5h0m0-5h0m43.5 4h0m3 4.5h0m24.5 2h0m-44.5-7h0m58 7.5h0m-78.5-6.5h0m81.5 5h0m0.5 1.5h0m10.5 0.5h0m-57-7.5h0m2 1h0m24 6h0m-14.5-5h0m-6.5 2h0m-44-6h0m19 2h0m12 0.5h0m-7.5 3.5h0m59 3h0m16.5 2h0m-2.5-3h0m-97-8h0m25.5 1.5h0m34.5 2.5h0m-55-3h0m67 8.5h0m-72.5-10.5h0m26 5h0m21.5 0.5h0m13-0.5h0m-34-2.5h0m22 3.5h0m-19-2.5h0m-14.5 2.5h0m52 2h0m-39-4h0m-12 1h0m18.5-3h0m-16.5-1h0m21 6.5h0m42.5 2h0m5.5 0.5h0m-85.5-9h0m79 9h0m-56.5-3h0m21-3.5h0m36.5 4.5h0m9.5 1.5h0m-17-1h0m-70-4h0m1.5-4h0m-8 1h0m29 1h0m19.5 3h0m-44.5-2h0m98.5 6.5h0m-57-5.5h0m35 6.5h0m18.5-1h0m-61.5-6h0m-11-2h0m48.5 5.5h0m-63.5-8h0m24 3h0m-33.5 2h0m7 0.5h0m15.5-2.5h0m2-1h0m62.5 6.5h0m-71.5-5.5h0m30.5 5.5h0m-25.5-4.5h0m20.5 4h0m52 4h0m-34.5-5.5h0m-6-1.5h0m-5 0h0m-49 0.5h0m58 1.5h0m1-1h0m-25.5-1.5h0m8.5 1h0m-21.5-4.5h0m20 3h0m22.5 5h0m-60.5-3.5h0m33 0h0m-22.5-3h0m10 0.5h0m46 3.5h0m30 6h0m-70.5-8h0m-5 0h0m-5 1h0m-14.5-1.5h0m26 0.5h0m-13.5-3h0m-7.5 3h0m41.5 3.5h0m22 0.5h0m-29-2.5h0m-21 1.5h0m72.5 3h0m3 1.5h0m-71-4.5h0m14.5-3.5h0m18 3.5h0m-13.5-3h0m-11-1.5h0m33 4h0m-40-1.5h0m22 3h0m-2 0.5h0m-5.5-4.5h0m-23-3.5h0m43 9h0m36.5 1.5h0m-22.5-1.5h0m18-0.5h0m-82-6h0m29.5 5h0m-35-4.5h0m32.5 2h0m14.5 1h0m-29.5-3h0m-15-4h0m60 9.5h0m-44.5-7h0m20.5 2.5h0m-24-3h0m7 2h0m71 7h0m-23-3h0m-13 2.5h0m-24-7.5h0m35.5 4.5h0m-24.5-2h0m1 3h0m5-2h0m25.5 4.5h0m-19.5-0.5h0m33 2h0m-96-9h0m9-1.5h0m24 1.5h0m59.5 5.5h0m-23 1.5h0m-61.5-5.5h0m16.5-1.5h0m21 4h0m-35-7h0m15.5 5h0m48 2h0m-15-1h0m-4 2.5h0m-38-5.5h0m-2-3h0m7 5h0m-8.5-3.5h0m10 3.5h0m70.5 4h0m-74.5-3h0m43 2h0m37.5 1.5h0m-3-0.5h0m-76-4h0m46 3.5h0m-30.5-2h0m4 0.5h0m6.5-3.5h0m18 6h0m-9.5-3.5h0m-39-4h0m29.5 3h0m-44.5-2.5h0m66 7.5h0m6.5 0.5h0m-26-7h0m-15.5-1.5h0m54.5 7.5h0m-74-9.5h0m11 3h0m67 8.5h0m-40-5.5h0m17-0.5h0m23.5 6h0m-4-0.5h0m5-3h0m-61-3.5h0m63 3.5h0m-1.5 0.5h0m-93.5-7.5h0m6-2h0m15 1.5h0m27 5.5h0m47.5 2.5h0m-56-1.5h0m-33-2.5h0m32 2h0m-26-5.5h0m64.5 7h0m-4 2h0m12-2.5h0m-3.5 1.5h0m-77-8h0m7.5 4h0m13 0.5h0m-6-0.5h0m53.5 1h0m-49.5-3.5h0m-23-2h0m65 9.5h0m-58-6.5h0m26 1h0m57 4.5h0m-66.5-2.5h0m69 4.5h0m-36.5-3h0m-48-3h0m63.5 2.5h0m-37.5-3h0m6 0.5h0m21.5 3.5h0m-44-7h0m69.5 10h0m-49.5-7.5h0m-33.5-2.5h0m-1 0h0m40.5 3.5h0m-34-1.5h0m36 4.5h0m-31.5-5.5h0m-9-0.5h0m74 7h0m-34.5-3h0m-42-4h0m76.5 5.5h0m-47-5h0m39.5 5h0m-69.5-4.5h0m1-4.5h0m92 13.5h0m-0.5 0h0m-61-9h0m40.5 3h0m-14.5 1.5h0m42.5 4h0m-15.5-4h0m-56.5-4h0m31.5 3.5h0m-1 1h0m-49-5.5h0m35 2h0m-31 2h0m-15-3.5h0m62.5 4h0m-16.5-3h0m-29 0.5h0m3-4h0m48.5 9.5h0m10-1h0m-5-2.5h0m-74-2.5h0m5.5 1.5h0m48.5 0h0m-52-5.5h0m31 6h0m-18-5.5h0m-12.5 1.5h0m19-0.5h0m48 7.5h0m-15.5-3.5h0m-29.5-0.5h0m-16-3.5h0m7 3h0m-13-5.5h0m85.5 8.5h0m-30.5-0.5h0m-15-4h0m53 6.5h0m-19.5 0h0m-42-2.5h0m-4-4h0m10.5 0h0m-18-0.5h0m56 4h0m-28.5-3h0m-0.5 4.5h0m-32-3h0m42 0h0m24.5 6h0m-15-1.5h0m-49.5-7h0m35 2h0m-42-3.5h0m56.5 6.5h0m-28-4.5h0m-15-2h0m-26-2.5h0m98.5 13.5h0m4.5-1h0m-86-8.5h0m-3-2.5h0m35 4.5h0m-18.5-0.5h0m-2 1.5h0m16 0h0m-39-6.5h0m34.5 4.5h0m52 7h0m-58-6h0m-18.5 1h0m3.5-5h0m33 6.5h0m-42.5-3.5h0m21-1h0m12.5 2h0m21 4h0m16.5-2h0m-21.5 0.5h0m-48-6.5h0m0 0.5h0m31 2h0m6 2h0m-45.5 0h0m81 2h0m-21.5-1h0m-28-3.5h0m-18-0.5h0m-16-0.5h0m30 2h0m32 3h0m-20.5-1h0m-41.5-4h0m0 0h0m20-1h0m-20-1h0m63 6h0m28.5 6h0m-86.5-7h0m8-2h0m67 7.5h0m-48-4.5h0m1-1h0m69 7.5h0m-38-6.5h0m-3.5-0.5h0m12.5 5h0m-42.5-6h0m-28 1.5h0m8.5-3h0m25 0.5h0m14.5 1h0m-45.5-2h0m-3.5 2h0m85 3.5h0m-46 0.5h0m-37-9h0m87 10.5h0m-89.5-10.5h0m23 2h0m29 4h0m14.5 3h0m-63.5-3.5h0m13-3.5h0m14.5 1h0m-6 0.5h0m-17-3.5h0m60.5 9h0m31 4.5h0m-63.5-9.5h0m-10-0.5h0m71 8.5h0m-23-0.5h0m-54.5-10h0m22 6h0m53.5 4h0m-32-4h0m-59-5h0m73 6h0m-73.5-3h0m63.5 2.5h0m3 2h0m-64.5-3.5h0m17.5-1h0m-4 1.5h0m-7-3h0m36.5 3.5h0m-48.5-3.5h0m4.5-1.5h0m20 3h0m-3 0h0m-17.5-5h0m86.5 8h0m-40 0.5h0m-20.5-1.5h0m-8-2.5h0m-19.5-1.5h0m31.5 2.5h0m-30.5-1h0m13.5-1.5h0m36 5.5h0m-47.5-4.5h0m90.5 7.5h0m-40-6h0m-31 0h0m54.5 2h0m20 5h0m-75.5-11h0m-11 3h0m85 4.5h0m-76.5-6h0m20 2.5h0m-25-1h0m63 5.5h0m-73.5-7.5h0m47 4h0m10 1h0m33.5 3.5h0m-30-2.5h0m-45-5.5h0m58.5 5h0m-47-3h0m24.5 4h0m3-2.5h0m15.5 4.5h0m25.5 0.5h0m-69.5-6.5h0m60.5 4.5h0m-45-4.5h0m-19.5-2.5h0m18.5 3h0m-42.5-4.5h0m56.5 7.5h0m-1.5 1.5h0m41.5 0.5h0m-68.5-7h0m66 8h0m-98.5-7.5h0m44.5 2h0m7.5 0.5h0m-14.5-0.5h0m37 2.5h0m-31.5-1.5h0m-42.5-2h0m33.5-2.5h0m-27.5-2.5h0m2 4.5h0m30 3h0m3-1.5h0m-5-1.5h0m-12 1h0m54.5 5.5h0m5-2h0m-21 0.5h0m38 2.5h0m-89.5-6.5h0m38-1.5h0m-33 0.5h0m-4.5-2h0m24 5.5h0m20 1h0m-2.5-1.5h0m13 2h0m5.5-2.5h0m-69-2h0m84 6.5h0m-62-7h0m-6-3h0m27 4h0m8 1h0m-1 1h0m30.5 1.5h0m-4-0.5h0m-57-5h0m-18 1.5h0m2-1h0m5.5-2h0m32.5 4.5h0m-36-2.5h0m3.5-1.5h0m53 4.5h0m38 4h0m-61-3h0m-18-3.5h0m-21.5-1h0m-2.5 1.5h0m80 2h0m-36.5-1h0m20.5 2.5h0m19 1h0m-79-3.5h0m69 3.5h0m-53-5.5h0m-9-0.5h0m60 3.5h0m-22.5 1.5h0m-42-7.5h0m74.5 9h0m-0.5 1.5h0m-12.5-3.5h0m34 5h0m-20.5-4.5h0m-59-7.5h0m15 5.5h0m42.5 3h0m22.5 0.5h0m-86-8.5h0m36.5 6h0m14 0h0m-56.5-2h0m3.5 0h0m-11.5-2h0m18.5 0.5h0m4-1h0m-3.5 2.5h0m63.5 2h0m-21.5 2.5h0m35-0.5h0m-6-1h0m-6.5 3h0m0-0.5h0m-18.5-4.5h0m6 1.5h0m-31.5-2.5h0m-22.5-1h0m18.5 0.5h0m50 7h0m-43-4.5h0m50 3.5h0m2 0.5h0m-97.5-11h0m70.5 6.5h0m-31.5-2.5h0m-10 3h0m18.5 0.5h0m-11.5-1h0m-16-5h0m7 2h0m24 3h0m-23.5-3.5h0m-25 1.5h0m74 4h0m-69-8.5h0m30 8h0m60.5 3.5h0m-33-2h0m-4.5-0.5h0m34.5 2h0m-34-2.5h0m-31-6.5h0m-19 1.5h0m12.5-1h0m-6.5-0.5h0m50 8h0m-26-2.5h0m-25-5.5h0m-15.5-1.5h0m80 6h0m-45 0.5h0m-31.5-4h0m66 7h0m-45.5-8.5h0m-16-1h0m64.5 9.5h0m29.5 2.5h0m-55.5-4h0m13.5-1h0m8.5-0.5h0m-59-4h0m55 2.5h0m-60-0.5h0m67.5 2.5h0m-41-6h0m-7 4.5h0m-3.5 0h0m28.5-0.5h0m6-0.5h0m10 0.5h0m-4 2.5h0m-16-2.5h0m26.5 3.5h0m-69-10h0m95 11.5h0m-91-8h0m47 4h0m47 2h0m-6 3h0m-9-2.5h0m-56.5-6h0m44.5 3h0m1 4.5h0m-71.5-7h0m-1.5 1.5h0m75 3.5h0m-19-1.5h0m-23.5-3.5h0m-30-1.5h0m52 6h0m-32.5-4.5h0m-10-2.5h0m33.5 5.5h0m11-1.5h0m5.5 4.5h0m2-3h0m18 4.5h0m-79-8.5h0m33.5 2h0m-14.5-2h0m47 7.5h0m-3.5-3.5h0m-56.5-7h0m35 4.5h0m23 5.5h0m-61-9h0m12 0.5h0m55 9.5h0m4.5-0.5h0m-76-9.5h0m48.5 8h0m-13-2.5h0m4.5-1h0m-14 1h0m-23.5-4.5h0m63 7.5h0m-24.5-0.5h0m41.5 2h0m-45.5-4.5h0m-30.5-6.5h0m75.5 9.5h0m7 0h0m-57.5-3h0m-0.5-2.5h0m-14 2.5h0m10-1.5h0m60.5 6.5h0m-12-4.5h0m18.5 5.5h0m-57.5-5.5h0m44 3.5h0m-34.5-1h0m-35.5-6.5h0m9.5 0.5h0m16 1.5h0m3.5-0.5h0m-29.5-4h0m60 9.5h0m-73-7h0m16.5 1.5h0m66.5 3.5h0m14 5h0m-36-7h0m8 4.5h0m-22.5-2.5h0m-4 0.5h0m60.5 2h0m-98-10.5h0m85 10h0m-24-1.5h0m34 4.5h0m-95-8h0m75.5 6.5h0m-30-4.5h0m48 5h0m-79.5-7h0m59 3h0m-8 1.5h0m-50-3h0m-6.5-5h0m39 7.5h0m-42-5.5h0m22.5 1.5h0m65.5 7h0m-75-6h0m-16.5-1h0m57.5 1h0m1 4.5h0m17 0h0m-77.5-6h0m23 0h0m35 4.5h0m39 4h0m-69-7.5h0m38.5 4.5h0m-32.5-6h0m-30.5 2.5h0m73 0.5h0m-74-6.5h0m22 3.5h0m30 3h0m-41-5h0m-18 3.5h0m90 5h0m-83-10.5h0m74 10h0m-80-7.5h0m9 0h0m70 7.5h0m-79.5-9h0m10 4h0m1.5 0h0m76 7h0m-32-3.5h0m-34.5-3.5h0m26.5 4h0m-28-2.5h0m-7-5.5h0m32.5 4.5h0m32 2h0m24 2.5h0m-73.5-5.5h0m13-1h0m2 3h0m-32-2h0m3.5-3.5h0m60.5 10h0m26.5 0h0m-28-4.5h0m26 6h0m-39-3.5h0m19-1.5h0m-77.5-8.5h0m12.5 2.5h0m62.5 8.5h0m5.5-2h0m-71.5-5.5h0m67 6h0m13.5 4h0m-26-6.5h0m-16 0.5h0m-37.5-6.5h0m75.5 10h0m-64.5-5.5h0m-19 0h0m10.5-1h0m-15.5-4h0m14 6.5h0m54.5 0h0m15.5 4.5h0m-83-9h0m92 7.5h0m-9-1h0m14.5 3.5h0m-2.5-0.5h0m-90-7h0m2.5 1.5h0m88.5 4h0m1.5 1h0m-86.5-10.5h0m53.5 6h0m11.5 4.5h0m-23.5-2h0m-30-5.5h0m-15.5-1.5h0m89 7.5h0m-65-7h0m67 11h0m-44-8h0m44.5 7h0m-48.5-7.5h0m-42-3h0m8.5-1h0m-6.5 0h0m-6 0.5h0m54.5 4.5h0m-21.5 1.5h0m-19.5-0.5h0m0.5 0h0m-19-3.5h0m70.5 3h0m18.5 4h0m-58-5.5h0m-25-1.5h0m80.5 6h0m-21.5 0.5h0m-61-9.5h0m18.5 5.5h0m75 7h0m-86-8.5h0m58.5 4h0m20.5 4h0m-36.5-5.5h0m-12 2h0m54.5 3.5h0m-7-0.5h0m-83.5-7h0m7-2.5h0m56 5h0m-49-1.5h0m-2.5 1h0m34-1.5h0m-41.5-1h0m26 2.5h0m26 0.5h0m-48-0.5h0m-2.5-2h0m-7-4.5h0m19.5 5h0m18.5 0h0m-37-2.5h0m7-2h0m17.5 4.5h0m-10.5-1h0m-3 1h0m-13-4.5h0m59 9.5h0m-35-5.5h0m72.5 6h0m-50.5-6h0m31 5h0m-33-5h0m-6.5-1h0m0 5h0m50 1h0m-47-5.5h0m34.5 4.5h0m-21.5 1h0m16 1h0m28.5-1.5h0m-22 2h0m-44-8.5h0m1 0h0m21.5 3h0m-39-4.5h0m73.5 11.5h0m-60.5-7h0m-6.5 0.5h0m13.5-2.5h0m38 5h0m-31-2h0m-11.5 1h0m19-2h0m42.5 3.5h0m-45.5 0h0m-28.5-5h0m5.5 1h0m4 0h0m24.5 4.5h0m-35-3h0m35-0.5h0m-54-6.5h0m24 6.5h0m46 0.5h0m18.5 6h0m-10-2h0m-59.5-6.5h0m45 6h0m21 1.5h0m13.5 0h0m-19-1h0m-46.5-6h0m-22 1h0m68.5 3h0m-8-1.5h0m7.5 2.5h0m-70.5-5h0m34 3.5h0m40.5 0h0m-83.5-3.5h0m81 3.5h0m-64-4h0m74.5 5.5h0m-72.5-7.5h0m23.5 3.5h0m-36.5 0.5h0m22.5-1.5h0m-18-3.5h0m41.5 6.5h0m-42.5-7h0m61 7h0m-50.5-2.5h0m-10.5-2.5h0m88 7h0m-39-3h0m-40-2h0m-19-4h0m73.5 10.5h0m18-1.5h0m-37.5 0h0m-36.5-7.5h0m5-0.5h0m36 6.5h0m-29-2h0m-12-2h0m45 2h0m-31 1.5h0m12.5-2.5h0m39 5h0m-24-3h0m-37-0.5h0m-19.5-7.5h0m56 6.5h0m-40-3h0m70.5 8.5h0m-80-9.5h0m81 7.5h0m-12.5-0.5h0m-16.5-2h0m7 1h0m34.5 5h0m-68.5-6.5h0m-33.5-5h0m50 7.5h0m18 1h0m-22-4.5h0m44 4.5h0m-47-5.5h0m39 4h0m-71-2h0m-4.5-1.5h0m71.5 3.5h0m-67-6h0m14 5h0m2-4h0m-4.5-0.5h0m2 3.5h0m-3.5-4h0m18 1.5h0m12.5 1h0m-49-4.5h0m39.5 4h0m-12.5 2h0m-28-6h0m6 5h0m25 0h0m57.5 5.5h0m-67-7.5h0m51.5 6h0m-17.5 0h0m0 1h0m-38-7.5h0m-9-1h0m31 3h0m-37.5-2.5h0m53.5 6h0m40.5 3.5h0m-97-7h0m28.5 3.5h0m-5.5-5.5h0m-12-0.5h0m45 6.5h0m7.5 0.5h0m-57.5-5.5h0m45.5 5.5h0m28 1.5h0m-59.5-8h0m32.5 5.5h0m35 0h0m-62-6h0m1.5 4.5h0m68 2.5h0m-63.5-2h0m36 3h0m1-2h0m-59-4h0m49 6h0m27.5 1h0m-40.5-2h0m55.5 1.5h0m-42-0.5h0m4-1.5h0m-34-4h0m10 3.5h0m25-0.5h0m-43-4.5h0m39 6h0m-6.5 0h0m26.5 2.5h0m-13.5-1.5h0m-61.5-4.5h0m7 0h0m5.5-1.5h0m-5.5-2h0m8.5 5h0m20.5 0.5h0m52 4h0m-95-10.5h0m91.5 8h0m-28.5 0.5h0m-58-7h0m64 8h0m-50-5h0m83 6.5h0m-62-4h0m-28-1.5h0m10-4.5h0m2.5 1h0m-19-2h0m-3-1h0m59.5 9.5h0m-33.5-4.5h0m29 0h0m-52-4.5h0m7 3.5h0m86.5 8h0m-67.5-9h0m47 5.5h0m-0.5 2.5h0m-12-0.5h0m30.5 1.5h0m-62-7.5h0m44 4h0m-66-4.5h0m16.5 3.5h0m35.5-1.5h0m35.5 6.5h0m-6.5-0.5h0m-59.5-4h0m-14.5-3h0m47.5 2h0m7.5 1.5h0m-23.5-4.5h0m12 4.5h0m-17-3.5h0m-40.5-3.5h0m13 3.5h0m45 3.5h0m20 1h0m18.5 3.5h0m-42-3.5h0m24.5-1.5h0m2.5 4h0m-44.5-4.5h0m57.5 5.5h0m-84-10.5h0m17.5 4.5h0m5.5-3h0m-1-0.5h0m0 4.5h0m5.5-3h0m-37.5-1.5h0m44 6h0m-44.5-7.5h0m51.5 6.5h0m-12.5-0.5h0m18.5-2.5h0m-33.5 2h0m-13.5-3.5h0m34.5 2h0m-10-1h0m28 5h0m5 0h0m-46.5-7.5h0m72 9.5h0m-53-7h0m-43.5-0.5h0m6.5-3h0m60 9h0m-13-1.5h0m38.5 2h0m-55.5-7h0m29.5 6h0m-34-7.5h0m48.5 6.5h0m-8 0h0m-13.5-4h0m-53-2h0m38.5 6h0m48.5 0h0m-53.5-3h0m51.5 6h0m-41-6.5h0m-44.5-2h0m47 1.5h0m-11 2h0m57 2.5h0m-27 0.5h0m25-1h0m-60.5-1h0m-4-4h0m37.5 5.5h0m-5.5-3.5h0m1.5 0h0m-9.5 3h0m-1-0.5h0m-30-5h0m73.5 7h0m-2.5 0.5h0m-33-2h0m-58.5-5h0m34.5 1.5h0m21 2.5h0m9.5-1h0m-50.5-5h0m58 7h0" stroke="#d81010" stroke-width="1.4" stroke-linecap="square"/><path d="M522.5 401.5h0m43 3.5h0m12 1h0m-48.5-4h0m64 4h0m-63.5-6h0m-7-1h0m1-0.5h0m52.5 5h0m0.5 1.5h0m-49.5-5.5h0m59 7h0m-21.5-4h0m-29-3h0m85 10h0m-70-5h0m-23-4.5h0m55 4.5h0m9 0.5h0m-21-1h0m8 1h0m-22-3h0m61.5 7h0m-93-9.5h0m0 2.5h0m21.5 1h0m-8-1.5h0m-14.5-1.5h0m3.5 1.5h0m44 4h0m-47-4.5h0m-2-2.5h0m35.5 4.5h0m-14-1h0m-10.5-2h0m-2.5 2h0m-6 0h0m20.5 0.5h0m3.5 1.5h0m-22.5-2.5h0m5 0h0m-5.5-2h0m22.5 1h0m41.5 4h0m-67.5-5h0m17.5 0.5h0m18 3h0m59 5h0m-86-8.5h0m83 9h0m-64.5-5h0m57.5 3.5h0m-72.5-7h0m5.5 3.5h0m64.5 5h0m-58-8h0m-22-2h0m24.5 6h0m-26-5h0m58.5 4.5h0m-43-1h0m10.5-1h0m72 6h0m-58.5-6h0m14.5 4h0m-35.5-3.5h0m-18.5-0.5h0m62 3.5h0m-32-1.5h0m-25-3h0m32 3h0m-37.5-4.5h0m26 2.5h0m10 0.5h0m-4 0h0m-31.5-4h0m0.5 0.5h0m6.5 3.5h0m50 3h0m-44-5h0m6.5 1.5h0m-18.5-1h0m61.5 4.5h0m32 4h0m-51-7h0m18.5 2.5h0m-50.5-5.5h0m16.5 3h0m-27.5 0h0m32.5 0.5h0m58.5 6h0m-37-5.5h0m-45-2h0m29.5 2h0m-37.5-2h0m67.5 6h0m-67-8.5h0m70.5 6.5h0m16 1h0m-70-5h0m-12 1h0m-6.5-3h0m21 3h0m-20.5-3h0m-0.5 0.5h0m81.5 8h0m-64-6.5h0m-10.5-1h0m22 3h0m-21-2.5h0m-8.5 0.5h0m4-2h0m13 1h0m-15.5-1h0m76.5 7.5h0m-67-5h0m17 2h0m6.5-2h0m39.5 6h0m-47.5-4.5h0m53 5h0m-79-6h0m23 1.5h0m8-0.5h0m1-2h0m-4.5 1h0m75.5 7h0m-44.5-3.5h0m-55-6.5h0m48.5 6h0m-33-3.5h0m-6-0.5h0m28.5 1h0m22.5 3h0m-62.5-5h0m15.5 2.5h0m75 5h0m4 0h0m-75.5-5.5h0m-17-2h0m-3.5 0.5h0m-0.5 0.5h0m84 6.5h0m-64.5-6h0m-19.5-4h0m9 2h0m16 1h0m44.5 6h0m-42-3h0m13 0.5h0m0-2h0m-16 0.5h0m59 4.5h0m-73-8h0m11 2.5h0m13 1h0m-33-1.5h0m-1-2h0m3 2.5h0m7.5-1.5h0m-10 1h0m64.5 4h0m-44.5-3.5h0m-17.5 0h0m66 6h0m-69.5-8h0m2 0h0m-2 0h0m0.5 1h0m2-2.5h0m31 4.5h0m-33.5-3.5h0m42 5h0m-41.5-4h0m101.5 8h0m-100-9.5h0m32 3h0m33 5h0m-25.5-2.5h0m9.5 0.5h0m-32.5-3.5h0m-14.5-0.5h0m-3 0.5h0m73.5 5.5h0m-59-4h0m-15-2.5h0m35 4.5h0m25 0.5h0m-59.5-5h0m0.5-0.5h0m67 5h0m-9.5 0h0m-34-2h0m-25-3h0m4-0.5h0m57.5 6.5h0m-29-4h0m24.5 2.5h0m-56.5-2.5h0m20 1h0m53.5 4.5h0m3.5 0h0m-75-8h0m59 6h0m-60.5-3h0m40 0.5h0m-32.5-1.5h0m-6.5-2h0m3-0.5h0m10.5 3h0m-9.5-2h0m50 5.5h0m4.5 0h0m-49-4.5h0m-6.5 0.5h0m5-1.5h0m43 3.5h0m-11.5-0.5h0m-24-2h0m-15.5 0.5h0m12 0.5h0m14 0h0m20.5 3.5h0m47 4.5h0m-95-8.5h0m87 6.5h0m-87-6.5h0m0 0.5h0m12-2.5h0m23 4h0m13.5 0.5h0m42.5 3.5h0m-52.5-3.5h0m-36-4h0m61 6.5h0m-64-6.5h0m24 3.5h0m-22-1h0m2.5 0h0m-2.5-4h0m58 7.5h0m-46.5-5h0m11 0.5h0m-24 0.5h0m6-2.5h0m79 8.5h0m10 1h0m-61-4.5h0m54 3.5h0m-83-7h0m-4.5 1h0m6-3h0m57 5.5h0m13.5 1.5h0m-47-4h0m65.5 6.5h0m-37.5-4h0m36.5 4h0m-76-7h0m-19 0.5h0m0.5-2.5h0m102 9.5h0m-98.5-7.5h0m90 7h0m-94-9.5h0m5 3.5h0m38.5 0.5h0m-43-4.5h0m20 4h0m60.5 5.5h0m11 0h0m-8-0.5h0m-81-8h0m74 8.5h0m-74-6.5h0m33 3h0m-35-6h0m43 5h0m-8.5-1h0m-8.5 2h0m-6-3h0m1-1h0m59.5 6h0m-60-6.5h0m64 8.5h0m-81.5-8.5h0m-3.5-1h0m20 3h0m2.5 0.5h0m22.5 3h0m53 3h0m-79.5-7.5h0m-19 0.5h0m31.5 2h0m4 0.5h0m-8-0.5h0m-7.5-2h0m-8.5-0.5h0m-8-1.5h0m8.5 0.5h0m-5.5 2h0m-5-2h0m2.5 2h0m2 0h0m10.5 0h0m-15-3.5h0m0 0.5h0m1 1.5h0m100 8h0m-78-7h0m36.5 4.5h0m-31.5-3.5h0m-15.5-2h0m-13.5-1.5h0m20 2.5h0m-2.5 1h0m-7-1.5h0m78 7.5h0m-89-6.5h0m76 3.5h0m-73-5.5h0m37 5h0m20 1h0m-16.5-2h0m9.5-0.5h0m-40.5-1.5h0m25.5 3h0m-36-6h0m7.5 1.5h0m21 1h0m-30 0h0m3.5 0h0m3 0.5h0m32.5 2.5h0m-22-4h0m-6.5 0.5h0m85 8h0m-93.5-6.5h0m49 1.5h0m39 3.5h0m-90-6h0m0.5 0.5h0m77 5h0m-78-6.5h0m57.5 6h0m-52-4.5h0m35.5 0.5h0m-33-0.5h0m-1.5-1.5h0m-5-1.5h0m-1.5 0.5h0m74.5 8h0m-54-7.5h0m6.5 3.5h0m-9.5-3.5h0m29.5 5.5h0m-13.5-3h0m5 1h0m-13.5-1.5h0m-17-0.5h0m19 0h0m-9.5 0.5h0m-12-0.5h0m-5.5-2.5h0m72 8h0m-52.5-3h0m67 2.5h0m-66-2.5h0m-4-1.5h0m-12.5 0h0m8-1h0m17 1.5h0m-27-3.5h0m11 2.5h0m-7.5-1h0m-1-1.5h0m79.5 7.5h0m-39-2h0m9-1h0m-39-4h0m-12.5 1.5h0m36 1.5h0m-32.5-3h0m-3.5 2.5h0m-2.5-2.5h0m2.5 2h0m3.5-2h0m45.5 5.5h0m-50-5h0m8.5 1.5h0m53.5 2h0m-44.5-3h0m-10-1.5h0m84 10h0m-33.5-2.5h0m-39.5-4h0m51 2.5h0m-2.5 2h0m-10.5-1.5h0m0.5-0.5h0" stroke="#680000" stroke-width="1.3" stroke-linecap="square"/><path d="M580 408.5h0m-25.5-8h0m5-0.5h0m-4 1.5h0m-13.5 1h0m27.5 5h0m30 0.5h0m-62-8.5h0m-4-2.5h0m58.5 11.5h0m-64-10h0m15 5.5h0m-3.5 0h0m45.5 5h0m-61-12.5h0m31.5 5.5h0m-8.5 3h0m-16-2h0m37.5-1.5h0m37.5 6.5h0m-81-10h0m51.5 5.5h0m-47.5-1.5h0m75.5 5h0m-23-3h0m-29 0.5h0m22.5 1.5h0m-45.5-9.5h0m27 7h0m-15.5-4h0m-8 3h0m12-2.5h0m-5.5-1.5h0m58 9h0m-72-5.5h0m15.5 1h0m5.5 2.5h0m24 0h0m-37.5-1.5h0m58.5 1.5h0m-55-6.5h0m35.5 5.5h0m-24-3h0m9.5 1h0m10.5 3h0m2.5 1.5h0m-10.5-0.5h0m29.5 2.5h0m3.5 0h0m-36.5-3.5h0m7.5-4h0m8 3h0m4.5 2.5h0m-30-6h0m-21-5.5h0m9 5h0m60.5 9.5h0m-9-1h0m-23-8.5h0m-12.5 2.5h0m26.5 0.5h0m-38.5 1h0m-13-3.5h0m75 5h0m-73.5-8.5h0m33.5 8h0m-0.5-0.5h0m9 1.5h0m12 0h0m-53.5-8h0m18.5 3.5h0m27 0.5h0m-41.5 0h0m18 0.5h0m-18.5-7h0m22 7.5h0m-10.5-6h0m0.5 5h0m39.5 4h0m-4-1.5h0m-15 0.5h0m19-2h0m-45-6.5h0m15.5 6h0m25.5-0.5h0m-12 1.5h0m39 6h0m-64.5-7h0m50.5 6.5h0m-3.5-4h0m-48.5-5h0m23.5 0.5h0m-32.5 2.5h0m15 1h0m1-3.5h0m-10.5-3h0m-9 2h0m70.5 6.5h0m-19-2.5h0m-46.5-6.5h0m43 7h0m21.5 2.5h0m-55.5-7.5h0m23.5 7h0m-39.5-9.5h0m20 2h0m5.5 0.5h0m42.5 9.5h0m-21.5-5h0m-48.5-7.5h0m25 7h0m-24-5h0m6.5 1h0m5 4.5h0m43.5 2.5h0m-26-4.5h0m5 3h0m-17.5-3h0m-11 1h0m34.5 4h0m-15-2h0m9-4h0m-29 1.5h0m34 1.5h0m8.5 2.5h0m-3.5-3.5h0m-31 1h0m46.5 3h0m15 3h0m-25-4.5h0m-28.5-2.5h0m21 4h0m-24.5-9.5h0m27 3.5h0m-15.5 4h0m-28.5-8.5h0m9.5 4.5h0m47.5 3h0m-53.5-1h0m73 3h0m-8.5-0.5h0m-69.5-8.5h0m5 3h0m-4.5 1.5h0m37.5 4h0m-1-0.5h0m-3.5-3.5h0m-26.5-3.5h0m-7 0h0m49.5 9.5h0m-41-6h0m53.5 4h0m-60.5-7.5h0m-1.5 2h0m16-2h0m33.5 4.5h0m-49.5-6.5h0m48.5 10.5h0m-24-8h0m-20 2.5h0m65 6h0m-59.5-7h0m21-0.5h0m-30.5 1.5h0m37 3.5h0m-12 0h0m-3.5-2h0m24 3.5h0m35 2.5h0m-17-2.5h0m6.5-0.5h0m-6 4h0m-25-4.5h0m-32-8.5h0m41.5 11h0m-24.5-9h0m20.5 5h0m-32.5-1h0m-5-6.5h0m66.5 12.5h0m-35.5-3h0m-32-6h0m56.5 5h0m-44-5h0m18 6.5h0m46 0.5h0m-76-10.5h0m67.5 13h0m-34.5-8.5h0m-34.5 0.5h0m65.5 5h0m-11.5-2h0m-32-1h0m2.5-3.5h0m42.5 6h0m-56.5-7h0m-11.5 3.5h0m54.5 3.5h0m-43.5-5.5h0m-2.5 2.5h0m39 3.5h0m0-0.5h0m-17-3h0m19.5 3.5h0m13.5 1h0m-61.5-5h0m-6-5.5h0m-0.5 4.5h0m27.5-0.5h0m54.5 7h0m-79.5-12h0m79 11.5h0m-47.5-3h0m-3 0.5h0m-4.5 1h0m30 1h0m-37.5-6h0m38 4.5h0m-20-4h0m24.5 5h0m-31-6h0m-29.5-5h0m35.5 9h0m20 1.5h0m-20.5-3h0m-34.5-1.5h0m24.5 2.5h0m39.5 3.5h0m-37.5-5.5h0m-26-2.5h0m5-2h0m23.5 4h0m-25.5-4h0m72 10h0m-70.5-6.5h0m24 4.5h0m12.5-2.5h0m-32-2h0m3.5-1.5h0m59 7h0m-18.5 2h0m-50-8h0m18 1.5h0m2-2h0m11 0.5h0m-11.5 2.5h0m35.5 1h0m-19.5-1h0m-33-5.5h0m2 1.5h0m18.5 5h0m32 3h0m-14 0.5h0m-40-5h0m40 4h0m-15-6h0m7.5 7h0m32.5 2h0m-28.5-5h0m-15.5 1h0m17 1h0m-5-3h0m1-1.5h0m-38.5 0.5h0m47 5.5h0m19.5-1.5h0m-1.5 2h0m8.5 2h0m-47.5-5.5h0m23 0h0m2 0h0m9 3.5h0m-30.5-6h0m45 8h0m-58-8h0m6.5 3h0m4-3h0m-11 2h0m35 2.5h0m-15.5-3.5h0m16 1.5h0m-48-7h0m41.5 4h0m-13 0h0m43 4h0m-59.5-5.5h0m2.5 1h0m63 8.5h0m-76.5-10.5h0m30.5 3.5h0m-2.5 2.5h0m10.5-2h0m36.5 8h0m-80.5-13h0m5-1.5h0m57.5 7h0m-35.5 0h0m12.5-0.5h0m-40-1.5h0m17-3h0m2 2.5h0m1 4h0m32 1h0m3.5-1h0m-55-3.5h0m20 1h0m30 0h0m12 3h0m-29.5-3.5h0m39 5.5h0m-51-8h0m6.5 1h0m39 7.5h0m-11-1.5h0m-17.5-1h0m14-2.5h0m19.5 5.5h0m8.5 1h0m-79.5-14.5h0m45.5 7h0m-5 2.5h0m2.5-3h0m14.5 3h0m-38.5 0h0m8-2.5h0m-14-1h0m64.5 8.5h0m-59.5-5.5h0m43 0.5h0m13 3.5h0m-74-9h0m34.5 6h0m40.5 1.5h0m-38.5-5h0m-30-5h0m58 7.5h0m-14 3.5h0m4.5-1.5h0m-1-0.5h0m-55-10.5h0m52.5 9.5h0m-48.5-5h0m-2-0.5h0m48 7h0m-8-1h0m30.5 3.5h0m-61.5-6.5h0m9-0.5h0m-14 1h0m10.5 2h0m30 0h0m-35-3h0m8.5 2.5h0m34 2.5h0m-39.5-2.5h0m31 1.5h0m-15-0.5h0m2-3.5h0m-27.5 1.5h0m24 1.5h0m15-1h0m23 2.5h0m-21-0.5h0m19 0h0m-14-1h0m30 3h0m-48.5-2h0m32-1.5h0m-32-1h0m19.5 1h0m-20 0.5h0m-19-7h0m33 4h0m-20-1h0m24.5 2.5h0m21 4.5h0m-70.5-8.5h0m21.5 3h0m-13-4h0m35 8.5h0m-39.5-9.5h0m58 10.5h0m-14-4.5h0m-11 1h0m-10-2.5h0m11.5-1h0m-14 2.5h0m39.5 3h0m-3 0.5h0m0-0.5h0m-48-7h0m-10.5-3.5h0m38.5 8.5h0m1.5 0.5h0m-3.5-3h0m-30.5-5h0m-6.5 6h0m62 2.5h0m-40-3h0m25 5.5h0m15-3h0m8.5 2.5h0m-73.5-5h0m8-2.5h0m18 2h0m-15-3h0m9 2h0m55 8.5h0m3-0.5h0m4 1h0m-78-6h0m78.5 5.5h0m-76-7.5h0m17.5 0h0m-22-4h0m63.5 10h0m4-2.5h0m-55.5-6h0m12 4.5h0m-0.5-1h0m14 0h0m-6.5 2.5h0m-7.5-6h0m42 10h0m16-1h0m-76.5-5h0m-6.5-6h0m33.5 6.5h0m48.5 7.5h0m-34.5-6h0m-16.5-4.5h0m13 4h0m-34.5-4.5h0m30 4h0m-17 0h0m21.5-0.5h0m23.5 5h0m-32.5-5h0m4 1h0m42 4h0m-27.5-1h0m-20.5-6h0m-26-3.5h0m74.5 8.5h0m-20.5 0h0m-58-10.5h0m0.5 3.5h0m53.5 3.5h0m-54-5h0m59.5 9.5h0m-61-7h0m59.5 6h0m-25-3h0m20.5 2.5h0m22.5 1h0m-61.5-2.5h0m58 2h0m-20-1.5h0m-53.5-5.5h0m6.5 4h0m73.5 3.5h0m-36-1h0m-42.5-7h0m64.5 9.5h0m-61.5-7h0m62 8.5h0m-63.5-8h0m38 4.5h0m-13-6h0m-15-1.5h0m18.5 2h0m35.5 7h0m-65.5-6h0m73 8h0m-42-10.5h0m25.5 8h0m-30.5-6h0m-18-3h0m10 2h0m37 7.5h0m-50-7.5h0m10-1.5h0m39.5 6.5h0m-33.5-5h0m8 5h0m37.5 4.5h0m5.5-2h0m-24.5-6h0m0.5 6h0m23-1h0m4 1.5h0m-3.5-2.5h0m-54-3h0m-17-5h0m21.5 2h0m32.5 4.5h0m-15.5 1.5h0m-21.5-6h0m-11.5-0.5h0m41 3.5h0m-50.5-1h0m4.5-2h0m7.5 2h0m-1.5 2h0m-6.5-8.5h0m45 7h0m29 5h0m-24 0h0m14.5 1.5h0m-19.5-7h0m-8.5-1.5h0m32 6h0m-58-5.5h0m62 6.5h0m-1.5 1.5h0m-46.5-9.5h0m31.5 7.5h0m-52-3.5h0m52.5 3.5h0m-40-2.5h0m58 5h0m-49-7h0m46.5 5h0m-66.5-7.5h0m-2.5-2.5h0m5 1.5h0m62 7.5h0m-69.5-3.5h0m36.5 2.5h0m-11-6h0m-22.5-1h0m69 8.5h0m-61-8h0m58 8.5h0m-37.5-7.5h0m-2 3.5h0m33.5 2h0m-6 0.5h0m-62-11h0m65 12h0m-23.5-6h0m-18-0.5h0m3.5 0.5h0m52.5 9.5h0m-41-10h0m-35-1h0m56.5 5.5h0m-50.5-1.5h0m16 0.5h0m28-1h0m-6.5 2.5h0m-43-7.5h0m53 10h0m-46-9.5h0m32.5 5.5h0m-41-5h0m17 2h0m47.5 6h0m16.5 4h0m-81-14.5h0m-1 5.5h0m62.5 3.5h0m-32.5-4h0m39.5 7.5h0m-28.5-8h0m-41 1h0m48 3h0m26 5h0m-21.5-2.5h0m-44.5-4h0m9.5-4.5h0m12.5 6h0m12-3h0m-38.5-2.5h0m58.5 8.5h0m0.5-1h0m0.5-3h0m-13 2h0m29.5 2h0m-74-11h0m55.5 8h0m-19 0h0m-37.5-2.5h0m22-1.5h0m12 3h0m36 6.5h0m-71-14h0m40.5 6h0m-45-3.5h0m-0.5 2.5h0m4-3.5h0m68 10h0m-8-3h0m-11 2h0m-5-2.5h0m-20.5-5.5h0m17.5 8.5h0m-35-7.5h0m68.5 7.5h0m-17-0.5h0m-61.5-6h0m6-1.5h0m-1.5 1h0m55 5h0m-47-7.5h0m37.5 8h0m-39-8h0m41 4h0m-19 3h0m18 3h0m-2.5-2h0m-19-2.5h0m34.5 1.5h0m-62.5-8h0m74.5 12.5h0m-14-3h0m-56-10h0m49.5 8.5h0m-35-1.5h0m31 2.5h0m10 1h0m-57-9.5h0m66 10.5h0m-58-7.5h0m21.5-0.5h0m-26.5-3.5h0m24 7h0m-24.5-5.5h0m40 3.5h0m-35.5 1.5h0m41.5 5h0m-46-11h0m24.5 8h0m-9.5-6.5h0m22.5 4h0m3.5 1.5h0m-39-8h0m60 13.5h0m0-2.5h0m14.5 1.5h0m-16.5-0.5h0m-10.5-4h0m-42-2h0m28-0.5h0m1 5h0m-1.5 0.5h0m39.5 4h0m-49-10h0m-31-2.5h0m32 2h0m32 6.5h0m-51.5-7h0m-13.5-3h0m78 13h0m-60-10h0m-14-0.5h0m14.5 0h0m50 6.5h0m-68-6.5h0m59.5 4.5h0m-33.5-4h0m-2.5 2h0m23 0h0m-44.5-6h0m18 9h0m8-1h0m49 4h0m-15-3.5h0m-59.5-8.5h0m53.5 12.5h0m21-1h0m-6 2h0m-48-8.5h0m0 3h0m16.5 2.5h0m14 0.5h0m27.5 3h0m-76.5-10.5h0m72 8h0m2 2.5h0m-21.5-2.5h0m-35-4h0m29 3h0m-49-6h0m31 2h0m-28-4.5h0m45.5 7h0m-33.5-5h0m45.5 4h0m0.5 0h0m-61-8h0m28.5 9.5h0m41.5 3h0m6 2h0m-62-11h0m18 1h0m2 2h0m-19-5h0m21 8.5h0m-16.5-4h0" stroke="#b8b818" stroke-width="1.4" stroke-linecap="square"/><path d="M554.5 403.5h0m-31.5-6.5h0m3 0h0m28.5 6h0m-24-4h0m-1 0h0m31 3h0m-24-0.5h0m-13-4h0m1 2.5h0m15-1.5h0m30 7.5h0m-38.5-6h0m-7-3h0m38 7.5h0m39.5 3h0m-41.5-5h0m-36-2h0m-1.5-0.5h0m1 0h0m1-1h0m-2 0.5h0m8 1h0m13.5 2.5h0m-15.5-5.5h0m5.5 2.5h0m-10-1h0m5.5 3h0m36 0h0m-35.5-3.5h0m9 3h0m57.5 4.5h0m-49.5-2.5h0m-0.5-3.5h0m-10-0.5h0m28 3h0m-41-4h0m5.5 1.5h0m50.5 6h0m-56.5-5h0m31 1.5h0m-28.5-5.5h0m2 5h0m16.5-0.5h0m13.5 3h0m-15.5-2h0m-12.5-3.5h0m66.5 7.5h0m-64.5-5h0m50 5h0m-49.5-5.5h0m-1-3.5h0m54 10h0m-21-3.5h0m41 4h0m-77-10h0m73 10.5h0m-12.5-0.5h0m-40-4h0m-23.5-4.5h0m59 5h0m-61-8h0m45 9.5h0m-33.5-7.5h0m0 1.5h0m27.5 2.5h0m-38.5-2h0m9-0.5h0m-10-3h0m56.5 9.5h0m-33-4.5h0m-23.5-0.5h0m4.5-4.5h0m51.5 8.5h0m-23-4.5h0m-20.5-0.5h0m24.5 4h0m-36-4.5h0m81.5 10h0m-38.5-6h0m-20-4h0m6 2.5h0m7.5 2.5h0m-18-4h0m38.5 6h0m-57.5-7.5h0m62.5 8h0m-61.5-7.5h0m11-1.5h0m-4 2.5h0m12.5-1.5h0m-1.5 0.5h0m-17.5 1h0m43 3h0m17 1h0m-25.5-1h0m0-1.5h0m-36-4h0m54 8.5h0m-34.5-5h0m-3-0.5h0m51 7h0m-66.5-8h0m0.5-3.5h0m26.5 4h0m-8 0h0m2-0.5h0m-21.5-1.5h0m-0.5-2h0m70 10.5h0m-64-7h0m47 3.5h0m-26.5-3h0m-19-2h0m-8-2h0m3 0.5h0m-2 3h0m0 0.5h0m-0.5-3h0m48.5 8.5h0m-1-3h0m-48-2.5h0m50.5 4h0m-50-4h0m3.5 0.5h0m30.5 0.5h0m14.5 1h0m-46.5-6h0m-0.5 3h0m-1.5-3h0m73 9h0m-65-4.5h0m10-1.5h0m-14.5-1h0m-3.5-0.5h0m-0.5 1.5h0m2.5 0h0m64 6.5h0m12.5 3h0m-76-10.5h0m36 5h0m-13-2h0m50 7h0m-67.5-8.5h0m-5.5 0h0m-2-4h0m0 4.5h0m0-3.5h0m38 5.5h0m-39-3.5h0m1 0.5h0m26.5 3h0m52 5.5h0m-56.5-6h0m36.5 4.5h0m-59-10h0m16 3h0m-14.5-3.5h0m15.5 6h0m-4-3h0m-13 1h0m11-1h0m-11-3h0m79 13h0m-0.5-0.5h0m-52-9h0m-26-3h0m40.5 7.5h0m-1.5-1h0m-35-5.5h0m27 5h0m-15.5-2.5h0m-5 0h0m-6.5-2.5h0m-4.5 2h0m17.5 0.5h0m-17 0.5h0m-1 0h0m35.5 0h0m-25.5-2h0m-8.5-0.5h0m-1 2.5h0m44 2h0m6 3h0m-16.5-3h0m-29.5-3h0m55.5 6h0m15.5 3.5h0m-62.5-11h0m-2.5 2.5h0m-0.5-1h0m-10-1.5h0m60 8h0m-21-3h0m-38-5.5h0m16.5 4.5h0m18 0h0m1 0.5h0m-20-4h0m2.5 2.5h0m-1-2.5h0m11 4h0m50.5 6h0m-79.5-8h0m56.5 5h0m-13 0h0m21.5 1h0m-64.5-7.5h0m8.5 1h0m25 3.5h0m-1.5-1.5h0m35.5 6h0m-62-8h0m-6-1h0m15.5-0.5h0m8.5 1h0m-19.5-1.5h0m21.5 1.5h0m-16 0.5h0m14.5 0h0m-24-2.5h0m7 1.5h0m39 5.5h0m-17.5-2h0m-15.5-2.5h0m44.5 4.5h0m-1 0.5h0m-51.5-4h0m77.5 7.5h0m-79.5-11h0m-3-1h0m0 2.5h0m0-2h0" stroke="#707000" stroke-width="1.3" stroke-linecap="square"/><path d="M568.5 401h0m41.5 1.5h0m-61.5-11.5h0m15 5h0m-25.5-0.5h0m49.5 5h0m18 4.5h0m-82-13.5h0m96 12.5h0m-80-15.5h0m63.5 14h0m27 3.5h0m-44-8.5h0m-22.5-1.5h0m24 4h0m-32 0.5h0m-22-8.5h0m15 4h0m2-5.5h0m-24 7h0m34.5-5h0m29 10.5h0m-5.5-2.5h0m-54-2.5h0m12-7.5h0m24.5 6h0m-3-1.5h0m-39.5 3h0m8-1h0m78.5 5.5h0m-75-12.5h0m98 17h0m-110.5-17.5h0m4.5 3.5h0m92 9.5h0m-59.5-4.5h0m31 6.5h0m39.5 0.5h0m-98.5-6h0m69.5-0.5h0m-27.5-4h0m57.5 10h0m-88.5-15h0m-1.5 10h0m69.5 5.5h0m-29.5-4.5h0m21.5 4h0m-41-3.5h0m-26.5-12.5h0m28.5 11.5h0m18.5-0.5h0m-26.5-9.5h0m-6 6h0m44.5 1h0m27 5.5h0m-66.5-10h0m58 14.5h0m21-0.5h0m-18-3.5h0m14 2.5h0m-21.5-0.5h0m-31-4h0m55 6h0m-20.5-0.5h0m7.5-4h0m-61.5-12h0m0.5-0.5h0m-15 10h0m70 5.5h0m-75-16h0m88 15.5h0m-5-1.5h0m-61.5-1h0m59.5 0.5h0m10.5 3.5h0m-69.5-14.5h0m38.5 6.5h0m14 3h0m-16.5 0h0m-43-7.5h0m58.5 8h0m-46.5 1h0m-40.5-10.5h0m62.5 5h0m-56-2h0m56 6.5h0m-60.5-4h0m46-5h0m41.5 9.5h0m2.5 0.5h0m-8 1.5h0m-40.5-10h0m-24.5-2h0m70 9.5h0m-76.5-6.5h0m-1.5-6h0m94.5 15h0m-90.5-15.5h0m87.5 16h0m-40.5-9h0m48 12h0m-38-3.5h0m-37.5-7.5h0m-16 3h0m12-10.5h0m-25.5 2h0m33.5 0h0m2 3.5h0m-35.5-3.5h0m7-1.5h0m71 14.5h0m-37.5-2.5h0m47.5 2h0m20 4h0m-44.5-6h0m-33.5-1h0m-13-3h0m39-2h0m-30.5-3h0m10.5 10h0m-34.5-6.5h0m64.5 3h0m2.5 0.5h0m3 4h0m-73-4.5h0m23-0.5h0m74 4h0m4.5 1h0m-46.5-7h0m-59 0h0m61.5 5h0m-27.5-4h0m75.5 8.5h0m-53-4.5h0m-9.5-9h0m49.5 14h0m-71-12.5h0m-18 4.5h0m-7.5-1h0m95.5 5h0m-17-4h0m-57-9h0m39.5 7.5h0m-41.5-0.5h0m79 9.5h0m15 0h0m-105-16.5h0m58 8h0m-66 0h0m15.5 2.5h0m3-8.5h0m20-1.5h0m64.5 18h0m-74-16h0m15.5 5h0m47 4.5h0m-86-3h0m89 7.5h0m-85-12.5h0m10.5-4.5h0m37 9h0m52.5 8h0m-54.5-6.5h0m-53-9h0m66.5 6.5h0m-70-5.5h0m70.5 10h0m-11.5-7h0m33 11.5h0m-88.5-16.5h0m64.5 11h0m40.5 5h0m-109.5-17.5h0m68.5 8h0m-40.5-4.5h0m51 6.5h0m-22 3.5h0m-54.5-9.5h0m25.5 8.5h0m-24-12.5h0m30.5 8.5h0m-21.5-8.5h0m84 18.5h0m-2-0.5h0m-10-2h0m-3.5-3h0m-73.5-7h0m32.5-1.5h0m-14-0.5h0m-17.5-0.5h0m83 12h0m-44.5-11h0m-2 3.5h0m-6-3h0m50 9.5h0m-49-5.5h0m-39-2h0m42.5 5h0m28.5 4h0m-24.5-8h0m3.5 4h0m-10.5-8.5h0m5 9.5h0m-37.5-12h0m85 14.5h0m-68.5-3h0m-20.5-1.5h0m2.5-4.5h0m-1.5-3h0m51.5 9.5h0m-36.5-1.5h0m28.5 2.5h0m20 1h0m-55.5-8h0m-8.5-6h0m20 4h0m18 1.5h0m21 7.5h0m47.5 2.5h0m-97.5-6.5h0m66.5 3h0m17 5.5h0m-44.5-3h0m-45.5-6h0m38.5-3h0m51.5 7h0m-36-2h0m2-4.5h0m-31.5-2.5h0m41 9h0m-47.5-2h0m-25.5-1.5h0m0.5-10h0m95.5 18h0m-28.5-7.5h0m-26.5-4h0m45.5 10.5h0m-61-10h0m20 7.5h0m-33.5-4.5h0m62.5-1h0m-29.5-4.5h0m14 9.5h0m-2-7h0m-54.5 4h0m62.5-1.5h0m48 7.5h0m-34-4h0m-23.5-0.5h0m-8.5-3h0m13 0.5h0m11.5 0h0m-24.5-3.5h0m5 4h0m-25 2h0m73.5 4.5h0m-55-8h0m62 9.5h0m-33.5-1.5h0m-50-6.5h0m6.5 0h0m-13.5-9.5h0m12.5 4.5h0m64 9h0m-84.5-6.5h0m66.5 1.5h0m17 5h0m-13.5-3h0m8.5 1h0m-23.5 1h0m17-1h0m-72.5-3h0m53.5 6h0m-23.5-14h0m-12.5 9h0m-24 0.5h0m97 6.5h0m-87.5-16h0m89.5 18h0m-97.5-13h0m60 8.5h0m-46-6h0m12.5-0.5h0m-28-7.5h0m20 10h0m51 1.5h0m-3-2h0m35.5 7.5h0m-62-13.5h0m-36.5 6h0m55.5-2h0m46 8h0m-106.5-6.5h0m63-2h0m38.5 11h0m-79-12h0m25 0h0m-43.5-3h0m23 7.5h0m65.5 5h0m-56-12h0m-19-2.5h0m10.5 4.5h0m-25 0.5h0m76.5 8h0m-12 0.5h0m12-1h0m-63.5-12.5h0m20 7h0m5.5-4.5h0m43.5 11.5h0m-86-6.5h0m-1-7.5h0m108 18h0m-81-20h0m-15 11.5h0m70 1.5h0m-15.5-5h0m-63.5-4h0m73 8h0m-25 0h0m-14-6.5h0m18 7h0m25-2h0m-80-2.5h0m52-3h0m22 8.5h0m-58.5-8h0m70.5 8h0m-12-4h0m11 6h0m-70-7h0m-13.5-1h0m76 4h0m-69-12h0m15 12.5h0m31.5-2h0m27 6.5h0m-81-14.5h0m59 11.5h0m24-1h0m30 8h0m-111-13.5h0m61.5 6h0m-62.5-9.5h0m6 4.5h0m71 6h0m34.5 3.5h0m1 1h0m-13.5-2.5h0m-48.5-7h0m-21.5 1h0m54.5 3h0m-15-2.5h0m-19.5 2h0m-22.5-7h0m62.5 11h0m-85-13.5h0m85.5 15.5h0m-88.5-17.5h0m42.5 8.5h0m-12.5-2.5h0m26.5 3.5h0m-23.5 0h0m12.5-0.5h0m-7-7h0m6 0.5h0m43.5 14.5h0m-82.5-15h0m0 0h0m88 15.5h0m-80-12h0m64 4h0m-47.5-9.5h0m28.5 11h0m-53.5-7h0m-6.5 4.5h0m32-9h0m-7.5 6h0m60.5 11h0m-26.5-2h0m41-1h0m-84.5-12.5h0m30.5 11.5h0m-16-11.5h0m7.5 5h0m18.5-0.5h0m28 8h0m-8-2h0m5.5 1.5h0m-38.5-4.5h0m-1.5-5.5h0m-14.5-1.5h0m41.5 10.5h0m-51-5.5h0m35-2.5h0m47 10.5h0m-33.5-7h0m8 4h0m12 1h0m-31 1h0m0-1h0m7.5-3h0m-61-6h0m11.5 1.5h0m87.5 13h0m5.5 0h0m-106.5-17h0m19 1.5h0m80.5 13.5h0m-11.5-2.5h0m-51.5-1h0m59.5 5.5h0m-55.5-9.5h0m55 7.5h0m-75-5.5h0m-15-2h0m4-1h0m-4.5-0.5h0m32 4h0m25.5 1h0m-62-2.5h0m34.5-0.5h0m2.5 0h0m-4-7h0m-26 6h0m73 4.5h0m-33.5-7h0m-12.5 6h0m-32-6.5h0m34.5 2h0m0 3h0m62.5 7h0m11-0.5h0m-91-12h0m65.5 10.5h0m-48-3h0m28 1.5h0m46 4.5h0m2.5-1.5h0m-61-6.5h0m50.5 6.5h0m-104-12h0m92.5 11.5h0m20 3.5h0m-5.5-3h0m-45.5-10h0m-26.5 2h0m31 1.5h0m-15.5 3.5h0m29.5-1.5h0m-54-5h0m-17.5 2h0m47.5 2.5h0m-15-5.5h0m69.5 12h0m-38-5h0m-50.5-11h0m21.5 8.5h0m70.5 8h0m-70-12h0m-43-4.5h0m66.5 13.5h0m-21.5-12.5h0m25 9.5h0m30.5 2h0m-18.5-1.5h0m3.5-0.5h0m-81.5-2.5h0m87.5 3.5h0m-21.5-0.5h0m19-1h0m-57.5-1.5h0m51.5 1.5h0m-83.5-7.5h0m107 12.5h0m-89.5-6h0m6-11.5h0m8.5 12h0m31 1h0m13.5 2h0m-28.5-4.5h0m-24.5-10h0m51.5 14.5h0m-60-13.5h0m21 1h0m21 7.5h0m-2-2h0m2 0h0m-0.5 6.5h0m-48-4h0m12.5-5.5h0m-3 0.5h0m67.5 11h0m-14-9h0m2 4.5h0m-53-7h0m22.5-2h0m23.5 4h0m-64-7h0m38 1.5h0m-18 2h0m22 6.5h0m37.5 0.5h0m-64.5-2h0m21.5-0.5h0m-39 0.5h0m4.5-4.5h0m-3.5-2h0m112 16.5h0m-109-10.5h0m8-0.5h0m52.5 7.5h0m-18.5-10h0m14 4h0m-31 0.5h0m-22-1.5h0m23 4.5h0m-1-10.5h0m79 14h0m-44.5-7.5h0m1 2h0m-59.5-0.5h0m-3.5-3h0m93 11h0m-86-18h0m33 10.5h0m23 5h0m6.5-4h0m-46-4h0m-19-5.5h0m12.5 2.5h0m50.5 12h0m-34-13.5h0m64 12.5h0m-69-15.5h0m55.5 14.5h0m-57-4h0m-22-6.5h0m-3-2.5h0m11 3h0m51.5 9h0m-27-9h0m3 6.5h0m45.5 6.5h0m-61-10.5h0m84 9.5h0m-84-16h0m58 16h0m-58-8.5h0m6.5 5h0m26.5-4.5h0m-56.5-3.5h0m89.5 8h0m-53.5-1.5h0m-24-11h0m70.5 15h0m-15.5-5.5h0m43.5 7.5h0m-84.5-12.5h0m81.5 12h0m-71.5-5h0m4-7.5h0m-41 3.5h0m-2.5 0h0m18.5-4h0m1-1.5h0m90 16h0m-29.5-3h0m-66-16.5h0m19 13.5h0m-31.5-3h0m23.5 0.5h0m35-2.5h0m-57.5 3h0m13-1h0m84.5 5.5h0m-69.5-9.5h0m-17 6h0m80.5 1h0m-93-9.5h0m33.5 0h0m-27-3h0m19 9.5h0m63 4h0m18.5 1.5h0m8.5 2h0m-17.5 1.5h0m-88.5-18.5h0m77 16.5h0m-53-8h0m27-2.5h0m-41.5 5.5h0m43.5 2.5h0m-10-7.5h0m-24.5 5.5h0m58.5-0.5h0m8 1h0m4.5 5.5h0m-95-12.5h0m65 10.5h0m-20-10h0m17.5 5.5h0m-18.5-2h0m-20.5-2h0m45.5 3h0m-25.5 1h0m-11-9.5h0m22 13h0m-42-5.5h0m79.5 7h0m-70.5-16h0m31.5 5h0m-24 0.5h0m-24.5 4.5h0m33-0.5h0m17 0.5h0m5 1.5h0m-19.5-2.5h0m44 6.5h0m-54-5h0m-16-7.5h0m13.5 8.5h0m61.5 3h0m-26.5-6.5h0m38.5 10.5h0m-101.5-8.5h0m11-1h0m13.5-0.5h0m61.5 4.5h0m-67.5-10.5h0m93.5 13.5h0m-35-5h0m22.5 8h0m-78-18h0m60 13.5h0m-48-8.5h0m31 5.5h0m-18.5-6h0m-39.5 0.5h0m7.5-4h0m27.5 6h0m40.5 4h0m-9 1h0m9.5 2h0m-72.5-13.5h0m60 13h0m-31.5-7.5h0m-9-1.5h0m-25-6h0m-8.5 1.5h0m92.5 14.5h0m-53.5-11h0m-2-1.5h0m16 8h0m-52.5-10h0m104.5 17h0m4 0h0m-44-8.5h0m-3-3h0m51 12.5h0m-77.5-13h0m-21.5 4h0m43 0h0m44 8h0m-94.5-14h0m-5.5-2h0m46 10h0m-43-13h0m19.5 10h0m45.5 6h0m-66-11h0m9.5-3.5h0m25.5 10.5h0m-31-7h0m39 9h0m63.5 2.5h0m-101-7h0m32-4h0m5 2h0m62 10h0m-58.5-10h0m-26 5.5h0m-13-2h0m26.5-7.5h0m15.5 1.5h0m47 11.5h0m-41-8.5h0m-34-7h0m19.5 5h0m32 9h0m-12.5-6.5h0m-50 0.5h0m88.5 6.5h0m-58-12h0m-30 1.5h0m22.5-3h0m-17-0.5h0m3.5 3h0m2-3.5h0m49.5 10h0m-57-5h0m98 12.5h0m0.5 2h0m-109-18h0m22 4.5h0m-8-1h0m23.5 8h0m29.5-3.5h0m-39-6.5h0m61 12.5h0m-95.5-7h0m104 8.5h0m-23.5-4h0m-77-9h0m16-4.5h0m-10 1.5h0m84 16h0m-93-8h0m24.5-4h0m10.5 7h0m47.5 0h0m-72-5.5h0m6 4.5h0m54 3h0m3-5h0m15.5 4h0m-13-4h0m-41 0h0m-33 1h0m81.5 1.5h0m22 5.5h0m-87-6.5h0m20-9.5h0m-9.5 9h0m40.5 4h0m29 0h0m-7 2.5h0m-80-10.5h0m-5 0.5h0m49.5 6.5h0m-40.5-8.5h0m91.5 14h0m-91-11.5h0m-4-1h0m14.5 1h0m16.5 6h0m46.5 0h0m-57-1h0m-16-4.5h0m44-2.5h0m-54.5-1h0m108 12.5h0m-102-17.5h0m48.5 6.5h0m12.5 5h0m38.5 6h0m-83-13h0m70.5 13h0m-4.5-1.5h0m-65.5-11h0m29.5 7h0m7.5 2.5h0m-7-8.5h0m-41-1.5h0m83 13.5h0m-22-6.5h0m-16 4.5h0m-30-6h0m-23-0.5h0m-9-9h0m59.5 6h0m18.5 8.5h0m-56.5-10.5h0m59.5 9.5h0m30.5 4h0m-89-5h0m70 4h0m-74.5-11.5h0m83 10.5h0m-82.5-12.5h0m57 9h0m-42.5-3h0m7 5h0m56 4.5h0m-83-15h0m-5 5.5h0m-4-5h0m86.5 8h0m-73-1h0m58.5 3.5h0m-0.5 0.5h0m-64-6.5h0m11-2h0m41.5 7h0m19.5 3.5h0m27 1.5h0m-100-12.5h0m37 0.5h0m33.5 4.5h0m4.5 7h0m-52.5-16h0m47.5 8.5h0m-21.5 3.5h0m17.5 1h0m-34-6h0m-10-3.5h0m-30 4h0m41 3h0m-31-1h0m34.5-5h0m-1-2.5h0m60 11h0m-74-8h0m33 3.5h0m-29 2.5h0m67.5 4.5h0m-48.5-4h0m-15.5-2.5h0m62.5 4.5h0m-53.5-6.5h0m22.5 1.5h0m-5-3h0m11.5 8h0m-77.5-14h0m63.5 8h0m9 1.5h0m-52.5-4.5h0m50 8h0m-10-8.5h0m32 12.5h0m-9.5-5.5h0m20 4.5h0m-44.5-11h0m-8.5 6h0m-11.5-9h0m-19 5h0m91 8.5h0m-77-7.5h0m3.5-7h0m40 14h0m-12-8h0m-35.5 2.5h0m50-1h0m-44-0.5h0m77.5 7.5h0m-114.5-7.5h0m74 2.5h0m-5.5-2.5h0m-55.5-2.5h0m62 8h0m-61-15h0m29 4h0m-28.5 7h0m-0.5-9h0m7.5-1.5h0m16.5 5h0m27 2h0m-52.5 0.5h0m22 2h0m-4-5h0m16 1.5h0m-40 4h0m75 7h0m-22-12h0m-53-0.5h0m-6-1.5h0m114 13.5h0m-7.5 0h0m-77-10h0m4-5.5h0m82.5 15.5h0m-8.5-0.5h0m-73.5-4h0m-2.5-3.5h0m-25.5-3.5h0m68 5h0m26 7.5h0m-38.5-11h0m-38-4h0m66.5 12.5h0m-26.5-6h0m-18 0h0m-31.5-10h0m96 16.5h0m-109.5-9.5h0m1.5-5h0m26 5.5h0m34 5h0m0.5 3h0m-22.5-13h0m66 12.5h0m-10.5-1.5h0m-16.5 2h0m-64.5-5h0m36.5-1.5h0m44.5 7h0m-87-14h0m17 2h0m29 2h0m-42.5 0.5h0m-4.5-3h0m12 6.5h0m62 3h0m-76-6.5h0m71 9.5h0m29.5-0.5h0m-23 1h0m-62-10h0m80.5 12.5h0m-92.5-13.5h0m68.5 11.5h0m-4.5-7.5h0m33 6.5h0m-45-6.5h0m-27-5h0m45 10h0m-12.5-3h0m29 2.5h0m-78-3h0m-12.5-0.5h0m74.5 0h0m0.5 6.5h0m-47-14.5h0m76.5 15h0m-110-7h0m53.5-4.5h0m60 13.5h0m-80.5-15h0m55 10h0m-26-0.5h0m-25.5-7h0m8 6h0m64 3h0m-59.5-6h0m13 5h0m8-5.5h0m5 2.5h0m-48-12h0m-18.5-0.5h0m67 14h0m16.5 2h0m-17-1.5h0m39 5.5h0m-22-2h0m-13-6.5h0m-4.5 6h0m23 1h0m-50-7.5h0m67 7.5h0m-19.5-5h0m-40-1h0m17-4h0m10.5 7h0m-30-2.5h0m21.5 3h0m22 1h0m-86.5-14h0m49.5 5h0m36 7h0m-51-2h0m-34-9h0m15 7.5h0m-7.5-8h0m62 14.5h0m-1.5-4.5h0m-6-5h0m-61-8h0m29.5 4h0m65.5 15.5h0m7 0.5h0m-110-20h0m65 11h0m44 7h0m-74.5-4.5h0m-17.5-7h0m53 2.5h0m-4.5 4.5h0m5-3h0m-4.5-1h0m28.5 6h0m-74-11.5h0m10 8h0m-28-6.5h0m65 7h0m-69.5-8h0m57 8.5h0m23-1.5h0m-67-5.5h0m53.5 6.5h0m-9.5 2.5h0m-54-14.5h0m83.5 16.5h0m2.5 1.5h0m-34-8.5h0m34 5h0m-38.5-6h0m25 2h0m-68-8.5h0m103 14h0m-97.5-12h0m-0.5 0.5h0m75 12.5h0m-79.5-8h0m3-4.5h0m83.5 14h0m18-0.5h0m-80.5-12h0m7-4h0m-40 5h0m109 10h0m-23-4h0m-43.5-6h0m31.5 5h0m40.5 7h0m-60.5-6.5h0m-47.5-11h0m13 8h0m6.5-8h0m84.5 15.5h0m-93-9.5h0m-8.5-4h0m-4.5 4.5h0m30.5-6.5h0m2 11h0m-16-6h0m53 5.5h0m-69.5-9.5h0m111.5 15h0m-101-10.5h0m54 1.5h0m-7 3h0m-50.5-12.5h0m29.5 14.5h0m21 1.5h0m-53.5-5h0m46.5 4.5h0m12-2h0m-37.5-3.5h0m68.5 8.5h0m-97.5-11.5h0m111.5 12.5h0m-105-18.5h0m6.5 2.5h0m13-1h0m21.5 7h0m26.5 1h0m-19-1h0m46 9.5h0m7.5 0h0m-78-15h0m81 14.5h0m-51-10.5h0m-14.5 6h0m-46-8.5h0m11 5.5h0m23-6.5h0m-31.5-1h0m110 14.5h0m-92.5-12.5h0m55 11h0m39 1.5h0m-65-5.5h0m-9-9.5h0m59 12h0m-73-13h0m82.5 17h0m-81.5-6.5h0m-22.5-9h0m103.5 16.5h0m-105-17h0m52.5 8h0m42.5 3h0m-58.5-5.5h0m39 6h0m-28-10h0m49.5 11.5h0m-62.5-9h0m66 9.5h0m-27.5-4.5h0m5 4.5h0m-1.5-6h0m11.5 3h0m-39-4.5h0m10-2h0m9 2.5h0m-19.5 4h0m-47.5-11.5h0m46.5 3h0m-11 5h0m-6 3h0m70 6h0m-50-11.5h0m-46 1h0m17.5 2h0m54.5 3h0m-62.5-4.5h0m89.5 8.5h0m-15 1.5h0m-47.5-11h0m3 3.5h0m16 2h0m-31.5 0.5h0m69 5h0m-69-6h0m16 1.5h0m3-0.5h0m-42.5-7.5h0m3-2h0m7 3.5h0m7.5 0h0m-12-5.5h0m-6.5 4.5h0m86 11.5h0m-61.5-10h0m0.5-6h0m-17 8h0m-13.5-3.5h0m78.5 4h0m-68.5-1h0m34.5-2.5h0m-24 0.5h0m33-0.5h0m21 8h0m7-3.5h0m-34-7h0m44.5 12h0m-86.5-6h0m-6.5-1h0m48-3h0m-29.5-2.5h0m11-3.5h0m49 13.5h0m-54.5-7.5h0m58 9.5h0m-72-10.5h0m9.5-3h0m76.5 10.5h0m-76.5-11h0m-5 1.5h0m74 10h0m-40-0.5h0m66 5.5h0m-49.5-4h0m-56.5-3h0m105.5 5.5h0m-75-10.5h0m-34 4.5h0m32-0.5h0m28 4h0m-36-7.5h0m20.5 1h0m-24 1.5h0m-2.5-1h0m15.5 2h0m-37 0h0m0.5-8h0m14 4h0m86.5 12.5h0m-89.5-18.5h0m19 9h0m-26.5 2h0m49-5h0m-26-3h0m3 0h0m20 8h0m15.5 3.5h0m-32.5-12.5h0m-26.5 0h0m-0.5 2h0m95.5 12h0m-89-13h0m91 16h0m-51-7.5h0m23-2.5h0m-62-6.5h0m-13.5 6h0m53 4h0m43.5 1.5h0m4 0h0m-1.5 2.5h0m-24.5-7h0m-73-3.5h0m102.5 11h0m-105.5-13.5h0m73 12h0m-71.5-11.5h0m85 9h0m-7.5 1h0m-7.5-5h0m40 10.5h0m-31-5h0m4 0.5h0m-62.5-5h0m-11-1h0m62.5 0h0m12.5 5.5h0m-11.5-2h0m-49-3h0m49.5 2.5h0m-63-1h0m6.5 0.5h0m-8.5-11h0m95 17.5h0m-19-5h0m-66.5-11.5h0m33 13.5h0m-22.5-10h0m2.5 7h0m42 0h0m2 1.5h0m-14.5-1h0m-59.5-11h0m88 15.5h0m20 2h0m1-1.5h0m1-0.5h0m-28 0h0m-4.5-2.5h0m-12.5-6.5h0m-2.5 3h0m24.5 5.5h0m-68-12h0m67 8.5h0m-78-4.5h0m66.5 5.5h0m24.5 4.5h0m-88.5-9h0m83 8h0m-49-11.5h0m20 10h0m-56-6.5h0m24.5-4h0m-32.5 4.5h0m16-9.5h0m92.5 19h0m-60-12.5h0m37 7h0m-55-1h0m57.5 0h0m-24.5 3h0m-47-5h0m-10-7.5h0m-10-4h0m110 20h0m-31-5h0m-4 0.5h0m-29-7h0m-4 4h0m-13-1h0m-26-8.5h0m61.5 12.5h0m26.5 2.5h0m-66-12h0m68 12h0m10.5 1.5h0m-63.5-7h0m28.5 2h0m30 2.5h0m1-2.5h0m-92.5-5h0m0 1h0m102.5 8h0m-46.5-3.5h0m42 0h0m-4 1h0m-88-10.5h0m48 4h0m-50.5-6h0m15-1.5h0m5.5 10h0m73 4.5h0m2.5-0.5h0m-31 1h0m-76-16.5h0m11 3.5h0m17 4h0m49.5 3h0m-31 3h0m12.5-8h0m-35.5 6h0m92.5 8h0m-80.5-10h0m4.5-4.5h0m-1-1.5h0m-9.5-1.5h0m39 12h0m-29-6.5h0m13.5 1.5h0m38 6.5h0m-32-4.5h0m0-3h0m22 4h0m-62 0h0m96.5 8h0m-59-15h0m48.5 14h0m-73.5-17.5h0m66 12.5h0m-72-3.5h0m70 2h0m8.5 5.5h0m-12 0h0m-82-18.5h0m65 14h0m-73.5-14h0m32.5 4.5h0m36 11.5h0m23.5-3h0m-92-6h0m3.5 3.5h0m52.5-3h0m-46.5 2h0m69.5 2.5h0m-6 2.5h0m-36-4.5h0m47 3h0m-61-2h0m75 8.5h0m-18-5.5h0m-81-12.5h0m71.5 8h0m-16-2.5h0m49 10.5h0m-29-3.5h0m-64.5-14h0m40 4.5h0m-42.5 4.5h0m55 5.5h0m-50-11.5h0m42.5 4h0m34 8.5h0m-63-11h0m64.5 13h0m-3.5-3.5h0m-73.5-3h0m-10-6.5h0m89.5 14.5h0m-70.5-13h0m-20-1.5h0m78.5 11h0m-27-6.5h0m-54-1h0m111.5 10h0m-56-10.5h0m-54.5 0h0m106 12.5h0m-76.5-10h0m5 1.5h0m44.5 0.5h0m31.5 5.5h0m-106.5-11h0m73.5 10.5h0m9.5 0.5h0m-29.5-5.5h0m0-4.5h0m-35 3.5h0m19.5-7h0m-38.5-1h0m94 12h0m-31.5-5.5h0m-56.5-9.5h0m39 7h0m17.5 1h0m-38-5h0m-0.5 5.5h0m66 8h0m5-1.5h0m-65.5-3.5h0m27.5 4h0m-52-11.5h0m38 2h0m-38.5-5h0m44.5 4h0m30.5 12.5h0m-79.5-9.5h0m101 11.5h0m-83-11.5h0m-18 1.5h0m78.5 6.5h0m-38.5-4h0m53 3.5h0m-89-5h0m47.5 5h0m39 1h0m-0.5-3h0m-87-6h0m85.5 5.5h0m-60.5-8h0m16 7h0m49 3.5h0m-34.5-5.5h0m15.5 6h0m11 2.5h0m4.5-1h0m-84-10.5h0m-7 0h0m40 6.5h0m0.5-6.5h0m57 10h0m-96.5-14h0m99 12h0m-20.5 1.5h0m-55-7.5h0m87 10h0m-41-5.5h0m-51.5-1h0m-12-6.5h0m55.5 7.5h0m-65.5-9.5h0m33.5-2.5h0m-2 6.5h0m13 6h0m51.5-0.5h0m-25 1h0m-6.5 1.5h0m-62-9.5h0m22-3h0m72 12.5h0m-27.5-1.5h0m22 3.5h0m10 0h0m-20.5-1.5h0m-50.5-8.5h0m14.5-1.5h0m-34-3h0m20 1h0m4 9.5h0m50 0h0m-81-10.5h0m58.5 9.5h0m51 4h0m-34-5h0m-52.5-0.5h0m16 1.5h0m53 5.5h0m15 0h0m-60.5-3h0m-8.5-11h0m-34 2h0m103 13.5h0m-94.5-20h0m22 7.5h0m-27 0h0m18.5-7h0m81.5 17.5h0m-112-16.5h0m0.5-0.5h0m48.5 4h0m25 6.5h0m-31-2h0m-12-3h0m20.5 0.5h0m-44 2.5h0m32.5 2.5h0m20.5-1.5h0m-26-7.5h0m38 10.5h0m-49-9h0m82 11h0m10 2h0m-109-13.5h0m56.5 8.5h0m-15-6h0m57.5 13h0m-63.5-12h0m-41 0.5h0m38 3.5h0m4-1.5h0m-28.5-3.5h0m-6.5-6.5h0m95.5 17.5h0m-13-3.5h0m-11 3.5h0m-46-6.5h0m-10-10h0m-2 1h0m65.5 13.5h0m-67.5-14.5h0m19 13h0m-27.5-6.5h0m79 5.5h0m-29 0h0m49 3h0m-90.5-16h0m-5 4h0m77 9.5h0m-33 1h0m7.5-7.5h0m-53.5-6h0m38 9.5h0m-44.5-8.5h0m43 6h0m36.5 4h0m-21 2h0m-9.5-8.5h0m-39.5 5.5h0m25.5-4.5h0m19.5 9.5h0m14.5-6.5h0" stroke="#1a1ad0" stroke-width="1.4" stroke-linecap="square"/><path d="M523 394.5h0m60 7.5h0m-40-8.5h0m-8 3h0m79.5 8.5h0m-62.5-8h0m38 2h0m-2 0.5h0m-58.5-8.5h0m35 5h0m-7 3h0m-14-5h0m-20 1.5h0m90.5 10h0m-66.5-9.5h0m54 6.5h0m-54.5-4h0m-24-8h0m0 2h0m13 3.5h0m81 7h0m-91.5-5.5h0m-0.5-4h0m36.5 6.5h0m71.5 5h0m-87-11h0m7.5 4h0m29.5-1h0m-57.5 0h0m-3-3.5h0m2-2h0m-1 4.5h0m9 0.5h0m48 0h0m-51.5-2.5h0m98.5 12.5h0m-73.5-9.5h0m29.5 2.5h0m-34-3.5h0m-24 0h0m48-0.5h0m-44-0.5h0m28.5-1h0m-26.5-2h0m96 14h0m-16.5-2h0m-27-6.5h0m-20.5-1.5h0m-23-2h0m-4.5-0.5h0m-13 2.5h0m-0.5-2.5h0m36 4h0m40.5 3.5h0m31.5 5.5h0m-108-10.5h0m10-4h0m2 5.5h0m34.5 1h0m21 4h0m-58-4.5h0m0.5-3.5h0m60.5 4h0m-37.5-2h0m5-0.5h0m-37-0.5h0m38-2h0m44.5 11h0m7.5-0.5h0m-28-3h0m-53.5-4.5h0m62.5 4.5h0m42 6.5h0m-112.5-11.5h0m8.5-1h0m25 2.5h0m9.5-3h0m69 11.5h0m-106-14.5h0m8.5 0h0m80.5 15h0m-52-6h0m-43.5-8.5h0m56 8.5h0m5.5 0h0m-30.5-3.5h0m7.5 0.5h0m13 1h0m29 1.5h0m-80.5-5.5h0m39.5 5.5h0m-40.5-3h0m1-2h0m50 3.5h0m-48.5-2.5h0m90.5 8.5h0m0-2.5h0m7.5 2h0m-94.5-12h0m-5-1h0m-0.5 4h0m39.5-1h0m-33.5 2.5h0m-5-2.5h0m0-2.5h0m61 6h0m45.5 9h0m-88-9h0m8.5-3h0m18.5-0.5h0m-37.5-1.5h0m-5 3h0m3.5 1.5h0m24.5-4.5h0m14 3.5h0m-43 1h0m106 10.5h0m-109.5-12h0m75 7.5h0m-74-7h0m35.5 0h0m47 5.5h0m-74.5-7h0m-7-0.5h0m93.5 11.5h0m-83-14.5h0m73 12h0m-18-0.5h0m-60.5-6h0m2-5h0m36 8.5h0m42 2h0m-82-11h0m-2 6h0m44 1h0m-40.5-7h0m-6 3.5h0m1.5-0.5h0m24.5 4.5h0m-19.5-1.5h0m38-1.5h0m-27.5 0.5h0m-1.5-2h0m13 1h0m-10.5-2h0m26 1h0m-40.5 3h0m-4-1.5h0m0.5 1h0m4-3.5h0m51.5 6.5h0m-55-7.5h0m87 12.5h0m-84.5-12.5h0m8 4h0m26-1.5h0m-37-0.5h0m53 4.5h0m-45-7.5h0m-3.5 4.5h0m-4.5 0.5h0m92 9.5h0m-92.5-11.5h0m10.5 2.5h0m-4 0.5h0m43.5-1.5h0m-13-3h0m-1.5 3.5h0m-30 1h0m69.5 4h0m39 5.5h0m-85.5-8.5h0m-26.5-1.5h0m6.5-4h0m12 0.5h0m93.5 14.5h0m-90-11.5h0m-24-1h0m55 1h0m11.5 2.5h0m26.5 5h0m-92-11h0m57 9.5h0m53 3.5h0m-64.5-5.5h0m-21.5-3h0m35.5-0.5h0m-48-4h0m-9.5-1.5h0m40.5 2.5h0m44 9h0m5 1.5h0m13.5 2h0m-99.5-13h0m83.5 11h0m-73-13.5h0m-8 7h0m18.5-1h0m12 0.5h0m-19-6h0m49.5 11h0m39 4.5h0m-58-8h0m-49-8h0m39.5 5h0m-33 0h0m63 8h0m-71.5-8h0m37 4h0m-28.5-5h0m38.5 6.5h0m-41.5-6h0m2-3.5h0m40 4.5h0m-45.5 1h0m4.5-6.5h0m-3 3h0m-3 2h0m22 0.5h0m51 4.5h0m-56-9.5h0m-16.5 4.5h0m7.5 0h0m24.5-1.5h0m-23-0.5h0m40.5 6.5h0m-49-6.5h0m7 3.5h0m25-2.5h0m-2.5 2h0m56 7h0m-85.5-9h0m7.5-3.5h0m46.5 8h0m-37.5-4h0m-1.5 3h0m16-6h0m-15 0.5h0m22.5 5.5h0m-34.5-4h0m-4-0.5h0m32 4h0m29.5 3h0m-47-2.5h0m57 1.5h0m-52-1.5h0m-20.5-6.5h0m44.5 7h0m-44-3h0m22.5 0.5h0m-23-4h0m48.5 4h0m-48.5 0h0m1-4h0m23.5 5h0m24.5-1.5h0m-41 0h0m105.5 13h0m-90-15h0m-23 4h0m37.5 2h0m-37.5-3.5h0m21.5-4h0m-3 6h0m-18.5-3.5h0m111 11.5h0m-32-4h0m-4.5-1.5h0m8 1.5h0m-65-8.5h0m-15.5-2h0m43.5 8.5h0m14-1h0m-37.5-2.5h0m25-2h0m-23.5-1h0m-9.5-0.5h0m-14 1.5h0m17 3.5h0m3-4h0m-21 1h0m44.5-0.5h0m-3.5 5.5h0m53 2.5h0m-72-9.5h0m-15-2.5h0m5 1h0m14 4.5h0m28.5 3.5h0m-54-6.5h0m11.5-0.5h0m-1 0h0m58 9.5h0m-4.5-1h0m-49.5-9.5h0m29.5 6.5h0m-22-4.5h0m12-1h0m32 7.5h0m-65-5h0m104 11.5h0m-65-9h0m-40.5-6h0m2 5h0m-1-5.5h0m22 1.5h0m89 13.5h0m-53-5h0m33.5 4.5h0m-1.5-3h0m-73.5-4.5h0m22 1.5h0m41.5 5h0m-16.5-5h0m15 0.5h0m-70-7h0m4.5-2.5h0m20.5 7.5h0m-29-3.5h0m2 2h0m-5.5-5h0m71 11.5h0m-37.5-8h0m12.5 5h0m25.5-1h0m-61-4h0m18.5 4h0m-28-6.5h0m92 11.5h0m-70-12h0m9 4h0m-22-2.5h0m20.5 5h0m-32-4h0m13 3h0m-13-5.5h0m7.5 5h0m-3.5-3.5h0m6 3h0m91.5 7.5h0m-96.5-11.5h0m-5-1h0m108 16h0m-74-14.5h0m65.5 12h0m-84.5-7h0m37.5 3h0m-30.5-9.5h0m-16 6h0m4.5-1.5h0m-0.5-3.5h0m-9 1h0m57.5 3h0m-11.5-1.5h0m-42.5 2h0m98.5 7.5h0m-49.5-7.5h0m-54-6.5h0m104 15h0m-64.5-6h0m-8-7.5h0m-25 5.5h0m-6.5-3.5h0m45.5 4h0m-37-6.5h0m101 16.5h0m-109-16h0m73 9h0m10.5 1h0m-24-3h0m-59.5-7h0m52 7h0m-34.5-1.5h0m1-6h0m93 15.5h0m-109-12.5h0m-2.5 1h0m36 2.5h0m25-0.5h0m8.5 3h0m44.5 8h0m-58-11.5h0m-56-0.5h0m2.5 0.5h0m8.5-4h0m-6 2.5h0m33.5 1h0m-38 0.5h0m4.5-3.5h0m19.5-0.5h0m-13-2h0m-7.5 1.5h0m97.5 12h0m-94-11.5h0m20.5 4h0m24.5 1.5h0m-52.5-7.5h0m53.5 7h0m-47-2h0m-5.5-5.5h0m3 2h0m-0.5 2.5h0m70.5 8.5h0m36.5 2.5h0m-66-8.5h0m-44-3.5h0m-1 1.5h0m14.5-3.5h0m-14 3.5h0m39 1h0m45 7h0m-84.5-7.5h0m3-1.5h0m-2.5 0.5h0m30 1.5h0m-30.5-3.5h0m91 9h0m3 1h0m-57.5-9h0m-25.5-2h0m7.5 3h0m40 2.5h0m-58-1h0m14-4h0m35 3h0m52 10h0m-67-10.5h0m-7 2.5h0m-13.5-5h0m84 13.5h0m-98-14h0m104.5 15h0m-99-13.5h0m5.5 1.5h0m29 2.5h0m6.5-2h0m27 5.5h0m-72-7.5h0m8 2.5h0m-7-2h0m16.5 1h0m89 11.5h0m-27.5-3h0m-80-12.5h0m6.5 2.5h0m2 4h0m-6-5.5h0m4-0.5h0m-5.5 1.5h0m0.5 0h0m-1.5 3.5h0m-0.5-4h0m84 10h0m-84-10h0m0.5 0h0m5.5 3.5h0m43.5-0.5h0m-37.5-3h0m26 5h0m-37.5-3.5h0m26 3h0m-16.5-2h0m66 7h0m-32-7.5h0m-42.5 0.5h0m67.5 6.5h0m-52.5-8h0m6-2.5h0m18.5 8.5h0m-41-8.5h0m95 15h0m-56-12h0m-12.5-1.5h0m0 2h0m-15.5 2h0m66.5 7.5h0m-20-4h0m58.5 8.5h0m-115.5-17.5h0m4 3h0m30 1.5h0m-17.5-3h0m64 10h0m-80.5-8.5h0m28 1.5h0m-22-4h0m1.5 4.5h0m-2.5-4h0m7 2.5h0m49 7.5h0m-56.5-9.5h0m83 11.5h0m-76-9.5h0m84 9.5h0m-57.5-7h0m-21-3h0m59.5 9.5h0m-47-10.5h0m-13.5 1h0m-15 1.5h0" stroke="#0a0a80" stroke-width="1.3" stroke-linecap="square"/><path d="M529 396.5h0m-4.5-1h0m24.5 0.5h0m-11-2.5h0m8.5 0h0m-23 4h0m5-3h0m18.5 0h0m-21.5 4h0m7-4.5h0m16.5 5.5h0m-4-6.5h0m1.5 4.5h0m-14.5-2.5h0m8.5 4h0m5.5-6h0m-9 1.5h0m12.5 5.5h0m-8-3h0m-8.5-1h0m0-3.5h0m-4 2.5h0m-3.5 2h0m16.5-4.5h0m5.5 7h0m-1.5-4h0m-15-1.5h0m0.5 1.5h0m3-1h0m13 5h0m-18-3.5h0m6.5-3.5h0m0.5 0.5h0m-4 3.5h0m-2.5 1h0m-4-5h0m15-0.5h0m-13.5 2.5h0m9 0h0m-11.5 2h0m0.5 0h0m7.5-4h0m-4-0.5h0m20 2.5h0m-2 0.5h0m-21 2h0m18.5-3h0m-20.5-2.5h0m24 4.5h0m-5 4h0m1-0.5h0m-17-8h0m9.5 2h0m-1.5-0.5h0m-6 5h0m11.5-5h0m-7.5 3h0m-4.5-4h0m21 2.5h0m-24 1.5h0m-1-3.5h0m16.5 4.5h0m-6.5 0h0m3.5-1.5h0m4.5-1h0m-13-3h0m3 0.5h0m10.5 5.5h0m1.5-2.5h0m1 5h0m-7-0.5h0m-13-4h0m22-0.5h0m-19 2.5h0m15-3.5h0m-14.5 3.5h0m16.5-5h0m-0.5 1.5h0m-21.5 4h0m12.5 0h0m-9.5-2.5h0m2 0.5h0m8.5-1.5h0m-3-0.5h0m-7.5 2.5h0m1.5 0h0m6-3.5h0m-2.5 3.5h0m2.5 2h0m-8.5-6.5h0m16.5 5.5h0m6.5 0h0m-9.5 1h0m-5.5-2h0m-8-3.5h0m15 0.5h0m-6.5-0.5h0m0 3h0m-6 0.5h0m6.5-4h0m8 7h0m0-1.5h0m-12.5-2h0m3 0h0m13.5 2h0m-5.5-1h0m2.5 0.5h0m-11.5-3h0m-5.5 2.5h0m11.5-5h0m-0.5 5h0m0 2.5h0m3.5-6h0m-16-0.5h0m21.5 1h0m-10.5 0.5h0m-1 2h0m-8 1h0m8.5-5h0m-8 0h0m19 5h0m-19-4.5h0m20 7h0m-23.5-9h0m1 4.5h0m9 2.5h0m-4.5-1h0m13 1h0m-14 0h0m14-3h0m-17-2h0m3 5h0m-4-5h0m17.5 3.5h0m-18.5-4.5h0m14 6.5h0m3.5-5h0m-14 0.5h0m2.5 2.5h0m5.5 2.5h0m-6.5-1.5h0m0-4h0m5 3.5h0m-8.5-6h0m11 4.5h0m10.5 0.5h0m-18.5 2.5h0m6.5-2.5h0m-3.5-1h0m-6 2h0m23.5 0h0m-20.5-1h0m8-1.5h0m-6-2h0m18.5 7h0m-22-7.5h0m7.5 5.5h0m-8-3.5h0m8-0.5h0m2.5 4h0m5.5 0.5h0m-12.5-1.5h0m-3.5-0.5h0m10.5 0h0m-13-3h0m18.5 0.5h0m-6.5 3.5h0m3.5 0h0m1.5-1.5h0m4.5-3h0m-20.5 5.5h0m15.5-1.5h0m2 2h0m-0.5 0h0m-8.5-7h0m-9 3.5h0m2.5-2.5h0m7.5 1h0m2 3h0m-6.5-1h0m-0.5-4h0m10.5 4h0m-2 1h0m1 2h0m-3.5-1h0m2.5-3.5h0m-2.5 3.5h0m-1.5-5.5h0m13.5 2.5h0m-2 4.5h0m-10-6h0m-11.5 2.5h0m2.5 2.5h0m22.5 0h0m-21.5-4.5h0m8.5 3.5h0m-11-2h0m1.5 1h0m10 1.5h0m2-5h0" stroke="#b8b818" stroke-width="1.4" stroke-linecap="square"/><path d="M525 393h0m17.5 2.5h0m-17-1.5h0m1.5 2h0m3.5-1.5h0m-7 1.5h0m13 0.5h0m-11.5 0h0m14.5-1h0m-1.5 1h0m0-1.5h0m-13-1.5h0m17.5 1.5h0m-14 1.5h0m10-3h0m-15-0.5h0m0.5 3h0m19 1h0m1 1h0m-14.5-2.5h0m4.5 0.5h0m-5 1h0m2-1.5h0m-4-0.5h0m-1.5-0.5h0m4.5-1h0m11.5 0h0m5 1h0m-10.5-0.5h0m-5 1h0m8 0h0m-8 0.5h0m-5 1.5h0m0.5-2h0m8-0.5h0m-10 0h0m25 0h0m-23 2h0m10.5 1.5h0m-9-3h0m-4.5 0.5h0m0-0.5h0m1.5-2.5h0m7 5h0m-7-2.5h0m-1.5-1.5h0m1.5 0.5h0m23 1h0m-5.5-1h0m7 2h0m-20.5-1h0m14 0h0m-3 3h0m-16.5-5h0m0.5 0.5h0m18.5 4h0m-15-4h0m-4 0.5h0m0 2.5h0m7-3.5h0m-6 1h0m-1-1h0m18 3.5h0m-5.5-3h0m-4.5-0.5h0m-2 0h0" stroke="#707000" stroke-width="1.3" stroke-linecap="square"/><polyline points="639.09,408.57 644.07,409.27 648.06,410.68 653.03,409.98 657.02,409.27" stroke="#1a1ad0" stroke-width="0.6" fill="none" /><path d="M639 408.5h0m5 1h0m4 1h0m5-0.5h0m4-0.5h0" stroke="#1a1ad0" stroke-width="1.8" stroke-linecap="square"/><polyline points="611.21,408.57 621.17,409.27 631.13,410.68 641.09,411.74" stroke="#b0b010" stroke-width="0.6" fill="none" /><path d="M611 408.5h0m10 1h0m10 1h0m10 1h0" stroke="#b0b010" stroke-width="1.8" stroke-linecap="square"/><rect x="521.60" y="308.80" width="139.40" height="104.00" fill="none" stroke="#333" stroke-width="1.1" /><line x1="521.60" y1="412.80" x2="523.40" y2="412.80" stroke="#333" stroke-width="0.7" /><line x1="661.00" y1="412.80" x2="659.20" y2="412.80" stroke="#333" stroke-width="0.7" /><text x="520.2" y="415.3" font-size="7.7" text-anchor="end" fill="#333" textLength="3.58" lengthAdjust="spacingAndGlyphs" >2</text><line x1="521.60" y1="398.70" x2="523.40" y2="398.70" stroke="#333" stroke-width="0.7" /><line x1="661.00" y1="398.70" x2="659.20" y2="398.70" stroke="#333" stroke-width="0.7" /><text x="520.2" y="401.19830508474575" font-size="7.7" text-anchor="end" fill="#333" textLength="3.58" lengthAdjust="spacingAndGlyphs" >4</text><line x1="521.60" y1="384.60" x2="523.40" y2="384.60" stroke="#333" stroke-width="0.7" /><line x1="661.00" y1="384.60" x2="659.20" y2="384.60" stroke="#333" stroke-width="0.7" /><text x="520.2" y="387.09661016949156" font-size="7.7" text-anchor="end" fill="#333" textLength="3.58" lengthAdjust="spacingAndGlyphs" >6</text><line x1="521.60" y1="370.49" x2="523.40" y2="370.49" stroke="#333" stroke-width="0.7" /><line x1="661.00" y1="370.49" x2="659.20" y2="370.49" stroke="#333" stroke-width="0.7" /><text x="520.2" y="372.9949152542373" font-size="7.7" text-anchor="end" fill="#333" textLength="3.58" lengthAdjust="spacingAndGlyphs" >8</text><line x1="521.60" y1="356.39" x2="523.40" y2="356.39" stroke="#333" stroke-width="0.7" /><line x1="661.00" y1="356.39" x2="659.20" y2="356.39" stroke="#333" stroke-width="0.7" /><text x="520.2" y="358.89322033898304" font-size="7.7" text-anchor="end" fill="#333" textLength="7.16" lengthAdjust="spacingAndGlyphs" >10</text><line x1="521.60" y1="342.29" x2="523.40" y2="342.29" stroke="#333" stroke-width="0.7" /><line x1="661.00" y1="342.29" x2="659.20" y2="342.29" stroke="#333" stroke-width="0.7" /><text x="520.2" y="344.79152542372884" font-size="7.7" text-anchor="end" fill="#333" textLength="7.16" lengthAdjust="spacingAndGlyphs" >12</text><line x1="521.60" y1="328.19" x2="523.40" y2="328.19" stroke="#333" stroke-width="0.7" /><line x1="661.00" y1="328.19" x2="659.20" y2="328.19" stroke="#333" stroke-width="0.7" /><text x="520.2" y="330.6898305084746" font-size="7.7" text-anchor="end" fill="#333" textLength="7.16" lengthAdjust="spacingAndGlyphs" >14</text><line x1="521.60" y1="314.09" x2="523.40" y2="314.09" stroke="#333" stroke-width="0.7" /><line x1="661.00" y1="314.09" x2="659.20" y2="314.09" stroke="#333" stroke-width="0.7" /><text x="520.2" y="316.58813559322033" font-size="7.7" text-anchor="end" fill="#333" textLength="7.16" lengthAdjust="spacingAndGlyphs" >16</text><line x1="521.60" y1="412.80" x2="521.60" y2="411.00" stroke="#333" stroke-width="0.7" /><line x1="521.60" y1="308.80" x2="521.60" y2="310.60" stroke="#333" stroke-width="0.7" /><text x="521.6" y="420.2" font-size="7.7" text-anchor="middle" fill="#333" >0</text><line x1="541.51" y1="412.80" x2="541.51" y2="411.00" stroke="#333" stroke-width="0.7" /><line x1="541.51" y1="308.80" x2="541.51" y2="310.60" stroke="#333" stroke-width="0.7" /><text x="541.5142857142857" y="420.2" font-size="7.7" text-anchor="middle" fill="#333" >2</text><line x1="561.43" y1="412.80" x2="561.43" y2="411.00" stroke="#333" stroke-width="0.7" /><line x1="561.43" y1="308.80" x2="561.43" y2="310.60" stroke="#333" stroke-width="0.7" /><text x="561.4285714285714" y="420.2" font-size="7.7" text-anchor="middle" fill="#333" >4</text><line x1="581.34" y1="412.80" x2="581.34" y2="411.00" stroke="#333" stroke-width="0.7" /><line x1="581.34" y1="308.80" x2="581.34" y2="310.60" stroke="#333" stroke-width="0.7" /><text x="581.3428571428572" y="420.2" font-size="7.7" text-anchor="middle" fill="#333" >6</text><line x1="601.26" y1="412.80" x2="601.26" y2="411.00" stroke="#333" stroke-width="0.7" /><line x1="601.26" y1="308.80" x2="601.26" y2="310.60" stroke="#333" stroke-width="0.7" /><text x="601.2571428571429" y="420.2" font-size="7.7" text-anchor="middle" fill="#333" >8</text><line x1="621.17" y1="412.80" x2="621.17" y2="411.00" stroke="#333" stroke-width="0.7" /><line x1="621.17" y1="308.80" x2="621.17" y2="310.60" stroke="#333" stroke-width="0.7" /><text x="621.1714285714286" y="420.2" font-size="7.7" text-anchor="middle" fill="#333" >10</text><line x1="641.09" y1="412.80" x2="641.09" y2="411.00" stroke="#333" stroke-width="0.7" /><line x1="641.09" y1="308.80" x2="641.09" y2="310.60" stroke="#333" stroke-width="0.7" /><text x="641.0857142857143" y="420.2" font-size="7.7" text-anchor="middle" fill="#333" >12</text><line x1="661.00" y1="412.80" x2="661.00" y2="411.00" stroke="#333" stroke-width="0.7" /><line x1="661.00" y1="308.80" x2="661.00" y2="310.60" stroke="#333" stroke-width="0.7" /><text x="661.0" y="420.2" font-size="7.7" text-anchor="middle" fill="#333" >14</text><text x="591.3" y="428.40000000000003" font-size="8.6" text-anchor="middle" fill="#222" >&#916;E/eV</text><text x="507.6" y="362.7" font-size="8.0" text-anchor="middle" fill="#222" transform="rotate(-90 507.6 362.7)" textLength="64.6" lengthAdjust="spacingAndGlyphs" >Average Pt(Pt) CN</text><rect x="528.10" y="314.50" width="16.00" height="5.00" fill="#e01010" stroke="none" stroke-width="1" fill-opacity="0.12"/><line x1="528.10" y1="317.00" x2="544.10" y2="317.00" stroke="#e01010" stroke-width="0.5" /><circle cx="529.60" cy="317.00" r="1.20" fill="#e01010" /><circle cx="542.60" cy="317.00" r="1.20" fill="#e01010" /><text x="548.1" y="320.0" font-size="8.4" text-anchor="start" fill="#222" >Pt<tspan font-size="5.6" dy="2">13</tspan><tspan dy="-2">H</tspan><tspan font-size="5.6" dy="2">0</tspan></text><rect x="528.10" y="327.00" width="16.00" height="5.00" fill="#b0b010" stroke="none" stroke-width="1" fill-opacity="0.12"/><line x1="528.10" y1="329.50" x2="544.10" y2="329.50" stroke="#b0b010" stroke-width="0.5" /><circle cx="529.60" cy="329.50" r="1.20" fill="#b0b010" /><circle cx="542.60" cy="329.50" r="1.20" fill="#b0b010" /><text x="548.1" y="332.5" font-size="8.4" text-anchor="start" fill="#222" >Pt<tspan font-size="5.6" dy="2">13</tspan><tspan dy="-2">H</tspan><tspan font-size="5.6" dy="2">18</tspan></text><rect x="591.10" y="314.50" width="16.00" height="5.00" fill="#1010d0" stroke="none" stroke-width="1" fill-opacity="0.12"/><line x1="591.10" y1="317.00" x2="607.10" y2="317.00" stroke="#1010d0" stroke-width="0.5" /><circle cx="592.60" cy="317.00" r="1.20" fill="#1010d0" /><circle cx="605.60" cy="317.00" r="1.20" fill="#1010d0" /><text x="611.1" y="320.0" font-size="8.4" text-anchor="start" fill="#222" >Pt<tspan font-size="5.6" dy="2">13</tspan><tspan dy="-2">H</tspan><tspan font-size="5.6" dy="2">26</tspan></text><line x1="591.10" y1="329.50" x2="607.10" y2="329.50" stroke="#000" stroke-width="1.5" stroke-dasharray="1.5 1.3"/><text x="611.1" y="332.5" font-size="8.4" text-anchor="start" fill="#222" >bulk</text><line x1="521.60" y1="387.60" x2="548.00" y2="387.60" stroke="#000" stroke-width="0.9" />
</svg></body></html>
